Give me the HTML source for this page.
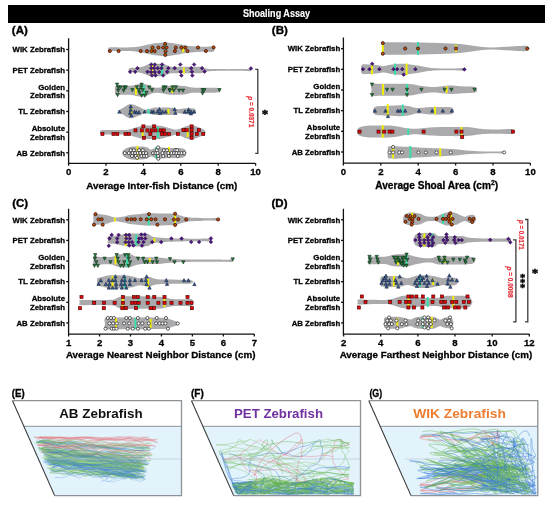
<!DOCTYPE html>
<html><head><meta charset="utf-8"><title>Shoaling Assay</title>
<style>html,body{margin:0;padding:0;background:#fff;width:550px;height:505px;overflow:hidden} svg{display:block}</style>
</head><body>
<svg width="550" height="505" viewBox="0 0 550 505">
<rect x="0" y="0" width="550" height="505" fill="#fff"/>
<rect x="8" y="5" width="537" height="18" fill="#000"/>
<text x="276.5" y="17.3" font-size="10.7" font-weight="bold" fill="#fff" stroke="#fff" stroke-width="0.15" text-anchor="middle" textLength="67.2" lengthAdjust="spacingAndGlyphs" font-family="'Liberation Sans', Arial, sans-serif" >Shoaling Assay</text>
<path d="M108.30,49.30 C108.47,49.00 107.35,47.80 109.30,47.50 C111.25,47.20 116.05,47.53 120.00,47.50 C123.95,47.47 129.55,47.50 133.00,47.30 C136.45,47.10 138.37,46.72 140.70,46.30 C143.03,45.88 145.12,45.22 147.00,44.80 C148.88,44.38 150.17,44.10 152.00,43.80 C153.83,43.50 155.83,43.23 158.00,43.00 C160.17,42.77 162.67,42.40 165.00,42.40 C167.33,42.40 169.83,42.72 172.00,43.00 C174.17,43.28 175.83,43.72 178.00,44.10 C180.17,44.48 183.00,44.97 185.00,45.30 C187.00,45.63 187.83,45.87 190.00,46.10 C192.17,46.33 195.33,46.58 198.00,46.70 C200.67,46.82 203.50,46.78 206.00,46.80 C208.50,46.82 211.53,46.38 213.00,46.80 C214.47,47.22 214.50,48.88 214.80,49.30 L214.80,49.30 C214.50,49.72 214.47,51.38 213.00,51.80 C211.53,52.22 208.50,51.78 206.00,51.80 C203.50,51.82 200.67,51.78 198.00,51.90 C195.33,52.02 192.17,52.27 190.00,52.50 C187.83,52.73 187.00,52.97 185.00,53.30 C183.00,53.63 180.17,54.12 178.00,54.50 C175.83,54.88 174.17,55.32 172.00,55.60 C169.83,55.88 167.33,56.20 165.00,56.20 C162.67,56.20 160.17,55.83 158.00,55.60 C155.83,55.37 153.83,55.10 152.00,54.80 C150.17,54.50 148.88,54.22 147.00,53.80 C145.12,53.38 143.03,52.72 140.70,52.30 C138.37,51.88 136.45,51.50 133.00,51.30 C129.55,51.10 123.95,51.13 120.00,51.10 C116.05,51.07 111.25,51.40 109.30,51.10 C107.35,50.80 108.47,49.60 108.30,49.30 Z" fill="#aaaaad"/>
<line x1="152" y1="46" x2="152" y2="53" stroke="#f4f000" stroke-width="1.9"/>
<line x1="183.3" y1="47.5" x2="183.3" y2="52.5" stroke="#f4f000" stroke-width="1.9"/>
<line x1="165.5" y1="43" x2="165.5" y2="56" stroke="#35e0a8" stroke-width="1.9"/>
<circle cx="109.8" cy="51.1" r="1.55" fill="#c44a0c" stroke="#2c0e00" stroke-width="0.75"/>
<circle cx="118.6" cy="51.1" r="1.55" fill="#c44a0c" stroke="#2c0e00" stroke-width="0.75"/>
<circle cx="140.7" cy="51.1" r="1.55" fill="#c44a0c" stroke="#2c0e00" stroke-width="0.75"/>
<circle cx="147" cy="51.1" r="1.55" fill="#c44a0c" stroke="#2c0e00" stroke-width="0.75"/>
<circle cx="151.5" cy="51.1" r="1.55" fill="#c44a0c" stroke="#2c0e00" stroke-width="0.75"/>
<circle cx="154.7" cy="51.1" r="1.55" fill="#c44a0c" stroke="#2c0e00" stroke-width="0.75"/>
<circle cx="152.5" cy="47.6" r="1.55" fill="#c44a0c" stroke="#2c0e00" stroke-width="0.75"/>
<circle cx="158.5" cy="47.6" r="1.55" fill="#c44a0c" stroke="#2c0e00" stroke-width="0.75"/>
<circle cx="163.2" cy="47.6" r="1.55" fill="#c44a0c" stroke="#2c0e00" stroke-width="0.75"/>
<circle cx="166.5" cy="47.6" r="1.55" fill="#c44a0c" stroke="#2c0e00" stroke-width="0.75"/>
<circle cx="165.1" cy="43.8" r="1.55" fill="#c44a0c" stroke="#2c0e00" stroke-width="0.75"/>
<circle cx="165.6" cy="51.3" r="1.55" fill="#c44a0c" stroke="#2c0e00" stroke-width="0.75"/>
<circle cx="165.3" cy="54.9" r="1.55" fill="#c44a0c" stroke="#2c0e00" stroke-width="0.75"/>
<circle cx="174.9" cy="51.1" r="1.55" fill="#c44a0c" stroke="#2c0e00" stroke-width="0.75"/>
<circle cx="175.8" cy="47.6" r="1.55" fill="#c44a0c" stroke="#2c0e00" stroke-width="0.75"/>
<circle cx="181.5" cy="47.6" r="1.55" fill="#c44a0c" stroke="#2c0e00" stroke-width="0.75"/>
<circle cx="185.3" cy="47.6" r="1.55" fill="#c44a0c" stroke="#2c0e00" stroke-width="0.75"/>
<circle cx="187.5" cy="51.1" r="1.55" fill="#c44a0c" stroke="#2c0e00" stroke-width="0.75"/>
<circle cx="198" cy="47.5" r="1.55" fill="#c44a0c" stroke="#2c0e00" stroke-width="0.75"/>
<circle cx="205.9" cy="51" r="1.55" fill="#c44a0c" stroke="#2c0e00" stroke-width="0.75"/>
<circle cx="213.6" cy="47.4" r="1.55" fill="#c44a0c" stroke="#2c0e00" stroke-width="0.75"/>
<path d="M128.50,70.00 C128.75,69.67 128.58,68.37 130.00,68.00 C131.42,67.63 134.83,68.05 137.00,67.80 C139.17,67.55 141.17,67.05 143.00,66.50 C144.83,65.95 146.50,64.95 148.00,64.50 C149.50,64.05 150.00,63.92 152.00,63.80 C154.00,63.68 157.83,63.68 160.00,63.80 C162.17,63.92 163.33,64.05 165.00,64.50 C166.67,64.95 168.33,66.12 170.00,66.50 C171.67,66.88 172.50,66.75 175.00,66.80 C177.50,66.85 181.67,66.80 185.00,66.80 C188.33,66.80 192.17,66.77 195.00,66.80 C197.83,66.83 200.17,66.72 202.00,67.00 C203.83,67.28 203.83,68.15 206.00,68.50 C208.17,68.85 208.50,69.00 215.00,69.10 C221.50,69.20 239.17,69.15 245.00,69.10 C250.83,69.05 248.92,68.65 250.00,68.80 C251.08,68.95 251.25,69.80 251.50,70.00 L251.50,70.00 C251.25,70.20 251.08,71.05 250.00,71.20 C248.92,71.35 250.83,70.95 245.00,70.90 C239.17,70.85 221.50,70.80 215.00,70.90 C208.50,71.00 208.17,71.15 206.00,71.50 C203.83,71.85 203.83,72.72 202.00,73.00 C200.17,73.28 197.83,73.17 195.00,73.20 C192.17,73.23 188.33,73.20 185.00,73.20 C181.67,73.20 177.50,73.15 175.00,73.20 C172.50,73.25 171.67,73.12 170.00,73.50 C168.33,73.88 166.67,75.05 165.00,75.50 C163.33,75.95 162.17,76.08 160.00,76.20 C157.83,76.32 154.00,76.32 152.00,76.20 C150.00,76.08 149.50,75.95 148.00,75.50 C146.50,75.05 144.83,74.05 143.00,73.50 C141.17,72.95 139.17,72.45 137.00,72.20 C134.83,71.95 131.42,72.37 130.00,72.00 C128.58,71.63 128.75,70.33 128.50,70.00 Z" fill="#aaaaad"/>
<line x1="151.9" y1="64" x2="151.9" y2="76" stroke="#f4f000" stroke-width="1.9"/>
<line x1="183.9" y1="67.5" x2="183.9" y2="73.5" stroke="#f4f000" stroke-width="1.9"/>
<line x1="162.1" y1="64" x2="162.1" y2="76" stroke="#35e0a8" stroke-width="1.9"/>
<path d="M130.1,69.95L131.95,71.8L130.1,73.64999999999999L128.25,71.8Z" fill="#4e1480" stroke="#22063c" stroke-width="0.5"/>
<path d="M135.2,69.95L137.04999999999998,71.8L135.2,73.64999999999999L133.35,71.8Z" fill="#4e1480" stroke="#22063c" stroke-width="0.5"/>
<path d="M137.4,66.35000000000001L139.25,68.2L137.4,70.05L135.55,68.2Z" fill="#4e1480" stroke="#22063c" stroke-width="0.5"/>
<path d="M147.5,69.95L149.35,71.8L147.5,73.64999999999999L145.65,71.8Z" fill="#4e1480" stroke="#22063c" stroke-width="0.5"/>
<path d="M151.2,62.65L153.04999999999998,64.5L151.2,66.35L149.35,64.5Z" fill="#4e1480" stroke="#22063c" stroke-width="0.5"/>
<path d="M154.8,62.65L156.65,64.5L154.8,66.35L152.95000000000002,64.5Z" fill="#4e1480" stroke="#22063c" stroke-width="0.5"/>
<path d="M151.2,66.35000000000001L153.04999999999998,68.2L151.2,70.05L149.35,68.2Z" fill="#4e1480" stroke="#22063c" stroke-width="0.5"/>
<path d="M154.1,66.35000000000001L155.95,68.2L154.1,70.05L152.25,68.2Z" fill="#4e1480" stroke="#22063c" stroke-width="0.5"/>
<path d="M151.2,70.25L153.04999999999998,72.1L151.2,73.94999999999999L149.35,72.1Z" fill="#4e1480" stroke="#22063c" stroke-width="0.5"/>
<path d="M154.8,70.25L156.65,72.1L154.8,73.94999999999999L152.95000000000002,72.1Z" fill="#4e1480" stroke="#22063c" stroke-width="0.5"/>
<path d="M151.9,73.65L153.75,75.5L151.9,77.35L150.05,75.5Z" fill="#4e1480" stroke="#22063c" stroke-width="0.5"/>
<path d="M155.5,73.65L157.35,75.5L155.5,77.35L153.65,75.5Z" fill="#4e1480" stroke="#22063c" stroke-width="0.5"/>
<path d="M157.7,66.35000000000001L159.54999999999998,68.2L157.7,70.05L155.85,68.2Z" fill="#4e1480" stroke="#22063c" stroke-width="0.5"/>
<path d="M159.2,70.25L161.04999999999998,72.1L159.2,73.94999999999999L157.35,72.1Z" fill="#4e1480" stroke="#22063c" stroke-width="0.5"/>
<path d="M162.1,62.65L163.95,64.5L162.1,66.35L160.25,64.5Z" fill="#4e1480" stroke="#22063c" stroke-width="0.5"/>
<path d="M161.4,66.35000000000001L163.25,68.2L161.4,70.05L159.55,68.2Z" fill="#4e1480" stroke="#22063c" stroke-width="0.5"/>
<path d="M163.1,73.65L164.95,75.5L163.1,77.35L161.25,75.5Z" fill="#4e1480" stroke="#22063c" stroke-width="0.5"/>
<path d="M167.2,69.95L169.04999999999998,71.8L167.2,73.64999999999999L165.35,71.8Z" fill="#4e1480" stroke="#22063c" stroke-width="0.5"/>
<path d="M168.3,66.35000000000001L170.15,68.2L168.3,70.05L166.45000000000002,68.2Z" fill="#4e1480" stroke="#22063c" stroke-width="0.5"/>
<path d="M174.7,66.35000000000001L176.54999999999998,68.2L174.7,70.05L172.85,68.2Z" fill="#4e1480" stroke="#22063c" stroke-width="0.5"/>
<path d="M180.3,62.65L182.15,64.5L180.3,66.35L178.45000000000002,64.5Z" fill="#4e1480" stroke="#22063c" stroke-width="0.5"/>
<path d="M180.6,69.95L182.45,71.8L180.6,73.64999999999999L178.75,71.8Z" fill="#4e1480" stroke="#22063c" stroke-width="0.5"/>
<path d="M181.4,73.65L183.25,75.5L181.4,77.35L179.55,75.5Z" fill="#4e1480" stroke="#22063c" stroke-width="0.5"/>
<path d="M191.2,66.35000000000001L193.04999999999998,68.2L191.2,70.05L189.35,68.2Z" fill="#4e1480" stroke="#22063c" stroke-width="0.5"/>
<path d="M191.9,69.95L193.75,71.8L191.9,73.64999999999999L190.05,71.8Z" fill="#4e1480" stroke="#22063c" stroke-width="0.5"/>
<path d="M194.1,62.65L195.95,64.5L194.1,66.35L192.25,64.5Z" fill="#4e1480" stroke="#22063c" stroke-width="0.5"/>
<path d="M192.3,73.65L194.15,75.5L192.3,77.35L190.45000000000002,75.5Z" fill="#4e1480" stroke="#22063c" stroke-width="0.5"/>
<path d="M202.1,66.35000000000001L203.95,68.2L202.1,70.05L200.25,68.2Z" fill="#4e1480" stroke="#22063c" stroke-width="0.5"/>
<path d="M204.6,69.75L206.45,71.6L204.6,73.44999999999999L202.75,71.6Z" fill="#4e1480" stroke="#22063c" stroke-width="0.5"/>
<path d="M250.9,66.55000000000001L252.75,68.4L250.9,70.25L249.05,68.4Z" fill="#4e1480" stroke="#22063c" stroke-width="0.5"/>
<path d="M115.00,90.20 C115.17,89.50 114.33,86.75 116.00,86.00 C117.67,85.25 122.33,85.78 125.00,85.70 C127.67,85.62 129.83,85.75 132.00,85.50 C134.17,85.25 136.33,84.50 138.00,84.20 C139.67,83.90 140.50,83.62 142.00,83.70 C143.50,83.78 145.33,84.15 147.00,84.70 C148.67,85.25 150.33,86.50 152.00,87.00 C153.67,87.50 155.17,87.72 157.00,87.70 C158.83,87.68 160.83,87.23 163.00,86.90 C165.17,86.57 167.17,85.90 170.00,85.70 C172.83,85.50 177.33,85.62 180.00,85.70 C182.67,85.78 184.00,85.88 186.00,86.20 C188.00,86.52 189.67,87.35 192.00,87.60 C194.33,87.85 195.67,87.65 200.00,87.70 C204.33,87.75 214.58,87.48 218.00,87.90 C221.42,88.32 220.08,89.82 220.50,90.20 L220.50,90.20 C220.08,90.58 221.42,92.08 218.00,92.50 C214.58,92.92 204.33,92.65 200.00,92.70 C195.67,92.75 194.33,92.55 192.00,92.80 C189.67,93.05 188.00,93.88 186.00,94.20 C184.00,94.52 182.67,94.62 180.00,94.70 C177.33,94.78 172.83,94.90 170.00,94.70 C167.17,94.50 165.17,93.83 163.00,93.50 C160.83,93.17 158.83,92.72 157.00,92.70 C155.17,92.68 153.67,92.90 152.00,93.40 C150.33,93.90 148.67,95.15 147.00,95.70 C145.33,96.25 143.50,96.62 142.00,96.70 C140.50,96.78 139.67,96.50 138.00,96.20 C136.33,95.90 134.17,95.15 132.00,94.90 C129.83,94.65 127.67,94.78 125.00,94.70 C122.33,94.62 117.67,95.15 116.00,94.40 C114.33,93.65 115.17,90.90 115.00,90.20 Z" fill="#aaaaad"/>
<line x1="136" y1="86" x2="136" y2="95" stroke="#f4f000" stroke-width="1.9"/>
<line x1="172.5" y1="87" x2="172.5" y2="93" stroke="#f4f000" stroke-width="1.9"/>
<line x1="144" y1="85" x2="144" y2="95" stroke="#35e0a8" stroke-width="1.9"/>
<path d="M115.39999999999999,83.055L118.8,83.055L117.1,86.285Z" fill="#237a38" stroke="#062010" stroke-width="0.5"/>
<path d="M116.5,85.855L119.9,85.855L118.2,89.085Z" fill="#237a38" stroke="#062010" stroke-width="0.5"/>
<path d="M118.7,85.855L122.10000000000001,85.855L120.4,89.085Z" fill="#237a38" stroke="#062010" stroke-width="0.5"/>
<path d="M116.5,89.055L119.9,89.055L118.2,92.285Z" fill="#237a38" stroke="#062010" stroke-width="0.5"/>
<path d="M122.5,85.855L125.9,85.855L124.2,89.085Z" fill="#237a38" stroke="#062010" stroke-width="0.5"/>
<path d="M124.1,85.855L127.5,85.855L125.8,89.085Z" fill="#237a38" stroke="#062010" stroke-width="0.5"/>
<path d="M121.89999999999999,89.055L125.3,89.055L123.6,92.285Z" fill="#237a38" stroke="#062010" stroke-width="0.5"/>
<path d="M115.89999999999999,93.45500000000001L119.3,93.45500000000001L117.6,96.685Z" fill="#237a38" stroke="#062010" stroke-width="0.5"/>
<path d="M130.70000000000002,88.555L134.1,88.555L132.4,91.785Z" fill="#237a38" stroke="#062010" stroke-width="0.5"/>
<path d="M135.0,85.855L138.39999999999998,85.855L136.7,89.085Z" fill="#237a38" stroke="#062010" stroke-width="0.5"/>
<path d="M137.20000000000002,88.555L140.6,88.555L138.9,91.785Z" fill="#237a38" stroke="#062010" stroke-width="0.5"/>
<path d="M139.9,83.055L143.29999999999998,83.055L141.6,86.285Z" fill="#237a38" stroke="#062010" stroke-width="0.5"/>
<path d="M139.4,85.855L142.79999999999998,85.855L141.1,89.085Z" fill="#237a38" stroke="#062010" stroke-width="0.5"/>
<path d="M141.0,88.555L144.39999999999998,88.555L142.7,91.785Z" fill="#237a38" stroke="#062010" stroke-width="0.5"/>
<path d="M137.8,91.25500000000001L141.2,91.25500000000001L139.5,94.485Z" fill="#237a38" stroke="#062010" stroke-width="0.5"/>
<path d="M139.9,94.055L143.29999999999998,94.055L141.6,97.285Z" fill="#237a38" stroke="#062010" stroke-width="0.5"/>
<path d="M143.20000000000002,94.055L146.6,94.055L144.9,97.285Z" fill="#237a38" stroke="#062010" stroke-width="0.5"/>
<path d="M144.8,91.25500000000001L148.2,91.25500000000001L146.5,94.485Z" fill="#237a38" stroke="#062010" stroke-width="0.5"/>
<path d="M147.60000000000002,85.855L151.0,85.855L149.3,89.085Z" fill="#237a38" stroke="#062010" stroke-width="0.5"/>
<path d="M150.3,88.555L153.7,88.555L152,91.785Z" fill="#237a38" stroke="#062010" stroke-width="0.5"/>
<path d="M161.8,85.855L165.2,85.855L163.5,89.085Z" fill="#237a38" stroke="#062010" stroke-width="0.5"/>
<path d="M163.9,85.855L167.29999999999998,85.855L165.6,89.085Z" fill="#237a38" stroke="#062010" stroke-width="0.5"/>
<path d="M161.8,89.055L165.2,89.055L163.5,92.285Z" fill="#237a38" stroke="#062010" stroke-width="0.5"/>
<path d="M167.8,88.555L171.2,88.555L169.5,91.785Z" fill="#237a38" stroke="#062010" stroke-width="0.5"/>
<path d="M168.20000000000002,89.055L171.6,89.055L169.9,92.285Z" fill="#237a38" stroke="#062010" stroke-width="0.5"/>
<path d="M170.9,85.855L174.29999999999998,85.855L172.6,89.085Z" fill="#237a38" stroke="#062010" stroke-width="0.5"/>
<path d="M174.20000000000002,85.855L177.6,85.855L175.9,89.085Z" fill="#237a38" stroke="#062010" stroke-width="0.5"/>
<path d="M172.0,89.055L175.39999999999998,89.055L173.7,92.285Z" fill="#237a38" stroke="#062010" stroke-width="0.5"/>
<path d="M177.5,89.055L180.89999999999998,89.055L179.2,92.285Z" fill="#237a38" stroke="#062010" stroke-width="0.5"/>
<path d="M181.3,89.055L184.7,89.055L183,92.285Z" fill="#237a38" stroke="#062010" stroke-width="0.5"/>
<path d="M200.9,88.555L204.29999999999998,88.555L202.6,91.785Z" fill="#237a38" stroke="#062010" stroke-width="0.5"/>
<path d="M200.9,91.855L204.29999999999998,91.855L202.6,95.085Z" fill="#237a38" stroke="#062010" stroke-width="0.5"/>
<path d="M202.60000000000002,88.555L206.0,88.555L204.3,91.785Z" fill="#237a38" stroke="#062010" stroke-width="0.5"/>
<path d="M217.8,88.555L221.2,88.555L219.5,91.785Z" fill="#237a38" stroke="#062010" stroke-width="0.5"/>
<path d="M118.00,111.30 C118.25,111.05 118.50,110.47 119.50,109.80 C120.50,109.13 122.58,108.13 124.00,107.30 C125.42,106.47 126.83,105.30 128.00,104.80 C129.17,104.30 129.83,104.22 131.00,104.30 C132.17,104.38 133.50,104.80 135.00,105.30 C136.50,105.80 138.33,106.57 140.00,107.30 C141.67,108.03 143.33,109.45 145.00,109.70 C146.67,109.95 148.33,109.17 150.00,108.80 C151.67,108.43 152.50,107.72 155.00,107.50 C157.50,107.28 162.17,107.45 165.00,107.50 C167.83,107.55 169.83,107.50 172.00,107.80 C174.17,108.10 176.33,109.13 178.00,109.30 C179.67,109.47 180.67,108.97 182.00,108.80 C183.33,108.63 184.00,108.35 186.00,108.30 C188.00,108.25 192.33,108.00 194.00,108.50 C195.67,109.00 195.67,110.83 196.00,111.30 L196.00,111.30 C195.67,111.77 195.67,113.60 194.00,114.10 C192.33,114.60 188.00,114.35 186.00,114.30 C184.00,114.25 183.33,113.97 182.00,113.80 C180.67,113.63 179.67,113.13 178.00,113.30 C176.33,113.47 174.17,114.50 172.00,114.80 C169.83,115.10 167.83,115.05 165.00,115.10 C162.17,115.15 157.50,115.32 155.00,115.10 C152.50,114.88 151.67,114.17 150.00,113.80 C148.33,113.43 146.67,112.65 145.00,112.90 C143.33,113.15 141.67,114.57 140.00,115.30 C138.33,116.03 136.50,116.80 135.00,117.30 C133.50,117.80 132.17,118.22 131.00,118.30 C129.83,118.38 129.17,118.30 128.00,117.80 C126.83,117.30 125.42,116.13 124.00,115.30 C122.58,114.47 120.50,113.47 119.50,112.80 C118.50,112.13 118.25,111.55 118.00,111.30 Z" fill="#aaaaad"/>
<line x1="131.1" y1="108" x2="131.1" y2="115" stroke="#f4f000" stroke-width="1.9"/>
<line x1="168.3" y1="109" x2="168.3" y2="114" stroke="#f4f000" stroke-width="1.9"/>
<line x1="148.5" y1="109" x2="148.5" y2="114" stroke="#35e0a8" stroke-width="1.9"/>
<path d="M117.7,113.24499999999999L121.10000000000001,113.24499999999999L119.4,110.015Z" fill="#36598f" stroke="#0a1a36" stroke-width="0.5"/>
<path d="M129.0,108.04499999999999L132.39999999999998,108.04499999999999L130.7,104.815Z" fill="#36598f" stroke="#0a1a36" stroke-width="0.5"/>
<path d="M129.0,111.24499999999999L132.39999999999998,111.24499999999999L130.7,108.015Z" fill="#36598f" stroke="#0a1a36" stroke-width="0.5"/>
<path d="M128.4,114.445L131.79999999999998,114.445L130.1,111.215Z" fill="#36598f" stroke="#0a1a36" stroke-width="0.5"/>
<path d="M129.70000000000002,116.945L133.1,116.945L131.4,113.715Z" fill="#36598f" stroke="#0a1a36" stroke-width="0.5"/>
<path d="M132.8,113.145L136.2,113.145L134.5,109.915Z" fill="#36598f" stroke="#0a1a36" stroke-width="0.5"/>
<path d="M134.8,113.845L138.2,113.845L136.5,110.61500000000001Z" fill="#36598f" stroke="#0a1a36" stroke-width="0.5"/>
<path d="M137.3,113.845L140.7,113.845L139,110.61500000000001Z" fill="#36598f" stroke="#0a1a36" stroke-width="0.5"/>
<path d="M143.0,113.145L146.39999999999998,113.145L144.7,109.915Z" fill="#36598f" stroke="#0a1a36" stroke-width="0.5"/>
<path d="M150.0,113.145L153.39999999999998,113.145L151.7,109.915Z" fill="#36598f" stroke="#0a1a36" stroke-width="0.5"/>
<path d="M151.9,113.145L155.29999999999998,113.145L153.6,109.915Z" fill="#36598f" stroke="#0a1a36" stroke-width="0.5"/>
<path d="M155.8,113.145L159.2,113.145L157.5,109.915Z" fill="#36598f" stroke="#0a1a36" stroke-width="0.5"/>
<path d="M157.70000000000002,110.645L161.1,110.645L159.4,107.415Z" fill="#36598f" stroke="#0a1a36" stroke-width="0.5"/>
<path d="M158.3,114.445L161.7,114.445L160,111.215Z" fill="#36598f" stroke="#0a1a36" stroke-width="0.5"/>
<path d="M160.8,113.145L164.2,113.145L162.5,109.915Z" fill="#36598f" stroke="#0a1a36" stroke-width="0.5"/>
<path d="M164.0,113.145L167.39999999999998,113.145L165.7,109.915Z" fill="#36598f" stroke="#0a1a36" stroke-width="0.5"/>
<path d="M172.9,110.645L176.29999999999998,110.645L174.6,107.415Z" fill="#36598f" stroke="#0a1a36" stroke-width="0.5"/>
<path d="M173.60000000000002,114.445L177.0,114.445L175.3,111.215Z" fill="#36598f" stroke="#0a1a36" stroke-width="0.5"/>
<path d="M183.10000000000002,113.145L186.5,113.145L184.8,109.915Z" fill="#36598f" stroke="#0a1a36" stroke-width="0.5"/>
<path d="M186.9,110.945L190.29999999999998,110.945L188.6,107.715Z" fill="#36598f" stroke="#0a1a36" stroke-width="0.5"/>
<path d="M186.5,113.145L189.89999999999998,113.145L188.2,109.915Z" fill="#36598f" stroke="#0a1a36" stroke-width="0.5"/>
<path d="M189.20000000000002,114.945L192.6,114.945L190.9,111.715Z" fill="#36598f" stroke="#0a1a36" stroke-width="0.5"/>
<path d="M192.4,113.145L195.79999999999998,113.145L194.1,109.915Z" fill="#36598f" stroke="#0a1a36" stroke-width="0.5"/>
<path d="M189.5,113.145L192.89999999999998,113.145L191.2,109.915Z" fill="#36598f" stroke="#0a1a36" stroke-width="0.5"/>
<path d="M100.50,132.30 C100.67,131.97 99.08,130.67 101.50,130.30 C103.92,129.93 110.58,130.20 115.00,130.10 C119.42,130.00 124.67,130.08 128.00,129.70 C131.33,129.32 132.67,128.45 135.00,127.80 C137.33,127.15 139.50,126.18 142.00,125.80 C144.50,125.42 147.33,125.55 150.00,125.50 C152.67,125.45 155.83,125.37 158.00,125.50 C160.17,125.63 161.33,125.92 163.00,126.30 C164.67,126.68 166.00,127.23 168.00,127.80 C170.00,128.37 173.00,129.53 175.00,129.70 C177.00,129.87 178.17,129.37 180.00,128.80 C181.83,128.23 184.17,126.88 186.00,126.30 C187.83,125.72 189.33,125.30 191.00,125.30 C192.67,125.30 194.33,125.80 196.00,126.30 C197.67,126.80 199.67,127.72 201.00,128.30 C202.33,128.88 203.25,129.13 204.00,129.80 C204.75,130.47 205.25,131.88 205.50,132.30 L205.50,132.30 C205.25,132.72 204.75,134.13 204.00,134.80 C203.25,135.47 202.33,135.72 201.00,136.30 C199.67,136.88 197.67,137.80 196.00,138.30 C194.33,138.80 192.67,139.30 191.00,139.30 C189.33,139.30 187.83,138.88 186.00,138.30 C184.17,137.72 181.83,136.37 180.00,135.80 C178.17,135.23 177.00,134.73 175.00,134.90 C173.00,135.07 170.00,136.23 168.00,136.80 C166.00,137.37 164.67,137.92 163.00,138.30 C161.33,138.68 160.17,138.97 158.00,139.10 C155.83,139.23 152.67,139.15 150.00,139.10 C147.33,139.05 144.50,139.18 142.00,138.80 C139.50,138.42 137.33,137.45 135.00,136.80 C132.67,136.15 131.33,135.28 128.00,134.90 C124.67,134.52 119.42,134.60 115.00,134.50 C110.58,134.40 103.92,134.67 101.50,134.30 C99.08,133.93 100.67,132.63 100.50,132.30 Z" fill="#aaaaad"/>
<line x1="142.7" y1="129" x2="142.7" y2="137" stroke="#f4f000" stroke-width="1.9"/>
<line x1="187.7" y1="128" x2="187.7" y2="137" stroke="#f4f000" stroke-width="1.9"/>
<line x1="158" y1="127" x2="158" y2="138" stroke="#35e0a8" stroke-width="1.9"/>
<rect x="100.85" y="132.45" width="3.1" height="3.1" fill="#e00808" stroke="#4a0000" stroke-width="0.6"/>
<rect x="111.95" y="132.45" width="3.1" height="3.1" fill="#e00808" stroke="#4a0000" stroke-width="0.6"/>
<rect x="115.75" y="132.45" width="3.1" height="3.1" fill="#e00808" stroke="#4a0000" stroke-width="0.6"/>
<rect x="123.95" y="132.45" width="3.1" height="3.1" fill="#e00808" stroke="#4a0000" stroke-width="0.6"/>
<rect x="127.55" y="132.45" width="3.1" height="3.1" fill="#e00808" stroke="#4a0000" stroke-width="0.6"/>
<rect x="133.95" y="128.85" width="3.1" height="3.1" fill="#e00808" stroke="#4a0000" stroke-width="0.6"/>
<rect x="141.85" y="124.85" width="3.1" height="3.1" fill="#e00808" stroke="#4a0000" stroke-width="0.6"/>
<rect x="140.25" y="128.85" width="3.1" height="3.1" fill="#e00808" stroke="#4a0000" stroke-width="0.6"/>
<rect x="145.85" y="128.85" width="3.1" height="3.1" fill="#e00808" stroke="#4a0000" stroke-width="0.6"/>
<rect x="142.45" y="136.25" width="3.1" height="3.1" fill="#e00808" stroke="#4a0000" stroke-width="0.6"/>
<rect x="148.85" y="132.45" width="3.1" height="3.1" fill="#e00808" stroke="#4a0000" stroke-width="0.6"/>
<rect x="150.05" y="128.85" width="3.1" height="3.1" fill="#e00808" stroke="#4a0000" stroke-width="0.6"/>
<rect x="152.65" y="124.85" width="3.1" height="3.1" fill="#e00808" stroke="#4a0000" stroke-width="0.6"/>
<rect x="153.95" y="128.85" width="3.1" height="3.1" fill="#e00808" stroke="#4a0000" stroke-width="0.6"/>
<rect x="152.65" y="136.25" width="3.1" height="3.1" fill="#e00808" stroke="#4a0000" stroke-width="0.6"/>
<rect x="158.95" y="128.85" width="3.1" height="3.1" fill="#e00808" stroke="#4a0000" stroke-width="0.6"/>
<rect x="162.15" y="128.85" width="3.1" height="3.1" fill="#e00808" stroke="#4a0000" stroke-width="0.6"/>
<rect x="160.25" y="132.45" width="3.1" height="3.1" fill="#e00808" stroke="#4a0000" stroke-width="0.6"/>
<rect x="163.55" y="132.45" width="3.1" height="3.1" fill="#e00808" stroke="#4a0000" stroke-width="0.6"/>
<rect x="167.35" y="132.45" width="3.1" height="3.1" fill="#e00808" stroke="#4a0000" stroke-width="0.6"/>
<rect x="176.25" y="132.45" width="3.1" height="3.1" fill="#e00808" stroke="#4a0000" stroke-width="0.6"/>
<rect x="181.95" y="128.65" width="3.1" height="3.1" fill="#e00808" stroke="#4a0000" stroke-width="0.6"/>
<rect x="185.15" y="128.65" width="3.1" height="3.1" fill="#e00808" stroke="#4a0000" stroke-width="0.6"/>
<rect x="190.05" y="124.85" width="3.1" height="3.1" fill="#e00808" stroke="#4a0000" stroke-width="0.6"/>
<rect x="190.05" y="128.65" width="3.1" height="3.1" fill="#e00808" stroke="#4a0000" stroke-width="0.6"/>
<rect x="190.05" y="132.45" width="3.1" height="3.1" fill="#e00808" stroke="#4a0000" stroke-width="0.6"/>
<rect x="190.05" y="136.25" width="3.1" height="3.1" fill="#e00808" stroke="#4a0000" stroke-width="0.6"/>
<rect x="195.35" y="132.45" width="3.1" height="3.1" fill="#e00808" stroke="#4a0000" stroke-width="0.6"/>
<rect x="197.25" y="128.65" width="3.1" height="3.1" fill="#e00808" stroke="#4a0000" stroke-width="0.6"/>
<rect x="201.75" y="132.45" width="3.1" height="3.1" fill="#e00808" stroke="#4a0000" stroke-width="0.6"/>
<path d="M122.30,153.10 C122.50,152.57 122.22,150.93 123.50,149.90 C124.78,148.87 127.58,147.45 130.00,146.90 C132.42,146.35 135.33,146.57 138.00,146.60 C140.67,146.63 143.92,146.60 146.00,147.10 C148.08,147.60 149.17,149.35 150.50,149.60 C151.83,149.85 152.75,149.18 154.00,148.60 C155.25,148.02 156.67,146.27 158.00,146.10 C159.33,145.93 160.00,147.27 162.00,147.60 C164.00,147.93 167.00,148.02 170.00,148.10 C173.00,148.18 177.50,147.85 180.00,148.10 C182.50,148.35 183.92,148.77 185.00,149.60 C186.08,150.43 186.25,152.52 186.50,153.10 L186.50,153.10 C186.25,153.68 186.08,155.77 185.00,156.60 C183.92,157.43 182.50,157.85 180.00,158.10 C177.50,158.35 173.00,158.02 170.00,158.10 C167.00,158.18 164.00,158.27 162.00,158.60 C160.00,158.93 159.33,160.27 158.00,160.10 C156.67,159.93 155.25,158.18 154.00,157.60 C152.75,157.02 151.83,156.35 150.50,156.60 C149.17,156.85 148.08,158.60 146.00,159.10 C143.92,159.60 140.67,159.57 138.00,159.60 C135.33,159.63 132.42,159.85 130.00,159.30 C127.58,158.75 124.78,157.33 123.50,156.30 C122.22,155.27 122.50,153.63 122.30,153.10 Z" fill="#aaaaad"/>
<line x1="137.5" y1="146" x2="137.5" y2="160" stroke="#f4f000" stroke-width="1.9"/>
<line x1="168.9" y1="147" x2="168.9" y2="157" stroke="#f4f000" stroke-width="1.9"/>
<line x1="156.2" y1="147" x2="156.2" y2="158" stroke="#35e0a8" stroke-width="1.9"/>
<circle cx="124.8" cy="153.1" r="1.55" fill="#ffffff" stroke="#1e1e1e" stroke-width="0.7"/>
<circle cx="128.8" cy="153.1" r="1.55" fill="#ffffff" stroke="#1e1e1e" stroke-width="0.7"/>
<circle cx="130.7" cy="150.2" r="1.55" fill="#ffffff" stroke="#1e1e1e" stroke-width="0.7"/>
<circle cx="132.6" cy="153.1" r="1.55" fill="#ffffff" stroke="#1e1e1e" stroke-width="0.7"/>
<circle cx="133.9" cy="150.2" r="1.55" fill="#ffffff" stroke="#1e1e1e" stroke-width="0.7"/>
<circle cx="132" cy="156" r="1.55" fill="#ffffff" stroke="#1e1e1e" stroke-width="0.7"/>
<circle cx="135.2" cy="153.1" r="1.55" fill="#ffffff" stroke="#1e1e1e" stroke-width="0.7"/>
<circle cx="135.8" cy="156" r="1.55" fill="#ffffff" stroke="#1e1e1e" stroke-width="0.7"/>
<circle cx="137.7" cy="153.1" r="1.55" fill="#ffffff" stroke="#1e1e1e" stroke-width="0.7"/>
<circle cx="139" cy="150.2" r="1.55" fill="#ffffff" stroke="#1e1e1e" stroke-width="0.7"/>
<circle cx="140.3" cy="153.1" r="1.55" fill="#ffffff" stroke="#1e1e1e" stroke-width="0.7"/>
<circle cx="141.5" cy="156" r="1.55" fill="#ffffff" stroke="#1e1e1e" stroke-width="0.7"/>
<circle cx="142.8" cy="150.2" r="1.55" fill="#ffffff" stroke="#1e1e1e" stroke-width="0.7"/>
<circle cx="143.5" cy="153.1" r="1.55" fill="#ffffff" stroke="#1e1e1e" stroke-width="0.7"/>
<circle cx="144.1" cy="156" r="1.55" fill="#ffffff" stroke="#1e1e1e" stroke-width="0.7"/>
<circle cx="146" cy="153.1" r="1.55" fill="#ffffff" stroke="#1e1e1e" stroke-width="0.7"/>
<circle cx="146.6" cy="156" r="1.55" fill="#ffffff" stroke="#1e1e1e" stroke-width="0.7"/>
<circle cx="137.1" cy="157.8" r="1.55" fill="#ffffff" stroke="#1e1e1e" stroke-width="0.7"/>
<circle cx="153" cy="153.1" r="1.55" fill="#ffffff" stroke="#1e1e1e" stroke-width="0.7"/>
<circle cx="155.5" cy="153.1" r="1.55" fill="#ffffff" stroke="#1e1e1e" stroke-width="0.7"/>
<circle cx="156.8" cy="150.2" r="1.55" fill="#ffffff" stroke="#1e1e1e" stroke-width="0.7"/>
<circle cx="158.1" cy="147.4" r="1.55" fill="#ffffff" stroke="#1e1e1e" stroke-width="0.7"/>
<circle cx="157.5" cy="153.1" r="1.55" fill="#ffffff" stroke="#1e1e1e" stroke-width="0.7"/>
<circle cx="158.1" cy="156" r="1.55" fill="#ffffff" stroke="#1e1e1e" stroke-width="0.7"/>
<circle cx="158.3" cy="158.8" r="1.55" fill="#ffffff" stroke="#1e1e1e" stroke-width="0.7"/>
<circle cx="162.5" cy="153.1" r="1.55" fill="#ffffff" stroke="#1e1e1e" stroke-width="0.7"/>
<circle cx="163.8" cy="150.2" r="1.55" fill="#ffffff" stroke="#1e1e1e" stroke-width="0.7"/>
<circle cx="163.2" cy="156" r="1.55" fill="#ffffff" stroke="#1e1e1e" stroke-width="0.7"/>
<circle cx="167" cy="150.2" r="1.55" fill="#ffffff" stroke="#1e1e1e" stroke-width="0.7"/>
<circle cx="168.3" cy="153.1" r="1.55" fill="#ffffff" stroke="#1e1e1e" stroke-width="0.7"/>
<circle cx="168.9" cy="156" r="1.55" fill="#ffffff" stroke="#1e1e1e" stroke-width="0.7"/>
<circle cx="171.5" cy="153.1" r="1.55" fill="#ffffff" stroke="#1e1e1e" stroke-width="0.7"/>
<circle cx="174" cy="153.1" r="1.55" fill="#ffffff" stroke="#1e1e1e" stroke-width="0.7"/>
<circle cx="175.3" cy="150.2" r="1.55" fill="#ffffff" stroke="#1e1e1e" stroke-width="0.7"/>
<circle cx="176.5" cy="153.1" r="1.55" fill="#ffffff" stroke="#1e1e1e" stroke-width="0.7"/>
<circle cx="177.2" cy="150.2" r="1.55" fill="#ffffff" stroke="#1e1e1e" stroke-width="0.7"/>
<circle cx="177.8" cy="156" r="1.55" fill="#ffffff" stroke="#1e1e1e" stroke-width="0.7"/>
<circle cx="179.1" cy="153.1" r="1.55" fill="#ffffff" stroke="#1e1e1e" stroke-width="0.7"/>
<circle cx="181.6" cy="153.1" r="1.55" fill="#ffffff" stroke="#1e1e1e" stroke-width="0.7"/>
<circle cx="184.2" cy="153.1" r="1.55" fill="#ffffff" stroke="#1e1e1e" stroke-width="0.7"/>
<g stroke="#111" stroke-width="1.3" fill="none">
<path d="M68.6,38.2 L68.6,163.3 L255.6,163.3"/>
<line x1="66.19999999999999" y1="49.5" x2="68.6" y2="49.5"/>
<line x1="66.19999999999999" y1="70.16" x2="68.6" y2="70.16"/>
<line x1="66.19999999999999" y1="90.82" x2="68.6" y2="90.82"/>
<line x1="66.19999999999999" y1="111.48" x2="68.6" y2="111.48"/>
<line x1="66.19999999999999" y1="132.14" x2="68.6" y2="132.14"/>
<line x1="66.19999999999999" y1="152.8" x2="68.6" y2="152.8"/>
<line x1="68.6" y1="163.3" x2="68.6" y2="165.70000000000002"/>
<line x1="106.0" y1="163.3" x2="106.0" y2="165.70000000000002"/>
<line x1="143.39999999999998" y1="163.3" x2="143.39999999999998" y2="165.70000000000002"/>
<line x1="180.79999999999998" y1="163.3" x2="180.79999999999998" y2="165.70000000000002"/>
<line x1="218.2" y1="163.3" x2="218.2" y2="165.70000000000002"/>
<line x1="255.6" y1="163.3" x2="255.6" y2="165.70000000000002"/>
</g>
<text x="65" y="52.2" font-size="7.8" font-weight="bold" fill="#000" stroke="#000" stroke-width="0.28" text-anchor="end" font-family="'Liberation Sans', Arial, sans-serif" >WIK Zebrafish</text>
<text x="65" y="72.86" font-size="7.8" font-weight="bold" fill="#000" stroke="#000" stroke-width="0.28" text-anchor="end" font-family="'Liberation Sans', Arial, sans-serif" >PET Zebrafish</text>
<text x="65" y="89.52" font-size="7.8" font-weight="bold" fill="#000" stroke="#000" stroke-width="0.28" text-anchor="end" font-family="'Liberation Sans', Arial, sans-serif" >Golden</text>
<text x="65" y="98.32" font-size="7.8" font-weight="bold" fill="#000" stroke="#000" stroke-width="0.28" text-anchor="end" font-family="'Liberation Sans', Arial, sans-serif" >Zebrafish</text>
<text x="65" y="114.18" font-size="7.8" font-weight="bold" fill="#000" stroke="#000" stroke-width="0.28" text-anchor="end" font-family="'Liberation Sans', Arial, sans-serif" >TL Zebrafish</text>
<text x="65" y="130.83999999999997" font-size="7.8" font-weight="bold" fill="#000" stroke="#000" stroke-width="0.28" text-anchor="end" font-family="'Liberation Sans', Arial, sans-serif" >Absolute</text>
<text x="65" y="139.64" font-size="7.8" font-weight="bold" fill="#000" stroke="#000" stroke-width="0.28" text-anchor="end" font-family="'Liberation Sans', Arial, sans-serif" >Zebrafish</text>
<text x="65" y="155.5" font-size="7.8" font-weight="bold" fill="#000" stroke="#000" stroke-width="0.28" text-anchor="end" font-family="'Liberation Sans', Arial, sans-serif" >AB Zebrafish</text>
<text x="68.6" y="175.20000000000002" font-size="9.6" font-weight="bold" fill="#000" stroke="#000" stroke-width="0.28" text-anchor="middle" font-family="'Liberation Sans', Arial, sans-serif" >0</text>
<text x="106.0" y="175.20000000000002" font-size="9.6" font-weight="bold" fill="#000" stroke="#000" stroke-width="0.28" text-anchor="middle" font-family="'Liberation Sans', Arial, sans-serif" >2</text>
<text x="143.39999999999998" y="175.20000000000002" font-size="9.6" font-weight="bold" fill="#000" stroke="#000" stroke-width="0.28" text-anchor="middle" font-family="'Liberation Sans', Arial, sans-serif" >4</text>
<text x="180.79999999999998" y="175.20000000000002" font-size="9.6" font-weight="bold" fill="#000" stroke="#000" stroke-width="0.28" text-anchor="middle" font-family="'Liberation Sans', Arial, sans-serif" >6</text>
<text x="218.2" y="175.20000000000002" font-size="9.6" font-weight="bold" fill="#000" stroke="#000" stroke-width="0.28" text-anchor="middle" font-family="'Liberation Sans', Arial, sans-serif" >8</text>
<text x="255.6" y="175.20000000000002" font-size="9.6" font-weight="bold" fill="#000" stroke="#000" stroke-width="0.28" text-anchor="middle" font-family="'Liberation Sans', Arial, sans-serif" >10</text>
<text x="161.8" y="189.2" font-size="9.8" font-weight="bold" fill="#000" stroke="#000" stroke-width="0.3" text-anchor="middle" textLength="151" lengthAdjust="spacingAndGlyphs" font-family="'Liberation Sans', Arial, sans-serif">Average Inter-fish Distance (cm)</text>
<text x="11.8" y="33.9" font-size="11.5" font-weight="bold" fill="#000" stroke="#000" stroke-width="0.35" text-anchor="start" font-family="'Liberation Sans', Arial, sans-serif" >(A)</text>
<path d="M382.00,48.50 C382.03,47.58 381.70,44.05 382.20,43.00 C382.70,41.95 382.03,42.32 385.00,42.20 C387.97,42.08 394.17,42.25 400.00,42.30 C405.83,42.35 413.33,42.38 420.00,42.50 C426.67,42.62 433.33,42.75 440.00,43.00 C446.67,43.25 454.17,43.50 460.00,44.00 C465.83,44.50 470.00,45.42 475.00,46.00 C480.00,46.58 485.00,47.38 490.00,47.50 C495.00,47.62 500.00,46.95 505.00,46.70 C510.00,46.45 516.33,46.12 520.00,46.00 C523.67,45.88 525.42,45.58 527.00,46.00 C528.58,46.42 529.08,48.08 529.50,48.50 L529.50,48.50 C529.08,48.92 528.58,50.58 527.00,51.00 C525.42,51.42 523.67,51.12 520.00,51.00 C516.33,50.88 510.00,50.55 505.00,50.30 C500.00,50.05 495.00,49.38 490.00,49.50 C485.00,49.62 480.00,50.42 475.00,51.00 C470.00,51.58 465.83,52.50 460.00,53.00 C454.17,53.50 446.67,53.75 440.00,54.00 C433.33,54.25 426.67,54.38 420.00,54.50 C413.33,54.62 405.83,54.65 400.00,54.70 C394.17,54.75 387.97,54.92 385.00,54.80 C382.03,54.68 382.70,55.05 382.20,54.00 C381.70,52.95 382.03,49.42 382.00,48.50 Z" fill="#aaaaad"/>
<line x1="382.8" y1="43" x2="382.8" y2="54" stroke="#f4f000" stroke-width="1.9"/>
<line x1="456" y1="45" x2="456" y2="52" stroke="#f4f000" stroke-width="1.9"/>
<line x1="418" y1="42" x2="418" y2="55" stroke="#35e0a8" stroke-width="1.9"/>
<circle cx="382.8" cy="43.1" r="1.55" fill="#c44a0c" stroke="#2c0e00" stroke-width="0.75"/>
<circle cx="382.8" cy="53.7" r="1.55" fill="#c44a0c" stroke="#2c0e00" stroke-width="0.75"/>
<circle cx="405.2" cy="48.5" r="1.55" fill="#c44a0c" stroke="#2c0e00" stroke-width="0.75"/>
<circle cx="418" cy="48.5" r="1.55" fill="#c44a0c" stroke="#2c0e00" stroke-width="0.75"/>
<circle cx="445.5" cy="48.5" r="1.55" fill="#c44a0c" stroke="#2c0e00" stroke-width="0.75"/>
<circle cx="456" cy="48.5" r="1.55" fill="#c44a0c" stroke="#2c0e00" stroke-width="0.75"/>
<circle cx="527.3" cy="48.5" r="1.55" fill="#c44a0c" stroke="#2c0e00" stroke-width="0.75"/>
<path d="M361.00,69.30 C361.17,68.55 360.83,65.60 362.00,64.80 C363.17,64.00 365.67,64.47 368.00,64.50 C370.33,64.53 373.33,64.75 376.00,65.00 C378.67,65.25 381.67,66.03 384.00,66.00 C386.33,65.97 387.67,65.17 390.00,64.80 C392.33,64.43 395.50,63.97 398.00,63.80 C400.50,63.63 402.67,63.63 405.00,63.80 C407.33,63.97 409.50,64.43 412.00,64.80 C414.50,65.17 417.33,65.55 420.00,66.00 C422.67,66.45 425.50,67.13 428.00,67.50 C430.50,67.87 431.33,68.05 435.00,68.20 C438.67,68.35 445.83,68.40 450.00,68.40 C454.17,68.40 457.67,68.27 460.00,68.20 C462.33,68.13 463.17,67.82 464.00,68.00 C464.83,68.18 464.83,69.08 465.00,69.30 L465.00,69.30 C464.83,69.52 464.83,70.42 464.00,70.60 C463.17,70.78 462.33,70.47 460.00,70.40 C457.67,70.33 454.17,70.20 450.00,70.20 C445.83,70.20 438.67,70.25 435.00,70.40 C431.33,70.55 430.50,70.73 428.00,71.10 C425.50,71.47 422.67,72.15 420.00,72.60 C417.33,73.05 414.50,73.43 412.00,73.80 C409.50,74.17 407.33,74.63 405.00,74.80 C402.67,74.97 400.50,74.97 398.00,74.80 C395.50,74.63 392.33,74.17 390.00,73.80 C387.67,73.43 386.33,72.63 384.00,72.60 C381.67,72.57 378.67,73.35 376.00,73.60 C373.33,73.85 370.33,74.07 368.00,74.10 C365.67,74.13 363.17,74.60 362.00,73.80 C360.83,73.00 361.17,70.05 361.00,69.30 Z" fill="#aaaaad"/>
<line x1="372" y1="63.5" x2="372" y2="74.5" stroke="#f4f000" stroke-width="1.9"/>
<line x1="406.6" y1="63.5" x2="406.6" y2="75" stroke="#f4f000" stroke-width="1.9"/>
<line x1="395" y1="63.5" x2="395" y2="75" stroke="#35e0a8" stroke-width="1.9"/>
<path d="M363,67.35000000000001L364.85,69.2L363,71.05L361.15,69.2Z" fill="#4e1480" stroke="#22063c" stroke-width="0.5"/>
<path d="M369.5,67.35000000000001L371.35,69.2L369.5,71.05L367.65,69.2Z" fill="#4e1480" stroke="#22063c" stroke-width="0.5"/>
<path d="M372.2,61.949999999999996L374.05,63.8L372.2,65.64999999999999L370.34999999999997,63.8Z" fill="#4e1480" stroke="#22063c" stroke-width="0.5"/>
<path d="M379.4,67.35000000000001L381.25,69.2L379.4,71.05L377.54999999999995,69.2Z" fill="#4e1480" stroke="#22063c" stroke-width="0.5"/>
<path d="M393.5,67.35000000000001L395.35,69.2L393.5,71.05L391.65,69.2Z" fill="#4e1480" stroke="#22063c" stroke-width="0.5"/>
<path d="M397.2,67.35000000000001L399.05,69.2L397.2,71.05L395.34999999999997,69.2Z" fill="#4e1480" stroke="#22063c" stroke-width="0.5"/>
<path d="M402.3,67.35000000000001L404.15000000000003,69.2L402.3,71.05L400.45,69.2Z" fill="#4e1480" stroke="#22063c" stroke-width="0.5"/>
<path d="M403.7,72.85000000000001L405.55,74.7L403.7,76.55L401.84999999999997,74.7Z" fill="#4e1480" stroke="#22063c" stroke-width="0.5"/>
<path d="M415.4,67.35000000000001L417.25,69.2L415.4,71.05L413.54999999999995,69.2Z" fill="#4e1480" stroke="#22063c" stroke-width="0.5"/>
<path d="M464.4,67.55000000000001L466.25,69.4L464.4,71.25L462.54999999999995,69.4Z" fill="#4e1480" stroke="#22063c" stroke-width="0.5"/>
<path d="M371.50,89.80 C371.55,88.83 370.38,85.00 371.80,84.00 C373.22,83.00 375.30,83.83 380.00,83.80 C384.70,83.77 395.00,83.77 400.00,83.80 C405.00,83.83 406.67,83.67 410.00,84.00 C413.33,84.33 417.00,85.33 420.00,85.80 C423.00,86.27 425.50,86.58 428.00,86.80 C430.50,87.02 432.67,87.18 435.00,87.10 C437.33,87.02 439.50,86.55 442.00,86.30 C444.50,86.05 447.00,85.62 450.00,85.60 C453.00,85.58 456.67,86.05 460.00,86.20 C463.33,86.35 467.33,86.32 470.00,86.50 C472.67,86.68 474.83,86.75 476.00,87.30 C477.17,87.85 476.83,89.38 477.00,89.80 L477.00,89.80 C476.83,90.22 477.17,91.75 476.00,92.30 C474.83,92.85 472.67,92.92 470.00,93.10 C467.33,93.28 463.33,93.25 460.00,93.40 C456.67,93.55 453.00,94.02 450.00,94.00 C447.00,93.98 444.50,93.55 442.00,93.30 C439.50,93.05 437.33,92.58 435.00,92.50 C432.67,92.42 430.50,92.58 428.00,92.80 C425.50,93.02 423.00,93.33 420.00,93.80 C417.00,94.27 413.33,95.27 410.00,95.60 C406.67,95.93 405.00,95.77 400.00,95.80 C395.00,95.83 384.70,95.83 380.00,95.80 C375.30,95.77 373.22,96.60 371.80,95.60 C370.38,94.60 371.55,90.77 371.50,89.80 Z" fill="#aaaaad"/>
<line x1="383" y1="84" x2="383" y2="95" stroke="#f4f000" stroke-width="1.9"/>
<line x1="446.6" y1="86" x2="446.6" y2="93" stroke="#f4f000" stroke-width="1.9"/>
<line x1="407" y1="84" x2="407" y2="95" stroke="#35e0a8" stroke-width="1.9"/>
<path d="M370.3,82.95500000000001L373.7,82.95500000000001L372,86.185Z" fill="#237a38" stroke="#062010" stroke-width="0.5"/>
<path d="M370.3,93.555L373.7,93.555L372,96.785Z" fill="#237a38" stroke="#062010" stroke-width="0.5"/>
<path d="M385.3,88.155L388.7,88.155L387,91.38499999999999Z" fill="#237a38" stroke="#062010" stroke-width="0.5"/>
<path d="M390.90000000000003,88.155L394.3,88.155L392.6,91.38499999999999Z" fill="#237a38" stroke="#062010" stroke-width="0.5"/>
<path d="M405.3,88.155L408.7,88.155L407,91.38499999999999Z" fill="#237a38" stroke="#062010" stroke-width="0.5"/>
<path d="M405.3,93.555L408.7,93.555L407,96.785Z" fill="#237a38" stroke="#062010" stroke-width="0.5"/>
<path d="M419.7,88.155L423.09999999999997,88.155L421.4,91.38499999999999Z" fill="#237a38" stroke="#062010" stroke-width="0.5"/>
<path d="M442.90000000000003,88.155L446.3,88.155L444.6,91.38499999999999Z" fill="#237a38" stroke="#062010" stroke-width="0.5"/>
<path d="M449.7,88.155L453.09999999999997,88.155L451.4,91.38499999999999Z" fill="#237a38" stroke="#062010" stroke-width="0.5"/>
<path d="M472.8,88.155L476.2,88.155L474.5,91.38499999999999Z" fill="#237a38" stroke="#062010" stroke-width="0.5"/>
<path d="M373.00,110.80 C373.17,110.30 373.17,108.55 374.00,107.80 C374.83,107.05 375.33,106.63 378.00,106.30 C380.67,105.97 386.33,105.97 390.00,105.80 C393.67,105.63 397.00,105.27 400.00,105.30 C403.00,105.33 405.67,105.62 408.00,106.00 C410.33,106.38 412.33,107.27 414.00,107.60 C415.67,107.93 416.17,108.02 418.00,108.00 C419.83,107.98 422.67,107.67 425.00,107.50 C427.33,107.33 428.67,107.08 432.00,107.00 C435.33,106.92 441.67,106.90 445.00,107.00 C448.33,107.10 450.50,106.97 452.00,107.60 C453.50,108.23 453.67,110.27 454.00,110.80 L454.00,110.80 C453.67,111.33 453.50,113.37 452.00,114.00 C450.50,114.63 448.33,114.50 445.00,114.60 C441.67,114.70 435.33,114.68 432.00,114.60 C428.67,114.52 427.33,114.27 425.00,114.10 C422.67,113.93 419.83,113.62 418.00,113.60 C416.17,113.58 415.67,113.67 414.00,114.00 C412.33,114.33 410.33,115.22 408.00,115.60 C405.67,115.98 403.00,116.27 400.00,116.30 C397.00,116.33 393.67,115.97 390.00,115.80 C386.33,115.63 380.67,115.63 378.00,115.30 C375.33,114.97 374.83,114.55 374.00,113.80 C373.17,113.05 373.17,111.30 373.00,110.80 Z" fill="#aaaaad"/>
<line x1="387.7" y1="104" x2="387.7" y2="116" stroke="#f4f000" stroke-width="1.9"/>
<line x1="435.1" y1="106.5" x2="435.1" y2="114.5" stroke="#f4f000" stroke-width="1.9"/>
<line x1="402.7" y1="104.5" x2="402.7" y2="116" stroke="#35e0a8" stroke-width="1.9"/>
<path d="M373.2,112.24499999999999L376.59999999999997,112.24499999999999L374.9,109.015Z" fill="#36598f" stroke="#0a1a36" stroke-width="0.5"/>
<path d="M383.8,112.24499999999999L387.2,112.24499999999999L385.5,109.015Z" fill="#36598f" stroke="#0a1a36" stroke-width="0.5"/>
<path d="M386.3,117.645L389.7,117.645L388,114.415Z" fill="#36598f" stroke="#0a1a36" stroke-width="0.5"/>
<path d="M396.1,112.24499999999999L399.5,112.24499999999999L397.8,109.015Z" fill="#36598f" stroke="#0a1a36" stroke-width="0.5"/>
<path d="M398.6,112.24499999999999L402.0,112.24499999999999L400.3,109.015Z" fill="#36598f" stroke="#0a1a36" stroke-width="0.5"/>
<path d="M403.5,112.24499999999999L406.9,112.24499999999999L405.2,109.015Z" fill="#36598f" stroke="#0a1a36" stroke-width="0.5"/>
<path d="M417.40000000000003,112.24499999999999L420.8,112.24499999999999L419.1,109.015Z" fill="#36598f" stroke="#0a1a36" stroke-width="0.5"/>
<path d="M430.5,112.24499999999999L433.9,112.24499999999999L432.2,109.015Z" fill="#36598f" stroke="#0a1a36" stroke-width="0.5"/>
<path d="M441.1,112.24499999999999L444.5,112.24499999999999L442.8,109.015Z" fill="#36598f" stroke="#0a1a36" stroke-width="0.5"/>
<path d="M450.1,112.24499999999999L453.5,112.24499999999999L451.8,109.015Z" fill="#36598f" stroke="#0a1a36" stroke-width="0.5"/>
<path d="M357.00,131.60 C357.25,131.02 357.17,129.02 358.50,128.10 C359.83,127.18 362.25,126.52 365.00,126.10 C367.75,125.68 370.83,125.68 375.00,125.60 C379.17,125.52 386.17,125.43 390.00,125.60 C393.83,125.77 395.50,126.18 398.00,126.60 C400.50,127.02 402.67,127.73 405.00,128.10 C407.33,128.47 409.50,128.72 412.00,128.80 C414.50,128.88 417.00,128.80 420.00,128.60 C423.00,128.40 425.83,127.85 430.00,127.60 C434.17,127.35 439.17,127.18 445.00,127.10 C450.83,127.02 460.50,127.02 465.00,127.10 C469.50,127.18 469.83,127.35 472.00,127.60 C474.17,127.85 475.83,128.33 478.00,128.60 C480.17,128.87 481.33,129.07 485.00,129.20 C488.67,129.33 495.50,129.40 500.00,129.40 C504.50,129.40 509.58,128.83 512.00,129.20 C514.42,129.57 514.08,131.20 514.50,131.60 L514.50,131.60 C514.08,132.00 514.42,133.63 512.00,134.00 C509.58,134.37 504.50,133.80 500.00,133.80 C495.50,133.80 488.67,133.87 485.00,134.00 C481.33,134.13 480.17,134.33 478.00,134.60 C475.83,134.87 474.17,135.35 472.00,135.60 C469.83,135.85 469.50,136.02 465.00,136.10 C460.50,136.18 450.83,136.18 445.00,136.10 C439.17,136.02 434.17,135.85 430.00,135.60 C425.83,135.35 423.00,134.80 420.00,134.60 C417.00,134.40 414.50,134.32 412.00,134.40 C409.50,134.48 407.33,134.73 405.00,135.10 C402.67,135.47 400.50,136.18 398.00,136.60 C395.50,137.02 393.83,137.43 390.00,137.60 C386.17,137.77 379.17,137.68 375.00,137.60 C370.83,137.52 367.75,137.52 365.00,137.10 C362.25,136.68 359.83,136.02 358.50,135.10 C357.17,134.18 357.25,132.18 357.00,131.60 Z" fill="#aaaaad"/>
<line x1="382.7" y1="125" x2="382.7" y2="138" stroke="#f4f000" stroke-width="1.9"/>
<line x1="461.5" y1="127" x2="461.5" y2="137" stroke="#f4f000" stroke-width="1.9"/>
<line x1="408.2" y1="128.5" x2="408.2" y2="135" stroke="#35e0a8" stroke-width="1.9"/>
<rect x="357.95" y="130.05" width="3.1" height="3.1" fill="#e00808" stroke="#4a0000" stroke-width="0.6"/>
<rect x="376.95" y="130.05" width="3.1" height="3.1" fill="#e00808" stroke="#4a0000" stroke-width="0.6"/>
<rect x="382.65" y="130.05" width="3.1" height="3.1" fill="#e00808" stroke="#4a0000" stroke-width="0.6"/>
<rect x="387.95" y="130.05" width="3.1" height="3.1" fill="#e00808" stroke="#4a0000" stroke-width="0.6"/>
<rect x="390.85" y="130.05" width="3.1" height="3.1" fill="#e00808" stroke="#4a0000" stroke-width="0.6"/>
<rect x="422.05" y="130.05" width="3.1" height="3.1" fill="#e00808" stroke="#4a0000" stroke-width="0.6"/>
<rect x="454.85" y="130.05" width="3.1" height="3.1" fill="#e00808" stroke="#4a0000" stroke-width="0.6"/>
<rect x="459.95" y="130.05" width="3.1" height="3.1" fill="#e00808" stroke="#4a0000" stroke-width="0.6"/>
<rect x="460.65" y="135.55" width="3.1" height="3.1" fill="#e00808" stroke="#4a0000" stroke-width="0.6"/>
<rect x="511.55" y="130.05" width="3.1" height="3.1" fill="#e00808" stroke="#4a0000" stroke-width="0.6"/>
<path d="M387.80,152.40 C387.83,151.48 387.30,147.93 388.00,146.90 C388.70,145.87 390.00,146.28 392.00,146.20 C394.00,146.12 396.17,146.23 400.00,146.40 C403.83,146.57 410.00,146.92 415.00,147.20 C420.00,147.48 425.00,147.85 430.00,148.10 C435.00,148.35 440.83,148.52 445.00,148.70 C449.17,148.88 450.83,148.87 455.00,149.20 C459.17,149.53 465.00,150.33 470.00,150.70 C475.00,151.07 480.00,151.28 485.00,151.40 C490.00,151.52 496.83,151.45 500.00,151.40 C503.17,151.35 503.08,150.93 504.00,151.10 C504.92,151.27 505.25,152.18 505.50,152.40 L505.50,152.40 C505.25,152.62 504.92,153.53 504.00,153.70 C503.08,153.87 503.17,153.45 500.00,153.40 C496.83,153.35 490.00,153.28 485.00,153.40 C480.00,153.52 475.00,153.73 470.00,154.10 C465.00,154.47 459.17,155.27 455.00,155.60 C450.83,155.93 449.17,155.92 445.00,156.10 C440.83,156.28 435.00,156.45 430.00,156.70 C425.00,156.95 420.00,157.32 415.00,157.60 C410.00,157.88 403.83,158.23 400.00,158.40 C396.17,158.57 394.00,158.68 392.00,158.60 C390.00,158.52 388.70,158.93 388.00,157.90 C387.30,156.87 387.83,153.32 387.80,152.40 Z" fill="#aaaaad"/>
<line x1="393.1" y1="146" x2="393.1" y2="158.5" stroke="#f4f000" stroke-width="1.9"/>
<line x1="440.2" y1="148" x2="440.2" y2="156.5" stroke="#f4f000" stroke-width="1.9"/>
<line x1="410.3" y1="146" x2="410.3" y2="158.5" stroke="#35e0a8" stroke-width="1.9"/>
<circle cx="389.5" cy="152.4" r="1.55" fill="#ffffff" stroke="#1e1e1e" stroke-width="0.7"/>
<circle cx="393.1" cy="152.4" r="1.55" fill="#ffffff" stroke="#1e1e1e" stroke-width="0.7"/>
<circle cx="393.1" cy="147" r="1.55" fill="#ffffff" stroke="#1e1e1e" stroke-width="0.7"/>
<circle cx="399.3" cy="152.4" r="1.55" fill="#ffffff" stroke="#1e1e1e" stroke-width="0.7"/>
<circle cx="402.1" cy="152.4" r="1.55" fill="#ffffff" stroke="#1e1e1e" stroke-width="0.7"/>
<circle cx="418.5" cy="152.4" r="1.55" fill="#ffffff" stroke="#1e1e1e" stroke-width="0.7"/>
<circle cx="425.8" cy="152.4" r="1.55" fill="#ffffff" stroke="#1e1e1e" stroke-width="0.7"/>
<circle cx="436.5" cy="152.4" r="1.55" fill="#ffffff" stroke="#1e1e1e" stroke-width="0.7"/>
<circle cx="450.7" cy="152.4" r="1.55" fill="#ffffff" stroke="#1e1e1e" stroke-width="0.7"/>
<circle cx="504.2" cy="152.4" r="1.55" fill="#ffffff" stroke="#1e1e1e" stroke-width="0.7"/>
<g stroke="#111" stroke-width="1.3" fill="none">
<path d="M343.4,37.6 L343.4,163.1 L530.4,163.1"/>
<line x1="341.0" y1="48.7" x2="343.4" y2="48.7"/>
<line x1="341.0" y1="69.36" x2="343.4" y2="69.36"/>
<line x1="341.0" y1="90.02" x2="343.4" y2="90.02"/>
<line x1="341.0" y1="110.68" x2="343.4" y2="110.68"/>
<line x1="341.0" y1="131.33999999999997" x2="343.4" y2="131.33999999999997"/>
<line x1="341.0" y1="152.0" x2="343.4" y2="152.0"/>
<line x1="343.4" y1="163.1" x2="343.4" y2="165.5"/>
<line x1="380.79999999999995" y1="163.1" x2="380.79999999999995" y2="165.5"/>
<line x1="418.2" y1="163.1" x2="418.2" y2="165.5"/>
<line x1="455.59999999999997" y1="163.1" x2="455.59999999999997" y2="165.5"/>
<line x1="493.0" y1="163.1" x2="493.0" y2="165.5"/>
<line x1="530.4" y1="163.1" x2="530.4" y2="165.5"/>
</g>
<text x="340.2" y="51.400000000000006" font-size="7.8" font-weight="bold" fill="#000" stroke="#000" stroke-width="0.28" text-anchor="end" font-family="'Liberation Sans', Arial, sans-serif" >WIK Zebrafish</text>
<text x="340.2" y="72.06" font-size="7.8" font-weight="bold" fill="#000" stroke="#000" stroke-width="0.28" text-anchor="end" font-family="'Liberation Sans', Arial, sans-serif" >PET Zebrafish</text>
<text x="340.2" y="88.72" font-size="7.8" font-weight="bold" fill="#000" stroke="#000" stroke-width="0.28" text-anchor="end" font-family="'Liberation Sans', Arial, sans-serif" >Golden</text>
<text x="340.2" y="97.52" font-size="7.8" font-weight="bold" fill="#000" stroke="#000" stroke-width="0.28" text-anchor="end" font-family="'Liberation Sans', Arial, sans-serif" >Zebrafish</text>
<text x="340.2" y="113.38000000000001" font-size="7.8" font-weight="bold" fill="#000" stroke="#000" stroke-width="0.28" text-anchor="end" font-family="'Liberation Sans', Arial, sans-serif" >TL Zebrafish</text>
<text x="340.2" y="130.03999999999996" font-size="7.8" font-weight="bold" fill="#000" stroke="#000" stroke-width="0.28" text-anchor="end" font-family="'Liberation Sans', Arial, sans-serif" >Absolute</text>
<text x="340.2" y="138.83999999999997" font-size="7.8" font-weight="bold" fill="#000" stroke="#000" stroke-width="0.28" text-anchor="end" font-family="'Liberation Sans', Arial, sans-serif" >Zebrafish</text>
<text x="340.2" y="154.7" font-size="7.8" font-weight="bold" fill="#000" stroke="#000" stroke-width="0.28" text-anchor="end" font-family="'Liberation Sans', Arial, sans-serif" >AB Zebrafish</text>
<text x="343.4" y="175.0" font-size="9.6" font-weight="bold" fill="#000" stroke="#000" stroke-width="0.28" text-anchor="middle" font-family="'Liberation Sans', Arial, sans-serif" >0</text>
<text x="380.79999999999995" y="175.0" font-size="9.6" font-weight="bold" fill="#000" stroke="#000" stroke-width="0.28" text-anchor="middle" font-family="'Liberation Sans', Arial, sans-serif" >2</text>
<text x="418.2" y="175.0" font-size="9.6" font-weight="bold" fill="#000" stroke="#000" stroke-width="0.28" text-anchor="middle" font-family="'Liberation Sans', Arial, sans-serif" >4</text>
<text x="455.59999999999997" y="175.0" font-size="9.6" font-weight="bold" fill="#000" stroke="#000" stroke-width="0.28" text-anchor="middle" font-family="'Liberation Sans', Arial, sans-serif" >6</text>
<text x="493.0" y="175.0" font-size="9.6" font-weight="bold" fill="#000" stroke="#000" stroke-width="0.28" text-anchor="middle" font-family="'Liberation Sans', Arial, sans-serif" >8</text>
<text x="530.4" y="175.0" font-size="9.6" font-weight="bold" fill="#000" stroke="#000" stroke-width="0.28" text-anchor="middle" font-family="'Liberation Sans', Arial, sans-serif" >10</text>
<text x="436.7" y="189.2" font-size="10.15" font-weight="bold" fill="#000" stroke="#000" stroke-width="0.3" text-anchor="middle" font-family="'Liberation Sans', Arial, sans-serif">Average Shoal Area (cm<tspan font-size="6.8" dy="-4.3">2</tspan><tspan dy="4.3">)</tspan></text>
<text x="271.8" y="33.9" font-size="11.5" font-weight="bold" fill="#000" stroke="#000" stroke-width="0.35" text-anchor="start" font-family="'Liberation Sans', Arial, sans-serif" >(B)</text>
<path d="M93.50,219.40 C93.53,218.57 92.62,215.27 93.70,214.40 C94.78,213.53 97.62,214.03 100.00,214.20 C102.38,214.37 105.67,214.90 108.00,215.40 C110.33,215.90 112.33,216.87 114.00,217.20 C115.67,217.53 116.33,217.53 118.00,217.40 C119.67,217.27 122.00,216.82 124.00,216.40 C126.00,215.98 127.33,215.32 130.00,214.90 C132.67,214.48 137.00,214.18 140.00,213.90 C143.00,213.62 144.67,213.28 148.00,213.20 C151.33,213.12 156.33,213.33 160.00,213.40 C163.67,213.47 167.33,213.52 170.00,213.60 C172.67,213.68 174.00,213.52 176.00,213.90 C178.00,214.28 179.67,215.30 182.00,215.90 C184.33,216.50 187.00,217.17 190.00,217.50 C193.00,217.83 196.67,217.78 200.00,217.90 C203.33,218.02 207.00,218.15 210.00,218.20 C213.00,218.25 216.42,218.00 218.00,218.20 C219.58,218.40 219.25,219.20 219.50,219.40 L219.50,219.40 C219.25,219.60 219.58,220.40 218.00,220.60 C216.42,220.80 213.00,220.55 210.00,220.60 C207.00,220.65 203.33,220.78 200.00,220.90 C196.67,221.02 193.00,220.97 190.00,221.30 C187.00,221.63 184.33,222.30 182.00,222.90 C179.67,223.50 178.00,224.52 176.00,224.90 C174.00,225.28 172.67,225.12 170.00,225.20 C167.33,225.28 163.67,225.33 160.00,225.40 C156.33,225.47 151.33,225.68 148.00,225.60 C144.67,225.52 143.00,225.18 140.00,224.90 C137.00,224.62 132.67,224.32 130.00,223.90 C127.33,223.48 126.00,222.82 124.00,222.40 C122.00,221.98 119.67,221.53 118.00,221.40 C116.33,221.27 115.67,221.27 114.00,221.60 C112.33,221.93 110.33,222.90 108.00,223.40 C105.67,223.90 102.38,224.43 100.00,224.60 C97.62,224.77 94.78,225.27 93.70,224.40 C92.62,223.53 93.53,220.23 93.50,219.40 Z" fill="#aaaaad"/>
<line x1="114.8" y1="217.5" x2="114.8" y2="221.5" stroke="#f4f000" stroke-width="1.9"/>
<line x1="175" y1="213.5" x2="175" y2="225.2" stroke="#f4f000" stroke-width="1.9"/>
<line x1="148.7" y1="213.5" x2="148.7" y2="225.5" stroke="#35e0a8" stroke-width="1.9"/>
<circle cx="95.5" cy="214.1" r="1.55" fill="#c44a0c" stroke="#2c0e00" stroke-width="0.75"/>
<circle cx="98.4" cy="219.3" r="1.55" fill="#c44a0c" stroke="#2c0e00" stroke-width="0.75"/>
<circle cx="101.7" cy="219.3" r="1.55" fill="#c44a0c" stroke="#2c0e00" stroke-width="0.75"/>
<circle cx="94" cy="224.7" r="1.55" fill="#c44a0c" stroke="#2c0e00" stroke-width="0.75"/>
<circle cx="102.7" cy="224.7" r="1.55" fill="#c44a0c" stroke="#2c0e00" stroke-width="0.75"/>
<circle cx="127.2" cy="219.3" r="1.55" fill="#c44a0c" stroke="#2c0e00" stroke-width="0.75"/>
<circle cx="131.3" cy="219.3" r="1.55" fill="#c44a0c" stroke="#2c0e00" stroke-width="0.75"/>
<circle cx="134.9" cy="219.3" r="1.55" fill="#c44a0c" stroke="#2c0e00" stroke-width="0.75"/>
<circle cx="140.7" cy="219.3" r="1.55" fill="#c44a0c" stroke="#2c0e00" stroke-width="0.75"/>
<circle cx="146.8" cy="219.3" r="1.55" fill="#c44a0c" stroke="#2c0e00" stroke-width="0.75"/>
<circle cx="149" cy="214.1" r="1.55" fill="#c44a0c" stroke="#2c0e00" stroke-width="0.75"/>
<circle cx="151.2" cy="219.3" r="1.55" fill="#c44a0c" stroke="#2c0e00" stroke-width="0.75"/>
<circle cx="155.5" cy="219.3" r="1.55" fill="#c44a0c" stroke="#2c0e00" stroke-width="0.75"/>
<circle cx="157.4" cy="224.7" r="1.55" fill="#c44a0c" stroke="#2c0e00" stroke-width="0.75"/>
<circle cx="165" cy="219.3" r="1.55" fill="#c44a0c" stroke="#2c0e00" stroke-width="0.75"/>
<circle cx="173.9" cy="219.5" r="1.55" fill="#c44a0c" stroke="#2c0e00" stroke-width="0.75"/>
<circle cx="175.1" cy="213.7" r="1.55" fill="#c44a0c" stroke="#2c0e00" stroke-width="0.75"/>
<circle cx="175.1" cy="224.9" r="1.55" fill="#c44a0c" stroke="#2c0e00" stroke-width="0.75"/>
<circle cx="178" cy="219.5" r="1.55" fill="#c44a0c" stroke="#2c0e00" stroke-width="0.75"/>
<circle cx="186.2" cy="219.5" r="1.55" fill="#c44a0c" stroke="#2c0e00" stroke-width="0.75"/>
<circle cx="218.1" cy="219.5" r="1.55" fill="#c44a0c" stroke="#2c0e00" stroke-width="0.75"/>
<path d="M108.00,240.00 C108.03,239.42 107.03,237.17 108.20,236.50 C109.37,235.83 112.70,236.33 115.00,236.00 C117.30,235.67 119.83,234.92 122.00,234.50 C124.17,234.08 125.00,233.67 128.00,233.50 C131.00,233.33 136.67,233.42 140.00,233.50 C143.33,233.58 146.00,233.50 148.00,234.00 C150.00,234.50 150.67,235.97 152.00,236.50 C153.33,237.03 153.83,236.95 156.00,237.20 C158.17,237.45 161.00,237.78 165.00,238.00 C169.00,238.22 174.17,238.38 180.00,238.50 C185.83,238.62 195.00,238.67 200.00,238.70 C205.00,238.73 208.08,238.48 210.00,238.70 C211.92,238.92 211.25,239.78 211.50,240.00 L211.50,240.00 C211.25,240.22 211.92,241.08 210.00,241.30 C208.08,241.52 205.00,241.27 200.00,241.30 C195.00,241.33 185.83,241.38 180.00,241.50 C174.17,241.62 169.00,241.78 165.00,242.00 C161.00,242.22 158.17,242.55 156.00,242.80 C153.83,243.05 153.33,242.97 152.00,243.50 C150.67,244.03 150.00,245.50 148.00,246.00 C146.00,246.50 143.33,246.42 140.00,246.50 C136.67,246.58 131.00,246.67 128.00,246.50 C125.00,246.33 124.17,245.92 122.00,245.50 C119.83,245.08 117.30,244.33 115.00,244.00 C112.70,243.67 109.37,244.17 108.20,243.50 C107.03,242.83 108.03,240.58 108.00,240.00 Z" fill="#aaaaad"/>
<line x1="125.7" y1="234" x2="125.7" y2="246" stroke="#f4f000" stroke-width="1.9"/>
<line x1="154.4" y1="238" x2="154.4" y2="242" stroke="#f4f000" stroke-width="1.9"/>
<line x1="136.2" y1="234.5" x2="136.2" y2="245.5" stroke="#35e0a8" stroke-width="1.9"/>
<path d="M111.7,233.05L113.55,234.9L111.7,236.75L109.85000000000001,234.9Z" fill="#4e1480" stroke="#22063c" stroke-width="0.5"/>
<path d="M109.5,236.65L111.35,238.5L109.5,240.35L107.65,238.5Z" fill="#4e1480" stroke="#22063c" stroke-width="0.5"/>
<path d="M108.8,243.95000000000002L110.64999999999999,245.8L108.8,247.65L106.95,245.8Z" fill="#4e1480" stroke="#22063c" stroke-width="0.5"/>
<path d="M118.6,233.05L120.44999999999999,234.9L118.6,236.75L116.75,234.9Z" fill="#4e1480" stroke="#22063c" stroke-width="0.5"/>
<path d="M117.2,236.65L119.05,238.5L117.2,240.35L115.35000000000001,238.5Z" fill="#4e1480" stroke="#22063c" stroke-width="0.5"/>
<path d="M117.2,240.35L119.05,242.2L117.2,244.04999999999998L115.35000000000001,242.2Z" fill="#4e1480" stroke="#22063c" stroke-width="0.5"/>
<path d="M125.9,233.05L127.75,234.9L125.9,236.75L124.05000000000001,234.9Z" fill="#4e1480" stroke="#22063c" stroke-width="0.5"/>
<path d="M129.2,233.05L131.04999999999998,234.9L129.2,236.75L127.35,234.9Z" fill="#4e1480" stroke="#22063c" stroke-width="0.5"/>
<path d="M126.3,236.65L128.15,238.5L126.3,240.35L124.45,238.5Z" fill="#4e1480" stroke="#22063c" stroke-width="0.5"/>
<path d="M129.9,236.65L131.75,238.5L129.9,240.35L128.05,238.5Z" fill="#4e1480" stroke="#22063c" stroke-width="0.5"/>
<path d="M125.5,240.35L127.35,242.2L125.5,244.04999999999998L123.65,242.2Z" fill="#4e1480" stroke="#22063c" stroke-width="0.5"/>
<path d="M128.8,240.35L130.65,242.2L128.8,244.04999999999998L126.95000000000002,242.2Z" fill="#4e1480" stroke="#22063c" stroke-width="0.5"/>
<path d="M132.1,240.35L133.95,242.2L132.1,244.04999999999998L130.25,242.2Z" fill="#4e1480" stroke="#22063c" stroke-width="0.5"/>
<path d="M129.2,243.65L131.04999999999998,245.5L129.2,247.35L127.35,245.5Z" fill="#4e1480" stroke="#22063c" stroke-width="0.5"/>
<path d="M133.5,243.65L135.35,245.5L133.5,247.35L131.65,245.5Z" fill="#4e1480" stroke="#22063c" stroke-width="0.5"/>
<path d="M139.1,236.65L140.95,238.5L139.1,240.35L137.25,238.5Z" fill="#4e1480" stroke="#22063c" stroke-width="0.5"/>
<path d="M138.4,240.25L140.25,242.1L138.4,243.95L136.55,242.1Z" fill="#4e1480" stroke="#22063c" stroke-width="0.5"/>
<path d="M141.3,232.65L143.15,234.5L141.3,236.35L139.45000000000002,234.5Z" fill="#4e1480" stroke="#22063c" stroke-width="0.5"/>
<path d="M144.9,232.65L146.75,234.5L144.9,236.35L143.05,234.5Z" fill="#4e1480" stroke="#22063c" stroke-width="0.5"/>
<path d="M141.7,236.65L143.54999999999998,238.5L141.7,240.35L139.85,238.5Z" fill="#4e1480" stroke="#22063c" stroke-width="0.5"/>
<path d="M145.3,236.65L147.15,238.5L145.3,240.35L143.45000000000002,238.5Z" fill="#4e1480" stroke="#22063c" stroke-width="0.5"/>
<path d="M143.5,240.25L145.35,242.1L143.5,243.95L141.65,242.1Z" fill="#4e1480" stroke="#22063c" stroke-width="0.5"/>
<path d="M142,243.85L143.85,245.7L142,247.54999999999998L140.15,245.7Z" fill="#4e1480" stroke="#22063c" stroke-width="0.5"/>
<path d="M152.2,240.25L154.04999999999998,242.1L152.2,243.95L150.35,242.1Z" fill="#4e1480" stroke="#22063c" stroke-width="0.5"/>
<path d="M161.2,240.25L163.04999999999998,242.1L161.2,243.95L159.35,242.1Z" fill="#4e1480" stroke="#22063c" stroke-width="0.5"/>
<path d="M171.4,236.65L173.25,238.5L171.4,240.35L169.55,238.5Z" fill="#4e1480" stroke="#22063c" stroke-width="0.5"/>
<path d="M181.6,236.65L183.45,238.5L181.6,240.35L179.75,238.5Z" fill="#4e1480" stroke="#22063c" stroke-width="0.5"/>
<path d="M191.2,240.15L193.04999999999998,242L191.2,243.85L189.35,242Z" fill="#4e1480" stroke="#22063c" stroke-width="0.5"/>
<path d="M199.1,240.15L200.95,242L199.1,243.85L197.25,242Z" fill="#4e1480" stroke="#22063c" stroke-width="0.5"/>
<path d="M210.9,236.55L212.75,238.4L210.9,240.25L209.05,238.4Z" fill="#4e1480" stroke="#22063c" stroke-width="0.5"/>
<path d="M210.9,240.15L212.75,242L210.9,243.85L209.05,242Z" fill="#4e1480" stroke="#22063c" stroke-width="0.5"/>
<path d="M93.50,260.70 C93.53,259.95 92.62,256.83 93.70,256.20 C94.78,255.57 97.28,256.75 100.00,256.90 C102.72,257.05 107.50,257.30 110.00,257.10 C112.50,256.90 113.33,256.18 115.00,255.70 C116.67,255.22 117.50,254.45 120.00,254.20 C122.50,253.95 127.50,253.87 130.00,254.20 C132.50,254.53 133.33,255.70 135.00,256.20 C136.67,256.70 137.50,257.02 140.00,257.20 C142.50,257.38 147.00,257.27 150.00,257.30 C153.00,257.33 155.50,257.25 158.00,257.40 C160.50,257.55 162.17,257.95 165.00,258.20 C167.83,258.45 171.67,258.70 175.00,258.90 C178.33,259.10 180.83,259.28 185.00,259.40 C189.17,259.52 193.33,259.55 200.00,259.60 C206.67,259.65 219.67,259.72 225.00,259.70 C230.33,259.68 230.58,259.33 232.00,259.50 C233.42,259.67 233.25,260.50 233.50,260.70 L233.50,260.70 C233.25,260.90 233.42,261.73 232.00,261.90 C230.58,262.07 230.33,261.72 225.00,261.70 C219.67,261.68 206.67,261.75 200.00,261.80 C193.33,261.85 189.17,261.88 185.00,262.00 C180.83,262.12 178.33,262.30 175.00,262.50 C171.67,262.70 167.83,262.95 165.00,263.20 C162.17,263.45 160.50,263.85 158.00,264.00 C155.50,264.15 153.00,264.07 150.00,264.10 C147.00,264.13 142.50,264.02 140.00,264.20 C137.50,264.38 136.67,264.70 135.00,265.20 C133.33,265.70 132.50,266.87 130.00,267.20 C127.50,267.53 122.50,267.45 120.00,267.20 C117.50,266.95 116.67,266.18 115.00,265.70 C113.33,265.22 112.50,264.50 110.00,264.30 C107.50,264.10 102.72,264.35 100.00,264.50 C97.28,264.65 94.78,265.83 93.70,265.20 C92.62,264.57 93.53,261.45 93.50,260.70 Z" fill="#aaaaad"/>
<line x1="115.5" y1="256.5" x2="115.5" y2="264.5" stroke="#f4f000" stroke-width="1.9"/>
<line x1="149.7" y1="258" x2="149.7" y2="262" stroke="#f4f000" stroke-width="1.9"/>
<line x1="127.2" y1="254" x2="127.2" y2="267" stroke="#35e0a8" stroke-width="1.9"/>
<path d="M93.5,253.555L96.9,253.555L95.2,256.785Z" fill="#237a38" stroke="#062010" stroke-width="0.5"/>
<path d="M93.2,257.055L96.60000000000001,257.055L94.9,260.285Z" fill="#237a38" stroke="#062010" stroke-width="0.5"/>
<path d="M94.6,260.65500000000003L98.0,260.65500000000003L96.3,263.88500000000005Z" fill="#237a38" stroke="#062010" stroke-width="0.5"/>
<path d="M92.8,264.255L96.2,264.255L94.5,267.485Z" fill="#237a38" stroke="#062010" stroke-width="0.5"/>
<path d="M96.1,264.255L99.5,264.255L97.8,267.485Z" fill="#237a38" stroke="#062010" stroke-width="0.5"/>
<path d="M102.89999999999999,257.055L106.3,257.055L104.6,260.285Z" fill="#237a38" stroke="#062010" stroke-width="0.5"/>
<path d="M108.8,260.65500000000003L112.2,260.65500000000003L110.5,263.88500000000005Z" fill="#237a38" stroke="#062010" stroke-width="0.5"/>
<path d="M115.0,253.555L118.4,253.555L116.7,256.785Z" fill="#237a38" stroke="#062010" stroke-width="0.5"/>
<path d="M116.0,257.055L119.4,257.055L117.7,260.285Z" fill="#237a38" stroke="#062010" stroke-width="0.5"/>
<path d="M116.8,260.65500000000003L120.2,260.65500000000003L118.5,263.88500000000005Z" fill="#237a38" stroke="#062010" stroke-width="0.5"/>
<path d="M118.89999999999999,264.255L122.3,264.255L120.6,267.485Z" fill="#237a38" stroke="#062010" stroke-width="0.5"/>
<path d="M121.8,264.255L125.2,264.255L123.5,267.485Z" fill="#237a38" stroke="#062010" stroke-width="0.5"/>
<path d="M123.3,253.555L126.7,253.555L125,256.785Z" fill="#237a38" stroke="#062010" stroke-width="0.5"/>
<path d="M126.60000000000001,253.555L130.0,253.555L128.3,256.785Z" fill="#237a38" stroke="#062010" stroke-width="0.5"/>
<path d="M122.6,260.65500000000003L126.0,260.65500000000003L124.3,263.88500000000005Z" fill="#237a38" stroke="#062010" stroke-width="0.5"/>
<path d="M126.89999999999999,257.055L130.29999999999998,257.055L128.6,260.285Z" fill="#237a38" stroke="#062010" stroke-width="0.5"/>
<path d="M128.4,260.65500000000003L131.79999999999998,260.65500000000003L130.1,263.88500000000005Z" fill="#237a38" stroke="#062010" stroke-width="0.5"/>
<path d="M126.89999999999999,264.255L130.29999999999998,264.255L128.6,267.485Z" fill="#237a38" stroke="#062010" stroke-width="0.5"/>
<path d="M136.4,257.055L139.79999999999998,257.055L138.1,260.285Z" fill="#237a38" stroke="#062010" stroke-width="0.5"/>
<path d="M141.5,257.055L144.89999999999998,257.055L143.2,260.285Z" fill="#237a38" stroke="#062010" stroke-width="0.5"/>
<path d="M142.9,260.65500000000003L146.29999999999998,260.65500000000003L144.6,263.88500000000005Z" fill="#237a38" stroke="#062010" stroke-width="0.5"/>
<path d="M145.8,260.65500000000003L149.2,260.65500000000003L147.5,263.88500000000005Z" fill="#237a38" stroke="#062010" stroke-width="0.5"/>
<path d="M150.9,260.65500000000003L154.29999999999998,260.65500000000003L152.6,263.88500000000005Z" fill="#237a38" stroke="#062010" stroke-width="0.5"/>
<path d="M154.60000000000002,257.055L158.0,257.055L156.3,260.285Z" fill="#237a38" stroke="#062010" stroke-width="0.5"/>
<path d="M155.3,260.65500000000003L158.7,260.65500000000003L157,263.88500000000005Z" fill="#237a38" stroke="#062010" stroke-width="0.5"/>
<path d="M168.3,257.455L171.7,257.455L170,260.685Z" fill="#237a38" stroke="#062010" stroke-width="0.5"/>
<path d="M172.8,260.755L176.2,260.755L174.5,263.985Z" fill="#237a38" stroke="#062010" stroke-width="0.5"/>
<path d="M181.60000000000002,260.755L185.0,260.755L183.3,263.985Z" fill="#237a38" stroke="#062010" stroke-width="0.5"/>
<path d="M231.0,257.855L234.39999999999998,257.855L232.7,261.08500000000004Z" fill="#237a38" stroke="#062010" stroke-width="0.5"/>
<path d="M97.00,281.80 C97.08,281.22 96.50,279.13 97.50,278.30 C98.50,277.47 100.92,277.30 103.00,276.80 C105.08,276.30 106.33,275.55 110.00,275.30 C113.67,275.05 121.33,275.13 125.00,275.30 C128.67,275.47 129.73,275.82 132.00,276.30 C134.27,276.78 136.77,277.95 138.60,278.20 C140.43,278.45 141.30,278.03 143.00,277.80 C144.70,277.57 147.13,276.72 148.80,276.80 C150.47,276.88 151.55,277.88 153.00,278.30 C154.45,278.72 155.50,279.08 157.50,279.30 C159.50,279.52 161.25,279.52 165.00,279.60 C168.75,279.68 175.83,279.77 180.00,279.80 C184.17,279.83 187.75,279.47 190.00,279.80 C192.25,280.13 192.92,281.47 193.50,281.80 L193.50,281.80 C192.92,282.13 192.25,283.47 190.00,283.80 C187.75,284.13 184.17,283.77 180.00,283.80 C175.83,283.83 168.75,283.92 165.00,284.00 C161.25,284.08 159.50,284.08 157.50,284.30 C155.50,284.52 154.45,284.88 153.00,285.30 C151.55,285.72 150.47,286.72 148.80,286.80 C147.13,286.88 144.70,286.03 143.00,285.80 C141.30,285.57 140.43,285.15 138.60,285.40 C136.77,285.65 134.27,286.82 132.00,287.30 C129.73,287.78 128.67,288.13 125.00,288.30 C121.33,288.47 113.67,288.55 110.00,288.30 C106.33,288.05 105.08,287.30 103.00,286.80 C100.92,286.30 98.50,286.13 97.50,285.30 C96.50,284.47 97.08,282.38 97.00,281.80 Z" fill="#aaaaad"/>
<line x1="112.5" y1="276" x2="112.5" y2="288" stroke="#f4f000" stroke-width="1.9"/>
<line x1="148.1" y1="279" x2="148.1" y2="287" stroke="#f4f000" stroke-width="1.9"/>
<line x1="124.8" y1="276" x2="124.8" y2="288" stroke="#35e0a8" stroke-width="1.9"/>
<path d="M99.1,281.945L102.5,281.945L100.8,278.715Z" fill="#36598f" stroke="#0a1a36" stroke-width="0.5"/>
<path d="M96.89999999999999,285.545L100.3,285.545L98.6,282.315Z" fill="#36598f" stroke="#0a1a36" stroke-width="0.5"/>
<path d="M104.2,285.545L107.60000000000001,285.545L105.9,282.315Z" fill="#36598f" stroke="#0a1a36" stroke-width="0.5"/>
<path d="M107.1,281.645L110.5,281.645L108.8,278.41499999999996Z" fill="#36598f" stroke="#0a1a36" stroke-width="0.5"/>
<path d="M107.8,285.545L111.2,285.545L109.5,282.315Z" fill="#36598f" stroke="#0a1a36" stroke-width="0.5"/>
<path d="M107.1,289.145L110.5,289.145L108.8,285.91499999999996Z" fill="#36598f" stroke="#0a1a36" stroke-width="0.5"/>
<path d="M110.8,281.645L114.2,281.645L112.5,278.41499999999996Z" fill="#36598f" stroke="#0a1a36" stroke-width="0.5"/>
<path d="M113.7,277.945L117.10000000000001,277.945L115.4,274.715Z" fill="#36598f" stroke="#0a1a36" stroke-width="0.5"/>
<path d="M113.7,281.645L117.10000000000001,281.645L115.4,278.41499999999996Z" fill="#36598f" stroke="#0a1a36" stroke-width="0.5"/>
<path d="M114.39999999999999,285.545L117.8,285.545L116.1,282.315Z" fill="#36598f" stroke="#0a1a36" stroke-width="0.5"/>
<path d="M110.8,289.145L114.2,289.145L112.5,285.91499999999996Z" fill="#36598f" stroke="#0a1a36" stroke-width="0.5"/>
<path d="M114.39999999999999,289.145L117.8,289.145L116.1,285.91499999999996Z" fill="#36598f" stroke="#0a1a36" stroke-width="0.5"/>
<path d="M120.2,281.645L123.60000000000001,281.645L121.9,278.41499999999996Z" fill="#36598f" stroke="#0a1a36" stroke-width="0.5"/>
<path d="M119.5,285.545L122.9,285.545L121.2,282.315Z" fill="#36598f" stroke="#0a1a36" stroke-width="0.5"/>
<path d="M122.39999999999999,277.945L125.8,277.945L124.1,274.715Z" fill="#36598f" stroke="#0a1a36" stroke-width="0.5"/>
<path d="M123.1,281.645L126.5,281.645L124.8,278.41499999999996Z" fill="#36598f" stroke="#0a1a36" stroke-width="0.5"/>
<path d="M123.1,285.545L126.5,285.545L124.8,282.315Z" fill="#36598f" stroke="#0a1a36" stroke-width="0.5"/>
<path d="M120.2,289.145L123.60000000000001,289.145L121.9,285.91499999999996Z" fill="#36598f" stroke="#0a1a36" stroke-width="0.5"/>
<path d="M124.6,289.145L128.0,289.145L126.3,285.91499999999996Z" fill="#36598f" stroke="#0a1a36" stroke-width="0.5"/>
<path d="M128.20000000000002,281.645L131.6,281.645L129.9,278.41499999999996Z" fill="#36598f" stroke="#0a1a36" stroke-width="0.5"/>
<path d="M128.20000000000002,285.545L131.6,285.545L129.9,282.315Z" fill="#36598f" stroke="#0a1a36" stroke-width="0.5"/>
<path d="M133.3,281.645L136.7,281.645L135,278.41499999999996Z" fill="#36598f" stroke="#0a1a36" stroke-width="0.5"/>
<path d="M139.8,281.645L143.2,281.645L141.5,278.41499999999996Z" fill="#36598f" stroke="#0a1a36" stroke-width="0.5"/>
<path d="M144.9,277.945L148.29999999999998,277.945L146.6,274.715Z" fill="#36598f" stroke="#0a1a36" stroke-width="0.5"/>
<path d="M144.20000000000002,281.645L147.6,281.645L145.9,278.41499999999996Z" fill="#36598f" stroke="#0a1a36" stroke-width="0.5"/>
<path d="M144.9,285.545L148.29999999999998,285.545L146.6,282.315Z" fill="#36598f" stroke="#0a1a36" stroke-width="0.5"/>
<path d="M147.8,289.145L151.2,289.145L149.5,285.91499999999996Z" fill="#36598f" stroke="#0a1a36" stroke-width="0.5"/>
<path d="M164.60000000000002,281.645L168.0,281.645L166.3,278.41499999999996Z" fill="#36598f" stroke="#0a1a36" stroke-width="0.5"/>
<path d="M165.3,285.545L168.7,285.545L167,282.315Z" fill="#36598f" stroke="#0a1a36" stroke-width="0.5"/>
<path d="M182.3,281.84499999999997L185.7,281.84499999999997L184,278.61499999999995Z" fill="#36598f" stroke="#0a1a36" stroke-width="0.5"/>
<path d="M186.70000000000002,281.84499999999997L190.1,281.84499999999997L188.4,278.61499999999995Z" fill="#36598f" stroke="#0a1a36" stroke-width="0.5"/>
<path d="M192.70000000000002,285.645L196.1,285.645L194.4,282.41499999999996Z" fill="#36598f" stroke="#0a1a36" stroke-width="0.5"/>
<path d="M80.00,302.60 C80.03,302.20 77.70,300.62 80.20,300.20 C82.70,299.78 90.37,300.13 95.00,300.10 C99.63,300.07 104.83,300.08 108.00,300.00 C111.17,299.92 112.33,300.00 114.00,299.60 C115.67,299.20 116.67,298.13 118.00,297.60 C119.33,297.07 119.17,296.62 122.00,296.40 C124.83,296.18 130.67,296.30 135.00,296.30 C139.33,296.30 143.83,296.33 148.00,296.40 C152.17,296.47 157.00,296.47 160.00,296.70 C163.00,296.93 164.00,297.42 166.00,297.80 C168.00,298.18 169.83,298.75 172.00,299.00 C174.17,299.25 176.67,299.27 179.00,299.30 C181.33,299.33 183.83,299.22 186.00,299.20 C188.17,299.18 190.75,298.63 192.00,299.20 C193.25,299.77 193.25,302.03 193.50,302.60 L193.50,302.60 C193.25,303.17 193.25,305.43 192.00,306.00 C190.75,306.57 188.17,306.02 186.00,306.00 C183.83,305.98 181.33,305.87 179.00,305.90 C176.67,305.93 174.17,305.95 172.00,306.20 C169.83,306.45 168.00,307.02 166.00,307.40 C164.00,307.78 163.00,308.27 160.00,308.50 C157.00,308.73 152.17,308.73 148.00,308.80 C143.83,308.87 139.33,308.90 135.00,308.90 C130.67,308.90 124.83,309.02 122.00,308.80 C119.17,308.58 119.33,308.13 118.00,307.60 C116.67,307.07 115.67,306.00 114.00,305.60 C112.33,305.20 111.17,305.28 108.00,305.20 C104.83,305.12 99.63,305.13 95.00,305.10 C90.37,305.07 82.70,305.42 80.20,305.00 C77.70,304.58 80.03,303.00 80.00,302.60 Z" fill="#aaaaad"/>
<line x1="122.7" y1="298" x2="122.7" y2="308" stroke="#f4f000" stroke-width="1.9"/>
<line x1="164.5" y1="298" x2="164.5" y2="307" stroke="#f4f000" stroke-width="1.9"/>
<line x1="138.6" y1="298" x2="138.6" y2="308" stroke="#35e0a8" stroke-width="1.9"/>
<rect x="79.95" y="295.45" width="3.1" height="3.1" fill="#e00808" stroke="#4a0000" stroke-width="0.6"/>
<rect x="78.55" y="306.65" width="3.1" height="3.1" fill="#e00808" stroke="#4a0000" stroke-width="0.6"/>
<rect x="92.65" y="301.25" width="3.1" height="3.1" fill="#e00808" stroke="#4a0000" stroke-width="0.6"/>
<rect x="102.55" y="301.25" width="3.1" height="3.1" fill="#e00808" stroke="#4a0000" stroke-width="0.6"/>
<rect x="102.25" y="306.65" width="3.1" height="3.1" fill="#e00808" stroke="#4a0000" stroke-width="0.6"/>
<rect x="113.05" y="301.25" width="3.1" height="3.1" fill="#e00808" stroke="#4a0000" stroke-width="0.6"/>
<rect x="121.45" y="295.45" width="3.1" height="3.1" fill="#e00808" stroke="#4a0000" stroke-width="0.6"/>
<rect x="121.45" y="301.25" width="3.1" height="3.1" fill="#e00808" stroke="#4a0000" stroke-width="0.6"/>
<rect x="120.75" y="306.65" width="3.1" height="3.1" fill="#e00808" stroke="#4a0000" stroke-width="0.6"/>
<rect x="124.35" y="306.65" width="3.1" height="3.1" fill="#e00808" stroke="#4a0000" stroke-width="0.6"/>
<rect x="130.45" y="301.25" width="3.1" height="3.1" fill="#e00808" stroke="#4a0000" stroke-width="0.6"/>
<rect x="132.35" y="295.45" width="3.1" height="3.1" fill="#e00808" stroke="#4a0000" stroke-width="0.6"/>
<rect x="136.25" y="295.45" width="3.1" height="3.1" fill="#e00808" stroke="#4a0000" stroke-width="0.6"/>
<rect x="133.85" y="301.25" width="3.1" height="3.1" fill="#e00808" stroke="#4a0000" stroke-width="0.6"/>
<rect x="137.05" y="301.25" width="3.1" height="3.1" fill="#e00808" stroke="#4a0000" stroke-width="0.6"/>
<rect x="134.55" y="306.65" width="3.1" height="3.1" fill="#e00808" stroke="#4a0000" stroke-width="0.6"/>
<rect x="146.15" y="295.45" width="3.1" height="3.1" fill="#e00808" stroke="#4a0000" stroke-width="0.6"/>
<rect x="146.15" y="301.25" width="3.1" height="3.1" fill="#e00808" stroke="#4a0000" stroke-width="0.6"/>
<rect x="149.05" y="306.65" width="3.1" height="3.1" fill="#e00808" stroke="#4a0000" stroke-width="0.6"/>
<rect x="152.75" y="295.45" width="3.1" height="3.1" fill="#e00808" stroke="#4a0000" stroke-width="0.6"/>
<rect x="152.35" y="306.65" width="3.1" height="3.1" fill="#e00808" stroke="#4a0000" stroke-width="0.6"/>
<rect x="156.85" y="301.25" width="3.1" height="3.1" fill="#e00808" stroke="#4a0000" stroke-width="0.6"/>
<rect x="162.95" y="295.45" width="3.1" height="3.1" fill="#e00808" stroke="#4a0000" stroke-width="0.6"/>
<rect x="162.95" y="301.25" width="3.1" height="3.1" fill="#e00808" stroke="#4a0000" stroke-width="0.6"/>
<rect x="169.95" y="301.25" width="3.1" height="3.1" fill="#e00808" stroke="#4a0000" stroke-width="0.6"/>
<rect x="178.95" y="301.25" width="3.1" height="3.1" fill="#e00808" stroke="#4a0000" stroke-width="0.6"/>
<rect x="185.95" y="295.45" width="3.1" height="3.1" fill="#e00808" stroke="#4a0000" stroke-width="0.6"/>
<rect x="185.95" y="301.25" width="3.1" height="3.1" fill="#e00808" stroke="#4a0000" stroke-width="0.6"/>
<rect x="189.95" y="301.25" width="3.1" height="3.1" fill="#e00808" stroke="#4a0000" stroke-width="0.6"/>
<rect x="190.35" y="306.65" width="3.1" height="3.1" fill="#e00808" stroke="#4a0000" stroke-width="0.6"/>
<path d="M105.00,323.40 C105.03,322.48 103.53,318.87 105.20,317.90 C106.87,316.93 109.20,317.65 115.00,317.60 C120.80,317.55 132.50,317.57 140.00,317.60 C147.50,317.63 155.50,317.67 160.00,317.80 C164.50,317.93 165.00,318.05 167.00,318.40 C169.00,318.75 170.17,319.32 172.00,319.90 C173.83,320.48 176.75,321.32 178.00,321.90 C179.25,322.48 179.25,323.15 179.50,323.40 L179.50,323.40 C179.25,323.65 179.25,324.32 178.00,324.90 C176.75,325.48 173.83,326.32 172.00,326.90 C170.17,327.48 169.00,328.05 167.00,328.40 C165.00,328.75 164.50,328.87 160.00,329.00 C155.50,329.13 147.50,329.17 140.00,329.20 C132.50,329.23 120.80,329.25 115.00,329.20 C109.20,329.15 106.87,329.87 105.20,328.90 C103.53,327.93 105.03,324.32 105.00,323.40 Z" fill="#aaaaad"/>
<line x1="116.1" y1="318" x2="116.1" y2="329" stroke="#f4f000" stroke-width="1.9"/>
<line x1="150.6" y1="319" x2="150.6" y2="328" stroke="#f4f000" stroke-width="1.9"/>
<line x1="135.4" y1="318" x2="135.4" y2="329" stroke="#35e0a8" stroke-width="1.9"/>
<circle cx="107.8" cy="318" r="1.55" fill="#ffffff" stroke="#1e1e1e" stroke-width="0.7"/>
<circle cx="111" cy="318" r="1.55" fill="#ffffff" stroke="#1e1e1e" stroke-width="0.7"/>
<circle cx="113.9" cy="318" r="1.55" fill="#ffffff" stroke="#1e1e1e" stroke-width="0.7"/>
<circle cx="126.3" cy="318" r="1.55" fill="#ffffff" stroke="#1e1e1e" stroke-width="0.7"/>
<circle cx="129.9" cy="318" r="1.55" fill="#ffffff" stroke="#1e1e1e" stroke-width="0.7"/>
<circle cx="137.9" cy="318" r="1.55" fill="#ffffff" stroke="#1e1e1e" stroke-width="0.7"/>
<circle cx="147.4" cy="318" r="1.55" fill="#ffffff" stroke="#1e1e1e" stroke-width="0.7"/>
<circle cx="156.8" cy="318" r="1.55" fill="#ffffff" stroke="#1e1e1e" stroke-width="0.7"/>
<circle cx="166" cy="318" r="1.55" fill="#ffffff" stroke="#1e1e1e" stroke-width="0.7"/>
<circle cx="109.5" cy="323.4" r="1.55" fill="#ffffff" stroke="#1e1e1e" stroke-width="0.7"/>
<circle cx="113.2" cy="323.4" r="1.55" fill="#ffffff" stroke="#1e1e1e" stroke-width="0.7"/>
<circle cx="116.8" cy="323.4" r="1.55" fill="#ffffff" stroke="#1e1e1e" stroke-width="0.7"/>
<circle cx="124.1" cy="323.4" r="1.55" fill="#ffffff" stroke="#1e1e1e" stroke-width="0.7"/>
<circle cx="129.2" cy="323.4" r="1.55" fill="#ffffff" stroke="#1e1e1e" stroke-width="0.7"/>
<circle cx="138.6" cy="323.4" r="1.55" fill="#ffffff" stroke="#1e1e1e" stroke-width="0.7"/>
<circle cx="142.3" cy="323.4" r="1.55" fill="#ffffff" stroke="#1e1e1e" stroke-width="0.7"/>
<circle cx="148.8" cy="323.4" r="1.55" fill="#ffffff" stroke="#1e1e1e" stroke-width="0.7"/>
<circle cx="156.1" cy="323.4" r="1.55" fill="#ffffff" stroke="#1e1e1e" stroke-width="0.7"/>
<circle cx="159.7" cy="323.4" r="1.55" fill="#ffffff" stroke="#1e1e1e" stroke-width="0.7"/>
<circle cx="162.6" cy="323.4" r="1.55" fill="#ffffff" stroke="#1e1e1e" stroke-width="0.7"/>
<circle cx="165.5" cy="323.4" r="1.55" fill="#ffffff" stroke="#1e1e1e" stroke-width="0.7"/>
<circle cx="177.7" cy="323.5" r="1.55" fill="#ffffff" stroke="#1e1e1e" stroke-width="0.7"/>
<circle cx="105.5" cy="328.7" r="1.55" fill="#ffffff" stroke="#1e1e1e" stroke-width="0.7"/>
<circle cx="111.7" cy="328.7" r="1.55" fill="#ffffff" stroke="#1e1e1e" stroke-width="0.7"/>
<circle cx="113.9" cy="328.7" r="1.55" fill="#ffffff" stroke="#1e1e1e" stroke-width="0.7"/>
<circle cx="116.5" cy="328.7" r="1.55" fill="#ffffff" stroke="#1e1e1e" stroke-width="0.7"/>
<circle cx="127.7" cy="328.7" r="1.55" fill="#ffffff" stroke="#1e1e1e" stroke-width="0.7"/>
<circle cx="132.8" cy="328.7" r="1.55" fill="#ffffff" stroke="#1e1e1e" stroke-width="0.7"/>
<circle cx="137.9" cy="328.7" r="1.55" fill="#ffffff" stroke="#1e1e1e" stroke-width="0.7"/>
<circle cx="145.2" cy="328.7" r="1.55" fill="#ffffff" stroke="#1e1e1e" stroke-width="0.7"/>
<circle cx="148.8" cy="328.7" r="1.55" fill="#ffffff" stroke="#1e1e1e" stroke-width="0.7"/>
<circle cx="167.9" cy="328.7" r="1.55" fill="#ffffff" stroke="#1e1e1e" stroke-width="0.7"/>
<g stroke="#111" stroke-width="1.3" fill="none">
<path d="M68.6,208.8 L68.6,334.1 L254.4,334.1"/>
<line x1="66.19999999999999" y1="219.8" x2="68.6" y2="219.8"/>
<line x1="66.19999999999999" y1="240.42000000000002" x2="68.6" y2="240.42000000000002"/>
<line x1="66.19999999999999" y1="261.04" x2="68.6" y2="261.04"/>
<line x1="66.19999999999999" y1="281.66" x2="68.6" y2="281.66"/>
<line x1="66.19999999999999" y1="302.28000000000003" x2="68.6" y2="302.28000000000003"/>
<line x1="66.19999999999999" y1="322.90000000000003" x2="68.6" y2="322.90000000000003"/>
<line x1="68.6" y1="334.1" x2="68.6" y2="336.5"/>
<line x1="99.55" y1="334.1" x2="99.55" y2="336.5"/>
<line x1="130.5" y1="334.1" x2="130.5" y2="336.5"/>
<line x1="161.45" y1="334.1" x2="161.45" y2="336.5"/>
<line x1="192.39999999999998" y1="334.1" x2="192.39999999999998" y2="336.5"/>
<line x1="223.35" y1="334.1" x2="223.35" y2="336.5"/>
<line x1="254.29999999999998" y1="334.1" x2="254.29999999999998" y2="336.5"/>
</g>
<text x="65" y="222.5" font-size="7.8" font-weight="bold" fill="#000" stroke="#000" stroke-width="0.28" text-anchor="end" font-family="'Liberation Sans', Arial, sans-serif" >WIK Zebrafish</text>
<text x="65" y="243.12" font-size="7.8" font-weight="bold" fill="#000" stroke="#000" stroke-width="0.28" text-anchor="end" font-family="'Liberation Sans', Arial, sans-serif" >PET Zebrafish</text>
<text x="65" y="259.74" font-size="7.8" font-weight="bold" fill="#000" stroke="#000" stroke-width="0.28" text-anchor="end" font-family="'Liberation Sans', Arial, sans-serif" >Golden</text>
<text x="65" y="268.54" font-size="7.8" font-weight="bold" fill="#000" stroke="#000" stroke-width="0.28" text-anchor="end" font-family="'Liberation Sans', Arial, sans-serif" >Zebrafish</text>
<text x="65" y="284.36" font-size="7.8" font-weight="bold" fill="#000" stroke="#000" stroke-width="0.28" text-anchor="end" font-family="'Liberation Sans', Arial, sans-serif" >TL Zebrafish</text>
<text x="65" y="300.98" font-size="7.8" font-weight="bold" fill="#000" stroke="#000" stroke-width="0.28" text-anchor="end" font-family="'Liberation Sans', Arial, sans-serif" >Absolute</text>
<text x="65" y="309.78000000000003" font-size="7.8" font-weight="bold" fill="#000" stroke="#000" stroke-width="0.28" text-anchor="end" font-family="'Liberation Sans', Arial, sans-serif" >Zebrafish</text>
<text x="65" y="325.6" font-size="7.8" font-weight="bold" fill="#000" stroke="#000" stroke-width="0.28" text-anchor="end" font-family="'Liberation Sans', Arial, sans-serif" >AB Zebrafish</text>
<text x="68.6" y="346.0" font-size="9.6" font-weight="bold" fill="#000" stroke="#000" stroke-width="0.28" text-anchor="middle" font-family="'Liberation Sans', Arial, sans-serif" >1</text>
<text x="99.55" y="346.0" font-size="9.6" font-weight="bold" fill="#000" stroke="#000" stroke-width="0.28" text-anchor="middle" font-family="'Liberation Sans', Arial, sans-serif" >2</text>
<text x="130.5" y="346.0" font-size="9.6" font-weight="bold" fill="#000" stroke="#000" stroke-width="0.28" text-anchor="middle" font-family="'Liberation Sans', Arial, sans-serif" >3</text>
<text x="161.45" y="346.0" font-size="9.6" font-weight="bold" fill="#000" stroke="#000" stroke-width="0.28" text-anchor="middle" font-family="'Liberation Sans', Arial, sans-serif" >4</text>
<text x="192.39999999999998" y="346.0" font-size="9.6" font-weight="bold" fill="#000" stroke="#000" stroke-width="0.28" text-anchor="middle" font-family="'Liberation Sans', Arial, sans-serif" >5</text>
<text x="223.35" y="346.0" font-size="9.6" font-weight="bold" fill="#000" stroke="#000" stroke-width="0.28" text-anchor="middle" font-family="'Liberation Sans', Arial, sans-serif" >6</text>
<text x="254.29999999999998" y="346.0" font-size="9.6" font-weight="bold" fill="#000" stroke="#000" stroke-width="0.28" text-anchor="middle" font-family="'Liberation Sans', Arial, sans-serif" >7</text>
<text x="160.7" y="358.3" font-size="9.8" font-weight="bold" fill="#000" stroke="#000" stroke-width="0.3" text-anchor="middle" textLength="189.6" lengthAdjust="spacingAndGlyphs" font-family="'Liberation Sans', Arial, sans-serif">Average Nearest Neighbor Distance (cm)</text>
<text x="12.2" y="206.8" font-size="11.5" font-weight="bold" fill="#000" stroke="#000" stroke-width="0.35" text-anchor="start" font-family="'Liberation Sans', Arial, sans-serif" >(C)</text>
<path d="M403.00,218.90 C403.17,218.32 403.17,216.40 404.00,215.40 C404.83,214.40 406.17,213.35 408.00,212.90 C409.83,212.45 412.83,212.53 415.00,212.70 C417.17,212.87 419.33,213.37 421.00,213.90 C422.67,214.43 423.50,215.43 425.00,215.90 C426.50,216.37 428.17,216.58 430.00,216.70 C431.83,216.82 434.17,216.98 436.00,216.60 C437.83,216.22 439.17,215.10 441.00,214.40 C442.83,213.70 444.67,212.68 447.00,212.40 C449.33,212.12 452.83,212.28 455.00,212.70 C457.17,213.12 458.37,214.23 460.00,214.90 C461.63,215.57 463.47,216.62 464.80,216.70 C466.13,216.78 466.80,215.73 468.00,215.40 C469.20,215.07 470.83,214.62 472.00,214.70 C473.17,214.78 474.33,215.20 475.00,215.90 C475.67,216.60 475.83,218.40 476.00,218.90 L476.00,218.90 C475.83,219.40 475.67,221.20 475.00,221.90 C474.33,222.60 473.17,223.02 472.00,223.10 C470.83,223.18 469.20,222.73 468.00,222.40 C466.80,222.07 466.13,221.02 464.80,221.10 C463.47,221.18 461.63,222.23 460.00,222.90 C458.37,223.57 457.17,224.68 455.00,225.10 C452.83,225.52 449.33,225.68 447.00,225.40 C444.67,225.12 442.83,224.10 441.00,223.40 C439.17,222.70 437.83,221.58 436.00,221.20 C434.17,220.82 431.83,220.98 430.00,221.10 C428.17,221.22 426.50,221.43 425.00,221.90 C423.50,222.37 422.67,223.37 421.00,223.90 C419.33,224.43 417.17,224.93 415.00,225.10 C412.83,225.27 409.83,225.35 408.00,224.90 C406.17,224.45 404.83,223.40 404.00,222.40 C403.17,221.40 403.17,219.48 403.00,218.90 Z" fill="#aaaaad"/>
<line x1="412" y1="212.5" x2="412" y2="223.5" stroke="#f4f000" stroke-width="1.9"/>
<line x1="451" y1="213" x2="451" y2="225" stroke="#f4f000" stroke-width="1.9"/>
<line x1="443" y1="214" x2="443" y2="224" stroke="#35e0a8" stroke-width="1.9"/>
<circle cx="406.6" cy="216" r="1.55" fill="#c44a0c" stroke="#2c0e00" stroke-width="0.75"/>
<circle cx="410.3" cy="216" r="1.55" fill="#c44a0c" stroke="#2c0e00" stroke-width="0.75"/>
<circle cx="414.6" cy="216" r="1.55" fill="#c44a0c" stroke="#2c0e00" stroke-width="0.75"/>
<circle cx="409.5" cy="218.9" r="1.55" fill="#c44a0c" stroke="#2c0e00" stroke-width="0.75"/>
<circle cx="412.5" cy="218.9" r="1.55" fill="#c44a0c" stroke="#2c0e00" stroke-width="0.75"/>
<circle cx="405.5" cy="221.8" r="1.55" fill="#c44a0c" stroke="#2c0e00" stroke-width="0.75"/>
<circle cx="412.2" cy="221.8" r="1.55" fill="#c44a0c" stroke="#2c0e00" stroke-width="0.75"/>
<circle cx="411.7" cy="224.6" r="1.55" fill="#c44a0c" stroke="#2c0e00" stroke-width="0.75"/>
<circle cx="418.6" cy="218.9" r="1.55" fill="#c44a0c" stroke="#2c0e00" stroke-width="0.75"/>
<circle cx="436.5" cy="218.9" r="1.55" fill="#c44a0c" stroke="#2c0e00" stroke-width="0.75"/>
<circle cx="443" cy="218.9" r="1.55" fill="#c44a0c" stroke="#2c0e00" stroke-width="0.75"/>
<circle cx="445.9" cy="218.9" r="1.55" fill="#c44a0c" stroke="#2c0e00" stroke-width="0.75"/>
<circle cx="448.8" cy="216" r="1.55" fill="#c44a0c" stroke="#2c0e00" stroke-width="0.75"/>
<circle cx="450.3" cy="213.2" r="1.55" fill="#c44a0c" stroke="#2c0e00" stroke-width="0.75"/>
<circle cx="448.8" cy="218.9" r="1.55" fill="#c44a0c" stroke="#2c0e00" stroke-width="0.75"/>
<circle cx="452.5" cy="218.9" r="1.55" fill="#c44a0c" stroke="#2c0e00" stroke-width="0.75"/>
<circle cx="449.5" cy="221.8" r="1.55" fill="#c44a0c" stroke="#2c0e00" stroke-width="0.75"/>
<circle cx="451.7" cy="224.6" r="1.55" fill="#c44a0c" stroke="#2c0e00" stroke-width="0.75"/>
<circle cx="469.7" cy="218.9" r="1.55" fill="#c44a0c" stroke="#2c0e00" stroke-width="0.75"/>
<circle cx="473.5" cy="218.9" r="1.55" fill="#c44a0c" stroke="#2c0e00" stroke-width="0.75"/>
<circle cx="472.2" cy="222" r="1.55" fill="#c44a0c" stroke="#2c0e00" stroke-width="0.75"/>
<path d="M413.50,240.10 C413.67,239.43 413.75,237.18 414.50,236.10 C415.25,235.02 415.75,234.10 418.00,233.60 C420.25,233.10 425.17,233.10 428.00,233.10 C430.83,233.10 433.33,233.13 435.00,233.60 C436.67,234.07 435.50,235.50 438.00,235.90 C440.50,236.30 446.00,235.97 450.00,236.00 C454.00,236.03 459.00,235.83 462.00,236.10 C465.00,236.37 465.67,237.23 468.00,237.60 C470.33,237.97 472.33,238.15 476.00,238.30 C479.67,238.45 485.17,238.47 490.00,238.50 C494.83,238.53 501.67,238.53 505.00,238.50 C508.33,238.47 508.92,238.03 510.00,238.30 C511.08,238.57 511.25,239.80 511.50,240.10 L511.50,240.10 C511.25,240.40 511.08,241.63 510.00,241.90 C508.92,242.17 508.33,241.73 505.00,241.70 C501.67,241.67 494.83,241.67 490.00,241.70 C485.17,241.73 479.67,241.75 476.00,241.90 C472.33,242.05 470.33,242.23 468.00,242.60 C465.67,242.97 465.00,243.83 462.00,244.10 C459.00,244.37 454.00,244.17 450.00,244.20 C446.00,244.23 440.50,243.90 438.00,244.30 C435.50,244.70 436.67,246.13 435.00,246.60 C433.33,247.07 430.83,247.10 428.00,247.10 C425.17,247.10 420.25,247.10 418.00,246.60 C415.75,246.10 415.25,245.18 414.50,244.10 C413.75,243.02 413.67,240.77 413.50,240.10 Z" fill="#aaaaad"/>
<line x1="424.3" y1="233.5" x2="424.3" y2="246.5" stroke="#f4f000" stroke-width="1.9"/>
<line x1="432.2" y1="233.5" x2="432.2" y2="246.5" stroke="#35e0a8" stroke-width="1.9"/>
<path d="M419.2,232.55L421.05,234.4L419.2,236.25L417.34999999999997,234.4Z" fill="#4e1480" stroke="#22063c" stroke-width="0.5"/>
<path d="M430,232.55L431.85,234.4L430,236.25L428.15,234.4Z" fill="#4e1480" stroke="#22063c" stroke-width="0.5"/>
<path d="M419.2,235.35L421.05,237.2L419.2,239.04999999999998L417.34999999999997,237.2Z" fill="#4e1480" stroke="#22063c" stroke-width="0.5"/>
<path d="M427.5,235.35L429.35,237.2L427.5,239.04999999999998L425.65,237.2Z" fill="#4e1480" stroke="#22063c" stroke-width="0.5"/>
<path d="M433.2,235.35L435.05,237.2L433.2,239.04999999999998L431.34999999999997,237.2Z" fill="#4e1480" stroke="#22063c" stroke-width="0.5"/>
<path d="M415.4,238.25L417.25,240.1L415.4,241.95L413.54999999999995,240.1Z" fill="#4e1480" stroke="#22063c" stroke-width="0.5"/>
<path d="M419.8,238.25L421.65000000000003,240.1L419.8,241.95L417.95,240.1Z" fill="#4e1480" stroke="#22063c" stroke-width="0.5"/>
<path d="M424.3,238.25L426.15000000000003,240.1L424.3,241.95L422.45,240.1Z" fill="#4e1480" stroke="#22063c" stroke-width="0.5"/>
<path d="M428.1,238.25L429.95000000000005,240.1L428.1,241.95L426.25,240.1Z" fill="#4e1480" stroke="#22063c" stroke-width="0.5"/>
<path d="M431.9,238.25L433.75,240.1L431.9,241.95L430.04999999999995,240.1Z" fill="#4e1480" stroke="#22063c" stroke-width="0.5"/>
<path d="M419.8,241.15L421.65000000000003,243L419.8,244.85L417.95,243Z" fill="#4e1480" stroke="#22063c" stroke-width="0.5"/>
<path d="M424.3,241.15L426.15000000000003,243L424.3,244.85L422.45,243Z" fill="#4e1480" stroke="#22063c" stroke-width="0.5"/>
<path d="M428.7,241.15L430.55,243L428.7,244.85L426.84999999999997,243Z" fill="#4e1480" stroke="#22063c" stroke-width="0.5"/>
<path d="M433.2,241.15L435.05,243L433.2,244.85L431.34999999999997,243Z" fill="#4e1480" stroke="#22063c" stroke-width="0.5"/>
<path d="M420.5,243.75L422.35,245.6L420.5,247.45L418.65,245.6Z" fill="#4e1480" stroke="#22063c" stroke-width="0.5"/>
<path d="M428.7,243.75L430.55,245.6L428.7,247.45L426.84999999999997,245.6Z" fill="#4e1480" stroke="#22063c" stroke-width="0.5"/>
<path d="M431.9,243.75L433.75,245.6L431.9,247.45L430.04999999999995,245.6Z" fill="#4e1480" stroke="#22063c" stroke-width="0.5"/>
<path d="M446.5,232.55L448.35,234.4L446.5,236.25L444.65,234.4Z" fill="#4e1480" stroke="#22063c" stroke-width="0.5"/>
<path d="M446.5,235.35L448.35,237.2L446.5,239.04999999999998L444.65,237.2Z" fill="#4e1480" stroke="#22063c" stroke-width="0.5"/>
<path d="M443.4,238.25L445.25,240.1L443.4,241.95L441.54999999999995,240.1Z" fill="#4e1480" stroke="#22063c" stroke-width="0.5"/>
<path d="M447.2,238.25L449.05,240.1L447.2,241.95L445.34999999999997,240.1Z" fill="#4e1480" stroke="#22063c" stroke-width="0.5"/>
<path d="M445.3,241.15L447.15000000000003,243L445.3,244.85L443.45,243Z" fill="#4e1480" stroke="#22063c" stroke-width="0.5"/>
<path d="M454.8,235.35L456.65000000000003,237.2L454.8,239.04999999999998L452.95,237.2Z" fill="#4e1480" stroke="#22063c" stroke-width="0.5"/>
<path d="M454.2,238.25L456.05,240.1L454.2,241.95L452.34999999999997,240.1Z" fill="#4e1480" stroke="#22063c" stroke-width="0.5"/>
<path d="M455.5,241.15L457.35,243L455.5,244.85L453.65,243Z" fill="#4e1480" stroke="#22063c" stroke-width="0.5"/>
<path d="M458.6,238.25L460.45000000000005,240.1L458.6,241.95L456.75,240.1Z" fill="#4e1480" stroke="#22063c" stroke-width="0.5"/>
<path d="M461.8,238.25L463.65000000000003,240.1L461.8,241.95L459.95,240.1Z" fill="#4e1480" stroke="#22063c" stroke-width="0.5"/>
<path d="M490.2,237.95000000000002L492.05,239.8L490.2,241.65L488.34999999999997,239.8Z" fill="#4e1480" stroke="#22063c" stroke-width="0.5"/>
<path d="M508.4,237.05L510.25,238.9L508.4,240.75L506.54999999999995,238.9Z" fill="#4e1480" stroke="#22063c" stroke-width="0.5"/>
<path d="M510.3,240.45000000000002L512.15,242.3L510.3,244.15L508.45,242.3Z" fill="#4e1480" stroke="#22063c" stroke-width="0.5"/>
<path d="M368.30,260.40 C368.37,259.80 366.75,257.40 368.70,256.80 C370.65,256.20 377.12,256.83 380.00,256.80 C382.88,256.77 384.00,256.92 386.00,256.60 C388.00,256.28 389.67,255.30 392.00,254.90 C394.33,254.50 397.33,254.28 400.00,254.20 C402.67,254.12 405.83,254.12 408.00,254.40 C410.17,254.68 411.00,255.40 413.00,255.90 C415.00,256.40 417.83,257.02 420.00,257.40 C422.17,257.78 424.00,258.08 426.00,258.20 C428.00,258.32 430.00,258.40 432.00,258.10 C434.00,257.80 435.00,256.68 438.00,256.40 C441.00,256.12 445.50,256.40 450.00,256.40 C454.50,256.40 461.17,256.27 465.00,256.40 C468.83,256.53 471.25,256.53 473.00,257.20 C474.75,257.87 475.08,259.87 475.50,260.40 L475.50,260.40 C475.08,260.93 474.75,262.93 473.00,263.60 C471.25,264.27 468.83,264.27 465.00,264.40 C461.17,264.53 454.50,264.40 450.00,264.40 C445.50,264.40 441.00,264.68 438.00,264.40 C435.00,264.12 434.00,263.00 432.00,262.70 C430.00,262.40 428.00,262.48 426.00,262.60 C424.00,262.72 422.17,263.02 420.00,263.40 C417.83,263.78 415.00,264.40 413.00,264.90 C411.00,265.40 410.17,266.12 408.00,266.40 C405.83,266.68 402.67,266.68 400.00,266.60 C397.33,266.52 394.33,266.30 392.00,265.90 C389.67,265.50 388.00,264.52 386.00,264.20 C384.00,263.88 382.88,264.03 380.00,264.00 C377.12,263.97 370.65,264.60 368.70,264.00 C366.75,263.40 368.37,261.00 368.30,260.40 Z" fill="#aaaaad"/>
<line x1="397.8" y1="256" x2="397.8" y2="265" stroke="#f4f000" stroke-width="1.9"/>
<line x1="444.5" y1="258" x2="444.5" y2="263" stroke="#f4f000" stroke-width="1.9"/>
<line x1="406.5" y1="255" x2="406.5" y2="266" stroke="#35e0a8" stroke-width="1.9"/>
<path d="M367.8,255.255L371.2,255.255L369.5,258.485Z" fill="#237a38" stroke="#062010" stroke-width="0.5"/>
<path d="M368.5,258.15500000000003L371.9,258.15500000000003L370.2,261.38500000000005Z" fill="#237a38" stroke="#062010" stroke-width="0.5"/>
<path d="M367.8,261.055L371.2,261.055L369.5,264.285Z" fill="#237a38" stroke="#062010" stroke-width="0.5"/>
<path d="M375.0,255.255L378.4,255.255L376.7,258.485Z" fill="#237a38" stroke="#062010" stroke-width="0.5"/>
<path d="M375.8,258.15500000000003L379.2,258.15500000000003L377.5,261.38500000000005Z" fill="#237a38" stroke="#062010" stroke-width="0.5"/>
<path d="M376.5,261.055L379.9,261.055L378.2,264.285Z" fill="#237a38" stroke="#062010" stroke-width="0.5"/>
<path d="M393.90000000000003,258.15500000000003L397.3,258.15500000000003L395.6,261.38500000000005Z" fill="#237a38" stroke="#062010" stroke-width="0.5"/>
<path d="M396.1,256.055L399.5,256.055L397.8,259.285Z" fill="#237a38" stroke="#062010" stroke-width="0.5"/>
<path d="M397.6,259.65500000000003L401.0,259.65500000000003L399.3,262.88500000000005Z" fill="#237a38" stroke="#062010" stroke-width="0.5"/>
<path d="M399.0,261.055L402.4,261.055L400.7,264.285Z" fill="#237a38" stroke="#062010" stroke-width="0.5"/>
<path d="M400.5,256.055L403.9,256.055L402.2,259.285Z" fill="#237a38" stroke="#062010" stroke-width="0.5"/>
<path d="M401.2,258.15500000000003L404.59999999999997,258.15500000000003L402.9,261.38500000000005Z" fill="#237a38" stroke="#062010" stroke-width="0.5"/>
<path d="M401.90000000000003,261.055L405.3,261.055L403.6,264.285Z" fill="#237a38" stroke="#062010" stroke-width="0.5"/>
<path d="M403.40000000000003,256.055L406.8,256.055L405.1,259.285Z" fill="#237a38" stroke="#062010" stroke-width="0.5"/>
<path d="M404.8,253.055L408.2,253.055L406.5,256.285Z" fill="#237a38" stroke="#062010" stroke-width="0.5"/>
<path d="M405.6,258.15500000000003L409.0,258.15500000000003L407.3,261.38500000000005Z" fill="#237a38" stroke="#062010" stroke-width="0.5"/>
<path d="M401.90000000000003,264.055L405.3,264.055L403.6,267.285Z" fill="#237a38" stroke="#062010" stroke-width="0.5"/>
<path d="M404.8,264.055L408.2,264.055L406.5,267.285Z" fill="#237a38" stroke="#062010" stroke-width="0.5"/>
<path d="M399.8,262.555L403.2,262.555L401.5,265.785Z" fill="#237a38" stroke="#062010" stroke-width="0.5"/>
<path d="M396.8,258.15500000000003L400.2,258.15500000000003L398.5,261.38500000000005Z" fill="#237a38" stroke="#062010" stroke-width="0.5"/>
<path d="M392.3,256.055L395.7,256.055L394,259.285Z" fill="#237a38" stroke="#062010" stroke-width="0.5"/>
<path d="M394.3,261.055L397.7,261.055L396,264.285Z" fill="#237a38" stroke="#062010" stroke-width="0.5"/>
<path d="M437.0,256.055L440.4,256.055L438.7,259.285Z" fill="#237a38" stroke="#062010" stroke-width="0.5"/>
<path d="M437.8,258.955L441.2,258.955L439.5,262.185Z" fill="#237a38" stroke="#062010" stroke-width="0.5"/>
<path d="M440.7,261.055L444.09999999999997,261.055L442.4,264.285Z" fill="#237a38" stroke="#062010" stroke-width="0.5"/>
<path d="M442.8,256.055L446.2,256.055L444.5,259.285Z" fill="#237a38" stroke="#062010" stroke-width="0.5"/>
<path d="M442.8,258.955L446.2,258.955L444.5,262.185Z" fill="#237a38" stroke="#062010" stroke-width="0.5"/>
<path d="M445.8,261.055L449.2,261.055L447.5,264.285Z" fill="#237a38" stroke="#062010" stroke-width="0.5"/>
<path d="M451.6,258.15500000000003L455.0,258.15500000000003L453.3,261.38500000000005Z" fill="#237a38" stroke="#062010" stroke-width="0.5"/>
<path d="M458.1,258.15500000000003L461.5,258.15500000000003L459.8,261.38500000000005Z" fill="#237a38" stroke="#062010" stroke-width="0.5"/>
<path d="M463.2,258.955L466.59999999999997,258.955L464.9,262.185Z" fill="#237a38" stroke="#062010" stroke-width="0.5"/>
<path d="M465.40000000000003,256.055L468.8,256.055L467.1,259.285Z" fill="#237a38" stroke="#062010" stroke-width="0.5"/>
<path d="M463.90000000000003,261.055L467.3,261.055L465.6,264.285Z" fill="#237a38" stroke="#062010" stroke-width="0.5"/>
<path d="M471.90000000000003,258.15500000000003L475.3,258.15500000000003L473.6,261.38500000000005Z" fill="#237a38" stroke="#062010" stroke-width="0.5"/>
<path d="M380.50,281.60 C380.55,280.85 379.88,278.02 380.80,277.10 C381.72,276.18 383.63,276.27 386.00,276.10 C388.37,275.93 392.50,276.02 395.00,276.10 C397.50,276.18 399.00,276.23 401.00,276.60 C403.00,276.97 405.17,278.22 407.00,278.30 C408.83,278.38 410.17,277.58 412.00,277.10 C413.83,276.62 415.00,275.68 418.00,275.40 C421.00,275.12 427.00,275.20 430.00,275.40 C433.00,275.60 433.77,276.12 436.00,276.60 C438.23,277.08 441.40,278.22 443.40,278.30 C445.40,278.38 446.40,277.22 448.00,277.10 C449.60,276.98 451.50,277.27 453.00,277.60 C454.50,277.93 456.08,278.43 457.00,279.10 C457.92,279.77 458.25,281.18 458.50,281.60 L458.50,281.60 C458.25,282.02 457.92,283.43 457.00,284.10 C456.08,284.77 454.50,285.27 453.00,285.60 C451.50,285.93 449.60,286.22 448.00,286.10 C446.40,285.98 445.40,284.82 443.40,284.90 C441.40,284.98 438.23,286.12 436.00,286.60 C433.77,287.08 433.00,287.60 430.00,287.80 C427.00,288.00 421.00,288.08 418.00,287.80 C415.00,287.52 413.83,286.58 412.00,286.10 C410.17,285.62 408.83,284.82 407.00,284.90 C405.17,284.98 403.00,286.23 401.00,286.60 C399.00,286.97 397.50,287.02 395.00,287.10 C392.50,287.18 388.37,287.27 386.00,287.10 C383.63,286.93 381.72,287.02 380.80,286.10 C379.88,285.18 380.55,282.35 380.50,281.60 Z" fill="#aaaaad"/>
<line x1="393.9" y1="276" x2="393.9" y2="286.5" stroke="#f4f000" stroke-width="1.9"/>
<line x1="433.2" y1="279" x2="433.2" y2="285" stroke="#f4f000" stroke-width="1.9"/>
<line x1="420.1" y1="276" x2="420.1" y2="287" stroke="#35e0a8" stroke-width="1.9"/>
<path d="M379.8,284.445L383.2,284.445L381.5,281.215Z" fill="#36598f" stroke="#0a1a36" stroke-width="0.5"/>
<path d="M381.3,281.645L384.7,281.645L383,278.41499999999996Z" fill="#36598f" stroke="#0a1a36" stroke-width="0.5"/>
<path d="M382.8,279.445L386.2,279.445L384.5,276.215Z" fill="#36598f" stroke="#0a1a36" stroke-width="0.5"/>
<path d="M384.2,277.245L387.59999999999997,277.245L385.9,274.015Z" fill="#36598f" stroke="#0a1a36" stroke-width="0.5"/>
<path d="M384.90000000000003,281.645L388.3,281.645L386.6,278.41499999999996Z" fill="#36598f" stroke="#0a1a36" stroke-width="0.5"/>
<path d="M384.2,285.245L387.59999999999997,285.245L385.9,282.015Z" fill="#36598f" stroke="#0a1a36" stroke-width="0.5"/>
<path d="M384.90000000000003,288.145L388.3,288.145L386.6,284.91499999999996Z" fill="#36598f" stroke="#0a1a36" stroke-width="0.5"/>
<path d="M387.8,281.645L391.2,281.645L389.5,278.41499999999996Z" fill="#36598f" stroke="#0a1a36" stroke-width="0.5"/>
<path d="M387.8,285.245L391.2,285.245L389.5,282.015Z" fill="#36598f" stroke="#0a1a36" stroke-width="0.5"/>
<path d="M393.7,281.645L397.09999999999997,281.645L395.4,278.41499999999996Z" fill="#36598f" stroke="#0a1a36" stroke-width="0.5"/>
<path d="M394.8,284.445L398.2,284.445L396.5,281.215Z" fill="#36598f" stroke="#0a1a36" stroke-width="0.5"/>
<path d="M396.6,288.145L400.0,288.145L398.3,284.91499999999996Z" fill="#36598f" stroke="#0a1a36" stroke-width="0.5"/>
<path d="M398.0,277.945L401.4,277.945L399.7,274.715Z" fill="#36598f" stroke="#0a1a36" stroke-width="0.5"/>
<path d="M399.5,284.445L402.9,284.445L401.2,281.215Z" fill="#36598f" stroke="#0a1a36" stroke-width="0.5"/>
<path d="M413.3,284.445L416.7,284.445L415,281.215Z" fill="#36598f" stroke="#0a1a36" stroke-width="0.5"/>
<path d="M414.8,281.645L418.2,281.645L416.5,278.41499999999996Z" fill="#36598f" stroke="#0a1a36" stroke-width="0.5"/>
<path d="M416.90000000000003,279.445L420.3,279.445L418.6,276.215Z" fill="#36598f" stroke="#0a1a36" stroke-width="0.5"/>
<path d="M418.40000000000003,277.245L421.8,277.245L420.1,274.015Z" fill="#36598f" stroke="#0a1a36" stroke-width="0.5"/>
<path d="M417.7,284.445L421.09999999999997,284.445L419.4,281.215Z" fill="#36598f" stroke="#0a1a36" stroke-width="0.5"/>
<path d="M419.8,281.645L423.2,281.645L421.5,278.41499999999996Z" fill="#36598f" stroke="#0a1a36" stroke-width="0.5"/>
<path d="M421.3,279.445L424.7,279.445L423,276.215Z" fill="#36598f" stroke="#0a1a36" stroke-width="0.5"/>
<path d="M422.8,284.445L426.2,284.445L424.5,281.215Z" fill="#36598f" stroke="#0a1a36" stroke-width="0.5"/>
<path d="M424.90000000000003,277.245L428.3,277.245L426.6,274.015Z" fill="#36598f" stroke="#0a1a36" stroke-width="0.5"/>
<path d="M425.7,281.645L429.09999999999997,281.645L427.4,278.41499999999996Z" fill="#36598f" stroke="#0a1a36" stroke-width="0.5"/>
<path d="M427.1,284.445L430.5,284.445L428.8,281.215Z" fill="#36598f" stroke="#0a1a36" stroke-width="0.5"/>
<path d="M430.8,281.645L434.2,281.645L432.5,278.41499999999996Z" fill="#36598f" stroke="#0a1a36" stroke-width="0.5"/>
<path d="M435.8,285.245L439.2,285.245L437.5,282.015Z" fill="#36598f" stroke="#0a1a36" stroke-width="0.5"/>
<path d="M415.3,287.445L418.7,287.445L417,284.215Z" fill="#36598f" stroke="#0a1a36" stroke-width="0.5"/>
<path d="M425.3,287.445L428.7,287.445L427,284.215Z" fill="#36598f" stroke="#0a1a36" stroke-width="0.5"/>
<path d="M447.6,276.945L451.0,276.945L449.3,273.715Z" fill="#36598f" stroke="#0a1a36" stroke-width="0.5"/>
<path d="M446.5,281.245L449.9,281.245L448.2,278.015Z" fill="#36598f" stroke="#0a1a36" stroke-width="0.5"/>
<path d="M450.3,281.245L453.7,281.245L452,278.015Z" fill="#36598f" stroke="#0a1a36" stroke-width="0.5"/>
<path d="M455.2,281.84499999999997L458.59999999999997,281.84499999999997L456.9,278.61499999999995Z" fill="#36598f" stroke="#0a1a36" stroke-width="0.5"/>
<path d="M445.90000000000003,285.045L449.3,285.045L447.6,281.815Z" fill="#36598f" stroke="#0a1a36" stroke-width="0.5"/>
<path d="M448.7,288.34499999999997L452.09999999999997,288.34499999999997L450.4,285.11499999999995Z" fill="#36598f" stroke="#0a1a36" stroke-width="0.5"/>
<path d="M358.00,302.00 C358.03,301.58 356.20,299.87 358.20,299.50 C360.20,299.13 365.53,299.73 370.00,299.80 C374.47,299.87 381.33,300.03 385.00,299.90 C388.67,299.77 389.50,299.57 392.00,299.00 C394.50,298.43 397.67,297.08 400.00,296.50 C402.33,295.92 404.00,295.63 406.00,295.50 C408.00,295.37 409.67,295.37 412.00,295.70 C414.33,296.03 417.33,297.12 420.00,297.50 C422.67,297.88 425.00,297.95 428.00,298.00 C431.00,298.05 435.17,298.13 438.00,297.80 C440.83,297.47 442.17,296.33 445.00,296.00 C447.83,295.67 451.67,295.80 455.00,295.80 C458.33,295.80 462.50,295.72 465.00,296.00 C467.50,296.28 468.75,296.50 470.00,297.50 C471.25,298.50 472.08,301.25 472.50,302.00 L472.50,302.00 C472.08,302.75 471.25,305.50 470.00,306.50 C468.75,307.50 467.50,307.72 465.00,308.00 C462.50,308.28 458.33,308.20 455.00,308.20 C451.67,308.20 447.83,308.33 445.00,308.00 C442.17,307.67 440.83,306.53 438.00,306.20 C435.17,305.87 431.00,305.95 428.00,306.00 C425.00,306.05 422.67,306.12 420.00,306.50 C417.33,306.88 414.33,307.97 412.00,308.30 C409.67,308.63 408.00,308.63 406.00,308.50 C404.00,308.37 402.33,308.08 400.00,307.50 C397.67,306.92 394.50,305.57 392.00,305.00 C389.50,304.43 388.67,304.23 385.00,304.10 C381.33,303.97 374.47,304.13 370.00,304.20 C365.53,304.27 360.20,304.87 358.20,304.50 C356.20,304.13 358.03,302.42 358.00,302.00 Z" fill="#aaaaad"/>
<line x1="408.4" y1="296" x2="408.4" y2="307.5" stroke="#f4f000" stroke-width="1.9"/>
<line x1="453.3" y1="296" x2="453.3" y2="308" stroke="#f4f000" stroke-width="1.9"/>
<line x1="427.7" y1="297" x2="427.7" y2="307" stroke="#35e0a8" stroke-width="1.9"/>
<rect x="360.25" y="294.95" width="3.1" height="3.1" fill="#e00808" stroke="#4a0000" stroke-width="0.6"/>
<rect x="363.95" y="300.35" width="3.1" height="3.1" fill="#e00808" stroke="#4a0000" stroke-width="0.6"/>
<rect x="357.35" y="305.95" width="3.1" height="3.1" fill="#e00808" stroke="#4a0000" stroke-width="0.6"/>
<rect x="388.65" y="300.35" width="3.1" height="3.1" fill="#e00808" stroke="#4a0000" stroke-width="0.6"/>
<rect x="398.05" y="300.35" width="3.1" height="3.1" fill="#e00808" stroke="#4a0000" stroke-width="0.6"/>
<rect x="404.65" y="300.35" width="3.1" height="3.1" fill="#e00808" stroke="#4a0000" stroke-width="0.6"/>
<rect x="408.05" y="300.35" width="3.1" height="3.1" fill="#e00808" stroke="#4a0000" stroke-width="0.6"/>
<rect x="406.85" y="294.95" width="3.1" height="3.1" fill="#e00808" stroke="#4a0000" stroke-width="0.6"/>
<rect x="410.45" y="294.95" width="3.1" height="3.1" fill="#e00808" stroke="#4a0000" stroke-width="0.6"/>
<rect x="414.85" y="294.95" width="3.1" height="3.1" fill="#e00808" stroke="#4a0000" stroke-width="0.6"/>
<rect x="406.85" y="305.95" width="3.1" height="3.1" fill="#e00808" stroke="#4a0000" stroke-width="0.6"/>
<rect x="412.45" y="305.95" width="3.1" height="3.1" fill="#e00808" stroke="#4a0000" stroke-width="0.6"/>
<rect x="421.25" y="294.95" width="3.1" height="3.1" fill="#e00808" stroke="#4a0000" stroke-width="0.6"/>
<rect x="431.75" y="294.95" width="3.1" height="3.1" fill="#e00808" stroke="#4a0000" stroke-width="0.6"/>
<rect x="440.45" y="294.95" width="3.1" height="3.1" fill="#e00808" stroke="#4a0000" stroke-width="0.6"/>
<rect x="465.95" y="294.95" width="3.1" height="3.1" fill="#e00808" stroke="#4a0000" stroke-width="0.6"/>
<rect x="421.25" y="300.35" width="3.1" height="3.1" fill="#e00808" stroke="#4a0000" stroke-width="0.6"/>
<rect x="430.95" y="300.35" width="3.1" height="3.1" fill="#e00808" stroke="#4a0000" stroke-width="0.6"/>
<rect x="439.75" y="300.35" width="3.1" height="3.1" fill="#e00808" stroke="#4a0000" stroke-width="0.6"/>
<rect x="443.35" y="300.35" width="3.1" height="3.1" fill="#e00808" stroke="#4a0000" stroke-width="0.6"/>
<rect x="450.65" y="300.35" width="3.1" height="3.1" fill="#e00808" stroke="#4a0000" stroke-width="0.6"/>
<rect x="454.75" y="300.35" width="3.1" height="3.1" fill="#e00808" stroke="#4a0000" stroke-width="0.6"/>
<rect x="462.25" y="300.35" width="3.1" height="3.1" fill="#e00808" stroke="#4a0000" stroke-width="0.6"/>
<rect x="467.35" y="300.35" width="3.1" height="3.1" fill="#e00808" stroke="#4a0000" stroke-width="0.6"/>
<rect x="420.85" y="305.95" width="3.1" height="3.1" fill="#e00808" stroke="#4a0000" stroke-width="0.6"/>
<rect x="442.65" y="305.95" width="3.1" height="3.1" fill="#e00808" stroke="#4a0000" stroke-width="0.6"/>
<rect x="446.55" y="305.95" width="3.1" height="3.1" fill="#e00808" stroke="#4a0000" stroke-width="0.6"/>
<rect x="453.55" y="305.95" width="3.1" height="3.1" fill="#e00808" stroke="#4a0000" stroke-width="0.6"/>
<rect x="457.15" y="305.95" width="3.1" height="3.1" fill="#e00808" stroke="#4a0000" stroke-width="0.6"/>
<rect x="463.75" y="305.95" width="3.1" height="3.1" fill="#e00808" stroke="#4a0000" stroke-width="0.6"/>
<path d="M384.00,322.80 C384.08,321.97 383.50,318.78 384.50,317.80 C385.50,316.82 387.42,317.03 390.00,316.90 C392.58,316.77 397.50,316.77 400.00,317.00 C402.50,317.23 403.17,317.90 405.00,318.30 C406.83,318.70 409.17,319.57 411.00,319.40 C412.83,319.23 413.67,317.78 416.00,317.30 C418.33,316.82 422.17,316.58 425.00,316.50 C427.83,316.42 431.00,316.50 433.00,316.80 C435.00,317.10 435.83,317.83 437.00,318.30 C438.17,318.77 438.83,319.65 440.00,319.60 C441.17,319.55 442.50,318.38 444.00,318.00 C445.50,317.62 447.67,317.25 449.00,317.30 C450.33,317.35 451.25,317.38 452.00,318.30 C452.75,319.22 453.25,322.05 453.50,322.80 L453.50,322.80 C453.25,323.55 452.75,326.38 452.00,327.30 C451.25,328.22 450.33,328.25 449.00,328.30 C447.67,328.35 445.50,327.98 444.00,327.60 C442.50,327.22 441.17,326.05 440.00,326.00 C438.83,325.95 438.17,326.83 437.00,327.30 C435.83,327.77 435.00,328.50 433.00,328.80 C431.00,329.10 427.83,329.18 425.00,329.10 C422.17,329.02 418.33,328.78 416.00,328.30 C413.67,327.82 412.83,326.37 411.00,326.20 C409.17,326.03 406.83,326.90 405.00,327.30 C403.17,327.70 402.50,328.37 400.00,328.60 C397.50,328.83 392.58,328.83 390.00,328.70 C387.42,328.57 385.50,328.78 384.50,327.80 C383.50,326.82 384.08,323.63 384.00,322.80 Z" fill="#aaaaad"/>
<line x1="397.3" y1="318" x2="397.3" y2="325.5" stroke="#f4f000" stroke-width="1.9"/>
<line x1="431.8" y1="317" x2="431.8" y2="328" stroke="#f4f000" stroke-width="1.9"/>
<line x1="422.7" y1="317" x2="422.7" y2="328" stroke="#35e0a8" stroke-width="1.9"/>
<circle cx="389.1" cy="317.4" r="1.55" fill="#ffffff" stroke="#1e1e1e" stroke-width="0.7"/>
<circle cx="387.3" cy="320.5" r="1.55" fill="#ffffff" stroke="#1e1e1e" stroke-width="0.7"/>
<circle cx="390.9" cy="320.5" r="1.55" fill="#ffffff" stroke="#1e1e1e" stroke-width="0.7"/>
<circle cx="385.5" cy="324.1" r="1.55" fill="#ffffff" stroke="#1e1e1e" stroke-width="0.7"/>
<circle cx="389.1" cy="324.1" r="1.55" fill="#ffffff" stroke="#1e1e1e" stroke-width="0.7"/>
<circle cx="391.8" cy="324.1" r="1.55" fill="#ffffff" stroke="#1e1e1e" stroke-width="0.7"/>
<circle cx="388.2" cy="328.3" r="1.55" fill="#ffffff" stroke="#1e1e1e" stroke-width="0.7"/>
<circle cx="396.4" cy="320.5" r="1.55" fill="#ffffff" stroke="#1e1e1e" stroke-width="0.7"/>
<circle cx="397.3" cy="328.3" r="1.55" fill="#ffffff" stroke="#1e1e1e" stroke-width="0.7"/>
<circle cx="401.8" cy="324.1" r="1.55" fill="#ffffff" stroke="#1e1e1e" stroke-width="0.7"/>
<circle cx="405.5" cy="320.5" r="1.55" fill="#ffffff" stroke="#1e1e1e" stroke-width="0.7"/>
<circle cx="406.4" cy="324.1" r="1.55" fill="#ffffff" stroke="#1e1e1e" stroke-width="0.7"/>
<circle cx="418.2" cy="320.5" r="1.55" fill="#ffffff" stroke="#1e1e1e" stroke-width="0.7"/>
<circle cx="417.3" cy="324.1" r="1.55" fill="#ffffff" stroke="#1e1e1e" stroke-width="0.7"/>
<circle cx="422.7" cy="320.5" r="1.55" fill="#ffffff" stroke="#1e1e1e" stroke-width="0.7"/>
<circle cx="424.5" cy="317.4" r="1.55" fill="#ffffff" stroke="#1e1e1e" stroke-width="0.7"/>
<circle cx="428.2" cy="317.4" r="1.55" fill="#ffffff" stroke="#1e1e1e" stroke-width="0.7"/>
<circle cx="427.3" cy="320.5" r="1.55" fill="#ffffff" stroke="#1e1e1e" stroke-width="0.7"/>
<circle cx="430" cy="320.5" r="1.55" fill="#ffffff" stroke="#1e1e1e" stroke-width="0.7"/>
<circle cx="422.7" cy="324.1" r="1.55" fill="#ffffff" stroke="#1e1e1e" stroke-width="0.7"/>
<circle cx="427.3" cy="324.1" r="1.55" fill="#ffffff" stroke="#1e1e1e" stroke-width="0.7"/>
<circle cx="430.9" cy="324.1" r="1.55" fill="#ffffff" stroke="#1e1e1e" stroke-width="0.7"/>
<circle cx="428.2" cy="328.3" r="1.55" fill="#ffffff" stroke="#1e1e1e" stroke-width="0.7"/>
<circle cx="434.5" cy="320.5" r="1.55" fill="#ffffff" stroke="#1e1e1e" stroke-width="0.7"/>
<circle cx="424.5" cy="327.5" r="1.55" fill="#ffffff" stroke="#1e1e1e" stroke-width="0.7"/>
<circle cx="450" cy="317.4" r="1.55" fill="#ffffff" stroke="#1e1e1e" stroke-width="0.7"/>
<circle cx="445.5" cy="320.5" r="1.55" fill="#ffffff" stroke="#1e1e1e" stroke-width="0.7"/>
<circle cx="449.1" cy="320.5" r="1.55" fill="#ffffff" stroke="#1e1e1e" stroke-width="0.7"/>
<circle cx="447.3" cy="324.1" r="1.55" fill="#ffffff" stroke="#1e1e1e" stroke-width="0.7"/>
<circle cx="450.9" cy="324.1" r="1.55" fill="#ffffff" stroke="#1e1e1e" stroke-width="0.7"/>
<circle cx="451.8" cy="328.3" r="1.55" fill="#ffffff" stroke="#1e1e1e" stroke-width="0.7"/>
<g stroke="#111" stroke-width="1.3" fill="none">
<path d="M343.4,208.8 L343.4,334.1 L529.5,334.1"/>
<line x1="341.0" y1="219.8" x2="343.4" y2="219.8"/>
<line x1="341.0" y1="240.42000000000002" x2="343.4" y2="240.42000000000002"/>
<line x1="341.0" y1="261.04" x2="343.4" y2="261.04"/>
<line x1="341.0" y1="281.66" x2="343.4" y2="281.66"/>
<line x1="341.0" y1="302.28000000000003" x2="343.4" y2="302.28000000000003"/>
<line x1="341.0" y1="322.90000000000003" x2="343.4" y2="322.90000000000003"/>
<line x1="343.6" y1="334.1" x2="343.6" y2="336.5"/>
<line x1="380.74" y1="334.1" x2="380.74" y2="336.5"/>
<line x1="417.88" y1="334.1" x2="417.88" y2="336.5"/>
<line x1="455.02000000000004" y1="334.1" x2="455.02000000000004" y2="336.5"/>
<line x1="492.16" y1="334.1" x2="492.16" y2="336.5"/>
<line x1="529.3" y1="334.1" x2="529.3" y2="336.5"/>
</g>
<text x="340.2" y="222.5" font-size="7.8" font-weight="bold" fill="#000" stroke="#000" stroke-width="0.28" text-anchor="end" font-family="'Liberation Sans', Arial, sans-serif" >WIK Zebrafish</text>
<text x="340.2" y="243.12" font-size="7.8" font-weight="bold" fill="#000" stroke="#000" stroke-width="0.28" text-anchor="end" font-family="'Liberation Sans', Arial, sans-serif" >PET Zebrafish</text>
<text x="340.2" y="259.74" font-size="7.8" font-weight="bold" fill="#000" stroke="#000" stroke-width="0.28" text-anchor="end" font-family="'Liberation Sans', Arial, sans-serif" >Golden</text>
<text x="340.2" y="268.54" font-size="7.8" font-weight="bold" fill="#000" stroke="#000" stroke-width="0.28" text-anchor="end" font-family="'Liberation Sans', Arial, sans-serif" >Zebrafish</text>
<text x="340.2" y="284.36" font-size="7.8" font-weight="bold" fill="#000" stroke="#000" stroke-width="0.28" text-anchor="end" font-family="'Liberation Sans', Arial, sans-serif" >TL Zebrafish</text>
<text x="340.2" y="300.98" font-size="7.8" font-weight="bold" fill="#000" stroke="#000" stroke-width="0.28" text-anchor="end" font-family="'Liberation Sans', Arial, sans-serif" >Absolute</text>
<text x="340.2" y="309.78000000000003" font-size="7.8" font-weight="bold" fill="#000" stroke="#000" stroke-width="0.28" text-anchor="end" font-family="'Liberation Sans', Arial, sans-serif" >Zebrafish</text>
<text x="340.2" y="325.6" font-size="7.8" font-weight="bold" fill="#000" stroke="#000" stroke-width="0.28" text-anchor="end" font-family="'Liberation Sans', Arial, sans-serif" >AB Zebrafish</text>
<text x="343.6" y="346.0" font-size="9.6" font-weight="bold" fill="#000" stroke="#000" stroke-width="0.28" text-anchor="middle" font-family="'Liberation Sans', Arial, sans-serif" >2</text>
<text x="380.74" y="346.0" font-size="9.6" font-weight="bold" fill="#000" stroke="#000" stroke-width="0.28" text-anchor="middle" font-family="'Liberation Sans', Arial, sans-serif" >4</text>
<text x="417.88" y="346.0" font-size="9.6" font-weight="bold" fill="#000" stroke="#000" stroke-width="0.28" text-anchor="middle" font-family="'Liberation Sans', Arial, sans-serif" >6</text>
<text x="455.02000000000004" y="346.0" font-size="9.6" font-weight="bold" fill="#000" stroke="#000" stroke-width="0.28" text-anchor="middle" font-family="'Liberation Sans', Arial, sans-serif" >8</text>
<text x="492.16" y="346.0" font-size="9.6" font-weight="bold" fill="#000" stroke="#000" stroke-width="0.28" text-anchor="middle" font-family="'Liberation Sans', Arial, sans-serif" >10</text>
<text x="529.3" y="346.0" font-size="9.6" font-weight="bold" fill="#000" stroke="#000" stroke-width="0.28" text-anchor="middle" font-family="'Liberation Sans', Arial, sans-serif" >12</text>
<text x="436" y="358.3" font-size="9.8" font-weight="bold" fill="#000" stroke="#000" stroke-width="0.3" text-anchor="middle" textLength="192.7" lengthAdjust="spacingAndGlyphs" font-family="'Liberation Sans', Arial, sans-serif">Average Farthest Neighbor Distance (cm)</text>
<text x="271.5" y="206.8" font-size="11.5" font-weight="bold" fill="#000" stroke="#000" stroke-width="0.35" text-anchor="start" font-family="'Liberation Sans', Arial, sans-serif" >(D)</text>
<g stroke="#3a3a3a" stroke-width="1.3" fill="none">
<path d="M255.2,69.3 H257.8 V153.3 H255.2"/>
<path d="M525.0,219.5 H527.8 V321.9 H525.0"/>
<path d="M513.0,239.8 H515.9 V321.9 H513.0"/>
</g>
<text transform="translate(251.2,111.8) rotate(90)" x="0" y="0" font-size="7.3" font-weight="bold" fill="#e8343c" stroke="#e8343c" stroke-width="0.25" text-anchor="middle" dominant-baseline="central" textLength="30.9" lengthAdjust="spacingAndGlyphs" font-family="'Liberation Sans', Arial, sans-serif"><tspan font-style="italic">p</tspan> = 0.0371</text>
<text transform="translate(521.9,234.9) rotate(90)" x="0" y="0" font-size="7.3" font-weight="bold" fill="#e8343c" stroke="#e8343c" stroke-width="0.25" text-anchor="middle" dominant-baseline="central" textLength="29.7" lengthAdjust="spacingAndGlyphs" font-family="'Liberation Sans', Arial, sans-serif"><tspan font-style="italic">p</tspan> = 0.0171</text>
<text transform="translate(510.0,282.0) rotate(90)" x="0" y="0" font-size="7.3" font-weight="bold" fill="#e8343c" stroke="#e8343c" stroke-width="0.25" text-anchor="middle" dominant-baseline="central" textLength="31" lengthAdjust="spacingAndGlyphs" font-family="'Liberation Sans', Arial, sans-serif"><tspan font-style="italic">p</tspan> = 0.0008</text>
<text x="265.1" y="117.8" font-size="13" font-weight="bold" fill="#000" stroke="#000" stroke-width="0.4" text-anchor="middle" font-family="'Liberation Serif', serif">*</text>
<text x="535" y="276.7" font-size="13" font-weight="bold" fill="#000" stroke="#000" stroke-width="0.4" text-anchor="middle" font-family="'Liberation Serif', serif">*</text>
<text x="522.6" y="280.7" font-size="10.5" font-weight="bold" fill="#000" stroke="#000" stroke-width="0.4" text-anchor="middle" font-family="'Liberation Serif', serif">*</text>
<text x="522.6" y="285.7" font-size="10.5" font-weight="bold" fill="#000" stroke="#000" stroke-width="0.4" text-anchor="middle" font-family="'Liberation Serif', serif">*</text>
<text x="522.6" y="290.7" font-size="10.5" font-weight="bold" fill="#000" stroke="#000" stroke-width="0.4" text-anchor="middle" font-family="'Liberation Serif', serif">*</text>
<polygon points="23.9,426.3 181.5,426.3 181.5,495.6 54.7,495.6" fill="#e2f3fb"/>
<path d="M146.0 458.2 141.0 457.5 134.5 458.1 128.6 457.2 122.2 455.6 114.5 454.1 107.0 454.1 102.5 455.9 94.8 452.8 87.9 453.0 81.8 454.2 76.1 450.8 69.2 450.6 63.9 448.7 57.0 448.4 49.3 446.7 41.9 447.8 50.2 448.0 56.5 447.1 60.9 449.0 68.3 451.7 74.8 450.7 80.3 449.9 87.0 450.9 92.3 450.8 98.6 449.6 107.5 451.6 112.0 451.8 119.1 451.3 124.3 454.4 132.1 452.4 139.1 452.6 144.9 453.7 151.7 455.3 141.1 456.0 131.9 452.3 124.4 453.7 117.5 452.6 109.0 450.0 99.8 448.1 90.8 448.2 80.4 448.8 73.4 444.7 65.2 442.7 55.3 444.1 46.8 443.8 38.0 442.4 46.4 443.8 56.2 444.9 64.2 443.9 73.1 446.8 79.6 447.6 87.4 446.3 96.8 448.0 104.2 446.8 112.8 449.5 121.0 450.3 130.3 450.7 139.7 450.9 147.1 453.3" fill="none" stroke="#5aae45" stroke-width="0.45" stroke-opacity="0.62" stroke-linejoin="round"/>
<path d="M42.0 448.0 48.9 445.9 57.6 447.2 66.6 446.4 73.9 447.1 81.9 448.7 91.6 451.4 99.6 452.4 108.5 453.4 116.5 451.2 124.4 453.9 134.2 455.2 142.4 455.0 150.7 452.7 141.6 452.8 134.9 455.1 125.5 453.4 117.1 452.6 109.0 452.7 98.6 452.7 90.0 452.3 82.5 450.9 75.0 450.3 65.9 453.2 56.4 451.2 46.6 448.9 38.9 450.5 46.6 449.6 51.1 452.4 57.9 453.4 65.1 451.2 70.9 455.6 78.7 455.1 85.6 457.4 91.3 457.6 96.8 458.4 102.5 459.4 111.0 459.6 117.3 459.7 122.8 457.9 129.3 458.5 136.2 462.4 141.3 463.2 135.8 462.8 128.0 459.9 123.7 458.9 114.6 459.0 110.9 456.8 102.5 455.7 95.8 457.0 91.7 455.3 84.4 452.3 78.6 452.1 71.0 451.2 66.2 453.1 60.4 450.9 51.9 447.8 46.2 449.7 40.6 448.6 46.8 449.7 52.1 449.6 60.0 450.4 64.5 449.6 71.2 450.4 78.6 451.4 83.5 454.6 91.0 455.1 96.8 452.3 102.1 456.5 108.3 453.5 116.3 455.7 120.9 456.1 128.9 456.0 134.6 457.0 142.2 456.7 134.3 459.7 129.8 457.4 125.2 456.2 118.3 458.1 113.2 454.4 106.1 457.3 101.4 454.8 96.5 454.8 90.8 453.2 84.2 453.2 76.6 453.9 72.4 451.9 66.1 451.8 61.3 453.7 55.8 453.1 48.8 448.5 43.7 450.1" fill="none" stroke="#5aae45" stroke-width="0.45" stroke-opacity="0.62" stroke-linejoin="round"/>
<path d="M130.0 478.9 132.5 479.9 135.5 480.0 138.0 481.1 140.4 481.9 142.7 480.7 145.3 479.8 145.3 478.2 143.1 477.0 140.2 476.4 137.8 475.3 135.5 474.2 132.6 473.8 130.5 472.4 129.0 473.1 127.0 474.4 126.6 476.2 125.5 477.9 123.1 479.0 120.4 479.8 117.7 480.5 115.3 481.6 112.4 482.0 109.5 481.5 106.5 481.4 103.9 480.5 102.1 479.0 100.1 477.7 102.3 476.7 104.9 475.8 107.9 475.7" fill="none" stroke="#6aa0e0" stroke-width="0.45" stroke-opacity="0.62" stroke-linejoin="round"/>
<path d="M148.6 442.4 142.4 446.3 136.9 444.2 127.0 443.8 121.1 444.4 113.9 443.1 108.2 444.6 99.4 443.2 91.7 442.8 84.5 443.2 78.6 444.3 71.9 440.7 65.6 441.4 57.9 442.7 50.4 441.6 42.3 440.4 36.0 442.5 44.1 443.4 54.3 442.6 64.4 442.2 72.3 442.5 79.4 441.6 88.8 441.6 96.7 446.2 106.0 446.4 116.1 446.4 123.5 445.8 134.4 447.9 142.6 447.9 150.5 446.0 141.9 446.0 130.7 443.9 120.8 445.2 113.3 445.5 104.4 446.4 94.7 444.4 84.0 444.7 74.8 442.0 64.9 442.8 55.2 442.5 45.7 442.6 35.4 443.1 43.7 441.3 49.0 441.2 54.9 441.8 64.3 445.4 70.3 445.8 75.3 444.4 84.8 443.6 88.7 446.9 97.2 447.3 102.4 447.3 110.6 447.9 116.6 444.6 124.3 446.4 129.6 446.0 136.1 448.4 144.1 448.3" fill="none" stroke="#5aae45" stroke-width="0.45" stroke-opacity="0.62" stroke-linejoin="round"/>
<path d="M48.2 460.2 56.1 463.4 61.6 462.3 66.9 463.2 75.2 464.8 81.8 464.8 86.4 465.7 92.4 463.1 100.2 465.6 106.9 465.5 113.6 464.9 118.0 464.8 126.0 467.1 131.9 466.7 137.9 466.4 131.7 467.4 127.0 463.8 118.7 463.2 112.1 464.6 105.6 463.2 102.0 461.1 94.2 461.9 87.8 458.7 80.4 456.3 74.7 457.8 67.9 454.6 62.9 454.3 55.9 453.7 49.3 455.1 44.2 453.0 52.2 452.9 57.9 451.8 67.1 454.5 73.3 455.3 83.7 455.3 91.3 455.3 98.6 453.7 105.7 457.4 114.2 458.7 120.8 455.3 129.5 459.9 137.8 459.9 145.2 456.6 136.5 458.7 131.7 459.0 124.9 458.4 115.4 457.9 110.7 457.2 103.9 455.7 95.4 454.6 89.9 456.6 81.5 456.0 75.5 457.0 70.1 454.9 62.8 455.1 56.2 454.2 48.3 454.6" fill="none" stroke="#5aae45" stroke-width="0.45" stroke-opacity="0.62" stroke-linejoin="round"/>
<path d="M154.9 446.4 147.3 444.1 139.6 444.2 134.8 444.2 125.9 442.6 119.3 444.7 114.5 444.3 106.3 442.1 101.3 440.6 93.2 439.9 86.6 442.1 80.0 440.1 73.3 442.5 67.3 439.8 59.1 440.4 53.3 438.2 44.9 437.4 39.5 437.0 44.9 438.7 54.1 438.2 60.2 437.4 68.4 438.2 74.6 437.1 81.8 437.9 88.7 438.2 98.2 439.6 105.8 439.9 111.9 440.1 119.8 438.7 125.9 440.7 134.4 440.2 141.1 441.8 147.5 438.7 157.0 442.5 146.5 439.9 139.4 441.1 130.6 440.3 122.1 438.1 114.6 440.4 105.7 439.9 94.9 439.4 87.2 437.7 79.3 437.5 69.0 438.3 60.7 438.3 53.4 437.0 45.8 437.0 37.1 439.3 44.8 437.7 50.8 439.7 60.5 440.1 67.1 440.1 73.2 440.1 81.4 437.1 89.9 439.2 97.1 437.3 106.5 439.1 113.0 440.0 121.3 440.8 128.2 437.5 135.0 439.8 143.4 437.2 151.6 439.3" fill="none" stroke="#e2707a" stroke-width="0.45" stroke-opacity="0.62" stroke-linejoin="round"/>
<path d="M148.8 447.7 142.2 448.6 134.5 446.2 127.9 446.7 120.9 448.8 113.4 448.6 105.8 448.7 99.6 446.2 92.0 444.1 85.1 447.1 79.8 444.0 70.5 442.9 63.2 443.9 58.0 442.5 51.0 443.7 42.6 441.6 37.4 441.9 42.9 443.1 50.7 445.0 57.0 444.5 63.1 446.2 68.6 446.5 76.8 445.8 84.7 446.2 88.9 449.3 95.8 448.3 103.9 447.8 110.3 449.1 116.5 448.4 124.1 449.5 132.1 452.9 136.3 450.3 144.4 450.8 134.5 450.3 125.8 449.0 117.5 449.9 109.3 448.4 100.5 445.8 91.5 447.5 81.5 446.6 75.5 447.0 66.8 443.1 56.1 441.1 46.6 442.7 39.5 440.6 47.6 439.7 56.4 444.5 67.2 441.6 76.2 441.6 83.2 443.8 92.1 446.4 103.0 446.9 111.4 447.0 121.4 448.4 129.6 449.9 136.6 448.1 148.2 447.9 138.3 447.6 133.4 445.9 124.5 446.1 118.9 447.8 109.8 447.8 102.0 444.9 94.9 447.4 88.5 444.8 80.9 442.5 73.7 443.5 64.2 444.3 57.9 444.5 51.1 443.7 42.3 441.5 36.0 441.0" fill="none" stroke="#3b7bd8" stroke-width="0.45" stroke-opacity="0.62" stroke-linejoin="round"/>
<path d="M46.8 466.7 54.6 468.9 60.9 471.3 64.5 469.5 71.2 469.8 76.5 470.3 83.4 471.7 90.0 474.5 94.7 471.3 103.1 472.5 108.0 473.1 115.0 476.3 120.0 473.2 125.4 476.4 132.0 475.0 137.5 474.6 144.4 479.1 136.2 478.1 132.5 474.1 124.6 476.9 117.5 476.5 112.3 473.7 107.3 474.0 99.0 472.0 93.6 471.6 86.6 472.6 82.9 470.3 76.2 473.2 67.8 470.1 61.8 468.1 56.3 471.7 49.7 467.8 54.8 469.5 62.8 468.3 67.6 469.1 74.3 473.0 80.2 471.9 83.8 473.2 89.3 474.0 95.7 475.0 101.4 474.9 107.7 473.2 113.4 474.6 118.1 475.6 125.0 476.8 130.1 477.0 135.4 476.1 130.0 475.7 126.3 475.0 119.9 477.5 115.4 474.0 110.5 476.4 106.5 476.2 100.8 473.3 95.5 471.6 91.0 474.7 86.6 474.2 80.7 473.6 74.5 472.2 69.0 473.4 65.0 469.6 61.3 471.1 53.9 471.7 50.2 471.9 55.8 469.9 61.0 469.6 67.4 472.8 74.8 470.8 78.6 470.2 86.6 472.3 92.1 471.8 97.3 474.8 103.8 472.9 111.1 474.0 117.6 476.8 121.3 474.5 130.1 475.6 134.9 478.4 128.3 475.1 124.3 477.7 117.2 475.7 112.4 474.2 107.9 473.6 102.2 473.6 94.7 475.5 89.1 471.3 83.2 471.9 77.7 470.5 74.9 470.4 68.6 469.8 61.0 468.4 55.7 472.0 50.8 470.1 57.9 471.9 62.8 468.6 67.8 469.4 73.8 473.2 79.2 472.6 83.3 471.3 90.0 474.2 95.4 474.3 100.4 472.8 107.2 474.1 110.9 474.2 118.0 474.7 121.2 475.7 128.4 473.7 134.2 476.5 140.3 477.8 144.6 477.0" fill="none" stroke="#86c46e" stroke-width="0.45" stroke-opacity="0.62" stroke-linejoin="round"/>
<path d="M145.2 456.0 140.8 458.7 133.4 457.7 128.1 457.8 120.3 456.8 116.3 456.6 108.9 454.3 104.1 456.5 97.4 453.8 91.5 455.0 84.2 451.2 78.4 450.7 71.4 452.1 65.7 452.0 60.5 452.8 52.8 452.3 46.7 449.2 42.0 448.5 49.2 452.6 55.3 450.3 65.7 453.5 72.2 455.8 80.1 454.3 87.7 458.3 96.5 458.4 102.4 461.9 110.5 460.1 120.5 464.3 128.0 463.1 136.1 465.7 144.3 467.2 137.2 467.1 132.2 464.8 124.6 465.4 117.4 462.3 113.1 461.3 105.3 460.3 101.3 460.7 95.0 461.9 89.5 460.4 81.9 461.0 75.1 461.4 71.6 459.2 63.1 459.8 58.1 459.3 51.9 457.5 46.3 457.1 50.3 457.6 58.9 456.8 63.4 457.1 70.0 457.2 73.4 459.0 80.2 459.9 85.2 462.1 91.9 460.3 98.2 459.3 104.5 463.4 108.2 462.3 113.3 464.4 121.8 464.1 127.5 464.2 132.9 466.4 138.8 465.3 143.2 466.1" fill="none" stroke="#86c46e" stroke-width="0.45" stroke-opacity="0.62" stroke-linejoin="round"/>
<path d="M158.3 442.7 150.7 439.0 140.8 441.5 130.3 438.4 122.5 439.6 113.4 438.1 105.3 439.4 95.6 440.7 85.6 440.4 76.0 437.0 67.4 438.7 58.4 437.0 49.9 438.6 39.5 437.0 46.5 437.5 54.5 437.5 61.4 437.0 67.6 439.7 75.7 439.2 80.5 440.0 89.3 437.0 93.4 437.2 102.6 438.3 108.5 437.5 114.0 439.3 122.9 439.7 129.4 437.0 134.9 441.2 143.4 439.5 148.9 441.0 156.0 439.7 148.6 440.0 142.4 438.6 136.1 440.6 129.7 441.8 120.5 439.4 114.6 438.9 108.3 439.8 101.1 439.8 95.9 441.7 86.7 442.4 82.5 439.3 74.5 438.4 66.5 442.4 62.4 440.0 53.3 441.6 48.0 441.0 40.9 440.8" fill="none" stroke="#e2707a" stroke-width="0.45" stroke-opacity="0.62" stroke-linejoin="round"/>
<path d="M44.3 454.2 49.2 455.5 56.3 452.7 62.2 456.5 68.8 456.7 76.9 456.9 83.4 455.1 90.3 454.2 97.7 454.8 104.1 453.9 111.7 453.7 118.3 454.8 123.1 456.1 132.4 456.1 136.7 455.9 145.5 458.8 150.5 458.2 145.5 455.5 136.0 454.9 130.2 456.5 121.2 454.2 114.4 457.1 107.3 455.1 98.6 453.9 93.8 454.1 84.6 455.9 76.5 453.1 70.7 451.8 63.4 453.2 55.6 453.5 47.0 452.5 40.3 452.3 48.9 452.0 55.8 452.5 62.0 454.7 70.9 455.8 77.1 459.9 84.0 459.3 92.4 458.2 98.7 460.9 107.9 461.6 115.2 462.3 122.3 465.5 129.8 467.6 135.9 466.3 144.2 468.5" fill="none" stroke="#e2707a" stroke-width="0.45" stroke-opacity="0.62" stroke-linejoin="round"/>
<path d="M44.3 458.8 52.8 460.3 62.4 459.9 69.6 461.6 78.1 460.9 85.1 464.7 93.0 464.4 101.5 464.4 110.3 464.1 117.6 468.0 125.4 465.2 135.7 467.0 144.2 470.4 136.6 470.0 129.6 468.7 120.8 467.6 114.5 468.1 109.5 467.1 101.1 465.0 93.3 465.5 88.2 463.6 81.4 466.3 72.4 464.8 65.9 463.4 59.6 464.1 51.2 463.5 59.4 463.0 66.0 464.8 74.9 465.1 81.0 464.5 88.2 464.9 95.2 465.4 104.3 467.3 109.0 467.2 118.3 466.3 125.7 469.3 130.5 468.4 139.4 470.1 132.5 469.1 127.2 465.7 122.7 466.9 115.2 467.6 110.3 466.1 106.0 463.9 98.9 464.3 92.4 463.6 88.7 463.7 80.9 463.1 76.2 461.1 70.6 460.5 65.2 459.9 59.6 458.9 51.9 458.4 47.9 457.9 52.8 458.1 59.3 461.7 66.5 460.5 71.5 461.7 78.0 462.4 83.1 461.8 89.5 460.6 93.8 464.7 101.2 462.3 107.9 463.1 114.0 462.9 118.9 467.6 126.0 466.3 130.6 468.4 138.0 465.9 128.6 464.9 122.2 467.6 115.5 466.9 108.6 465.3 101.1 463.5 95.7 466.2 86.0 463.5 81.0 464.5 73.8 465.2 64.9 465.1 57.9 461.7 53.1 464.9 56.4 465.5 62.8 463.9 68.6 467.5 75.2 467.0 82.4 468.5 86.9 469.2 93.9 469.9 100.5 470.5 106.2 470.2 112.9 474.3 118.5 471.7 124.3 475.7 130.5 474.3 135.6 477.8 141.5 477.0" fill="none" stroke="#5aae45" stroke-width="0.45" stroke-opacity="0.62" stroke-linejoin="round"/>
<path d="M47.1 454.5 56.1 457.4 64.1 456.7 71.7 457.6 79.1 456.8 89.4 457.1 97.6 460.0 106.7 458.1 114.8 461.3 122.8 461.5 131.4 463.0 139.6 464.1 148.4 464.9 139.3 463.2 131.6 462.1 121.9 459.3 112.7 459.8 105.6 460.8 97.4 458.0 89.5 457.1 80.2 455.4 71.8 457.3 63.8 457.5 54.4 456.5 44.0 452.5 51.1 456.4 57.6 458.1 64.6 456.4 71.1 458.0 75.8 459.5 82.4 458.9 90.3 462.3 96.1 463.6 101.1 460.6 107.5 464.6 115.3 462.3 122.0 463.2 126.7 464.6 133.7 467.2 139.9 468.4 145.9 470.5 138.4 467.0 132.5 469.2 124.5 464.2 117.4 465.8 112.1 463.3 104.0 464.3 98.6 463.9 92.0 460.3 84.5 462.9 79.1 459.9 72.0 460.5 65.4 457.8 57.9 459.7 50.4 455.7 43.3 457.8 52.1 456.8 59.5 458.6 67.2 459.6 76.5 458.6 85.6 460.3 92.3 460.4 99.9 458.7 108.0 461.6 118.6 461.4 124.6 462.6 133.4 458.9 143.1 463.5 151.1 460.0 143.0 462.2 133.9 458.8 126.9 459.2 120.0 461.0 111.3 457.5 104.0 458.6 97.3 457.4 88.2 455.7 82.2 455.8 72.2 454.7 65.1 455.1 57.0 452.7 49.4 452.9 41.8 451.7 51.6 451.4 59.2 454.3 64.7 455.1 73.8 457.0 81.7 456.9 88.5 462.3 96.9 461.4 103.6 461.8 113.9 464.9 120.3 463.5 127.7 468.0 135.5 468.5 143.4 469.4" fill="none" stroke="#86c46e" stroke-width="0.45" stroke-opacity="0.62" stroke-linejoin="round"/>
<path d="M41.2 450.2 48.5 449.2 55.7 449.6 64.0 450.2 69.4 452.7 75.7 452.7 83.0 453.2 90.6 457.7 97.7 455.8 104.3 456.7 110.2 458.3 117.7 462.1 124.0 461.3 130.7 463.1 136.3 463.7 143.7 466.6 135.8 465.4 126.8 463.0 121.1 462.5 110.2 458.6 103.6 458.5 94.5 457.7 86.9 458.6 77.7 455.5 69.5 454.1 62.6 451.1 53.6 452.3 46.1 449.0 51.3 451.9 57.5 451.8 65.8 452.6 71.2 451.5 76.3 450.6 85.1 452.9 89.6 453.4 96.9 453.0 102.7 455.4 109.7 455.1 116.3 452.8 121.4 455.7 127.4 455.6 136.0 455.4 141.1 456.2 147.7 454.9 140.0 455.6 133.6 457.8 127.4 454.2 122.4 455.7 114.2 455.6 108.7 453.1 102.2 451.9 94.5 454.1 88.4 453.7 81.1 449.8 74.1 451.9 69.1 448.1 60.9 451.2 55.7 450.8 47.8 449.0 42.6 448.1" fill="none" stroke="#86c46e" stroke-width="0.45" stroke-opacity="0.62" stroke-linejoin="round"/>
<path d="M143.2 469.7 133.8 469.4 127.2 468.5 120.5 466.9 113.6 466.9 107.9 467.2 101.5 463.8 96.5 466.0 89.1 462.1 81.6 462.1 75.0 459.3 68.4 461.6 62.5 461.0 55.8 459.6 49.7 459.3 42.2 458.0 48.4 458.4 52.6 458.6 59.9 460.6 63.6 461.3 72.1 459.2 76.9 462.4 82.0 463.7 88.4 461.7 93.9 464.9 100.8 465.9 105.8 465.5 112.0 468.2 117.4 469.0 122.4 467.5 129.7 469.9 133.6 471.4 140.0 470.7 132.4 469.7 127.0 470.9 120.0 468.0 115.5 466.5 108.4 466.6 102.5 467.7 94.5 467.7 89.1 465.3 84.2 466.8 76.3 465.8 69.4 464.6 63.0 464.5 59.2 464.0 51.1 462.5 58.1 463.5 65.3 463.6 71.1 465.4 76.3 462.4 81.7 464.3 87.1 465.6 94.0 467.6 101.4 465.1 105.2 465.4 113.4 466.5 117.1 468.9 125.2 469.2 131.0 469.4 136.2 467.8 143.9 468.7 134.5 467.8 126.7 465.4 118.0 462.9 109.8 464.9 101.2 461.3 93.9 461.0 84.4 459.1 77.8 456.0 67.8 457.9 61.9 453.5 51.2 454.7 43.7 453.7 51.4 455.7 58.6 453.6 65.4 454.6 71.2 454.8 81.1 457.5 85.5 456.3 93.1 459.1 100.4 458.4 106.8 458.0 114.9 458.1 121.0 461.0 129.3 459.7 135.3 463.1 141.8 462.4 150.4 460.5 143.2 460.2 135.8 460.5 130.4 461.9 123.5 457.5 115.0 459.1 108.1 457.5 102.0 459.1 94.2 455.6 87.4 456.1 81.1 457.4 76.6 454.2 67.7 453.7 60.0 454.5 55.3 451.2 48.3 450.6 40.9 451.6" fill="none" stroke="#86c46e" stroke-width="0.45" stroke-opacity="0.62" stroke-linejoin="round"/>
<path d="M49.1 462.4 53.7 461.1 63.0 461.8 67.9 462.4 74.7 463.1 82.5 465.6 88.8 464.6 95.0 466.0 101.6 463.0 107.6 464.5 115.5 467.3 121.2 467.9 126.2 466.3 133.5 468.0 141.2 466.7 133.3 465.1 125.8 466.1 119.2 464.6 112.9 463.8 105.7 463.9 101.2 464.1 93.2 464.2 87.4 465.0 80.4 464.7 73.0 464.2 64.9 462.6 58.1 463.5 51.0 463.3 44.1 462.8 50.4 461.7 56.4 463.3 63.3 460.2 68.4 463.9 76.0 464.9 81.5 463.4 86.6 463.7 92.6 464.3 97.5 465.0 104.4 466.0 109.2 465.1 116.7 464.1 123.3 467.1 126.5 468.5 133.5 465.5 140.2 467.9 132.4 466.9 126.2 466.9 122.3 464.0 114.9 462.1 109.8 462.8 103.8 460.4 97.5 460.0 89.7 461.0 83.2 458.3 78.6 458.6 72.2 459.4 67.0 459.4 61.0 458.7 52.1 456.8 46.2 454.5 54.7 456.6 60.7 454.4 68.1 457.0 74.5 459.1 81.0 457.6 86.8 456.4 94.0 457.2 100.8 457.3 109.8 459.9 115.3 460.3 121.5 462.1 129.7 460.7 134.3 459.3 141.1 463.0 149.2 463.6 141.7 461.0 135.3 460.2 128.3 459.9 120.0 459.6 111.4 462.2 105.6 460.1 97.8 460.7 89.2 458.7 83.0 456.9 74.4 456.5 67.6 460.1 61.8 457.5 52.2 459.3 46.1 456.9" fill="none" stroke="#3b7bd8" stroke-width="0.45" stroke-opacity="0.62" stroke-linejoin="round"/>
<path d="M51.3 462.4 56.1 465.4 61.4 463.5 67.4 463.4 72.0 464.3 78.3 467.8 85.7 466.4 90.8 468.7 97.1 466.5 101.8 469.9 107.5 466.5 113.4 470.2 118.2 467.4 122.3 467.7 129.3 470.7 133.5 472.2 140.0 469.5 145.7 471.7 136.7 471.6 130.0 469.7 122.0 470.4 113.5 468.4 106.4 466.9 98.8 463.9 90.6 462.8 81.9 463.4 75.2 460.6 67.9 460.0 61.1 460.8 50.6 460.4 45.7 460.0 48.8 461.3 55.0 461.3 60.9 461.0 66.4 460.1 72.3 462.1 79.1 464.7 82.8 466.6 89.3 466.7 95.3 468.2 99.4 469.8 106.6 470.3 112.2 469.0 118.5 472.2 123.9 471.2 127.7 474.8 135.3 475.0 138.3 473.9 131.3 473.9 123.5 474.1 117.4 473.5 109.5 474.0 102.3 471.4 95.4 473.1 87.4 471.3 80.2 470.5 73.1 468.9 64.7 467.7 58.7 466.2 50.9 467.1" fill="none" stroke="#86c46e" stroke-width="0.45" stroke-opacity="0.62" stroke-linejoin="round"/>
<path d="M145.6 460.8 136.8 463.3 128.7 462.4 121.4 459.7 114.6 456.8 106.8 457.4 96.3 455.8 90.3 455.2 82.5 456.5 74.4 454.5 66.0 454.3 58.4 454.1 47.8 453.3 42.0 448.6 50.6 450.4 58.7 451.7 67.5 452.7 73.7 454.5 83.0 454.3 93.3 459.0 100.8 459.5 109.1 458.7 117.1 459.0 124.2 462.9 134.3 462.9 142.6 463.7" fill="none" stroke="#e2707a" stroke-width="0.45" stroke-opacity="0.62" stroke-linejoin="round"/>
<path d="M52.1 471.2 57.0 471.3 63.6 471.5 69.2 472.5 74.2 475.4 81.4 472.8 87.8 473.9 93.0 474.3 99.7 474.5 107.1 473.7 111.3 477.3 119.0 475.4 125.3 478.2 131.6 474.6 136.5 478.9 132.5 474.7 124.6 477.2 120.3 475.0 113.4 478.0 109.4 475.0 102.9 477.4 97.0 474.6 92.1 475.1 85.5 476.2 77.8 472.4 72.1 472.9 69.0 474.5 61.4 473.7 55.8 473.0 49.4 472.9 57.0 471.7 63.6 474.9 71.4 472.9 79.9 472.8 84.6 476.4 94.3 473.4 99.9 476.3 107.0 474.6 113.9 474.1 121.7 475.8 130.1 477.2 137.2 474.9 127.9 476.1 122.8 473.3 114.1 474.6 105.4 472.1 100.2 473.8 90.9 468.6 84.2 469.5 76.4 470.7 69.6 468.8 62.8 466.3 54.9 467.8 49.1 463.8 52.6 467.6 59.5 464.2 65.0 466.2 72.8 469.8 77.1 466.9 82.6 471.4 89.6 468.4 95.1 470.9 102.0 471.8 108.4 472.1 114.6 474.0 119.8 472.1 124.9 473.7 132.6 477.1 138.0 477.0 143.4 477.0" fill="none" stroke="#5aae45" stroke-width="0.45" stroke-opacity="0.62" stroke-linejoin="round"/>
<path d="M52.6 473.6 58.1 473.1 67.0 473.4 74.1 476.7 81.6 473.8 88.1 473.9 93.1 477.4 100.2 477.1 109.8 476.1 115.2 478.1 122.9 478.6 130.1 476.4 135.2 478.6 143.9 477.0 137.7 476.9 129.7 472.9 124.2 472.5 117.3 471.2 108.7 471.5 104.3 469.3 95.2 469.2 90.7 467.8 81.7 466.5 75.1 465.9 68.3 462.9 62.6 463.3 57.2 462.4 50.3 460.0 55.7 462.0 63.4 463.6 70.2 464.4 77.1 461.0 84.8 464.7 90.6 465.1 98.3 464.4 104.4 464.5 113.3 468.3 118.2 465.4 126.2 469.6 133.3 469.4 139.8 470.7 147.2 469.9 140.2 469.4 132.8 469.1 124.3 469.3 118.2 467.1 111.0 465.9 102.6 467.9 95.4 464.9 89.3 465.0 80.6 463.5 75.4 462.4 67.4 461.7 59.0 465.0 52.8 462.3 45.5 461.9 51.9 463.6 58.7 461.6 65.8 463.8 74.8 462.7 80.1 465.1 86.4 464.7 94.0 465.6 100.8 465.7 109.5 463.5 114.5 465.2 121.1 465.2 128.8 465.9 135.1 466.3 144.5 464.9 134.9 463.2 128.7 463.1 122.4 463.6 115.0 465.2 106.5 460.9 100.3 460.2 93.1 459.4 83.6 459.5 78.9 459.3 71.5 461.5 63.9 458.0 56.6 459.6 47.4 460.2 53.8 459.4 60.0 460.9 64.8 462.2 73.5 462.7 77.8 463.7 83.4 465.0 91.1 465.2 97.0 466.6 103.0 468.5 109.0 469.5 114.9 466.8 119.3 471.4 125.0 472.2 132.9 470.0 139.4 473.5 144.2 473.5" fill="none" stroke="#6aa0e0" stroke-width="0.45" stroke-opacity="0.62" stroke-linejoin="round"/>
<path d="M150.3 456.3 142.7 455.2 134.4 456.0 127.0 452.7 118.9 453.3 113.5 452.0 104.4 450.9 97.2 452.4 90.2 451.6 81.7 450.9 75.3 449.7 66.9 448.9 61.6 451.1 52.9 449.2 47.2 449.8 38.4 448.1 45.0 452.1 52.4 452.8 61.1 451.9 66.2 454.3 74.0 452.6 80.5 455.9 88.1 453.5 95.1 453.5 102.6 455.7 108.7 457.9 117.4 455.3 123.6 457.2 131.9 460.2 136.9 458.7 146.2 460.5 139.5 461.8 133.3 457.8 124.7 458.7 120.2 459.9 114.0 457.1 106.5 459.7 101.7 457.1 92.9 458.7 88.7 456.5 82.4 456.6 75.4 459.1 69.6 458.3 64.4 457.9 57.8 458.5 50.4 457.5 43.6 454.3 53.1 458.2 60.8 459.0 67.9 459.0 77.1 463.5 86.0 463.3 92.5 464.7 99.5 466.9 108.2 465.4 115.7 470.5 124.6 469.5 131.9 470.8 141.7 474.5 135.9 470.1 128.5 472.7 122.0 470.6 116.7 467.8 111.3 466.4 103.7 467.1 97.5 464.8 92.9 467.0 87.8 463.5 80.3 463.5 74.8 463.5 69.7 462.1 61.0 462.7 55.2 461.6 50.2 462.0 43.3 460.9 49.7 462.3 57.5 462.6 62.7 461.3 68.0 460.4 74.8 463.6 80.2 465.7 87.8 464.6 93.7 465.5 101.7 464.7 106.6 467.3 112.4 469.5 120.3 468.4 126.1 470.6 130.3 472.1 137.7 469.8 144.0 471.8" fill="none" stroke="#3b7bd8" stroke-width="0.45" stroke-opacity="0.62" stroke-linejoin="round"/>
<path d="M148.9 451.5 144.9 450.9 137.4 450.3 131.4 451.4 123.2 451.3 116.0 449.7 111.7 447.2 104.4 447.7 96.3 449.6 90.9 448.6 82.5 449.2 77.4 446.4 71.9 446.6 65.2 447.5 56.9 448.0 52.3 445.0 43.1 446.1 52.6 444.5 60.3 446.3 68.5 447.4 74.3 446.0 83.2 447.7 90.0 446.9 98.0 447.9 104.0 447.9 112.1 451.5 119.9 449.2 129.3 452.4 136.3 453.1 143.0 452.7" fill="none" stroke="#e2707a" stroke-width="0.45" stroke-opacity="0.62" stroke-linejoin="round"/>
<path d="M147.1 464.9 140.1 464.0 133.6 463.7 128.3 462.8 121.3 464.0 114.6 462.3 110.4 461.2 102.3 462.1 96.1 462.1 90.9 459.2 83.3 459.8 76.7 460.0 69.5 458.0 63.3 458.2 57.0 457.1 52.5 458.0 43.5 455.9 50.6 455.7 55.8 456.5 63.6 457.1 68.6 456.7 76.0 460.5 81.5 460.1 88.0 459.8 95.2 461.3 98.4 462.4 107.4 459.1 113.5 463.5 117.1 461.8 124.4 463.4 129.6 462.1 137.4 464.8 143.0 465.0 136.1 462.8 127.8 459.9 119.7 460.2 112.3 459.6 104.7 458.1 97.1 457.2 91.7 456.9 82.8 455.9 74.5 452.4 67.5 451.2 59.4 449.9 53.5 450.4 45.6 450.0 38.1 447.2 44.8 449.2 53.1 450.0 59.3 448.8 69.1 451.7 74.6 452.6 80.9 455.1 90.9 455.9 95.6 453.9 105.7 457.0 113.1 457.5 118.4 457.5 125.6 457.4 134.9 462.6 140.7 460.4 135.2 462.3 129.0 458.3 123.4 460.8 116.1 456.9 108.2 455.7 103.7 456.7 97.9 454.2 89.7 453.9 84.8 455.2 78.1 453.2 70.3 451.9 63.5 452.5 58.6 450.9 53.0 448.2 46.0 447.3 39.2 448.2" fill="none" stroke="#5aae45" stroke-width="0.45" stroke-opacity="0.62" stroke-linejoin="round"/>
<path d="M137.4 475.1 140.4 474.9 143.4 474.6 145.9 475.4 143.4 476.4 140.4 476.5 137.5 476.1 134.5 475.8 131.6 476.2 128.6 476.2 125.8 475.5 123.0 474.8 120.0 474.8 117.1 475.0 114.1 474.9 111.5 473.9 109.1 472.8 106.9 472.4 104.4 473.4 101.6 473.9 101.3 474.5 104.2 474.2 106.4 473.0 108.1 472.6 109.0 474.3 109.6 476.0 108.7 477.7 106.4 478.9 104.6 480.3 102.0 481.3 100.8 481.8" fill="none" stroke="#3b7bd8" stroke-width="0.45" stroke-opacity="0.62" stroke-linejoin="round"/>
<path d="M143.5 468.1 134.9 467.4 127.5 469.2 118.0 466.3 110.8 466.3 103.3 466.8 94.8 463.5 86.1 466.4 78.5 466.1 71.3 461.9 63.8 460.7 54.9 462.2 49.1 460.6 53.4 460.8 60.2 460.7 68.2 463.5 75.0 461.8 79.8 463.3 87.7 466.1 95.5 466.6 101.8 465.0 108.9 466.0 113.9 464.4 120.0 468.1 127.8 466.0 133.8 469.3 139.3 468.4 134.7 468.5 128.5 464.0 121.8 463.7 117.1 463.7 110.2 463.6 106.3 460.0 97.8 459.2 93.9 459.0 86.2 456.7 81.4 456.7 76.4 457.1 69.4 454.2 62.1 453.7 58.4 454.6 52.7 451.9 47.1 451.6 38.6 448.5 48.4 452.4 54.0 450.4 61.9 450.7 69.4 451.8 77.6 451.3 85.6 453.4 91.9 453.6 100.9 451.8 106.6 455.9 115.3 452.8 121.6 452.8 131.0 455.7 138.2 454.4 145.9 455.0 152.7 456.1" fill="none" stroke="#86c46e" stroke-width="0.45" stroke-opacity="0.62" stroke-linejoin="round"/>
<path d="M152.1 443.4 146.9 443.3 137.5 441.7 131.9 442.4 124.7 443.4 115.0 442.7 107.3 442.9 101.9 441.0 94.7 442.6 87.5 441.8 80.2 439.8 72.6 440.1 63.5 439.2 55.3 440.9 50.6 439.4 41.7 441.5 49.1 440.3 53.9 443.8 60.1 441.3 68.1 445.7 72.5 442.2 80.0 445.2 86.8 446.1 92.7 444.5 98.6 446.8 106.9 447.5 112.2 448.9 118.5 449.6 123.3 448.3 130.0 449.8 136.6 452.5 142.4 449.5 150.0 450.3 142.7 449.4 132.1 450.3 125.0 451.4 116.7 449.5 107.6 447.2 101.0 445.6 93.1 445.5 84.1 445.4 75.3 446.9 68.9 444.6 60.9 442.7 52.8 442.8 43.0 439.9 36.8 442.5 43.3 439.6 51.4 440.2 59.7 444.3 67.2 441.0 74.1 443.8 82.3 445.2 88.1 442.8 95.4 446.7 104.5 445.4 113.4 444.0 119.4 446.5 127.2 447.3 135.1 447.1 143.2 446.6 150.5 448.9 142.7 447.5 137.5 448.3 130.4 445.9 121.9 445.4 114.4 445.9 107.6 446.7 101.1 444.8 92.8 446.0 85.5 445.3 79.7 445.2 74.0 443.6 66.1 440.5 59.3 443.3 50.1 440.6 43.5 441.1 37.5 442.3 45.7 443.1 53.7 445.6 63.7 445.7 71.1 448.6 78.0 447.7 87.1 450.2 96.8 451.7 104.5 454.0 112.3 455.0 121.9 455.6 130.3 455.1 138.3 459.7 146.3 460.2" fill="none" stroke="#5aae45" stroke-width="0.45" stroke-opacity="0.62" stroke-linejoin="round"/>
<path d="M49.0 464.0 57.4 463.5 65.6 465.1 74.4 464.8 79.9 463.9 87.5 464.4 95.0 466.6 102.6 465.9 110.7 465.0 118.7 467.8 125.2 466.6 133.2 464.9 141.3 465.3 133.6 465.7 129.2 464.5 122.7 465.5 115.3 461.7 110.2 461.9 105.3 461.0 98.4 459.4 92.6 460.2 85.0 456.0 78.8 456.1 74.6 454.7 67.6 455.3 62.5 452.0 55.8 452.0 47.7 452.3 42.4 451.3 50.0 450.6 55.7 451.9 61.4 451.7 69.8 454.2 76.9 453.6 81.8 455.1 90.4 458.8 96.9 458.5 101.1 459.1 108.1 458.3 115.7 460.5 121.0 462.4 130.1 465.3 135.3 462.6 142.8 463.6 148.3 464.6 141.8 465.2 137.0 462.5 130.9 465.8 122.4 463.5 116.2 460.6 112.0 462.0 103.3 459.3 99.3 459.9 91.4 458.7 86.5 458.2 78.6 455.2 73.4 455.6 66.5 455.9 59.2 454.5 54.0 455.2 46.9 450.5 55.3 453.9 64.1 453.0 71.2 453.8 78.4 455.5 85.3 455.7 94.0 457.1 101.7 459.1 108.8 461.5 116.1 463.6 125.0 462.1 130.8 465.8 137.8 464.8 145.5 468.2 139.0 465.8 133.4 467.4 128.1 464.0 123.3 465.0 116.2 466.0 110.4 463.0 104.8 464.6 96.8 463.2 92.7 462.6 86.1 461.9 79.8 460.4 72.6 463.3 68.8 459.3 61.1 460.4 56.5 459.5 48.8 459.2 44.5 459.5 51.7 460.4 57.8 460.8 65.6 462.3 72.2 465.3 78.7 466.2 84.6 465.6 93.9 466.3 98.5 467.0 107.6 468.6 113.7 471.3 121.7 472.8 127.8 472.0 134.8 475.4" fill="none" stroke="#5aae45" stroke-width="0.45" stroke-opacity="0.62" stroke-linejoin="round"/>
<path d="M45.8 464.4 50.7 465.9 55.7 464.7 62.5 467.0 67.0 468.7 71.3 468.0 79.3 470.4 82.8 470.9 89.4 472.3 94.3 471.9 100.7 474.2 105.3 472.4 110.2 474.5 115.5 476.0 121.2 474.0 129.2 476.2 132.4 479.2 125.8 476.6 122.3 474.0 113.3 473.4 109.3 472.2 103.3 470.9 94.9 471.0 88.3 469.2 82.6 469.9 77.8 468.6 71.1 466.3 64.7 463.4 59.8 462.7 53.3 461.1 47.2 460.2 52.1 464.6 61.4 461.7 68.7 465.3 75.7 466.6 81.4 465.0 89.6 468.5 95.8 467.5 102.6 471.4 110.0 469.1 118.7 473.4 123.4 470.9 132.2 472.7 138.5 474.9 144.2 476.1 139.5 472.9 130.3 475.5 122.2 473.4 116.3 471.6 107.3 472.7 100.8 472.2 92.8 472.0 86.4 470.2 79.1 467.7 72.1 471.0 63.4 470.7 56.6 470.0 47.5 468.5 54.9 469.6 64.3 470.7 69.5 471.4 77.5 472.0 84.9 471.2 91.6 472.9 99.3 474.2 107.6 473.0 112.9 473.0 121.4 474.2 129.3 473.3 136.3 478.0 142.6 476.3 138.7 477.0 131.6 476.3 124.8 475.1 121.2 473.5 115.3 471.0 108.2 470.2 103.5 472.1 96.2 469.0 90.4 470.6 84.0 469.5 79.8 465.4 74.5 463.7 66.0 464.0 60.1 465.5 55.7 463.1 49.4 461.2 54.5 464.0 59.8 464.0 65.6 461.4 69.5 464.1 76.4 463.0 80.0 464.2 85.8 464.9 92.4 466.2 95.6 465.6 101.5 465.3 106.3 465.3 112.3 469.4 118.2 468.7 121.9 469.0 127.6 467.9 132.7 469.8 137.8 470.3" fill="none" stroke="#5aae45" stroke-width="0.45" stroke-opacity="0.62" stroke-linejoin="round"/>
<path d="M47.3 464.0 52.9 464.2 60.5 465.3 66.5 466.6 70.5 464.1 78.3 467.3 83.6 467.9 90.4 467.1 97.9 468.3 104.5 470.5 110.9 468.0 116.2 469.8 123.6 470.2 127.7 470.7 135.6 472.2 126.7 471.2 120.4 468.6 114.3 469.8 104.7 468.1 98.6 468.3 92.4 466.9 82.3 463.7 75.2 463.9 67.7 463.1 61.9 461.1 55.5 460.9 48.2 460.0 51.5 457.1 57.5 459.7 63.6 458.7 71.1 462.6 76.5 464.5 81.9 464.8 86.3 464.4 93.3 463.4 100.8 464.4 105.5 466.1 109.7 469.7 117.8 469.8 123.1 471.0 127.9 472.5 134.6 471.5 139.2 474.2 133.7 470.1 127.9 471.4 123.6 471.0 118.2 468.6 110.5 469.6 105.3 469.5 99.2 466.2 94.1 468.6 86.1 468.0 80.0 466.8 76.0 464.4 68.5 463.6 64.3 464.1 59.0 461.9 52.1 462.7" fill="none" stroke="#3b7bd8" stroke-width="0.45" stroke-opacity="0.62" stroke-linejoin="round"/>
<path d="M142.5 471.4 133.3 468.0 126.1 466.9 119.4 463.1 110.7 462.8 105.2 463.5 95.3 462.2 87.6 460.0 80.0 455.8 74.6 455.3 65.0 457.2 59.3 452.7 52.0 452.4 42.1 452.8 48.3 449.3 54.1 454.0 59.3 452.0 66.6 453.8 71.7 455.0 75.8 454.1 82.2 456.3 87.5 456.0 93.1 455.7 101.1 459.4 105.0 457.7 111.3 458.4 116.5 460.9 122.4 461.0 128.6 462.8 132.7 460.3 138.8 461.9 133.7 462.4 126.9 459.3 121.0 461.4 114.2 458.4 108.6 455.8 102.2 457.3 95.5 456.3 90.0 455.9 84.9 454.6 77.8 452.6 72.9 449.9 66.5 452.7 58.6 450.9 53.5 447.8 48.3 446.4 42.7 445.4 49.4 450.3 56.2 450.8 61.6 450.5 68.8 453.6 76.3 453.1 85.4 456.1 92.4 455.6 98.0 458.1 105.0 457.4 111.8 458.0 118.8 463.0 127.6 462.7 133.2 462.6 139.9 465.9 135.3 465.0 129.3 464.8 122.6 464.1 116.6 462.7 112.4 463.1 105.2 463.8 100.5 461.7 92.8 461.1 87.8 461.2 82.7 461.4 77.5 460.8 70.9 459.7 66.3 460.0 59.4 459.6 55.2 458.5 49.8 455.9 53.6 460.0 59.1 457.8 65.9 460.5 71.4 464.0 76.8 465.2 81.8 464.7 89.2 464.7 95.2 465.6 99.7 468.7 104.1 470.5 109.8 471.5 117.9 473.9 121.1 474.7 126.6 476.3 133.4 475.6 139.1 476.6" fill="none" stroke="#3b7bd8" stroke-width="0.45" stroke-opacity="0.62" stroke-linejoin="round"/>
<path d="M133.2 477.3 135.9 478.2 138.9 478.2 141.9 478.2 144.7 478.7 144.6 479.6 141.7 479.9 138.7 480.1 136.0 479.3 133.5 478.3 130.7 477.7 128.2 476.6 125.3 476.4 122.3 476.2 119.4 476.8 117.6 478.2 115.3 479.4 112.5 480.0 109.9 480.9 108.2 481.6 107.0 479.9 106.3 478.2 105.9 476.4 105.9 474.6 104.4 473.1 102.8 472.4 100.0 473.2 102.4 474.3 103.7 475.9 105.7 477.2 108.5 477.9" fill="none" stroke="#6aa0e0" stroke-width="0.45" stroke-opacity="0.62" stroke-linejoin="round"/>
<path d="M55.0 477.4 58.4 477.5 63.1 477.6 69.9 475.2 72.9 474.8 79.6 478.3 83.4 475.4 87.2 474.7 93.9 476.6 99.3 476.9 103.4 476.2 106.5 475.4 112.1 478.4 118.0 476.2 122.4 477.3 124.9 479.1 130.2 477.2 135.1 477.7 131.0 478.4 125.7 475.6 120.1 475.5 114.3 474.1 109.7 474.7 106.5 477.1 100.2 473.8 95.0 475.1 90.6 472.6 85.7 472.9 79.5 474.9 74.4 473.1 71.3 473.2 66.6 471.9 61.8 470.4 56.7 471.8 50.1 470.0 54.1 471.2 60.4 470.6 65.8 473.0 69.7 474.7 76.1 471.9 79.7 475.1 83.3 473.2 90.4 475.6 93.4 473.8 98.3 476.1 103.3 474.5 109.8 474.4 114.0 473.2 119.7 474.6 124.2 473.7 129.6 473.1 133.4 474.2 127.9 474.5 122.2 475.2 117.5 470.9 110.9 473.7 106.9 470.2 101.8 468.2 96.9 471.3 90.8 466.5 84.6 469.1 79.7 465.5 73.1 464.0 68.6 463.6 62.9 465.9 58.8 463.3 52.1 464.2 57.4 465.4 63.4 466.1 70.8 467.0 76.4 464.1 81.0 467.5 88.7 468.5 92.0 467.9 98.8 468.0 104.4 470.4 110.7 470.2 116.7 474.0 123.2 474.0 130.1 471.7 134.7 474.7" fill="none" stroke="#3b7bd8" stroke-width="0.45" stroke-opacity="0.62" stroke-linejoin="round"/>
<path d="M155.4 447.5 148.6 450.6 142.1 450.7 134.9 450.0 128.6 448.3 122.8 448.9 115.0 448.0 108.6 447.4 102.0 447.9 95.6 445.8 88.0 445.0 82.7 446.4 74.5 444.1 69.7 443.6 63.3 446.8 57.2 445.9 50.0 443.0 43.0 441.8 49.6 443.5 54.9 447.5 61.1 446.0 68.3 449.1 72.6 448.4 80.6 447.2 85.0 448.9 91.9 451.4 99.9 452.0 104.4 454.3 112.1 452.7 116.8 453.8 121.8 455.2 129.8 455.3 135.5 458.0 142.2 457.3 136.1 457.1 128.7 457.6 122.8 457.1 118.3 452.9 114.0 454.4 107.5 451.6 100.1 453.5 94.8 449.8 89.5 450.7 84.5 450.3 78.5 448.4 71.9 450.9 67.6 449.5 62.2 446.7 54.5 444.9 49.0 444.6 45.0 445.5 48.7 447.6 54.7 448.1 61.2 448.5 67.8 450.8 74.5 450.4 79.3 453.3 84.8 453.6 92.8 454.8 96.7 453.5 104.5 457.7 110.5 459.6 116.7 458.2 123.5 458.5 126.9 460.2 132.7 462.1 140.2 461.5 147.0 464.7 138.2 463.4 133.2 460.9 125.5 461.5 118.5 458.8 111.8 459.4 106.5 461.1 100.0 459.8 93.7 457.3 85.9 454.4 79.5 457.1 71.6 455.3 64.1 455.9 58.4 452.9 51.0 453.9 46.4 451.3 52.3 451.8 58.9 452.1 65.8 453.4 73.9 457.3 79.1 458.1 87.8 456.3 94.3 457.8 102.0 458.8 107.2 461.6 114.5 461.5 121.7 462.4 128.8 462.9 136.8 465.9 142.6 467.3" fill="none" stroke="#3b7bd8" stroke-width="0.45" stroke-opacity="0.62" stroke-linejoin="round"/>
<path d="M49.9 468.6 59.3 465.7 66.6 468.1 71.5 469.7 80.4 468.8 87.4 471.7 93.4 470.5 100.7 472.5 109.0 470.7 114.5 474.1 121.1 476.4 127.6 477.0 134.7 474.1 143.5 477.8 138.5 476.6 130.2 477.5 125.9 474.1 120.7 475.6 113.4 472.8 106.8 474.4 102.6 472.4 95.3 472.0 91.6 471.9 84.3 467.7 79.0 466.8 72.5 467.7 68.2 468.5 59.9 466.9 55.6 464.8 47.9 464.1 55.8 464.9 59.6 466.4 65.5 468.5 71.3 467.9 77.8 468.9 83.6 470.4 87.3 469.2 94.5 469.2 99.4 468.6 103.3 468.9 110.8 471.2 114.0 472.0 120.6 474.1 126.5 471.8 132.4 474.8 135.9 475.5 131.8 474.6 125.3 473.2 120.2 472.6 116.1 471.6 109.1 469.9 103.1 470.3 97.7 469.4 91.8 469.6 86.6 469.7 81.6 469.9 75.4 468.4 69.9 468.9 63.8 469.9 59.6 468.7 52.9 468.0 58.8 464.8 65.3 469.1 68.9 469.0 73.8 468.6 80.6 467.8 86.6 466.9 90.0 469.2 97.1 467.1 102.4 468.3 107.3 469.8 113.4 469.7 118.9 469.6 124.9 470.1 127.9 470.3 135.7 472.2 140.4 472.1 133.5 470.0 128.9 469.1 125.1 468.4 117.4 467.8 114.2 467.9 106.4 468.6 102.8 466.7 98.2 465.6 91.2 464.6 87.5 465.6 81.3 466.2 75.1 461.7 70.5 461.3 64.7 464.2 61.0 460.9 55.5 461.3 48.8 461.9 56.9 459.8 63.3 460.5 68.9 463.9 74.6 465.6 81.9 465.8 89.7 465.2 97.5 465.2 104.3 467.7 109.6 467.3 117.3 466.2 122.3 468.2 130.5 471.5 137.1 468.9 143.3 471.2" fill="none" stroke="#3b7bd8" stroke-width="0.45" stroke-opacity="0.62" stroke-linejoin="round"/>
<path d="M43.3 453.1 49.9 455.2 59.7 454.9 64.8 458.6 73.2 455.9 80.7 456.1 88.9 457.7 97.7 461.8 106.1 460.1 113.3 460.8 122.7 464.4 128.7 463.3 136.2 465.0 144.0 464.1 138.1 463.5 131.9 463.6 126.2 462.4 121.2 463.7 115.0 464.8 107.9 463.6 102.5 461.8 95.4 462.4 89.1 464.0 81.3 461.5 74.7 461.4 68.5 461.9 65.0 461.5 56.7 461.7 51.8 460.1 56.9 460.3 64.8 464.1 70.6 463.7 77.9 465.4 83.7 463.3 92.5 467.6 98.4 468.8 105.6 466.4 112.6 466.6 118.4 469.9 125.6 469.8 132.8 468.6 140.1 470.0 131.6 470.7 122.4 467.6 117.0 468.8 106.8 468.4 99.4 463.1 93.4 464.3 84.9 461.8 77.2 462.3 69.8 458.3 60.6 459.7 55.0 459.0 45.5 457.2 54.2 456.4 58.7 456.5 65.6 457.7 72.7 461.0 78.7 459.9 86.6 461.0 91.6 463.2 98.7 463.5 105.4 465.6 112.9 467.8 119.9 469.4 126.0 470.2 131.6 472.4 138.8 474.2 145.1 472.6 137.7 470.9 131.7 470.9 123.7 471.0 119.2 467.9 110.8 471.3 106.3 468.1 98.0 469.5 90.6 466.8 84.4 464.5 78.5 463.5 72.6 462.7 67.1 462.3 59.4 463.1 51.4 462.8 47.1 460.7 52.2 461.2 59.7 464.1 65.5 464.9 72.2 461.7 79.4 463.7 83.6 466.9 90.1 465.7 97.9 467.7 104.2 465.5 110.4 466.0 117.7 467.4 124.8 467.5 130.1 468.2 138.5 471.5 143.6 470.6" fill="none" stroke="#86c46e" stroke-width="0.45" stroke-opacity="0.62" stroke-linejoin="round"/>
<path d="M144.6 467.6 136.0 466.5 127.4 469.5 122.1 466.1 112.5 465.0 105.6 465.2 95.8 466.2 90.0 461.7 80.6 461.8 73.2 461.6 64.1 460.6 57.1 460.8 48.5 461.3 56.2 461.3 61.4 462.9 67.9 461.0 73.2 461.7 78.2 464.8 85.3 463.7 90.6 463.5 98.7 465.7 104.2 467.9 111.8 468.8 115.9 470.9 121.9 469.9 129.5 469.4 136.4 471.6 142.9 471.5 134.6 471.8 127.6 467.6 120.8 468.1 115.2 468.7 107.4 467.6 102.4 463.4 93.7 463.7 88.7 461.2 81.2 460.2 76.1 458.7 68.6 458.8 62.1 457.4 56.0 459.5 49.0 456.2 55.6 455.3 59.8 458.7 66.7 457.9 71.1 458.3 78.4 459.1 85.8 461.7 89.3 464.0 95.4 463.9 101.8 465.3 109.2 466.1 115.9 466.7 120.8 465.9 125.7 468.6 132.5 470.2 139.9 468.4 144.9 471.5" fill="none" stroke="#86c46e" stroke-width="0.45" stroke-opacity="0.62" stroke-linejoin="round"/>
<path d="M153.6 445.7 143.3 445.7 134.2 445.0 124.5 444.0 114.1 445.9 106.4 442.6 94.7 442.8 86.8 443.7 74.6 444.8 64.8 445.4 55.6 445.6 47.3 443.3 36.9 445.0 45.7 444.9 53.5 442.4 62.2 442.3 68.8 446.2 78.2 443.4 86.9 445.3 92.4 445.0 101.3 446.8 108.7 445.3 117.2 445.9 125.2 444.1 135.3 446.0 142.3 443.8 149.8 447.7 142.6 443.8 132.0 445.7 123.2 447.8 112.1 447.4 104.0 445.1 95.5 444.8 84.4 443.5 75.0 447.7 66.0 446.4 57.6 447.2 47.6 443.8 39.4 445.8 46.7 443.4 55.7 446.9 61.7 446.1 69.9 446.5 78.2 445.0 86.4 447.4 95.0 445.5 100.4 445.4 111.0 443.8 117.6 443.9 126.7 446.2 133.2 445.2 140.4 446.4 147.4 445.2 156.7 446.0" fill="none" stroke="#e2707a" stroke-width="0.45" stroke-opacity="0.62" stroke-linejoin="round"/>
<path d="M142.6 467.8 135.6 466.2 130.8 466.5 121.9 464.5 117.7 465.8 110.6 464.2 104.4 462.3 96.0 461.2 89.0 457.7 82.2 458.4 75.0 455.7 68.7 455.8 64.0 455.2 56.9 455.2 49.5 452.2 41.8 450.3 47.3 452.8 54.3 450.7 60.9 452.3 66.9 454.7 74.4 453.6 81.2 453.8 88.1 453.9 93.4 457.1 100.2 456.6 106.9 457.8 112.7 455.9 117.6 458.2 125.0 457.1 131.9 458.7 137.4 460.0 142.8 461.7 137.1 460.9 132.0 458.9 124.0 456.1 118.2 457.0 112.4 455.9 106.2 456.2 97.8 453.6 91.4 453.3 85.2 452.8 78.8 450.9 72.5 447.6 65.8 448.7 61.5 448.6 53.3 447.6 46.0 444.8 42.1 442.3 48.9 444.8 54.4 445.0 61.6 446.4 67.5 447.1 73.9 451.0 81.3 449.2 87.1 453.2 95.2 454.7 101.0 455.2 107.9 454.0 115.6 455.7 120.7 458.7 126.5 459.6 134.1 459.3 140.8 460.4" fill="none" stroke="#86c46e" stroke-width="0.45" stroke-opacity="0.62" stroke-linejoin="round"/>
<path d="M38.2 445.0 46.1 447.1 53.6 448.1 59.7 446.8 65.7 447.0 73.0 449.5 78.9 448.0 86.0 451.1 90.8 450.5 98.1 452.0 105.4 449.4 111.9 452.1 118.2 452.0 124.3 450.6 132.8 454.1 139.9 452.5 145.0 454.8 152.3 454.4 145.5 451.4 138.4 451.1 133.1 451.1 123.7 451.2 119.7 450.4 112.9 450.8 105.2 448.5 99.4 451.8 90.5 447.4 85.7 450.8 79.7 448.6 71.3 449.4 63.9 445.8 58.3 448.1 51.0 446.2 44.5 445.1 37.2 445.1 44.4 445.8 52.5 449.3 56.9 447.1 63.6 448.2 69.7 448.4 78.6 450.7 84.3 453.7 91.8 454.0 96.9 453.7 102.5 453.9 111.4 453.5 117.9 455.1 123.8 456.6 130.8 457.6 136.2 457.5 142.5 459.8" fill="none" stroke="#e2707a" stroke-width="0.45" stroke-opacity="0.62" stroke-linejoin="round"/>
<path d="M158.3 438.9 150.7 440.2 144.4 439.0 134.7 439.0 127.5 438.9 119.7 437.0 113.9 439.1 105.9 438.9 95.8 440.4 88.6 437.0 81.0 437.0 73.6 438.6 66.1 437.5 59.8 437.3 51.9 438.1 42.5 438.7 33.8 437.0 44.0 437.0 50.6 437.0 59.9 437.0 67.7 437.1 76.4 438.7 83.2 437.0 91.3 437.8 100.9 438.9 108.2 439.1 116.7 437.1 125.5 437.0 133.8 437.0 140.6 438.5 148.4 437.0 139.4 437.3 131.3 437.0 124.1 437.0 114.4 437.0 105.9 438.1 95.9 437.8 88.9 437.0 78.2 437.0 71.4 438.3 62.2 438.0 51.8 437.0 45.0 437.0 35.3 437.7 43.9 437.1 51.5 438.9 60.3 438.3 65.8 437.8 76.4 439.1 82.3 439.6 92.1 437.0 98.3 439.2 106.6 437.0 116.6 441.3 125.0 438.5 133.0 438.0 140.5 439.4 147.8 440.3" fill="none" stroke="#e2707a" stroke-width="0.45" stroke-opacity="0.62" stroke-linejoin="round"/>
<path d="M45.9 458.9 52.6 460.2 59.9 460.2 64.1 461.6 70.9 463.1 79.1 467.2 83.0 467.9 89.3 467.2 95.4 468.9 102.0 468.5 107.6 471.9 115.3 472.0 120.6 472.5 127.4 476.5 133.2 477.9 138.2 477.4 132.5 474.7 125.8 473.4 118.6 472.7 109.7 474.2 102.5 470.6 95.1 471.5 86.5 469.0 81.2 468.1 73.1 466.2 66.0 468.2 58.7 465.3 52.7 466.8 57.1 463.4 63.8 465.9 72.6 467.5 76.8 465.0 85.5 466.7 90.9 466.9 96.9 468.8 104.7 469.2 112.3 467.1 118.2 471.1 126.0 471.9 131.6 471.0 138.4 471.2 146.8 472.0 137.9 470.6 131.5 469.7 125.6 471.1 119.1 468.2 112.7 467.3 104.1 467.2 97.5 464.4 91.1 464.7 83.3 463.4 79.3 463.2 70.8 462.1 65.0 461.5 57.4 461.0 50.2 460.6 45.2 459.9 50.5 459.0 54.5 459.3 62.1 463.1 67.2 459.8 73.6 461.5 78.1 464.2 84.9 464.2 90.4 465.3 96.7 464.5 103.2 465.0 108.9 467.7 114.5 464.9 120.7 467.8 126.6 469.2 131.5 468.6 138.8 469.9 144.3 471.7 136.2 469.6 127.0 468.3 119.9 464.5 112.6 464.1 103.6 461.4 96.5 461.1 88.2 461.3 79.5 458.6 71.3 455.6 64.3 457.1 54.0 451.7 47.6 453.0 53.5 451.7 60.6 452.2 70.1 454.2 77.0 456.6 82.6 456.3 88.9 457.7 97.5 454.4 104.4 457.7 111.3 455.5 117.6 456.2 125.1 459.1 131.9 459.3 138.6 460.8 146.2 460.3" fill="none" stroke="#3b7bd8" stroke-width="0.45" stroke-opacity="0.62" stroke-linejoin="round"/>
<line x1="48.4" y1="459" x2="181.5" y2="459" stroke="#b4c4d0" stroke-width="0.6"/>
<path d="M12.5,400.7 H181.5 V495.6 H54.7" fill="none" stroke="#8c9296" stroke-width="1.3"/>
<line x1="23.9" y1="426.3" x2="181.5" y2="426.3" stroke="#8c9296" stroke-width="1"/>
<line x1="12.5" y1="400.7" x2="54.7" y2="495.6" stroke="#3a3a3a" stroke-width="1.1"/>
<polygon points="202.9,426.3 360.5,426.3 360.5,495.6 233.7,495.6" fill="#e2f3fb"/>
<path d="M249.4 470.8 253.4 470.5 257.3 470.8 261.2 470.2 265.2 470.3 269.0 469.6 273.0 469.6 277.0 469.7 280.9 470.0 284.9 470.3 288.6 471.1 291.4 472.7 294.0 474.4 295.5 476.4 296.4 478.6 297.5 480.7 297.4 482.9 296.3 485.0 295.8 484.8 296.0 482.6 296.9 480.5 297.1 478.3 296.6 476.1 297.2 473.9 297.9 471.8 297.3 469.6 297.0 467.4 298.1 465.3 298.4 463.1 298.9 460.9 300.4 458.8 301.8 456.8 301.8 454.6 301.1 452.4 301.3 450.2 302.4 448.1 303.1 445.9 302.1 443.8 302.6 441.6 302.2 439.4 300.7 440.6 298.9 442.6 295.9 444.0 294.2 446.0 292.0 447.8 290.4 449.9 288.6 451.8 286.5 453.7 283.4 455.1" fill="none" stroke="#e2707a" stroke-width="0.55" stroke-opacity="0.72" stroke-linejoin="round"/>
<path d="M297.3 482.0 301.3 481.6 305.1 480.9 309.1 480.8 313.1 480.9 317.1 480.8 321.0 481.0 324.9 481.7 328.9 481.8 332.7 481.2 336.7 481.4 340.6 480.8 344.1 479.7 347.9 479.1 348.6 478.0 345.5 476.6 343.5 474.7 341.6 472.8 339.6 470.9 336.9 469.3 335.4 467.2 334.8 465.1 333.6 463.0 332.6 460.8 332.9 458.6 332.9 456.4 332.4 454.2 331.9 452.1 332.5 449.9 333.9 447.8 334.2 445.6 334.4 443.4 335.8 441.4 337.7 439.4 340.8 439.9 343.5 441.6 346.2 443.2 349.7 444.3 346.8 445.3 343.0 446.0 339.3 446.9 335.7 447.8 333.1 449.5 329.7 450.7 327.3 452.4 324.9 454.2 323.2 456.2 321.1 458.1 320.3 460.2" fill="none" stroke="#e2707a" stroke-width="0.55" stroke-opacity="0.72" stroke-linejoin="round"/>
<path d="M323.4 485.4 326.4 485.8 329.3 485.9 332.3 486.2 335.3 486.2 338.1 485.6 341.0 485.8 343.8 486.4 346.3 487.2 348.0 488.5 349.9 489.6 352.3 490.5 353.8 491.8 352.4 493.0 351.5 494.2 351.3 492.7 352.2 491.2 352.6 489.8 353.8 488.4 352.3 487.2 351.8 485.7 350.4 484.4 349.5 483.0 349.7 483.1 349.4 484.6 350.2 486.0 352.4 487.1 353.2 488.5 353.0 489.7 352.3 491.2 350.4 492.4 349.0 493.7 347.4 493.7 344.8 492.9 342.0 492.3 339.5 491.5 337.6 490.4 336.2 489.1 335.3 487.6 333.3 486.5 332.0 485.1 331.4 483.7 332.0 482.2 333.7 481.0 336.3 480.2 338.3 480.4 340.7 481.2 343.7 481.5 346.5 481.9 349.5 483.0 352.3 483.4 353.3 484.3 351.0 485.3 348.9 486.3 346.1 486.9 343.6 487.7 340.7 488.2 337.7 488.2 334.8 488.3 331.8 488.0 329.0 488.5 326.1 488.8 323.1 488.5 320.2 488.6 317.4 488.1 315.3 487.0 313.0 486.0 311.5 484.7 311.7 483.2 311.0 481.8 310.3 480.3 309.0 482.2 307.9 483.6 307.9 485.1 308.5 486.5 307.3 487.9 305.0 488.9 303.8 490.2 302.0 491.5 300.3 492.7 298.5 493.9 295.9 493.9 293.1 493.5 290.9 492.4 287.9 492.2 284.9 492.4 282.4 493.2 280.7 494.2 280.4 492.7 281.6 491.3 281.2 489.8 279.8 488.5 279.9 487.0 279.5 485.5 277.9 484.3 277.9 482.8 279.3 481.4 281.6 480.5 283.5 481.1 286.1 481.9 289.1 481.8 291.7 482.5 294.1 483.4 297.0 483.6 300.0 483.7 302.9 483.2 305.6 482.5 308.5 482.1 310.6 481.0 313.0 480.1 314.1 479.6 314.8 481.0 316.7 482.2 318.7 483.3 320.4 484.5 323.2 485.1 326.1 485.5 329.0 485.1 331.8 484.6 334.6 484.1 336.5 482.9 337.8 481.6 337.5 480.1 337.5 480.5 336.4 481.9 335.6 483.3 333.9 484.5 331.9 485.7 331.3 487.1 330.5 488.6 329.1 489.9 326.7 490.8 325.8 492.3 325.1 493.7 323.0 493.8 320.5 493.0 317.5 493.0 315.0 492.1 312.8 491.1 311.1 489.8 310.1 488.4 309.4 487.0 307.4 485.9 305.2 484.9 304.3 483.4 305.1 482.0 305.0 482.6 305.9 484.0 306.6 485.5 306.4 487.0 304.8 488.3" fill="none" stroke="#86c46e" stroke-width="0.55" stroke-opacity="0.72" stroke-linejoin="round"/>
<path d="M312.1 482.3 315.1 482.1 318.0 481.8 320.9 482.2 322.9 483.3 323.7 484.8 325.4 486.0 327.6 487.0 330.4 487.7 333.3 487.7 336.3 487.4 339.3 487.4 341.9 488.2 344.5 488.9 346.7 489.9 348.1 491.2 350.3 492.2 353.3 492.5 351.8 492.2 348.8 492.0 345.8 492.1 342.9 492.4 340.0 492.8 337.0 492.9 334.4 493.7 333.0 493.6 333.3 492.1 332.1 490.8 331.1 489.3 331.3 487.8 332.9 486.6 333.0 485.1 331.4 483.8 329.6 482.6 328.6 481.2 327.1 479.9 326.4 478.4 324.7 477.8 322.1 478.5 320.4 479.8 319.8 481.3 320.8 482.7 322.9 483.7 325.4 484.5 327.0 485.8 327.1 487.3 326.8 488.8 326.1 490.3 325.2 491.7 323.1 492.8 320.5 493.6 317.5 493.5 314.6 493.4 311.7 492.9 309.2 492.1 306.5 491.5 304.7 490.3 302.2 489.5 299.9 488.5 297.8 487.4 295.1 486.8 293.2 485.6 290.7 484.8 288.2 484.0 285.7 483.1 283.4 482.1 281.6 480.9 279.1 480.1 276.6 479.3 274.9 478.1 273.4 479.4 271.0 480.3 268.0 480.5 265.1 480.1 262.2 480.3 259.6 481.1 257.0 481.9 254.7 482.8 252.0 483.4 249.0 483.6 246.0 483.6 243.3 484.2 240.3 484.2 237.7 485.0 234.7 485.2 232.6 485.5 235.4 484.9 237.6 484.0 240.6 483.7 243.4 484.2 245.2 485.4 247.8 486.2 250.2 487.0 253.0 487.6 255.4 488.5 258.1 489.2 260.0 490.3 261.8 491.5 263.0 492.9 263.6 494.2 264.7 492.8 265.5 491.4 265.4 489.9 265.8 488.4 266.0 486.9 266.7 485.4 266.9 483.9 265.8 482.5 265.5 481.1 265.4 479.6 263.7 478.3 261.5 479.2 259.5 480.3 258.4 481.7 256.2 482.7 255.1 484.1 253.8 485.5 254.1 487.0 255.7 488.2 256.1 489.7 256.7 491.2 257.4 492.6 257.3 494.1 258.1 493.0 257.6 491.5 258.1 490.1 257.9 488.6 257.7 487.1 258.9 485.7 261.0 484.6 262.6 483.4 263.6 481.9 262.9 480.5 261.0 479.3 258.3 479.3 255.6 479.9 253.6 481.0 252.0 482.3 250.5 483.6 249.7 485.0 249.1 486.5 249.7 488.0 249.7 489.5 250.4 491.0 251.8 492.3 253.1 493.6 253.3 493.5 252.4 492.0 251.0 490.7 250.8 489.2 249.2 487.9" fill="none" stroke="#86c46e" stroke-width="0.55" stroke-opacity="0.72" stroke-linejoin="round"/>
<path d="M301.4 491.9 298.5 491.5 296.4 490.5 294.7 489.2 293.0 488.0 290.7 487.0 289.2 485.7 286.6 485.0 283.6 484.9 280.8 485.4 277.8 485.4 274.9 485.6 272.4 486.5 269.7 487.2 267.0 487.8 264.0 487.5 261.2 488.1 258.2 488.1 255.4 487.6 252.6 487.1 250.2 486.2 247.2 486.1 244.3 486.6 241.3 486.7 238.4 487.1 236.5 488.2 234.1 489.2 236.1 490.5 237.9 491.7 240.3 492.6 241.4 494.0 240.9 493.1 240.3 491.6 241.2 490.2 240.5 488.8 240.4 487.3 239.5 485.8 239.1 484.3 238.7 482.8 239.9 483.5 241.2 484.9 241.6 486.4 241.0 487.8 239.7 489.2 238.3 490.5 235.7 491.3 237.1 492.1 239.3 493.1 241.1 494.3 243.3 493.3 245.7 492.4 248.1 491.5 249.1 490.1 251.3 489.1 252.1 487.6 251.4 486.2 250.1 484.8 247.9 483.8 245.6 482.8 243.1 482.8 240.9 483.8 238.4 484.6 236.2 485.7 234.1 486.7 233.6 488.1 235.8 489.2 238.2 490.1 240.7 490.8 243.5 491.4 245.9 492.3 248.0 493.4 250.6 494.1 253.5 494.1 256.4 494.0 259.2 493.5 261.9 492.8 264.5 492.0 267.5 492.0 270.4 491.6 272.9 490.8 275.7 490.3 277.7 489.2 279.5 488.0 282.3 487.4 285.2 487.0 288.1 486.7 290.5 485.8 293.3 485.4 295.9 484.6 298.8 484.2 301.8 484.4 304.7 484.8 307.7 484.6 310.4 485.3 313.0 486.0 316.0 486.2 319.0 486.0 321.4 485.1 322.8 483.8 324.3 482.5 325.0 481.0 327.2 480.0 328.3 478.6 329.8 478.4 332.5 479.1 335.4 479.2 338.4 480.1 340.9 481.6 343.9 481.7 346.9 481.9 349.5 483.4 352.4 483.7 352.6 483.8 349.9 484.5 346.9 484.3 344.0 484.6 341.2 485.0 338.5 485.8 335.6 486.0 332.6 486.3 329.7 486.6 326.7 486.4 323.9 486.9 320.9 486.9 317.9 486.9 315.1 486.3 313.3 485.2 310.5 484.5 308.2 483.6 306.9 482.3 306.1 481.8 305.6 483.3 306.6 484.7 308.5 485.8 310.4 487.0 311.6 488.4 313.8 489.4 315.9 490.5 317.6 491.7 319.5 492.9 322.3 493.5 324.3 494.0 325.9 492.8 327.5 491.5 327.6 490.0 327.2 488.5 325.9 487.2 323.4 486.3 321.1 485.4 318.9 484.4 316.2 483.7" fill="none" stroke="#5aae45" stroke-width="0.55" stroke-opacity="0.72" stroke-linejoin="round"/>
<path d="M278.1 475.8 281.8 476.7 285.4 477.6 288.4 479.0 290.9 480.8 293.3 482.5 294.7 484.6 294.9 485.2 294.5 483.0 295.7 480.9 296.8 478.8 298.5 476.8 300.0 474.8 302.8 473.2 304.5 471.2 307.1 469.5 308.7 467.5 311.6 466.0 315.1 465.0 317.5 463.2 319.4 461.3 319.7 459.1 320.6 456.9 322.1 454.9 322.2 452.7 322.4 450.5 322.5 448.3 321.6 446.1 320.3 444.1 320.7 441.9 320.2 439.7 318.3 440.3 316.1 442.1 314.3 444.0 312.2 445.9 311.7 448.1 310.4 450.2 308.6 452.2 306.7 454.1 303.7 455.6 300.0 456.4 296.0 456.5 292.3 455.7 289.3 454.2 285.5 453.5 282.1 452.3 279.7 450.5 278.8 448.4 277.1 446.4" fill="none" stroke="#3b7bd8" stroke-width="0.55" stroke-opacity="0.72" stroke-linejoin="round"/>
<path d="M290.9 491.6 293.8 491.8 296.8 491.6 299.6 492.0 302.2 492.7 304.4 493.4 306.4 494.3 308.7 493.9 311.6 493.6 314.6 493.8 317.6 493.8 320.6 493.8 323.4 493.4 326.4 493.3 329.4 493.2 332.3 493.5 334.6 494.2 336.0 493.7 337.9 492.8 340.4 492.1 342.3 491.2 343.8 490.2 345.0 489.1 347.1 488.2 348.8 487.2 349.6 486.1 349.2 487.1 349.9 488.3 351.7 489.3 352.7 490.4 353.3 491.6 352.6 492.7 351.6 493.9 349.7 494.2 347.6 493.4 345.3 492.6 343.0 491.8 341.0 490.9 339.2 489.9 337.4 489.0 335.1 488.2 332.3 487.8 329.6 487.2 326.7 486.9 323.9 486.6 321.0 486.3 318.4 486.4 316.4 487.2 313.9 487.9 311.5 488.6 310.1 489.7 308.7 490.8 307.3 491.8 304.9 492.6 302.7 493.4 301.5 494.5 300.9 493.4 299.1 492.4 298.3 491.2 297.5 490.1 297.9 488.9 298.7 487.7 298.2 486.6 298.5 486.6 298.1 487.8 298.2 489.0 298.3 490.2 298.4 491.4 298.5 492.6 298.7 493.8 297.8 494.0" fill="none" stroke="#6aa0e0" stroke-width="0.55" stroke-opacity="0.72" stroke-linejoin="round"/>
<path d="M252.0 491.4 255.0 491.3 257.9 490.9 260.8 490.5 263.7 490.1 265.9 489.1 268.8 488.7 271.5 488.0 273.0 486.8 275.1 485.7 277.0 484.5 278.0 483.1 279.7 481.9 280.1 480.4 278.9 479.0 278.5 480.2 279.4 481.6 280.8 482.9 281.3 484.4 280.5 485.8 278.6 487.0 277.1 488.3 274.6 489.1 272.0 489.9 269.2 490.4 267.5 491.7 265.9 492.9 263.8 494.0 263.2 493.1 261.2 492.0 259.3 490.8 257.7 489.6 255.9 488.4 253.8 487.3 253.3 485.8 251.8 484.5 251.4 483.0 249.4 481.9 247.6 482.8 246.4 484.1 246.8 485.6 247.1 487.1 247.3 488.6 247.7 490.1 247.5 491.6 246.1 492.9 245.2 494.3 244.8 492.8 243.6 491.4 242.9 489.9 243.7 488.5 245.1 487.2 247.2 486.1 247.9 484.6 247.8 483.1 248.9 481.7 250.0 482.0 252.3 483.0 254.6 484.0 255.5 485.4 255.6 486.9 257.2 488.2 257.4 489.7 255.8 491.0 255.3 492.5 254.7 493.9 252.8 493.5 251.3 492.2 251.0 490.7 251.8 489.3 252.3 487.8 251.8 486.3 250.3 485.0 248.4 483.8 246.5 482.7 244.7 482.9 242.6 484.0 240.2 484.9 238.1 486.0 236.7 487.3 234.5 488.4 234.9 489.7 237.0 490.8 237.7 492.2 236.9 493.7 237.3 493.6 239.3 492.5 241.2 491.3 243.2 490.2 245.7 489.4 247.6 488.2 250.2 487.5 252.3 486.4 255.1 485.9 256.9 484.7 259.2 483.7 261.7 482.9 264.7 482.9 267.6 482.5 270.0 481.6 272.3 480.6 273.1 479.2 273.2 478.0 274.7 479.3 276.0 480.6 276.5 482.1 277.8 483.5 278.5 484.9 280.4 486.1 282.9 486.9 285.2 487.9 288.1 488.2 290.6 489.0 292.4 490.2 293.1 491.7 293.7 493.2 293.2 494.0 292.3 492.5 291.6 491.1 289.8 489.9 287.5 488.9 284.7 488.3 282.8 487.2 280.4 486.3 278.6 485.1 276.2 484.2 275.1 482.8 272.9 481.8 271.5 480.4 269.9 479.2 267.9 478.1 265.9 478.3 264.4 479.6 262.9 480.9 262.4 482.4 261.4 483.8 260.9 485.3 261.9 486.7 262.2 488.2 261.9 489.7 261.0 491.1 260.4 492.6 260.8 494.0 261.8 493.1 262.2 491.7 262.5 490.2 264.2 488.9 265.9 487.7 268.2 486.7 270.8 485.9 272.1 484.6" fill="none" stroke="#5aae45" stroke-width="0.55" stroke-opacity="0.72" stroke-linejoin="round"/>
<path d="M277.4 459.4 281.4 459.2 285.4 459.1 289.3 458.7 293.3 458.7 297.0 457.9 299.9 456.4 302.3 454.6 303.2 452.5 304.3 450.4 306.8 448.6 309.8 447.2 311.8 445.3 313.8 443.4 316.6 441.9 320.1 440.7 323.9 440.1 327.4 439.0 331.0 439.9 334.6 440.9 338.5 441.2 342.2 442.1 346.2 442.3 349.9 442.5 345.9 442.9 342.1 443.6 339.0 444.9 335.9 446.3 333.9 448.2 330.8 449.6 328.4 451.4 327.0 453.4 325.5 455.5 323.9 457.5 321.2 459.1 319.3 461.1 316.3 462.5 312.9 463.6 309.8 465.1 306.4 466.2 302.4 466.5 298.5 466.0 295.0 465.0 291.4 464.1 287.4 464.0 283.4 464.2 279.6 464.9 275.6 465.1 271.8 465.6" fill="none" stroke="#86c46e" stroke-width="0.55" stroke-opacity="0.72" stroke-linejoin="round"/>
<path d="M270.9 470.6 267.6 469.3 264.5 468.0 260.6 467.4 257.4 466.1 253.7 465.2 249.8 464.9 245.8 464.6 241.8 464.8 238.0 464.2 234.6 463.0 230.8 462.2 226.9 462.0 223.3 461.0 224.3 460.2 227.2 458.7 230.6 457.5 233.4 455.9 237.0 455.1 240.9 454.5 244.9 454.2 248.8 454.0 252.8 454.2 256.7 453.7 260.2 452.6 262.9 451.0 265.7 449.4 268.7 448.0 270.8 446.1 272.2 444.0 272.1 441.8 271.5 439.7 272.4 440.5 272.6 442.7 274.3 444.7 277.0 446.3 278.4 448.4 280.4 450.3 281.6 452.4 281.2 454.6 279.6 456.6 278.3 458.7 278.4 460.9 278.6 463.0 279.7 465.2 280.6 467.3 281.6 469.4 282.3 471.6 282.7 473.8" fill="none" stroke="#5aae45" stroke-width="0.55" stroke-opacity="0.72" stroke-linejoin="round"/>
<path d="M267.0 484.6 269.9 484.1 272.5 483.3 275.5 483.4 278.5 483.5 281.3 484.0 284.3 483.9 287.2 483.6 290.1 484.1 292.8 484.7 295.5 485.4 298.4 485.3 301.4 485.6 304.2 486.2 307.2 486.2 309.6 485.3 312.5 484.9 315.5 485.2 318.5 485.2 321.0 484.5 323.2 483.4 325.1 482.3 327.7 481.5 330.6 481.3 333.5 480.9 335.9 480.0 338.4 480.4 341.2 480.9 343.9 481.5 346.4 482.3 349.4 482.4 352.3 482.9 353.0 483.6 350.5 484.4 347.6 484.8 344.8 484.3 341.8 484.3 338.8 484.4 335.8 484.7 333.3 485.5 330.8 486.3 327.9 486.7 325.0 486.3 323.1 485.1 321.7 483.8 321.2 482.3 321.8 480.9 321.8 479.4 321.9 477.9 321.0 479.1 319.7 480.4 317.9 481.6 315.4 482.5 312.5 482.9 309.5 482.8 306.6 482.5 303.6 482.7 300.7 482.9 297.7 482.7 294.7 482.9 291.9 483.3 289.0 483.7 286.0 483.7 283.1 483.3 280.2 483.6 277.2 483.3 274.9 482.3 272.3 481.6 270.7 480.4 268.4 479.4 265.7 478.7 263.7 478.1 262.4 479.4 262.6 480.9 262.4 482.4 261.6 483.9 262.3 485.3 261.6 486.8 260.9 488.3 262.0 489.7 264.2 490.7 265.0 492.1 264.9 493.6 265.0 493.5 263.9 492.1 262.2 490.9 262.0 489.4 261.3 487.9 259.2 486.8 256.5 486.2 253.5 486.2 250.6 485.9 247.8 486.5 245.4 487.4 242.5 487.8 240.0 488.6 238.1 489.8 235.9 490.8 236.3 491.8 237.6 493.2 239.2 494.1 240.9 492.9 243.5 492.2 245.0 490.9 245.4 489.4 247.0 488.1 249.5 487.3 250.9 486.0 250.6 484.5 249.7 483.0 248.8 481.6 248.3 483.0 249.5 484.4 251.9 485.3 253.5 486.6 256.1 487.3 257.5 488.6 258.6 490.0 259.7 491.4 261.2 492.7 261.2 494.2 261.8 492.9 261.6 491.4 262.1 489.9 263.6 488.6 265.9 487.6 268.2 486.7 270.5 485.8 273.0 484.9 274.6 483.6 276.3 482.4 277.1 481.0 278.4 479.6 278.3 479.5 279.7 480.9 280.2 482.3 280.2 483.8 278.7 485.1 277.8 486.6 278.6 488.0 279.3 489.5 280.9 490.7 283.6 491.4 285.8 492.4 288.2 493.3 289.9 494.1 292.4 493.2 294.8 492.4 296.2 491.0 298.7 490.2 301.7 490.1" fill="none" stroke="#5aae45" stroke-width="0.55" stroke-opacity="0.72" stroke-linejoin="round"/>
<path d="M247.5 479.6 251.4 479.5 255.4 479.3 259.2 478.6 263.1 478.0 266.9 477.3 270.7 476.7 274.7 476.6 278.7 476.8 282.6 476.4 286.6 476.6 290.5 476.1 294.5 475.9 298.1 475.0 301.7 474.1 305.7 474.0 309.7 473.9 313.7 473.6 317.7 473.3 321.5 472.7 325.5 472.6 329.5 472.7 333.2 473.6 337.1 473.9 341.0 474.5 345.0 474.5 349.0 474.3 347.0 474.2 343.1 474.7 339.4 475.5 335.6 476.2 332.1 477.3 328.2 477.8 324.6 478.7 320.7 479.2 316.8 479.7 312.8 479.9 308.9 480.5 305.3 481.4 302.5 483.0 299.0 484.1 295.0 484.4 291.1 484.9 287.7 486.0 284.3 484.8 280.8 483.8 277.0 483.0 273.3 482.2 269.5 481.6" fill="none" stroke="#5aae45" stroke-width="0.55" stroke-opacity="0.72" stroke-linejoin="round"/>
<path d="M334.0 492.5 336.9 492.2 339.8 491.9 342.8 491.7 345.8 491.7 348.8 491.5 351.6 491.1 353.6 490.7 350.6 490.5 347.7 490.4 344.8 490.6 341.8 490.8 338.9 491.1 336.1 491.6 333.1 491.6 330.4 492.1 327.4 492.0 324.4 492.0 321.5 491.6 318.6 491.5 315.7 491.2 312.7 491.0 309.9 490.6 307.6 489.8 305.2 489.1 303.1 488.3 300.4 487.7 298.1 486.9 295.9 486.1 294.6 487.0 294.2 488.2 292.6 489.2 290.7 490.1 288.2 490.8 285.7 491.4 283.8 492.4 281.3 493.0 279.3 493.9 277.1 494.3 274.6 493.6 272.0 493.0 269.3 492.5 266.4 492.1 264.0 491.4 262.4 490.4 261.7 489.2 259.7 488.4 257.2 487.7 254.2 487.5 251.7 486.9 248.8 486.6 245.9 486.8 243.0 486.5 240.0 486.5 237.0 486.4 234.5 486.3 233.8 486.7 236.6 487.0 239.5 487.3 241.9 488.0 244.6 488.6 247.5 488.8 250.1 489.4 252.3 490.2 253.8 491.3 254.0 492.5 254.1 493.7 253.5 494.2 252.1 493.1 250.7 492.0 249.6 490.9" fill="none" stroke="#3b7bd8" stroke-width="0.55" stroke-opacity="0.72" stroke-linejoin="round"/>
<path d="M337.4 490.8 340.3 491.2 343.0 491.9 345.8 492.4 348.2 493.3 349.1 493.9 348.7 492.4 346.9 491.2 344.5 490.4 342.1 489.4 339.6 488.6 337.6 487.5 336.5 486.1 334.1 485.2 332.2 484.1 330.7 482.8 328.5 481.8 326.9 480.5 324.2 479.8 321.4 479.3 318.6 478.8 315.6 478.9 312.6 480.3 309.7 480.7 306.7 481.6 304.0 482.2 301.1 482.6 298.9 483.6 296.9 484.8 295.9 486.2 295.2 487.6 293.5 488.9 292.9 490.4 292.9 491.9 292.2 493.3 292.2 493.8 291.4 492.3 290.9 490.9 289.4 489.6 286.7 488.9 284.6 487.8 282.1 487.0 279.2 486.6 276.9 485.6 275.9 484.2 274.4 482.9 272.9 481.6 271.7 480.2 271.6 478.7 270.4 477.8 270.2 479.3 268.8 480.6 267.0 481.8 264.7 482.7 262.8 483.9 262.0 485.3 260.1 486.5 257.6 487.3 254.7 487.6 252.3 488.6 249.4 488.9 246.6 489.4 243.6 489.6 240.6 489.4 237.9 488.8 235.1 488.2 234.6 488.1 237.5 488.5 240.4 488.1 243.4 488.2 246.4 487.9 249.3 487.6 252.2 487.2 255.2 487.3 258.1 487.7 261.1 487.6 263.8 488.2 266.0 489.2 268.6 489.9 270.1 491.2 272.7 492.0 275.2 492.9 276.6 494.2 278.9 493.5 281.8 493.0 284.7 493.4 287.6 493.8 290.0 493.9 292.6 493.2 295.6 493.1 298.6 493.1 301.6 492.9 304.4 493.4 307.4 493.2 310.2 493.7 312.2 493.7 314.0 492.5 315.1 491.1 315.8 489.7 315.5 488.2 314.4 486.8 313.2 485.4 312.4 484.0 312.5 482.5 312.9 481.0 313.4 479.5 314.4 480.0 315.7 481.4 315.8 482.9 314.2 484.2 312.2 485.3 311.2 486.7 310.3 488.1 309.8 489.6 307.8 490.7 306.4 492.0 305.4 493.5 305.4 493.6 305.9 492.2 307.7 491.0 309.8 489.9 311.1 488.5 313.0 487.4 315.8 487.0 318.8 487.3 321.6 487.8 324.6 488.0 327.5 487.7 330.5 487.6 333.5 487.5 336.5 487.6 339.2 488.2 342.2 488.1 345.2 487.9 348.2 487.9 350.7 488.8 351.9 490.1 352.8 491.6 353.5 493.0 354.0 494.1 352.7 492.8 351.7 491.3 351.9 489.8 351.8 488.3 351.9 486.8 352.6 485.4 353.5 483.9 353.8 482.5 353.8 484.0 352.2 485.3 349.8 486.2" fill="none" stroke="#86c46e" stroke-width="0.55" stroke-opacity="0.72" stroke-linejoin="round"/>
<path d="M299.8 490.3 302.5 491.0 305.4 491.1 308.4 490.8 310.9 490.0 313.9 489.7 316.7 490.3 319.1 491.2 321.3 492.2 322.4 493.6 324.8 494.1 326.1 492.8 328.4 491.8 330.0 490.5 332.3 489.6 335.3 489.3 338.1 489.8 340.9 490.4 343.8 490.1 345.9 489.0 346.8 487.6 348.4 486.3 351.0 485.6 353.3 484.6 353.1 483.3 351.2 482.7 348.4 483.3 346.6 484.5 345.8 485.9 344.1 487.1 343.4 488.6 341.4 489.7 338.5 490.1 336.4 491.2 335.7 492.6 336.1 494.1 337.5 493.2 340.1 492.4 342.4 491.5 345.3 491.1 347.9 490.4 350.5 489.6 353.5 489.5 351.7 490.0 348.8 489.6 345.9 489.2 343.1 488.7 340.1 488.8 337.3 488.2 334.4 488.5 331.4 488.7 328.4 488.5 325.5 488.8 323.0 489.6 320.0 489.9 317.3 490.5 314.6 491.1 312.8 492.3 312.2 493.8 312.6 493.3 311.4 492.0 311.1 490.5 310.5 489.0 310.2 487.5 310.9 486.0 312.2 484.7 314.4 483.7 317.3 483.3 320.3 483.5 323.2 483.1 326.1 483.4 329.0 483.9 331.7 484.5 334.7 484.5 337.5 485.0 339.5 486.2 340.6 487.5 340.6 489.0 340.3 490.5 341.4 491.9 342.5 493.3 342.1 493.8 341.5 492.3 342.2 490.9 342.5 489.4 341.5 487.9 340.3 486.6 338.5 485.4 337.5 484.0 336.1 482.6 335.6 481.2 336.7 479.8 338.2 480.9 340.2 482.1 342.2 483.2 343.6 484.5 344.7 485.9 346.3 487.2 349.0 487.8 351.8 488.3 353.4 488.9 350.5 489.1 347.7 489.8 345.0 490.4 342.2 490.9 339.8 491.8 336.9 492.1 334.0 492.4 331.3 493.1 329.0 494.1 326.3 493.9 324.2 492.8 321.4 492.3 319.2 491.3 318.0 489.9 315.8 488.9 313.0 488.4 311.0 487.3 308.7 486.3 306.6 485.3 303.7 484.8 300.8 484.5 298.5 483.5 297.6 482.9 295.7 484.1 294.6 485.4 293.0 486.7 292.0 488.1 290.4 489.4 288.4 490.5 286.5 491.7 284.4 492.7 282.6 493.9 280.4 493.6 279.7 492.2 278.1 490.9 275.4 490.2 272.5 490.4 270.1 491.3 268.1 492.4 266.1 493.6 263.5 494.3 262.1 493.0 259.4 492.3 256.5 492.0 253.5 491.8 250.7 491.2 247.8 490.9 244.9 490.5 241.9 490.7 238.9 490.8" fill="none" stroke="#86c46e" stroke-width="0.55" stroke-opacity="0.72" stroke-linejoin="round"/>
<path d="M221.2 453.2C222.2 455.3 226.0 462.0 227.4 466.0C228.8 470.0 228.5 473.5 229.7 477.0C231.0 480.5 233.7 484.3 234.8 487.0C235.8 489.7 235.8 492.0 236.0 493.0" fill="none" stroke="#3b7bd8" stroke-width="0.6" stroke-opacity="0.8"/>
<path d="M349.6 489.5 352.6 489.6 352.5 489.8 349.6 489.3 346.9 488.7 344.7 487.7 343.5 486.3 343.7 484.8 344.2 483.3 343.1 481.9 341.5 480.6 340.6 481.5 340.3 483.0 340.2 484.5 339.8 486.0 338.9 487.4 339.0 488.9 339.6 490.4 339.9 491.9 341.4 493.2 343.5 494.3 346.3 493.9 349.3 493.6 352.2 493.4 353.1 492.7 350.2 492.3 347.2 492.1 344.3 491.7 341.4 491.3 338.4 491.3 335.4 491.1 332.5 491.0 329.7 491.6 326.7 491.8 323.8 492.2 321.2 492.9 318.4 493.5 315.4 493.4 312.6 494.0 310.4 493.6 308.5 492.4 305.7 491.9 302.7 491.7 299.8 491.6 297.1 490.9 294.1 491.1 291.3 491.5 288.3 491.5 285.8 490.7 284.5 489.3 282.3 488.3 280.6 487.1 280.2 485.6 278.5 484.3 276.2 483.4 274.3 482.2 271.5 481.6 268.7 481.1 266.1 480.4 263.2 479.9 260.5 479.3 257.5 479.3 254.5 480.5 251.6 481.5 249.6 482.6 247.5 483.7 244.6 484.1 241.7 484.3 239.1 485.1 236.1 485.2 233.2 484.8 233.0 484.4 235.7 483.7 238.4 483.1 241.4 483.2 244.3 482.8 247.3 482.6 250.3 482.6 252.8 483.3 254.6 484.5 254.9 486.0 254.8 487.5 255.3 489.0 254.2 490.4 253.4 491.8 252.4 493.2 250.7 494.1 250.4 492.6 251.2 491.2 251.2 489.7 252.7 488.4 255.2 487.6 257.6 486.7 260.6 486.5 263.5 486.9 266.3 487.3 269.3 487.1 272.3 487.1 275.1 486.6 278.1 486.6 280.9 485.9 283.3 485.1 285.8 484.2 287.0 482.8 287.1 481.3 288.5 483.0 290.1 484.2 292.5 485.1 293.7 486.5 294.5 488.0 293.5 489.4 291.2 490.3 288.3 490.7 285.3 490.7 282.3 490.6 279.5 491.1 276.8 491.8 274.4 492.7 271.9 493.5 270.2 493.9 270.1 492.4 269.1 490.9 268.7 489.4 267.3 488.1 267.3 486.6 267.9 485.2 268.1 483.7 269.6 482.4 271.6 481.3 273.0 479.9 275.2 478.9 276.8 479.3 279.2 480.2 281.9 480.9 284.2 481.9 286.7 482.7 289.7 482.7 292.6 482.5 295.6 482.5 298.3 483.3 301.2 483.1 304.2 483.0 306.7 482.2 308.7 481.0 309.9 481.0 312.1 482.0 314.8 482.6 316.7 483.8 319.1 484.7 321.8 485.4 324.4 486.1" fill="none" stroke="#86c46e" stroke-width="0.55" stroke-opacity="0.72" stroke-linejoin="round"/>
<path d="M317.7 487.2 314.7 487.3 311.7 487.5 309.1 488.2 306.1 488.4 303.2 488.1 300.9 487.1 299.4 485.8 297.3 484.8 294.6 484.1 291.8 483.5 289.6 482.5 287.2 481.6 285.3 481.0 284.4 482.4 283.6 483.8 283.4 485.3 282.2 486.7 281.6 488.2 279.8 489.4 279.0 490.8 278.2 492.3 275.9 493.2 274.5 494.0 272.7 492.8 270.6 491.7 268.4 490.7 267.2 489.4 266.4 487.9 266.1 486.4 265.3 485.0 263.4 483.8 261.3 482.7 260.0 481.4 258.8 480.0 258.0 479.5 258.6 481.0 258.1 482.5 256.3 483.7 255.1 485.1 255.6 486.5 257.4 487.8 260.0 488.5 263.0 488.6 265.6 489.3 267.0 490.6 268.9 491.8 269.4 493.3 268.9 493.8 267.9 492.4 266.7 491.0 264.3 490.1 262.5 488.9 260.1 488.0 257.6 487.2 254.6 487.0 252.0 486.3 249.2 485.7 246.9 484.8 244.0 484.3 241.4 483.6 238.4 483.4 235.4 483.4 232.5 483.8 232.8 483.3 235.5 482.6 238.0 482.9 240.9 483.4 243.2 484.3 246.1 484.7 248.3 485.7 249.1 487.2 250.8 488.4 252.1 489.8 254.5 490.7 256.6 491.8 259.3 492.4 261.1 493.6 263.8 494.3 266.3 493.5 268.3 492.4 268.8 490.9 267.6 489.5 267.5 488.0 268.4 486.6 267.9 485.1 267.2 483.7 265.2 482.5 262.5 481.9 260.8 480.7 260.7 479.2 260.5 479.2 261.1 480.7 262.6 482.0 263.2 483.4 263.8 484.9 265.3 486.2 266.7 487.5 268.2 488.8 268.8 490.3 268.4 491.8 266.6 493.0 264.5 494.0 261.5 494.3 258.6 494.1 255.6 494.1 252.6 494.2 249.6 494.2 246.7 494.1 243.7 494.1 240.7 494.3 238.1 493.5 236.0 492.5 236.4 491.6 237.6 490.3 237.6 488.8 237.8 487.3 239.5 486.0 239.8 484.5 239.4 483.1 239.5 483.4 240.7 484.8 240.5 486.3 239.3 487.7 238.8 489.2 238.7 490.7 240.1 492.0 242.4 492.9 244.2 494.2 246.4 493.4 248.0 492.2 250.0 491.0 251.2 489.7 250.8 488.2 251.3 486.7 250.1 485.3 248.7 484.0 246.9 482.8 244.3 482.5 242.7 483.7 242.5 485.2 242.6 486.7 243.3 488.2 242.7 489.7 241.9 491.1 241.7 492.6 242.1 494.1 243.3 493.1 244.2 491.7 246.3 490.6 249.1 490.1" fill="none" stroke="#86c46e" stroke-width="0.55" stroke-opacity="0.72" stroke-linejoin="round"/>
<path d="M247.9 455.0 251.6 454.1 255.3 453.2 258.4 451.9 260.3 449.9 262.5 448.1 264.9 446.3 266.9 444.4 267.8 442.3 267.2 440.1 266.0 440.0 263.6 441.8 262.4 443.9 262.5 446.1 264.0 448.1 266.8 449.7 269.4 451.3 272.0 453.1 273.6 455.1 274.1 457.3 275.4 459.3 276.8 461.4 277.4 463.6 278.1 465.7 278.6 467.9 280.6 469.8 283.8 471.1 287.2 472.3 291.1 472.8 295.0 473.3 299.0 473.3 303.0 473.4 306.9 473.0 310.5 472.0 314.4 471.6 318.4 472.0 322.3 472.3 326.3 472.5 330.3 472.6 334.1 473.3 337.9 473.9 341.9 474.2 345.3 475.4 349.0 476.2 347.0 476.3 343.4 477.3 339.9 478.3 336.1 478.9 332.5 480.0" fill="none" stroke="#5aae45" stroke-width="0.55" stroke-opacity="0.72" stroke-linejoin="round"/>
<path d="M249.1 488.7 246.3 489.1 243.7 489.9 241.0 490.5 238.0 490.9 235.2 491.4 237.0 491.0 239.8 490.5 242.2 489.6 245.2 489.4 247.8 488.6 250.1 487.6 252.4 486.7 255.3 486.2 257.4 485.2 259.0 483.9 260.5 482.6 261.4 481.1 262.3 479.7 264.6 478.7 265.7 477.9 267.0 479.3 267.8 480.7 268.6 482.2 270.5 483.3 273.4 483.8 276.4 483.5 278.8 482.6 281.7 482.4 284.3 481.6 287.1 481.3 290.0 482.0 293.0 482.5 295.6 483.3 297.1 484.6 299.2 485.7 300.8 486.9 302.4 488.2 302.5 489.7 301.5 491.1 299.2 492.1 297.4 493.3 296.8 493.9 297.3 492.4 299.5 491.3 301.2 490.1 303.5 489.2 304.6 487.8 304.8 486.3 306.5 485.0 308.6 483.9 311.5 483.6 313.9 482.7 315.5 481.4 316.3 480.0 315.9 478.9 317.2 480.3 316.9 481.8 318.1 483.2 317.5 484.6 316.5 486.1 314.3 487.0 312.2 488.1 309.7 488.9 307.0 489.6 304.0 489.8 301.0 489.8 298.1 490.0 295.4 490.7 293.3 491.8 292.4 493.2 292.3 493.9 293.2 492.4 293.0 490.9 291.7 489.6 290.5 488.2 288.5 487.1 285.6 486.7 283.0 486.0 280.1 485.5 277.2 485.1 274.3 485.3 271.3 485.1 268.6 484.4 265.7 484.2 262.7 483.9 259.8 484.2 256.8 484.2 253.8 484.1 250.8 483.9 247.8 484.1 244.9 484.4 242.0 484.8 239.7 485.8 237.3 486.7 234.6 487.4 234.7 487.8 236.7 488.9 239.4 489.5 241.2 490.7 243.2 491.9 243.9 493.3 246.0 494.2 248.4 493.3 250.3 492.2 251.6 490.8 253.5 489.7 255.3 488.5 256.9 487.2 257.4 485.7 257.8 484.2 256.9 482.8 257.3 481.3 256.7 479.8 256.1 480.7 254.4 482.0 252.2 483.0 249.6 483.7 247.7 484.8 244.9 485.4 242.1 485.9 240.3 487.1 237.5 487.7 234.8 488.3 235.4 488.8 238.3 489.1 240.6 490.0 242.3 491.3 242.7 492.8 242.9 494.3 243.1 492.8 244.4 491.5 244.3 490.0 245.0 488.5 246.8 487.3 249.3 486.5 251.5 485.5 252.7 484.1 255.0 483.1 257.5 482.3 260.4 482.0 263.4 481.6 266.3 482.0 269.1 481.5 272.0 481.1 275.0 481.2 277.8 480.6 280.7 480.3 282.9 480.8 284.4 482.2 285.3 483.6" fill="none" stroke="#86c46e" stroke-width="0.55" stroke-opacity="0.72" stroke-linejoin="round"/>
<path d="M326.2 468.1 330.2 467.8 334.2 467.6 338.1 468.1 342.0 468.2 346.0 468.2 350.0 467.9 346.3 467.1 342.3 466.7 338.4 466.5 334.5 467.1 330.5 467.1 326.7 467.7 322.7 467.5 318.8 468.0 315.7 469.4 312.9 471.0 310.5 472.7 307.1 473.9 303.2 474.4 299.7 475.4 296.3 476.6 293.5 478.1 290.4 479.5 288.0 481.3 286.3 483.3 284.7 485.3 282.1 485.0 280.9 482.9 280.0 480.8 279.9 478.6 279.0 476.4 277.7 474.4 276.5 472.3 274.4 470.4 271.4 468.9 267.6 468.2 263.9 467.3 260.4 466.4 256.7 465.5 253.2 464.4 250.2 462.9 246.8 461.8 243.6 460.5 241.2 458.7 238.0 457.4 235.7 455.6 232.5 454.3 228.9 453.3" fill="none" stroke="#3b7bd8" stroke-width="0.55" stroke-opacity="0.72" stroke-linejoin="round"/>
<path d="M254.0 476.0C254.7 474.3 256.0 469.5 258.0 466.0C260.0 462.5 262.7 458.7 266.0 455.0C269.3 451.3 274.0 447.2 278.0 444.0C282.0 440.8 286.8 437.8 290.0 436.0C293.2 434.2 295.2 433.0 297.0 433.0C298.8 433.0 300.5 434.3 301.0 436.0C301.5 437.7 301.3 440.7 300.0 443.0C298.7 445.3 296.0 447.8 293.0 450.0C290.0 452.2 285.8 454.0 282.0 456.0C278.2 458.0 273.7 459.8 270.0 462.0C266.3 464.2 262.7 466.7 260.0 469.0C257.3 471.3 255.0 474.8 254.0 476.0" fill="none" stroke="#e2707a" stroke-width="0.6" stroke-opacity="0.8"/>
<path d="M312.5 444.5 315.9 445.7 319.9 446.0 323.8 445.6 327.3 444.5 330.7 443.3 333.2 441.6 336.2 440.2 339.0 439.4 341.2 441.2 342.8 443.2 344.9 445.1 345.8 447.2 346.9 449.4 349.4 451.1 347.9 452.7 346.3 454.7 345.5 456.9 343.9 458.9 344.0 461.1 342.7 463.2 340.2 464.9 337.8 466.7 335.0 468.2 331.7 469.5 328.5 470.8 326.1 472.6 322.8 473.8 319.2 474.7 315.8 475.9 311.8 476.3 307.8 476.2 304.1 476.9 300.8 478.1 297.0 478.8 293.0 479.0 289.1 479.6 285.5 480.6 282.1 481.7 279.0 483.1 275.9 484.5 273.6 485.7 270.4 484.4 266.6 483.8 263.0 482.9 259.4 481.9 255.4 481.6 251.4 481.5 247.5 481.9" fill="none" stroke="#86c46e" stroke-width="0.55" stroke-opacity="0.72" stroke-linejoin="round"/>
<path d="M296.6 485.1 299.1 485.9 300.3 487.3 301.2 488.7 300.6 490.2 300.5 491.7 301.0 493.2 302.1 494.0 304.4 493.1 307.3 492.8 310.3 492.7 312.8 491.9 314.8 490.8 316.7 489.6 319.0 488.7 322.0 488.5 324.9 488.9 327.8 489.4 330.6 489.9 332.9 490.9 335.8 491.2 338.8 491.1 341.6 490.6 344.5 490.3 347.5 490.0 350.4 489.6 353.3 489.9 352.4 490.9 349.5 491.2 346.6 491.6 344.1 492.4 342.1 493.6 339.9 494.0 337.7 493.0 335.6 491.9 333.5 490.8 331.4 489.8 328.6 489.3 325.7 488.8 323.1 488.1 321.4 486.9 319.1 485.9 317.2 484.8 315.5 483.5 313.7 482.3 312.5 480.9 312.7 479.7 314.1 481.0 315.0 482.4 317.1 483.5 320.0 483.8 322.5 484.7 325.5 484.7 328.3 484.2 331.3 483.9 334.3 483.8 337.2 484.2 340.0 484.7 343.0 484.8 345.7 484.2 347.6 483.0 349.0 482.7 351.0 483.8 351.6 485.3 352.4 486.7 352.3 488.2 350.6 489.4 348.1 490.3 345.3 490.9 342.6 491.5 340.2 492.4 337.6 493.1 336.1 494.2 334.9 492.8 333.5 491.5 331.3 490.5 328.9 489.5 327.1 488.3 326.3 486.9 327.1 485.4 327.6 483.9 327.1 482.5 327.5 481.0 329.3 479.8 331.9 479.0 334.4 479.2 337.3 479.5 339.5 480.6 342.3 481.1 345.2 482.2 347.9 482.9 350.9 482.9 353.7 483.4 352.0 484.3 350.0 485.4 347.3 486.1 344.4 486.5 341.6 487.1 340.0 488.4 338.3 489.6 336.6 490.8 333.9 491.5 331.5 492.4 329.5 493.5 327.2 494.1 324.5 493.4 322.2 492.5 319.2 492.2 316.6 491.5 314.5 490.5 311.6 490.0 308.6 490.1 305.7 490.3 302.7 490.1 299.8 490.4 297.0 490.9 294.0 491.0 291.0 490.9 288.1 490.4 285.1 490.6 282.5 489.9 279.5 489.9 276.5 490.2 274.2 491.1 271.2 491.4 268.3 491.7 265.9 492.6 264.7 494.0 263.3 493.3 263.0 491.8 262.4 490.3 263.2 488.9 264.2 487.5 265.0 486.0 267.3 485.1 269.9 484.3 272.3 483.4 275.3 483.3 278.3 483.4 281.3 483.3 283.9 482.6 285.5 481.3 285.6 481.7 284.4 483.1 281.8 483.9 279.1 484.6 276.2 484.8 273.2 484.8 270.3 485.2 267.6 485.8 264.6 485.7" fill="none" stroke="#5aae45" stroke-width="0.55" stroke-opacity="0.72" stroke-linejoin="round"/>
<path d="M300.4 479.2 304.4 479.0 308.2 478.3 311.7 477.2 314.6 475.7 317.7 474.3 321.0 473.1 324.5 472.1 327.6 470.6 331.1 469.5 334.9 469.0 338.9 468.8 342.7 469.5 346.5 470.2 349.5 470.1 345.7 469.5 341.7 469.8 337.7 469.5 333.8 468.9 330.3 467.9 326.9 466.8 323.2 465.9 319.5 465.1 315.9 464.1 312.1 463.4 308.6 462.4 304.6 462.2 300.8 462.8 296.8 463.0 292.8 463.0 288.8 463.3 284.9 463.6 281.0 464.2 277.5 465.2 274.1 466.5 270.3 467.1 266.4 467.7 262.5 467.4 258.6 466.8 254.7 466.5 250.8 466.0 247.1 465.2 243.1 464.9 239.2 464.6 235.6 463.7 231.6 463.4 227.6 463.2 223.9 462.5 224.9 461.6" fill="none" stroke="#86c46e" stroke-width="0.55" stroke-opacity="0.72" stroke-linejoin="round"/>
<path d="M299.2 494.0 296.2 493.8 293.3 493.6 290.3 493.6 287.3 493.8 284.5 493.4 282.2 492.6 279.9 491.8 278.5 490.7 276.3 489.9 274.6 488.9 273.2 487.9 271.5 486.9 269.9 486.1 268.0 487.1 266.1 488.0 263.7 488.7 260.8 489.0 258.1 489.5 255.2 489.8 252.5 490.3 249.5 490.5 247.0 491.1 244.0 491.4 241.6 492.1 238.6 492.3 235.6 492.3 237.9 492.4 240.7 492.8 243.7 492.6 246.4 492.1 248.3 491.2 249.1 490.0 249.6 488.9 249.8 487.7 251.1 486.6 251.3 486.6 252.3 487.7 254.4 488.6 256.2 489.6 258.2 490.4 260.7 491.1 262.5 492.1 263.8 493.2 265.9 494.0 268.7 494.5 271.6 494.3 274.5 494.4 277.5 494.5 280.4 494.3 283.4 494.2 286.0 493.5 288.4 492.9 290.3 491.9 291.9 490.9 293.7 489.9 295.2 488.9 297.7 488.2 300.6 487.9 302.9 487.1 305.5 486.5 307.2 486.5 309.0 487.4 309.6 488.6 309.5 489.8 309.7 491.0 310.6 492.1 311.6 493.3 313.1 494.3 313.3 493.5 314.7 492.4" fill="none" stroke="#6aa0e0" stroke-width="0.55" stroke-opacity="0.72" stroke-linejoin="round"/>
<path d="M250.1 460.5 254.1 460.6 257.9 461.1 261.3 462.3 264.3 463.8 266.4 465.7 268.1 467.6 269.1 469.8 270.8 471.8 271.3 473.9 272.4 476.1 272.4 478.3 271.9 480.4 270.4 482.5 267.7 484.1 265.0 485.7 262.9 484.4 260.0 482.9 257.5 481.2 255.9 479.2 253.5 477.4 250.8 475.8 248.5 474.0 246.3 472.2 243.1 470.9 240.1 469.4 236.4 468.6 232.9 467.5 228.9 467.2 225.1 467.1 229.1 467.0 232.9 466.4 236.6 465.6 239.8 464.2 243.5 463.5 247.5 463.6 251.1 464.6 254.1 466.0 256.8 467.7 258.4 469.7 258.3 471.9 259.1 474.0 261.3 475.9 263.0 477.9 265.0 479.8 266.7 481.8 268.8 483.7 271.0 485.5 273.2 484.7" fill="none" stroke="#86c46e" stroke-width="0.55" stroke-opacity="0.72" stroke-linejoin="round"/>
<path d="M332.9 456.9 329.3 455.8 325.5 455.3 321.5 455.5 317.6 456.1 313.7 456.4 309.7 456.6 305.8 456.2 301.8 456.5 297.8 456.1 293.8 456.1 289.8 456.2 286.1 455.4 282.9 454.0 279.1 453.4 275.9 452.1 273.0 450.6 271.4 448.6 270.0 446.5 268.4 444.5 265.6 442.9 262.4 441.6 259.8 439.9 258.5 440.1 256.5 442.0 253.6 443.5 251.6 445.4 249.3 447.3 246.7 448.9 244.5 450.8 242.0 452.5 240.7 454.6 240.1 456.7 240.0 458.9 241.4 461.0 242.9 463.0 243.6 465.2 245.0 467.3 246.4 469.3 249.0 471.0 252.2 472.3 254.8 474.0 256.3 476.0 256.5 478.2 256.6 480.4 256.4 482.6 255.0 484.7 254.3 485.2 255.0 483.0" fill="none" stroke="#e2707a" stroke-width="0.55" stroke-opacity="0.72" stroke-linejoin="round"/>
<path d="M219.5 452.3C220.6 454.6 224.4 461.9 226.3 466.0C228.3 470.1 230.0 473.5 231.1 477.0C232.3 480.5 232.2 484.3 233.4 487.0C234.6 489.7 237.4 492.0 238.3 493.0" fill="none" stroke="#3b7bd8" stroke-width="0.6" stroke-opacity="0.8"/>
<path d="M255.9 470.2 259.3 471.4 261.6 473.2 263.6 475.1 264.4 477.2 263.6 479.4 263.5 481.6 262.9 483.8 260.7 485.6 257.9 484.8 254.5 483.6 251.1 482.5 247.3 481.8 243.3 481.5 239.4 481.0 235.5 480.7 231.8 479.8 232.2 478.8 236.1 478.4 240.1 478.0 243.7 477.1 246.9 475.7 248.9 473.9 249.6 471.7 249.9 469.5 249.0 467.4 248.7 465.2 249.5 463.0 250.0 460.8 251.2 458.7 253.7 457.0 257.2 455.9 260.9 455.1 264.3 453.9 268.2 453.4 272.2 453.2 276.1 453.6 280.1 453.5 283.9 452.9 287.5 451.9 290.5 450.4 294.2 449.6 297.4 448.3 300.6 446.9 304.3 446.1 308.0 445.4 311.1 443.9 314.2 442.5 316.1 440.6" fill="none" stroke="#3b7bd8" stroke-width="0.55" stroke-opacity="0.72" stroke-linejoin="round"/>
<path d="M293.1 470.1 297.1 469.9 301.1 470.2 305.0 470.7 308.9 470.4 312.9 470.7 316.3 471.9 319.7 473.0 323.2 474.1 326.6 475.3 329.4 476.9 333.0 477.7 336.2 479.1 338.6 480.8 340.3 482.8 341.2 485.0 342.4 484.9 341.9 482.7 340.0 480.8 339.5 478.6 340.5 476.5 342.6 474.6 344.6 472.7 345.4 470.6 347.3 468.7 348.9 466.6 349.0 464.7 348.0 462.6 347.3 460.5 345.6 458.5 344.9 456.3 344.3 454.1 342.7 452.1 341.8 450.0 342.0 447.8 341.0 445.6 341.1 443.4 340.1 441.3 340.6 439.1 342.4 440.8 342.7 443.0 342.3 445.2 340.8 447.2 338.0 448.8 335.4 450.5 332.2 451.8 328.4 452.6 324.8 453.4 321.0 454.2" fill="none" stroke="#5aae45" stroke-width="0.55" stroke-opacity="0.72" stroke-linejoin="round"/>
<path d="M272.1 460.4 275.6 461.4 278.6 462.9 282.3 463.8 286.1 464.5 289.5 465.6 292.0 467.3 294.8 468.9 297.0 470.7 299.9 472.2 301.6 474.2 303.7 476.1 304.5 478.2 305.1 480.4 304.4 482.6 304.8 484.8 303.6 485.1 302.2 483.1 299.7 481.4 296.9 479.8 293.9 478.3 291.9 476.4 290.9 474.3 289.3 472.3 288.1 470.2 285.6 468.5 282.6 467.0 280.1 465.3 277.3 463.7 274.3 462.3 270.5 461.6 266.5 461.2 262.9 460.4 259.3 459.3 255.4 458.9 251.5 458.5 247.5 458.5 243.7 457.9 239.7 458.0 235.8 458.6 232.3 459.6 228.3 459.8 224.3 459.7 222.3 459.0 226.3 459.0 230.2 458.4 233.9 457.6 237.0 456.2 240.6 455.2" fill="none" stroke="#e2707a" stroke-width="0.55" stroke-opacity="0.72" stroke-linejoin="round"/>
<path d="M284.5 492.1 287.4 492.4 290.3 492.1 292.7 491.2 295.4 490.6 297.7 489.6 300.3 488.9 303.3 488.6 306.2 489.0 309.1 488.7 312.0 488.3 314.7 487.7 316.5 486.5 316.8 485.0 317.3 483.5 316.7 482.0 316.7 480.5 316.4 479.0 316.1 479.8 314.4 481.0 313.9 482.5 314.8 483.9 315.9 485.3 315.2 486.8 313.3 488.0 311.0 488.9 308.4 489.6 306.2 490.6 304.6 491.9 302.0 492.7 300.3 493.9 297.7 494.0 294.7 494.0 291.7 494.0 289.0 493.3 287.0 492.2 286.1 490.8 284.6 489.5 282.2 488.6 280.1 487.6 278.5 486.3 277.2 484.9 276.3 483.5 276.1 482.0 275.1 480.6 275.4 479.1 274.3 478.2 272.0 479.2 269.9 480.3 267.8 481.4 264.9 481.7 262.8 482.7 261.7 484.1 260.5 485.5 261.1 487.0 260.4 488.5 260.3 490.0 259.7 491.4 259.5 492.9 258.2 494.3 256.2 493.2 255.3 491.8 254.1 490.4 253.3 489.0 253.6 487.5 255.1 486.2 255.6 484.7 255.2 483.2 253.3 482.0 250.8 481.3 247.9 482.5 244.9 482.6 242.0 482.5 239.2 483.0 236.2 482.7 233.2 483.0 232.0 484.0 234.4 484.9 237.2 485.4 240.2 485.6 242.6 486.5 244.1 487.8 245.1 489.2 246.7 490.5 249.0 491.5 251.2 492.5 253.5 493.4 255.0 493.9 256.9 492.7 259.7 492.2 262.7 491.9 264.9 490.9 266.9 489.8 268.2 488.5 270.7 487.6 273.3 486.9 276.2 486.4 278.6 485.5 280.7 484.4 283.0 483.5 285.9 483.3 288.9 483.5 291.8 483.8 294.8 483.5 297.2 482.6 299.9 482.8 302.9 482.7 305.6 482.1 308.2 481.3 311.1 481.0 314.0 481.4 316.9 481.8 319.9 481.8 322.4 482.6 324.8 483.5 327.8 483.7 330.1 484.6 332.0 485.8 333.6 487.1 335.6 488.2 337.7 489.3 339.8 490.3 342.4 491.1 344.2 492.3 344.5 493.8 344.9 493.3 344.2 491.9 345.0 490.4 345.1 488.9 345.0 487.4 343.9 486.0 344.0 484.5 344.9 483.1 344.2 481.6 344.5 482.6 345.8 484.0 348.2 484.9 351.0 485.4 353.9 485.7 351.2 486.2 349.2 487.3 347.8 488.6 347.7 490.1 348.5 491.6 348.1 493.0 347.5 494.1 347.7 492.6 347.6 491.1 348.3 489.6 350.2 488.5 351.8 487.2" fill="none" stroke="#3b7bd8" stroke-width="0.55" stroke-opacity="0.72" stroke-linejoin="round"/>
<path d="M312.9 489.0 310.3 488.2 307.3 488.1 304.4 488.3 301.4 488.4 298.5 488.7 295.8 489.4 293.0 489.9 290.6 490.9 287.8 491.4 285.0 491.9 282.2 492.4 279.7 493.2 276.8 493.6 273.8 493.9 271.5 493.7 268.8 493.0 265.8 493.1 262.9 492.8 260.2 492.1 258.1 491.1 255.2 490.6 253.3 489.5 251.8 488.1 251.1 486.7 250.5 485.2 250.7 483.7 251.1 482.2 250.0 481.6 247.7 482.5 245.7 483.7 244.3 485.0 242.3 486.1 240.6 487.3 239.0 488.6 237.8 490.0 236.5 491.4 236.3 492.2 239.3 492.3 242.0 491.7 244.2 490.6 246.9 490.0 249.4 489.1 252.4 489.0 255.4 488.8 258.2 489.3 261.2 489.7 263.2 490.8 264.8 492.0 264.9 493.5 264.4 493.6 265.3 492.2 267.3 491.1 269.7 490.1 272.5 489.6 275.5 489.4 278.3 490.0 281.2 490.2 283.7 491.0 285.4 492.3 285.8 493.8 285.1 493.4 285.6 491.9 286.7 490.5 287.4 489.0 288.5 487.6 289.1 486.2 288.1 484.7 287.4 483.3 285.5 482.1 283.2 481.2 282.0 479.8 280.8 481.2 279.9 482.6 278.2 483.8 276.2 484.9 274.2 486.0 271.7 486.9 268.8 487.2 265.9 486.7 263.1 486.2 260.2 486.6 257.2 486.8 254.4 487.3 251.4 487.1 248.5 487.4 245.5 487.1 242.6 487.2 239.9 487.9 238.1 489.1 235.6 489.9 236.0 490.5 238.3 491.5 241.3 491.7 244.3 491.8 247.0 492.4 249.9 492.9 251.8 494.1 252.4 493.1 254.0 491.8 254.8 490.4 255.7 488.9 255.2 487.5 255.0 486.0 254.1 484.5 252.6 483.2 250.2 482.4 247.4 481.8 244.4 482.8 241.5 483.2 239.2 484.2 237.2 485.3 234.4 485.8 233.5 486.3 236.4 486.7 238.7 487.7 240.2 489.0 241.3 490.4 243.1 491.6 243.4 493.1 242.0 494.2 241.8 492.7 241.6 491.2 242.8 489.8 243.4 488.3 244.6 487.0 246.2 485.7 247.7 484.4 250.0 483.5 252.6 482.7 255.3 482.1 258.3 482.1 261.3 481.8 263.8 481.0 266.4 480.3 269.4 480.3 272.4 480.2 275.4 480.4 277.7 481.4 278.8 482.8 278.8 484.3 278.0 485.7 278.3 487.2 277.0 488.6 275.2 489.8 273.6 491.0 272.7 492.5 271.3 493.8 269.2 493.7 267.1 492.7 265.1 491.5" fill="none" stroke="#5aae45" stroke-width="0.55" stroke-opacity="0.72" stroke-linejoin="round"/>
<path d="M281.2 491.3 283.8 492.1 286.3 492.9 289.1 493.4 291.1 494.1 292.5 492.8 293.1 491.3 294.3 489.9 294.4 488.4 295.7 487.1 296.6 485.7 298.3 484.4 300.4 483.3 302.1 482.1 304.6 482.0 307.6 482.2 310.6 482.0 312.9 481.1 315.5 480.3 318.4 480.0 321.4 480.1 324.3 480.4 327.3 480.4 330.0 479.7 332.6 478.9 335.6 479.1 338.2 479.8 341.0 480.7 344.0 482.1 346.6 482.8 348.8 483.8 350.2 485.2 352.6 486.0 352.4 486.2 349.7 485.5 346.8 485.2 344.1 484.5 341.1 484.5 338.4 485.1 335.4 484.9 332.7 484.2 331.0 483.0 328.4 482.2 325.5 482.1 322.7 482.6 320.1 483.4 318.6 484.7 316.8 485.9 314.0 486.4 311.0 486.1 308.2 485.6 305.7 484.8 302.8 484.5 299.8 484.6 296.8 484.6 293.8 484.3 291.3 483.5 288.5 483.0 286.7 481.8 284.3 480.9 283.0 480.6 280.8 481.6 278.6 482.6 275.9 483.4 273.8 484.4 270.9 484.8 268.6 485.8 266.6 486.9 264.2 487.8 261.4 488.3 258.4 488.5 255.5 488.2 253.1 487.3 250.2 487.0 247.3 487.3 244.3 487.5 241.3 487.6 238.6 487.0 235.7 486.5 232.7 486.7 235.6 486.6 238.3 487.3 241.1 487.8 244.1 487.7 246.9 488.3 249.9 488.5 252.5 487.8 254.9 486.8 256.2 485.5 256.8 484.0 258.4 482.8 259.5 481.4 258.9 479.9 257.9 479.7 257.3 481.1 258.2 482.6 260.4 483.6 263.2 484.1 265.9 484.8 268.7 485.3 271.4 485.9 273.8 486.9 275.1 488.2 277.2 489.3 279.0 490.5 281.5 491.3 282.6 492.7 284.6 493.8 285.6 493.4 287.5 492.2 288.5 490.8 289.6 489.4 289.6 487.9 288.1 486.6 288.2 485.1 288.4 483.6 288.7 482.1 288.1 482.2 286.8 483.5 284.3 484.4 282.5 485.6 281.5 487.0 279.6 488.2 278.7 489.6 276.4 490.6 275.6 492.0 274.6 493.5 274.3 493.6 275.5 492.3 278.0 491.4 280.7 490.8 283.7 491.1 286.7 491.2 289.3 491.9 292.2 492.4 294.8 493.1 296.8 494.2 297.8 493.0 299.3 491.7 301.5 490.7 302.5 489.2 305.0 488.4 307.5 487.6 310.4 487.1 313.2 486.5 316.1 486.7 319.0 487.1 321.6 487.9 324.5 488.3 327.5 488.2 330.4 488.5" fill="none" stroke="#86c46e" stroke-width="0.55" stroke-opacity="0.72" stroke-linejoin="round"/>
<path d="M261.2 455.3 264.7 456.4 268.6 456.8 272.4 457.6 276.1 458.4 279.3 459.8 281.6 461.5 283.9 463.4 285.9 465.2 287.6 467.2 289.3 469.2 291.9 470.9 295.4 471.9 298.2 473.5 299.9 475.5 302.8 477.0 305.5 478.6 307.8 480.4 309.5 482.4 310.3 484.6 311.0 485.3 311.1 483.1 311.4 480.9 313.1 478.9 313.8 476.7 313.8 474.5 312.4 472.5 310.4 470.6 309.7 468.4 307.7 466.5 304.9 464.9 301.7 463.6 298.9 462.0 295.5 460.8 292.5 459.4 288.9 458.4 285.0 458.0 281.4 457.0 278.6 455.4 277.1 453.4 274.5 451.7 271.5 450.2 267.8 449.3 263.9 448.9 260.3 448.0 256.6 447.2 252.6 446.8 249.2 445.7 245.5 444.7" fill="none" stroke="#86c46e" stroke-width="0.55" stroke-opacity="0.72" stroke-linejoin="round"/>
<path d="M260.7 492.6 263.7 492.2 265.9 491.2 267.8 490.1 269.2 488.7 271.7 487.9 274.0 486.9 276.1 485.9 278.0 484.7 280.6 484.0 283.0 483.1 286.0 483.0 288.9 483.5 291.9 483.3 294.3 482.4 296.3 483.7 299.0 484.4 300.9 485.5 303.5 486.3 305.5 487.4 306.2 488.8 307.1 490.3 308.4 491.6 309.5 493.0 308.8 494.1 307.5 492.8 306.0 491.5 305.1 490.0 305.5 488.6 307.0 487.2 307.4 485.8 306.6 484.3 307.1 482.8 306.3 481.4 306.2 482.7 307.1 484.1 306.6 485.6 307.3 487.0 306.4 488.5 305.6 489.9 305.5 491.4 307.0 492.7 309.0 493.8 310.6 493.5 310.9 492.0 309.8 490.6 309.5 489.2 308.2 487.8 307.3 486.4 305.0 485.4 302.5 484.5 299.7 484.1 297.1 483.3 294.1 483.3 291.2 483.6 288.2 483.3 285.3 483.0 282.3 482.9 279.4 483.3 276.4 483.6 274.0 484.4 272.0 485.6 271.5 487.0 270.2 488.4 268.3 489.6 268.2 491.1 269.0 492.5 269.0 494.0 269.6 493.1 269.8 491.6 270.9 490.2 270.8 488.7 271.1 487.2 269.8 485.9 267.3 485.1 264.4 484.7 262.3 483.6 261.8 482.1 261.7 480.6 263.2 479.3 265.0 478.1 265.2 478.8 266.8 480.0 269.1 481.0 271.6 481.8 274.4 482.4 277.3 482.2 280.3 482.4 282.9 483.2 285.5 483.9 287.9 484.9 290.8 485.1 293.8 485.3 296.5 486.0 299.3 486.5 302.3 486.5 305.2 486.9 307.6 487.8 310.2 488.5 312.8 489.3 315.8 489.4 318.6 490.0 321.6 490.2 324.5 489.8 327.0 489.0 329.3 488.0 332.1 487.6 334.8 486.9 336.8 485.8 338.6 484.6 339.4 483.1 340.4 481.7 342.7 481.1 345.6 481.6 348.5 482.4 351.5 482.7 353.7 482.8 351.7 484.0 349.5 485.0 347.3 486.0 345.7 487.2 345.3 488.7 344.7 490.2 342.7 491.3 340.5 492.3 338.7 493.5 337.3 493.7 335.0 492.8 332.1 492.4 329.1 492.1 326.5 491.4 323.5 491.5 320.7 491.0 317.7 490.9 314.8 491.2 311.9 490.9 308.9 490.8 305.9 490.9 303.4 491.7 301.4 492.8 299.8 494.1 299.4 493.0 300.6 491.6 302.8 490.6 304.4 489.3 304.3 487.8 302.6 486.6 302.3 485.1 301.1 483.7 298.7 482.8 296.3 483.1" fill="none" stroke="#5aae45" stroke-width="0.55" stroke-opacity="0.72" stroke-linejoin="round"/>
<path d="M321.6 493.0 318.6 492.9 315.7 492.6 313.4 491.6 312.4 490.2 312.1 488.7 310.4 487.5 310.1 486.0 311.3 484.6 311.0 483.1 311.5 481.7 311.6 480.2 312.8 480.3 312.6 481.7 312.6 483.2 313.0 484.7 313.1 486.2 314.5 487.5 314.5 489.0 312.9 490.3 311.1 491.5 309.8 492.9 309.6 494.2 310.2 492.8 311.2 491.3 311.5 489.9 313.5 488.7 315.0 487.4 315.1 485.9 316.5 484.6 317.9 483.3 320.5 482.5 323.1 481.8 324.7 480.5 324.9 479.0 324.3 477.5 322.8 478.9 320.5 479.9 317.7 480.4 315.6 481.5 314.0 482.8 311.9 483.8 309.1 484.3 306.1 484.1 303.3 484.6 301.4 485.8 298.6 486.3 296.1 487.2 293.2 487.6 290.4 488.1 288.6 489.3 287.6 490.7 286.8 492.2 286.1 493.6 285.0 493.6 284.7 492.1 285.5 490.6 286.3 489.2 287.6 487.8 288.0 486.3 288.9 484.9 289.3 483.4 291.1 482.2 293.2 483.4 296.0 483.9 298.7 484.6 301.7 484.5 304.3 485.3 306.9 486.1 309.2 487.0 311.9 487.7 314.8 488.1 317.8 487.9 320.5 488.5 323.5 488.3 326.2 488.9 328.4 489.9 331.1 490.6 334.0 490.8 337.0 490.7 340.0 490.4 342.9 490.8 345.6 491.5 348.4 492.0 351.2 492.6 353.3 493.6 353.0 493.8 351.5 492.4 350.4 491.1 348.4 490.0 347.4 488.5 348.1 487.1 348.0 485.6 347.3 484.1 346.1 482.7 346.5 482.3 346.9 483.8 348.3 485.2 349.4 486.5 351.3 487.7 353.7 488.6 352.9 489.9 352.7 491.4 353.2 492.9 353.8 494.3 352.2 493.0 350.7 491.7 350.1 490.2 349.1 488.8 349.3 487.3 350.9 486.0 351.8 484.6 351.5 483.1 350.5 483.1 349.2 484.4 349.5 485.9 350.7 487.3 352.7 488.4 353.7 489.6 353.0 491.1 352.5 492.6 351.4 494.0 352.0 493.2 352.7 491.7 353.9 490.4 352.4 489.1 350.6 487.9 349.0 486.6 346.5 485.8 343.6 485.5 341.1 484.6 338.9 483.6 336.8 482.5 334.0 482.0 331.1 482.4 328.1 482.3 325.1 482.5 322.4 483.1 320.4 484.2 317.8 485.0 315.4 485.9 314.1 487.2 314.1 488.7 312.7 490.0 311.8 491.5 309.6 492.5 307.8 493.7 305.1 494.2 302.1 494.2 299.2 494.1 296.3 494.0" fill="none" stroke="#86c46e" stroke-width="0.55" stroke-opacity="0.72" stroke-linejoin="round"/>
<path d="M248.8 440.9 244.8 441.2 240.8 441.3 237.1 442.1 233.5 443.1 229.7 443.7 226.2 444.8 222.2 445.0 218.2 445.2 216.0 444.8 220.0 444.7 224.0 444.7 227.8 445.4 231.0 446.7 234.8 447.4 238.6 448.1 242.4 448.7 245.6 450.0 247.9 451.8 249.9 453.7 250.9 455.8 251.1 458.0 250.6 460.2 250.5 462.4 250.1 464.6 251.0 466.7 251.8 468.9 254.2 470.7 257.6 471.8 260.9 473.1 264.4 474.1 268.0 475.0 271.9 475.6 275.5 476.6 278.5 478.1 282.2 478.8 285.4 480.1 289.3 480.6 293.3 480.9 297.3 481.0 301.2 481.5 305.2 481.5 309.1 482.0 313.0 481.6 316.9 481.0 320.3 479.8 323.8 478.8 327.7 478.3 331.2 477.3" fill="none" stroke="#86c46e" stroke-width="0.55" stroke-opacity="0.72" stroke-linejoin="round"/>
<path d="M335.5 489.9 332.6 490.3 330.3 491.3 327.3 491.5 324.3 491.6 321.4 491.3 318.4 491.4 315.6 490.9 313.2 490.0 310.3 489.6 307.6 488.9 304.6 489.0 301.6 488.7 298.6 488.9 295.6 488.9 293.1 489.7 290.1 489.8 287.2 490.2 284.4 490.7 281.5 490.7 278.9 489.9 276.5 489.0 274.0 488.1 271.1 488.0 268.5 488.8 265.7 489.3 262.9 489.9 260.2 490.5 258.4 491.7 256.6 492.9 254.8 494.1 254.0 493.1 252.9 491.6 251.0 490.5 250.5 489.0 250.8 487.5 252.7 486.4 254.0 485.0 253.5 483.5 252.7 482.1 250.7 481.1 248.8 482.2 246.7 483.3 243.9 483.8 240.9 483.5 238.3 482.8 236.1 482.7 235.2 484.1 233.0 485.1 234.0 486.3 234.7 487.7 236.7 488.8 237.6 490.3 239.6 491.4 241.0 492.7 243.5 493.6 245.9 494.2 248.7 493.6 250.5 492.4 251.7 491.0 252.0 489.5 251.5 488.1 249.5 486.9 248.9 485.5 248.9 484.0 247.2 482.7 245.2 482.7 243.0 483.7 241.4 485.0 240.6 486.4 238.4 487.4 236.0 488.3 234.0 488.5 237.0 488.2 239.8 488.7 242.8 488.9 245.6 488.4 247.5 487.2 248.9 485.9 249.8 484.4 251.9 483.4 254.8 483.0 257.6 482.5 259.8 481.5 261.9 480.4 264.0 479.3 266.6 478.6 268.1 477.7 270.3 478.7 271.3 480.1 272.9 481.4 273.4 482.9 275.3 484.0 276.3 485.4 276.2 486.9 276.0 488.4 276.6 489.9 277.6 491.3 278.9 492.7 279.2 494.2 279.1 493.0 277.6 491.7 277.1 490.2 277.1 488.7 276.4 487.2 275.3 485.8 273.7 484.5 273.2 483.1 272.3 481.6 272.3 480.1 272.9 478.7 273.9 478.6 274.2 480.1 275.1 481.5 275.9 482.9 277.0 484.3 277.8 485.8 277.7 487.3 278.3 488.8 279.6 490.1 281.7 491.2 283.9 492.2 286.6 492.9 289.6 492.7 292.2 493.4 295.2 493.6 298.2 493.9 301.1 493.4 304.0 493.1 306.8 492.6 309.7 492.3 312.6 492.6 315.6 492.9 318.2 493.6 321.2 493.9 324.1 494.2 327.1 494.3 330.0 493.9 332.4 493.0 333.6 491.7 335.9 490.7 337.4 489.4 337.3 487.9 335.7 486.6 334.5 485.3 334.1 483.8 335.3 482.4 337.2 481.2 339.9 480.6 342.8 481.6 345.1 482.6" fill="none" stroke="#5aae45" stroke-width="0.55" stroke-opacity="0.72" stroke-linejoin="round"/>
<path d="M313.6 484.4 311.0 483.6 308.0 483.6 305.3 482.9 302.3 482.7 299.3 482.8 296.9 483.6 293.9 483.8 291.0 484.2 289.0 485.3 286.3 486.0 283.8 486.8 282.2 488.0 281.6 489.5 279.8 490.7 277.1 491.3 274.2 491.8 271.2 491.7 268.8 490.8 265.8 490.6 262.8 490.8 259.9 491.2 256.9 491.2 254.0 491.5 251.4 492.2 248.4 492.2 245.5 491.7 243.4 490.6 242.0 489.3 240.0 488.2 237.1 487.8 234.1 487.5 234.8 487.3 237.5 486.7 240.5 486.8 243.1 487.5 244.5 488.9 246.8 489.8 249.7 490.3 252.6 490.7 254.7 491.7 255.4 493.2 255.6 493.9 255.1 492.5 254.5 491.0 254.9 489.5 256.3 488.2 256.3 486.7 255.9 485.2 255.8 483.7 255.3 482.2 255.3 480.7 255.6 480.2 255.1 481.6 253.5 482.9 251.6 484.1 249.2 485.0 246.2 485.0 243.6 484.3 240.7 483.8 237.7 483.8 234.7 483.7 231.9 484.2 234.4 485.3 236.9 486.1 239.7 486.5 242.7 486.6 245.7 486.8 248.4 486.1 250.7 485.1 253.3 484.4 255.9 483.6 258.8 483.3 261.7 483.6 264.6 484.1 266.6 485.2 268.4 486.4 270.1 487.7 272.0 488.8 274.7 489.5 276.4 490.7 278.1 492.0 280.4 492.9 283.1 493.6 285.9 494.1 288.9 494.2 291.4 493.5 293.5 492.5 295.9 491.6 298.0 490.5 300.8 490.0 303.8 489.9 306.7 489.5 309.7 489.4 312.1 488.5 315.1 488.2 318.1 488.0 320.9 488.5 323.4 489.4 326.3 489.6 329.3 489.8 332.2 490.2 335.0 490.7 336.9 491.8 337.8 493.3 338.5 493.9 337.8 492.4 337.3 490.9 336.4 489.5 334.5 488.4 333.5 486.9 331.7 485.8 330.1 484.5 329.1 483.1 328.4 481.6 327.7 480.2 328.0 478.7 326.7 477.8 325.0 479.0 324.1 480.4 323.8 481.9 322.0 483.1 320.1 484.3 317.3 484.8 314.3 484.6 311.7 483.9 309.0 483.2 307.0 482.1 304.3 481.9 301.3 482.6 298.3 482.8 295.5 483.4 292.6 483.1 289.6 483.3 286.6 483.4 284.1 484.2 281.5 484.9 279.2 485.9 276.5 486.5 273.5 486.4 270.7 486.9 268.7 488.0 266.3 488.9 265.0 490.3 263.5 491.6 262.3 492.9 261.1 494.3 259.7 493.0 257.9 491.8 256.2 490.5 253.5 489.9" fill="none" stroke="#5aae45" stroke-width="0.55" stroke-opacity="0.72" stroke-linejoin="round"/>
<path d="M343.4 492.9 346.3 493.1 349.1 493.5 351.8 494.0 353.3 494.4 350.3 494.5 347.3 494.5 344.5 494.1 341.9 493.5 339.1 493.0 336.4 492.6 334.0 491.8 331.8 491.0 330.0 490.1 328.6 489.0 326.2 488.3 323.3 487.9 321.3 487.1 318.8 486.4 316.6 486.5 313.8 486.9 311.1 487.4 308.9 488.2 307.6 489.3 307.4 490.5 308.2 491.7 309.5 492.7 310.8 493.8 311.5 494.0 312.2 492.8 312.7 491.6 312.6 490.4 312.9 489.3 311.9 488.1 311.9 486.9 313.2 486.1 314.2 487.3 315.9 488.3 318.2 489.0 319.5 490.1 321.8 490.9 324.2 491.6 326.4 492.4 329.1 493.0 331.8 493.5 334.8 493.5 337.8 493.6 340.7 493.3 343.3 492.7 345.3 491.8 346.9 490.8 348.6 489.8 349.0 488.6 348.2 487.5 346.1 486.6 343.4 486.1 340.5 486.3 338.4 487.1 337.4 488.2 335.4 489.1 333.0 489.8 331.4 490.8 330.0 491.9 330.1 493.1 329.1 494.3 327.3 493.8 324.6 493.3 322.2 492.6 319.4 492.1 317.2 491.3 315.2 490.4" fill="none" stroke="#3b7bd8" stroke-width="0.55" stroke-opacity="0.72" stroke-linejoin="round"/>
<path d="M321.2 481.0 317.9 482.3 315.8 484.2 312.7 485.6 309.5 485.1 306.4 483.7 302.8 482.8 299.9 481.3 298.0 479.3 296.9 477.2 296.4 475.0 296.0 472.8 294.3 470.8 291.5 469.3 288.2 468.0 284.9 466.8 281.4 465.7 277.8 464.8 274.6 463.5 270.7 462.9 267.2 461.8 264.2 460.4 261.1 459.0 257.8 457.8 253.9 457.3 250.4 456.2 246.5 455.8 242.7 455.1 238.7 455.3 234.8 454.7 230.8 454.8 227.0 454.1 223.0 454.2 219.6 454.2 223.4 453.5 226.4 452.1 229.2 450.5 230.8 448.5 233.8 447.0 235.9 445.2 237.3 443.1 237.9 440.9 239.9 439.0 241.3 441.0 242.9 443.0 245.6 444.7 249.0 445.8 253.0 446.0 256.9 446.6" fill="none" stroke="#86c46e" stroke-width="0.55" stroke-opacity="0.72" stroke-linejoin="round"/>
<path d="M270.7 448.9 267.2 447.9 264.7 446.2 261.4 444.9 258.6 443.3 256.3 441.5 252.9 440.4 250.0 439.1 247.3 440.8 244.5 442.3 241.3 443.7 237.7 444.6 234.9 446.1 232.1 447.7 228.5 448.7 224.8 449.5 221.1 450.3 218.5 451.4 222.2 452.1 226.2 452.1 229.9 451.3 233.9 451.4 237.8 450.9 241.8 450.9 245.7 450.3 249.6 449.9 253.4 449.2 257.3 448.8 261.2 449.4 264.7 450.5 267.6 452.0 270.5 453.5 273.1 455.2 275.4 457.0 278.2 458.6 280.0 460.5 282.7 462.2 285.4 463.8 288.9 464.9 292.0 466.3 295.8 466.9 299.3 468.0 302.8 469.1 305.8 470.5 308.2 472.3 309.3 474.4 310.1 476.6 312.3 478.4 313.7 480.5" fill="none" stroke="#86c46e" stroke-width="0.55" stroke-opacity="0.72" stroke-linejoin="round"/>
<path d="M312.6 447.0 316.4 446.4 320.4 446.4 324.4 446.2 328.3 445.6 332.3 445.5 336.3 445.4 340.2 445.9 344.2 446.0 348.0 445.3 348.6 444.2 345.2 443.0 342.1 441.6 339.8 439.8 336.8 439.7 333.0 440.4 329.3 441.1 325.7 442.1 321.7 442.1 317.9 441.4 313.9 441.5 310.2 442.4 306.3 442.9 302.4 443.3 298.5 442.8 294.6 442.3 290.7 441.8 286.7 441.6 282.7 441.7 279.2 442.7 275.4 443.4 271.5 443.9 268.0 445.0 265.2 446.5 263.0 448.4 261.8 450.5 259.9 452.4 257.2 454.0 254.7 455.8 251.4 456.9 248.9 458.7 245.7 460.0 243.3 461.7 240.8 463.5 237.7 464.9 234.6 466.3 231.9 467.9 228.8 469.2 227.6 470.3" fill="none" stroke="#5aae45" stroke-width="0.55" stroke-opacity="0.72" stroke-linejoin="round"/>
<path d="M326.6 482.4 323.6 482.5 321.0 481.9 318.2 481.3 316.3 480.1 313.6 479.5 310.6 480.9 307.7 481.2 305.2 482.0 303.2 483.1 302.2 484.5 302.8 486.0 304.5 487.2 305.0 488.7 304.8 490.2 303.1 491.5 302.5 492.9 302.6 494.2 301.4 492.8 298.9 492.0 295.9 491.8 293.1 492.3 290.7 493.3 289.2 494.1 286.9 493.1 285.3 491.8 285.2 490.3 286.3 488.9 286.3 487.4 287.8 486.2 290.2 485.2 292.5 484.3 295.3 483.8 297.8 482.9 300.7 482.6 303.7 482.5 306.6 482.2 309.5 482.6 312.0 483.5 313.6 484.8 313.9 486.3 314.6 487.7 314.1 489.2 315.3 490.6 317.1 491.8 318.9 493.0 320.6 494.2 322.0 493.1 324.4 492.2 326.5 491.1 328.4 489.9 329.5 488.5 331.3 487.3 332.3 485.9 333.3 484.5 335.3 483.4 336.2 482.0 335.7 480.5 335.2 479.0 333.1 478.9 331.4 480.1 330.6 481.6 329.3 482.9 327.7 484.2 325.3 485.1 323.2 486.1 322.1 487.5 321.5 489.0 319.6 490.2 317.2 491.1 315.0 492.1 312.5 492.9 310.8 494.1 310.3 493.0 310.7 491.5 311.7 490.1 311.2 488.6 310.3 487.2 311.2 485.7 312.9 484.5 315.5 483.8 318.1 483.0 321.0 482.7 323.3 481.7 324.6 480.3 326.1 479.0 328.0 477.9 330.8 478.7 333.4 479.4 336.4 479.4 339.0 480.2 341.9 480.9 344.3 482.7 346.3 483.8 348.5 484.8 350.8 485.8 352.5 487.0 352.6 488.5 353.8 489.9 352.5 491.1 352.0 492.6 352.3 494.1 351.0 493.1 350.4 491.7 348.4 490.6 345.6 490.1 342.8 489.5 340.2 488.8 337.2 488.5 334.3 488.9 331.3 488.9 328.4 488.6 325.5 488.3 322.7 487.7 320.4 486.7 317.5 486.4 315.1 485.5 312.8 484.5 310.1 483.9 307.6 483.1 304.6 483.0 301.6 483.2 298.7 482.8 295.8 483.0 292.8 483.1 289.8 483.3 287.5 484.3 286.4 485.7 286.4 487.2 284.8 488.4 284.0 489.9 283.8 491.4 284.6 492.8 286.8 493.9 289.5 494.1 291.9 493.2 294.7 492.7 297.7 492.5 300.7 492.7 303.6 493.0 306.5 493.4 308.6 494.1 310.2 492.8 311.1 491.4 310.3 490.0 310.8 488.5 310.0 487.0 308.0 485.9 307.2 484.5 305.4 483.3 303.6 482.1" fill="none" stroke="#3b7bd8" stroke-width="0.55" stroke-opacity="0.72" stroke-linejoin="round"/>
<path d="M330.5 446.9 334.5 447.4 338.3 447.9 342.3 448.1 346.2 447.8 349.8 447.7 345.8 447.9 341.8 448.0 337.8 447.8 333.8 447.5 329.9 447.3 326.0 447.9 322.0 447.6 318.2 448.2 314.8 449.4 311.6 450.7 307.8 451.3 303.9 451.9 300.2 452.7 297.2 454.2 295.0 456.0 292.3 457.7 288.7 458.6 284.7 458.7 280.9 458.1 277.8 456.7 274.2 455.7 270.3 455.4 266.4 454.8 262.5 455.1 258.5 455.4 254.5 455.1 250.5 455.3 246.7 455.9 243.2 457.0 239.7 458.0 235.9 458.8 232.6 459.9 228.8 460.6 224.9 461.3 224.4 462.1 228.3 462.0 232.3 461.8 236.2 461.3 239.8 460.3 243.7 459.8 247.7 460.1 251.6 459.8 255.4 459.0" fill="none" stroke="#86c46e" stroke-width="0.55" stroke-opacity="0.72" stroke-linejoin="round"/>
<path d="M221.4 451.7C222.0 454.1 223.7 461.8 224.9 466.0C226.1 470.2 226.9 473.5 228.8 477.0C230.7 480.5 234.9 484.3 236.2 487.0C237.4 489.7 236.2 492.0 236.3 493.0" fill="none" stroke="#3b7bd8" stroke-width="0.6" stroke-opacity="0.8"/>
<path d="M287.5 491.2 290.0 492.1 291.6 493.3 293.0 494.0 293.2 492.5 293.3 491.0 292.0 489.6 291.0 488.2 291.5 486.7 292.6 485.3 293.7 483.9 295.4 482.7 295.9 483.8 295.6 485.3 295.1 486.7 294.0 488.1 292.7 489.5 290.1 490.2 287.1 490.4 284.1 490.5 281.1 490.4 278.3 490.0 276.2 488.9 275.7 487.4 273.9 486.2 271.8 485.1 269.6 484.1 267.5 483.0 265.6 481.8 262.9 481.2 259.9 481.3 257.2 481.8 254.2 481.9 251.5 481.2 248.8 482.4 245.8 482.2 242.9 482.6 240.4 483.4 237.4 483.5 234.5 483.0 231.6 483.2 234.0 483.5 236.9 483.3 239.9 483.1 242.8 483.5 244.8 484.6 247.4 485.4 249.4 486.5 250.1 488.0 250.2 489.4 250.0 490.9 249.1 492.4 248.4 493.8 247.3 493.4 246.5 491.9 246.7 490.4 245.9 489.0 246.5 487.5 247.9 486.2 250.1 485.2 251.5 483.9 251.6 482.4 252.2 480.9 252.0 482.0 250.8 483.4 250.5 484.8 249.0 486.2 246.8 487.2 243.8 487.4 240.9 486.9 238.0 486.6 235.1 486.9 233.8 487.3 236.3 488.1 237.7 489.4 240.1 490.3 242.5 491.2 245.4 491.4 248.1 492.1 251.0 492.4 253.3 493.4 254.0 493.7 254.4 492.2 253.8 490.8 252.7 489.4 252.8 487.9 251.9 486.5 250.8 485.1 248.6 484.1 246.4 483.0 244.0 482.5 242.6 483.8 240.0 484.6 237.2 485.1 234.4 485.6 233.2 486.6 235.8 487.4 237.9 488.4 239.0 489.8 241.4 490.8 243.0 492.0 245.0 493.1 246.2 494.1 247.8 492.8 248.3 491.4 248.3 489.9 248.2 488.4 248.3 486.9 249.2 485.4 251.0 484.2 253.7 483.6 256.7 483.7 259.6 483.9 262.1 484.7 264.0 485.9 265.4 487.2 267.8 488.1 270.0 489.2 272.0 490.3 274.6 491.0 276.1 492.3 278.8 493.0 281.5 493.7 284.5 493.6 287.2 494.2 290.0 493.9 292.8 493.3 295.0 492.3 296.4 491.0 297.6 489.6 300.1 488.8 303.1 488.6 305.9 488.2 308.9 488.5 311.7 489.0 314.7 489.1 317.6 488.9 320.3 489.6 322.7 490.5 324.4 491.7 325.1 493.2 326.2 494.0 327.5 492.6 327.0 491.2 327.7 489.7 327.2 488.2 327.1 486.7 327.4 485.2 328.7 483.9 330.0 482.5 330.0 481.0" fill="none" stroke="#3b7bd8" stroke-width="0.55" stroke-opacity="0.72" stroke-linejoin="round"/>
<path d="M305.6 493.9 308.6 493.7 311.5 493.6 314.5 493.7 317.2 494.2 319.2 493.9 320.3 492.7 322.4 491.9 323.9 490.8 326.3 490.1 328.4 489.2 330.8 488.5 333.7 488.2 335.9 487.4 338.1 486.6 339.1 486.6 341.1 487.5 343.9 487.9 346.1 488.7 348.2 489.6 349.8 490.6 351.6 491.6 353.1 492.6 352.8 493.4 351.7 494.5 351.0 493.3 351.2 492.1 352.6 491.0 353.0 490.3 350.1 490.0 347.3 489.5 344.8 488.9 342.9 488.0 340.1 487.5 337.1 487.6 334.2 487.4 331.2 487.6 328.4 488.1 325.5 488.2 322.6 487.9 319.9 487.3 317.5 486.7 315.7 486.3 313.6 487.2 311.0 487.8 308.0 487.9 305.1 488.3 302.7 489.0 301.1 490.0 298.7 490.7 296.1 491.2 293.1 491.5 290.2 491.8 287.7 492.5 285.2 493.1 283.2 494.0 282.2 493.8 280.6 492.8 278.3 492.0 275.6 491.6 273.7 490.6 272.2 489.6 270.2 488.7 269.2 487.6 268.6 486.4 267.9 486.8 268.8 487.9 269.6 489.1 271.2 490.1 272.8 491.1 274.0 492.2" fill="none" stroke="#6aa0e0" stroke-width="0.55" stroke-opacity="0.72" stroke-linejoin="round"/>
<path d="M284.4 484.4 287.0 483.6 289.9 483.2 292.8 482.9 295.8 482.8 298.6 483.3 301.6 483.2 304.4 483.7 307.3 483.4 309.6 482.4 312.1 481.6 313.7 480.3 315.1 479.0 317.3 478.8 320.0 479.5 323.0 479.7 325.7 480.3 327.5 481.5 330.0 482.3 331.8 483.5 334.5 484.1 337.4 484.7 340.0 485.4 342.9 485.3 345.9 485.5 348.9 485.7 351.9 485.6 353.3 486.1 350.3 486.3 347.3 486.5 344.5 486.9 342.4 488.0 339.5 488.4 336.6 488.2 334.2 487.3 332.4 486.1 330.8 484.8 330.8 483.3 329.5 481.9 327.6 480.8 326.0 479.5 324.8 478.1 322.7 478.1 320.3 479.0 317.8 479.9 315.3 480.7 312.3 480.7 309.6 480.6 307.9 481.9 306.6 483.2 305.3 484.6 305.0 486.1 304.3 487.5 303.2 488.9 301.1 490.0 298.1 490.3 295.3 490.7 292.5 491.3 289.5 491.3 286.6 490.9 284.0 490.1 281.2 489.7 279.1 488.6 278.4 487.1 277.6 485.7 275.7 484.6 272.9 484.0 270.5 483.1 268.3 482.1 265.4 481.8 262.5 482.3 259.5 482.1 256.8 482.7 254.1 483.4 252.4 484.6 251.6 486.1 251.6 487.6 252.6 489.0 253.8 490.4 256.0 491.4 258.9 491.8 261.8 492.2 264.7 491.8 267.1 490.9 269.9 490.4 272.4 489.5 275.3 489.1 277.5 488.1 279.6 487.0 282.5 486.6 285.4 487.0 287.4 488.0 289.4 489.2 291.9 490.0 293.2 491.3 295.0 492.5 296.0 493.9 295.7 493.2 295.9 491.7 295.2 490.2 293.5 489.0 291.6 487.8 289.3 486.8 287.6 485.6 285.7 484.5 283.7 483.3 281.5 482.3 278.8 481.6 275.9 481.3 272.9 481.5 270.6 482.5 267.6 482.8 264.7 482.4 261.8 482.1 258.8 482.0 255.9 482.5 253.0 482.9 250.6 483.8 247.8 484.2 245.9 485.4 243.9 486.5 241.4 487.4 238.9 488.2 236.6 489.2 235.3 490.5 236.1 491.8 235.9 493.3 237.6 493.8 238.4 492.4 240.6 491.4 243.5 491.0 246.5 491.2 249.4 490.8 251.7 489.9 254.2 489.0 255.8 487.7 255.8 486.2 257.0 484.9 258.8 483.7 259.4 482.2 260.3 480.8 260.8 479.3 261.4 478.7 262.5 480.1 264.9 481.0 266.7 482.2 268.5 483.4 270.7 484.4 271.8 485.8 272.4 487.3 274.1 488.5" fill="none" stroke="#86c46e" stroke-width="0.55" stroke-opacity="0.72" stroke-linejoin="round"/>
<path d="M313.4 490.0 310.6 489.6 308.2 488.9 305.4 488.5 302.5 488.3 299.5 488.5 297.1 489.2 294.1 489.4 291.6 490.1 289.2 490.8 286.3 491.1 283.3 491.3 280.9 492.0 278.3 492.6 275.4 492.9 272.4 492.9 269.4 492.8 266.5 492.9 263.5 492.8 260.9 492.1 258.7 491.3 256.0 490.8 253.1 490.5 250.1 490.6 247.3 490.2 244.7 489.6 241.8 489.4 238.8 489.6 235.8 489.8 235.4 489.8 238.1 489.3 240.9 488.9 243.9 488.8 246.8 489.1 249.1 489.8 251.6 490.5 254.5 490.8 257.5 490.7 260.5 490.8 263.4 491.0 266.4 491.0 269.0 490.4 271.6 489.7 274.0 489.0 276.0 488.1 278.7 487.6 281.7 487.6 284.6 487.7 287.5 487.4 290.5 487.4 293.5 487.6 296.0 488.2 298.6 488.8 301.6 488.9 304.6 488.7 307.4 489.1 310.3 489.5 313.1 489.9 315.5 490.6 318.4 490.9 321.4 490.8 324.3 490.5 326.7 489.8 328.0 488.7 330.3 488.0 333.1 487.5 335.9 487.1 338.6 486.6 340.6 486.3 342.6 487.2 343.4 488.4" fill="none" stroke="#3b7bd8" stroke-width="0.55" stroke-opacity="0.72" stroke-linejoin="round"/>
<path d="M244.6 490.1 241.7 490.4 239.4 491.2 238.1 492.3 237.5 493.4 238.3 494.4 239.6 493.3 240.4 492.2 242.2 491.2 244.4 490.4 246.3 489.5 248.6 488.7 250.1 487.6 251.6 486.6 252.1 486.6 251.6 487.8 250.3 488.8 248.0 489.6 245.6 490.3 243.4 491.1 242.1 492.2 240.2 493.1 238.3 494.1 237.6 493.7 236.5 492.6 236.0 491.4 236.3 490.3 235.7 489.1 234.7 487.9 233.6 486.8 232.6 486.2 234.4 487.2 236.4 488.1 238.4 488.9 239.7 490.0 240.3 491.2 240.5 492.4 239.3 493.5 239.4 494.3 241.0 493.3 241.2 492.1 242.7 491.0 242.9 489.8 244.1 488.7 245.6 487.7 246.0 486.5 247.2 486.6 249.4 487.4 251.8 488.1 254.5 488.7 257.2 489.1 260.2 489.3 262.9 489.8 265.5 490.4 268.4 490.7 271.1 491.2 273.1 492.1 275.9 492.5 278.8 492.9 281.1 493.7 283.7 494.2 286.7 494.4 289.5 494.3 292.5 494.5 295.4 494.2 298.1 493.7 300.8 493.2 303.7 492.9 306.6 492.7 309.5 492.3 312.5 492.1" fill="none" stroke="#3b7bd8" stroke-width="0.55" stroke-opacity="0.72" stroke-linejoin="round"/>
<path d="M306.3 482.6 303.4 482.7 300.5 482.4 298.8 483.6 297.3 484.9 295.3 486.1 294.9 487.5 295.3 489.0 295.4 490.5 295.0 492.0 293.8 493.4 291.6 494.2 290.5 492.8 288.3 491.8 286.2 490.7 283.4 490.1 281.1 489.2 278.1 489.1 275.5 489.8 272.6 490.2 269.9 490.9 267.9 492.0 267.1 493.4 267.5 493.7 268.6 492.3 271.0 491.4 273.9 490.9 275.9 489.8 278.3 488.9 281.2 488.5 284.0 488.0 286.8 487.5 288.7 486.3 291.4 485.7 294.3 485.3 297.0 484.7 299.9 484.3 302.9 484.1 305.6 483.4 307.8 482.4 308.9 481.0 308.8 481.7 309.2 483.2 310.1 484.6 309.8 486.1 308.1 487.4 307.1 488.8 306.8 490.3 308.2 491.6 308.3 493.1 306.7 494.2 305.4 492.8 304.9 491.4 304.4 489.9 303.5 488.5 302.9 487.0 303.1 485.5 302.1 484.1 300.8 482.7 299.6 483.4 298.2 484.8 297.0 486.1 296.0 487.5 295.3 489.0 294.2 490.4 292.1 491.5 290.5 492.8 289.8 494.2 289.3 492.9 289.0 491.4 288.4 490.0 288.1 488.5 288.5 487.0 287.3 485.6 286.7 484.1 286.0 482.7 286.6 481.2 286.7 482.4 285.4 483.8 285.6 485.3 285.4 486.8 286.5 488.2 288.9 489.1 290.5 490.4 293.1 491.1 295.4 492.1 298.3 492.5 301.3 492.6 304.3 492.4 307.2 492.1 310.2 491.8 313.1 492.2 316.1 492.0 318.8 491.4 320.6 490.2 320.9 488.7 321.5 487.3 322.6 485.9 322.7 484.4 322.0 482.9 320.5 481.6 320.6 480.1 320.6 478.6 321.8 478.1 321.6 479.6 321.9 481.1 323.3 482.4 325.6 483.4 326.9 484.7 326.7 486.2 326.1 487.7 325.5 489.2 324.7 490.6 325.3 492.1 326.0 493.5 326.0 493.6 326.8 492.1 327.7 490.7 328.0 489.2 328.2 487.7 327.3 486.3 325.4 485.1 322.6 484.5 319.7 484.2 316.8 483.9 313.8 483.6 311.1 484.1 308.8 485.1 306.7 486.2 306.1 487.7 304.6 489.0 303.1 490.3 301.3 491.5 298.8 492.3 296.2 493.0 293.2 493.1 290.3 493.5 288.1 494.1 287.1 492.7 286.3 491.2 286.0 489.7 284.1 488.6 281.6 487.7 279.1 486.9 276.7 486.0 275.5 484.6 274.6 483.2 274.7 481.7 276.2 480.4 276.9 478.9 278.0 480.0" fill="none" stroke="#5aae45" stroke-width="0.55" stroke-opacity="0.72" stroke-linejoin="round"/>
<line x1="227.4" y1="459" x2="360.5" y2="459" stroke="#b4c4d0" stroke-width="0.6"/>
<path d="M191.5,400.7 H360.5 V495.6 H233.7" fill="none" stroke="#8c9296" stroke-width="1.3"/>
<line x1="202.9" y1="426.3" x2="360.5" y2="426.3" stroke="#8c9296" stroke-width="1"/>
<line x1="191.5" y1="400.7" x2="233.7" y2="495.6" stroke="#3a3a3a" stroke-width="1.1"/>
<polygon points="380.2,426.3 537.8,426.3 537.8,495.6 411.0,495.6" fill="#e2f3fb"/>
<path d="M512.1 472.5C511.4 472.9 509.1 474.8 507.4 474.7C505.8 474.7 504.2 472.5 502.2 472.2C500.3 471.9 497.7 472.4 495.8 472.9C493.9 473.4 492.5 474.8 491.0 475.2C489.4 475.6 487.8 475.4 486.6 475.4C485.5 475.3 484.9 475.7 483.8 475.1C482.6 474.6 481.2 472.4 479.7 472.0C478.3 471.5 474.7 471.9 475.1 472.4C475.6 472.9 480.0 474.5 482.4 474.9C484.9 475.3 487.8 474.6 489.7 474.9C491.6 475.2 492.1 476.1 494.0 476.6C495.8 477.2 499.1 478.3 500.8 478.4C502.4 478.5 502.5 477.3 503.8 477.5C505.0 477.7 506.3 479.1 508.2 479.5C510.2 479.9 513.8 480.2 515.5 480.1C517.1 480.1 518.4 479.9 518.2 479.1C517.9 478.3 515.4 477.1 514.0 475.3C512.5 473.5 511.7 470.3 509.7 468.5C507.7 466.7 503.8 465.5 502.0 464.3C500.2 463.1 499.9 462.4 499.0 461.4C498.0 460.4 497.3 459.0 496.2 458.4C495.1 457.8 493.3 458.0 492.4 457.9C491.5 457.8 491.7 458.4 490.9 457.9C490.2 457.4 487.7 455.6 488.0 454.9C488.2 454.3 491.4 454.1 492.4 453.9C493.4 453.7 493.0 453.8 493.9 453.5C494.9 453.2 496.7 452.9 498.1 452.3C499.6 451.7 501.8 449.6 502.6 450.1C503.4 450.6 502.5 453.6 502.9 455.4C503.3 457.3 504.1 459.4 505.0 461.2C505.9 463.0 507.7 464.5 508.3 466.4C508.9 468.4 510.1 471.9 508.5 472.6C507.0 473.4 503.0 471.6 499.2 471.1C495.4 470.7 489.1 470.2 485.6 470.0C482.2 469.8 481.7 470.0 478.4 470.1C475.2 470.2 469.5 470.0 466.3 470.6C463.0 471.2 461.4 473.3 458.9 473.7C456.4 474.1 454.5 473.0 451.3 473.1C448.2 473.1 443.1 473.3 440.0 473.9C436.9 474.5 431.9 476.7 432.9 476.7C434.0 476.7 442.1 475.7 446.5 474.2C450.9 472.6 454.9 469.0 459.3 467.4C463.7 465.8 468.6 465.9 472.9 464.7C477.3 463.4 481.2 460.2 485.3 459.8C489.4 459.4 494.1 461.5 497.6 462.3C501.1 463.1 502.7 463.4 506.3 464.6C509.9 465.8 515.5 468.6 519.2 469.7C522.9 470.7 529.1 471.2 528.4 471.0C527.8 470.8 519.5 468.5 515.1 468.4C510.7 468.3 506.4 470.5 501.8 470.4C497.3 470.4 492.6 468.7 488.1 468.1C483.5 467.4 479.1 465.8 474.4 466.4C469.8 467.0 464.3 469.8 460.3 471.6C456.3 473.5 454.0 475.9 450.4 477.5C446.7 479.2 442.8 480.1 438.6 481.8C434.3 483.5 425.5 487.4 424.7 487.8C423.9 488.3 430.3 485.2 433.8 484.4C437.3 483.6 442.0 484.0 445.5 483.0C449.0 481.9 451.5 479.2 454.8 478.3C458.1 477.4 462.2 477.9 465.2 477.3C468.3 476.7 470.0 475.2 473.3 474.8C476.6 474.3 481.6 474.4 485.0 474.6C488.4 474.9 490.7 476.4 493.7 476.3C496.7 476.3 501.2 474.7 502.7 474.3" fill="none" stroke="#3b7bd8" stroke-width="0.55" stroke-opacity="0.78"/>
<path d="M433.5 436.3 430.0 436.2 426.5 436.3 423.0 436.6 419.6 436.8 422.9 436.7 426.4 436.6 429.9 436.6 433.4 436.5 436.9 436.6 440.3 436.5 443.8 436.7 447.0 437.4 449.6 438.6 451.3 440.1 452.7 441.7 453.5 443.4 453.7 445.2 454.7 445.1 456.2 443.6 458.5 442.2 460.8 440.9 463.7 439.9 467.0 439.3 469.9 438.4 472.7 437.3 475.6 436.4 477.8 435.0 480.4 433.8 483.6 433.1 486.8 432.4 490.2 432.2 493.6 432.7 496.8 433.4 499.9 434.2 497.5 435.4 494.4 436.2 491.2 436.8 487.7 436.9 484.2 437.1 480.7 437.2 477.4 437.8 474.1 438.3 471.3 439.4 468.1 440.1 465.3 441.1" fill="none" stroke="#e2707a" stroke-width="0.55" stroke-opacity="0.78" stroke-linejoin="round"/>
<path d="M438.8 492.5 442.3 492.6 445.8 492.6 449.2 492.9 452.7 493.1 455.9 493.6 458.8 494.4 461.8 493.9 464.6 493.0 467.5 492.2 470.6 491.6 473.6 490.9 476.0 489.9 479.1 489.2 481.9 488.4 484.9 487.6 487.9 486.9 491.2 486.5 494.7 486.4 498.2 486.2 501.7 486.2 505.1 486.6 508.2 487.2 511.4 487.8 514.1 488.7 516.7 489.6 519.7 490.3 523.1 490.7 526.1 491.4 528.8 492.2 531.3 493.2 534.0 494.1 535.8 493.8 533.3 492.8 530.4 492.0 528.1 490.9 526.5 489.7 525.7 488.3 525.0 487.0 524.8 485.6 523.9 484.2 523.4 482.8 523.3 482.6 523.9 484.0 524.6 485.3 525.0 486.7 525.4 488.1 524.8 489.5 525.2 490.9 525.2 492.3 524.8 493.7 523.6 494.0 522.1 492.8 520.8 491.5 519.1 490.2 516.8 489.2 513.8 488.5 511.2 487.5 509.0 486.4 506.8 485.3 504.0 484.5" fill="none" stroke="#3b7bd8" stroke-width="0.55" stroke-opacity="0.78" stroke-linejoin="round"/>
<path d="M509.1 488.4C507.7 487.7 503.2 485.0 500.8 483.8C498.5 482.7 497.1 482.8 495.2 481.6C493.2 480.4 491.7 477.6 489.3 476.4C486.9 475.2 483.5 474.7 480.6 474.5C477.8 474.4 475.3 475.3 472.4 475.6C469.4 475.9 465.3 476.2 462.8 476.4C460.3 476.6 459.8 476.8 457.2 476.8C454.7 476.9 447.4 476.6 447.5 476.9C447.6 477.2 454.5 477.5 458.0 478.4C461.4 479.3 464.5 481.1 468.2 482.1C472.0 483.1 476.5 483.6 480.4 484.4C484.2 485.1 488.0 486.2 491.3 486.6C494.7 487.1 497.4 486.7 500.5 487.0C503.7 487.4 507.2 488.3 510.2 488.8C513.3 489.3 516.2 489.4 518.8 490.0C521.4 490.7 526.1 493.6 525.8 492.6C525.5 491.6 519.9 486.8 517.0 484.1C514.0 481.4 511.7 479.7 508.1 476.5C504.5 473.3 498.7 468.2 495.3 465.0C491.8 461.7 490.6 458.9 487.4 457.2C484.2 455.6 479.2 455.6 476.1 454.9C473.0 454.1 471.6 453.4 468.7 452.8C465.7 452.2 461.9 451.8 458.4 451.1C454.9 450.3 448.2 448.4 447.9 448.1C447.6 447.8 453.5 449.0 456.7 449.4C459.8 449.7 463.7 449.6 466.9 450.2C470.2 450.8 473.1 452.4 476.1 453.1C479.1 453.7 482.2 452.1 485.0 453.9C487.7 455.7 490.3 461.1 492.8 463.8C495.2 466.6 497.8 467.7 499.7 470.4C501.7 473.0 502.4 477.0 504.4 479.8C506.5 482.7 512.3 487.3 511.9 487.4C511.4 487.6 505.2 483.5 501.8 480.6C498.3 477.7 494.6 472.7 491.1 469.9C487.7 467.1 484.1 466.4 481.0 463.8C478.0 461.3 475.0 456.6 472.9 454.6C470.8 452.6 470.3 453.1 468.4 451.9C466.6 450.7 464.3 448.6 461.9 447.4C459.4 446.3 456.1 445.7 453.9 445.0C451.8 444.4 448.3 442.8 449.0 443.6C449.7 444.5 454.9 448.1 458.0 450.1C461.2 452.1 464.6 453.4 467.8 455.6C471.1 457.7 474.5 460.5 477.7 462.7C480.9 464.9 483.9 467.0 487.0 468.9C490.0 470.7 493.5 472.0 496.1 473.8C498.7 475.6 500.2 477.3 502.8 479.6C505.3 482.0 508.7 485.6 511.6 487.9C514.5 490.2 520.3 493.2 520.1 493.3C519.8 493.3 513.1 489.8 510.3 488.3C507.4 486.9 505.8 486.2 502.9 484.5C500.1 482.8 496.4 479.7 493.2 478.1C489.9 476.6 487.3 475.7 483.7 475.1C480.1 474.5 475.6 474.9 471.8 474.7C467.9 474.4 464.3 474.8 460.6 473.8C456.8 472.9 453.4 469.7 449.5 468.9C445.7 468.1 438.0 469.6 437.4 469.0C436.7 468.5 442.6 466.5 445.8 465.5C449.0 464.6 452.5 464.7 456.4 463.3C460.3 462.0 465.5 458.9 469.0 457.6C472.5 456.3 475.2 455.1 477.3 455.6C479.4 456.2 479.9 459.6 481.7 460.8C483.5 462.0 485.9 461.9 488.1 462.7C490.3 463.5 492.8 464.5 495.1 465.6C497.4 466.7 500.8 468.8 502.0 469.4" fill="none" stroke="#86c46e" stroke-width="0.55" stroke-opacity="0.78"/>
<path d="M532.0 485.1C530.2 484.8 524.3 484.2 521.3 483.1C518.3 482.0 516.7 479.4 513.8 478.5C510.9 477.6 507.0 478.5 503.8 477.6C500.7 476.7 498.3 474.2 495.1 473.0C491.9 471.7 488.2 471.0 484.5 470.0C480.8 469.0 476.2 467.9 472.9 467.2C469.6 466.4 467.7 465.9 464.5 465.4C461.3 464.9 454.2 464.9 453.7 464.2C453.2 463.6 459.4 462.6 461.4 461.6C463.4 460.6 463.5 459.1 465.7 458.2C467.8 457.3 472.0 457.6 474.4 456.5C476.8 455.4 477.5 452.8 480.2 451.7C483.0 450.5 487.3 450.4 490.9 449.6C494.5 448.9 498.7 448.3 501.6 447.3C504.6 446.2 505.4 444.1 508.5 443.1C511.6 442.2 519.6 441.8 520.2 441.5C520.9 441.3 515.0 441.3 512.4 441.5C509.8 441.7 507.3 442.4 504.5 442.8C501.7 443.3 498.2 443.8 495.8 444.3C493.3 444.8 491.7 444.2 489.9 445.7C488.2 447.2 487.3 450.5 485.1 453.1C482.9 455.7 479.1 458.8 476.7 461.1C474.2 463.3 472.4 464.4 470.2 466.5C468.1 468.6 464.4 472.0 463.8 473.7C463.2 475.4 465.1 476.0 466.6 476.7C468.1 477.4 471.7 477.6 473.0 478.0C474.3 478.3 473.5 478.6 474.5 478.8C475.4 479.0 477.3 478.9 478.8 479.2C480.3 479.4 482.1 480.0 483.3 480.2C484.5 480.5 484.8 480.2 485.9 480.8C487.0 481.4 488.3 483.2 489.9 483.8C491.5 484.4 495.7 485.3 495.6 484.3C495.5 483.3 491.3 480.2 489.2 477.9C487.2 475.5 485.5 472.5 483.3 470.3C481.0 468.1 478.1 466.2 475.6 464.5C473.1 462.7 469.8 461.5 468.1 459.8C466.4 458.1 466.5 456.6 465.3 454.2C464.1 451.8 462.7 448.2 460.9 445.5C459.1 442.9 456.3 440.6 454.6 438.4C452.9 436.3 451.0 432.6 450.8 432.7C450.7 432.7 452.2 437.2 453.7 438.8C455.3 440.5 458.1 441.1 460.2 442.6C462.2 444.1 464.5 446.5 465.9 447.9C467.4 449.3 467.4 448.7 468.9 450.9C470.4 453.2 472.9 457.5 475.0 461.1C477.1 464.8 479.3 469.5 481.5 473.0C483.7 476.5 485.8 478.9 488.4 482.3C490.9 485.7 495.3 491.7 496.7 493.6" fill="none" stroke="#5aae45" stroke-width="0.55" stroke-opacity="0.78"/>
<path d="M510.0 472.3C508.7 472.2 504.6 472.3 501.9 471.8C499.3 471.2 497.1 469.8 494.2 468.9C491.4 467.9 487.5 467.1 484.9 466.1C482.3 465.1 481.4 463.1 478.6 463.1C475.8 463.0 471.3 465.4 468.2 465.6C465.2 465.9 462.8 464.5 460.5 464.5C458.1 464.6 456.9 465.2 454.2 465.9C451.5 466.6 444.0 467.9 444.3 468.6C444.6 469.3 452.5 469.1 455.9 470.1C459.4 471.2 461.4 473.9 464.9 474.7C468.4 475.6 473.2 474.8 476.9 475.4C480.5 475.9 483.3 477.2 486.7 478.0C490.1 478.9 494.4 479.5 497.6 480.4C500.7 481.4 502.3 483.0 505.7 483.8C509.1 484.7 514.6 484.8 518.0 485.3C521.4 485.8 526.5 488.2 526.3 486.9C526.0 485.7 520.1 480.6 516.6 477.7C513.0 474.7 509.3 472.1 505.2 469.3C501.1 466.4 495.5 463.6 491.7 460.8C487.9 457.9 486.1 454.3 482.5 452.2C478.9 450.2 474.5 449.3 470.1 448.5C465.6 447.7 460.2 448.0 455.7 447.4C451.3 446.9 447.9 445.7 443.4 445.2C438.9 444.7 429.3 443.5 428.8 444.5C428.3 445.5 436.0 449.1 440.6 451.3C445.1 453.4 451.6 455.6 456.2 457.5C460.7 459.4 463.4 460.8 467.8 462.4C472.2 464.1 477.9 465.6 482.3 467.4C486.8 469.2 490.8 471.2 494.4 473.3C498.1 475.3 500.5 477.9 504.3 479.7C508.1 481.5 513.2 482.4 517.3 484.1C521.4 485.7 526.9 488.7 528.8 489.7" fill="none" stroke="#5aae45" stroke-width="0.55" stroke-opacity="0.78"/>
<path d="M522.6 441.2 523.0 438.2 523.8 438.6 525.1 441.3 526.6 444.0 527.7 446.7 528.4 449.7 528.7 452.6 528.6 455.6 528.3 458.6 527.4 461.5 525.9 464.1 524.8 466.9 523.1 469.4 521.0 471.5 519.2 473.9 517.0 475.9 514.4 477.4 512.1 479.4 514.5 480.8 517.2 482.1 520.1 483.0 523.0 483.6 526.0 484.2 528.8 485.0 531.6 486.1 534.2 487.6 536.1 489.0 533.2 489.9 530.5 491.2 528.0 492.8 525.2 493.9 522.4 494.1 519.7 492.6 517.1 491.3 514.4 489.8 512.2 487.8 513.5 485.4 515.4 483.1 517.4 480.8 519.3 478.4" fill="none" stroke="#3b7bd8" stroke-width="0.55" stroke-opacity="0.78" stroke-linejoin="round"/>
<path d="M457.1 492.6 453.7 492.9 450.4 493.4 446.9 493.6 443.6 494.1 440.2 494.2 436.7 494.0 433.3 493.6 429.9 493.4 426.4 493.5 422.9 493.5 420.4 493.6 423.9 493.8 427.4 493.8 430.8 494.2 434.3 494.2 437.7 494.3 441.1 494.3 444.6 494.2 448.1 494.0 451.5 494.2 455.0 494.1 458.5 493.9 462.0 494.0 465.4 494.3 468.4 494.0 471.8 493.6 475.3 493.5 478.7 493.8 482.1 494.1 485.5 494.5 489.0 494.4 492.4 494.4 495.8 494.0 499.2 493.7 502.4 493.2 505.6 492.6 508.3 491.7 511.4 491.1 514.8 490.7 517.9 490.0 520.9 489.3 524.2 488.8 527.1 488.0 529.6 487.1 532.7 486.4 535.9 485.8 532.8 485.4 529.8 484.7 526.8 483.9 523.7 483.3 520.9 482.5 518.8 482.7 517.1 483.9 515.8 485.2 514.0 486.4 512.0 487.5 510.8 488.8 510.2 490.2 509.7 491.6 508.8 493.0" fill="none" stroke="#3b7bd8" stroke-width="0.55" stroke-opacity="0.78" stroke-linejoin="round"/>
<path d="M526.3 456.5 523.8 458.7 520.9 460.5 518.6 462.9 516.4 465.3 514.1 467.7 512.5 470.4 511.6 473.5 510.4 476.5 509.0 479.3 507.2 482.0 504.8 484.3 502.0 486.2 498.8 487.5 495.4 488.3 491.9 488.3 488.4 488.5 484.9 488.2 481.4 487.9 482.0 487.4 485.5 487.7 488.9 488.3 492.4 489.0 495.8 489.2 499.2 490.0 502.6 490.7 505.9 491.9 508.8 493.6 512.2 493.5 515.6 492.7 518.7 491.3 521.9 490.1 525.3 489.3 528.5 488.1 531.3 486.2 534.0 484.1 534.9 482.6 531.9 481.0 529.3 479.0 526.4 477.2 524.2 474.7 522.8 471.9 520.8 469.2 518.2 467.2 515.4 465.2 512.4 463.7" fill="none" stroke="#3b7bd8" stroke-width="0.55" stroke-opacity="0.78" stroke-linejoin="round"/>
<path d="M515.8 474.5C513.9 474.2 508.3 473.6 504.6 473.1C500.9 472.6 497.1 472.7 493.5 471.5C489.9 470.4 486.7 467.3 483.1 466.3C479.4 465.4 475.8 465.1 471.8 465.8C467.7 466.5 462.6 469.2 458.7 470.7C454.9 472.2 452.0 474.0 448.7 474.9C445.4 475.8 442.9 475.1 439.1 476.1C435.3 477.1 426.8 480.6 426.1 481.1C425.3 481.5 431.2 480.3 434.6 478.9C437.9 477.4 443.0 474.1 446.2 472.4C449.4 470.6 450.8 469.8 453.7 468.6C456.6 467.4 459.9 465.5 463.6 465.2C467.4 464.9 471.7 466.3 476.1 466.8C480.6 467.2 485.5 467.7 490.3 467.8C495.1 467.8 500.6 466.9 505.0 467.2C509.4 467.5 515.5 468.8 516.8 469.3C518.1 469.8 514.5 470.1 512.6 470.3C510.8 470.4 507.7 470.5 505.8 470.3C503.8 470.1 502.2 469.0 500.9 469.0C499.5 469.0 498.6 469.9 497.7 470.1C496.7 470.2 496.2 469.9 495.3 469.9C494.3 469.9 493.0 469.9 492.1 470.2C491.1 470.5 490.3 470.9 489.5 471.5C488.7 472.1 486.9 473.4 487.3 473.8C487.8 474.3 491.2 473.9 492.0 474.3C492.8 474.7 491.6 475.4 492.3 476.2C492.9 476.9 494.9 478.3 496.0 478.7C497.1 479.1 498.6 478.2 498.8 478.6C499.1 479.0 497.5 480.6 497.4 481.4C497.4 482.1 498.7 483.1 498.7 483.2C498.6 483.3 497.5 481.8 497.2 482.1C496.9 482.3 497.5 484.7 496.9 484.7C496.3 484.7 494.4 482.7 493.8 482.0C493.1 481.2 493.5 481.3 493.0 480.1C492.4 479.0 491.0 476.5 490.5 475.4C490.1 474.2 489.9 473.4 490.1 473.3C490.3 473.1 491.7 474.5 491.6 474.6C491.4 474.7 489.4 473.3 489.3 473.8C489.3 474.3 491.2 477.0 491.3 477.6C491.5 478.2 490.3 477.5 490.4 477.3C490.4 477.1 491.0 477.0 491.6 476.4C492.1 475.9 492.8 475.3 493.8 474.1C494.7 472.9 496.5 470.2 497.2 469.4C497.9 468.5 497.1 469.2 498.0 469.1C498.9 468.9 501.4 468.5 502.6 468.5C503.8 468.4 504.0 468.1 505.2 468.8C506.5 469.4 508.9 471.8 510.0 472.2C511.0 472.6 511.8 471.9 511.6 471.3C511.5 470.7 510.1 469.0 509.1 468.6C508.0 468.2 506.8 468.8 505.4 468.8C504.1 468.8 502.3 468.8 500.8 468.5C499.3 468.2 497.4 467.0 496.3 467.1C495.3 467.2 495.1 467.9 494.4 469.1C493.8 470.3 492.9 473.1 492.4 474.3C491.9 475.5 491.7 475.6 491.4 476.3C491.2 477.1 490.6 478.2 490.9 478.9C491.3 479.6 492.7 480.3 493.5 480.5C494.4 480.7 495.5 479.9 495.9 480.0C496.4 480.0 495.8 480.8 496.4 480.9C496.9 481.0 498.5 480.5 499.4 480.5C500.4 480.5 502.0 480.5 502.1 480.9C502.2 481.3 499.9 482.0 500.0 482.8C500.1 483.7 502.1 485.6 502.7 486.1C503.2 486.6 503.1 486.0 503.2 485.9" fill="none" stroke="#86c46e" stroke-width="0.55" stroke-opacity="0.78"/>
<path d="M533.2 460.4 533.0 463.4 532.9 466.4 532.6 469.4 532.2 472.4 531.9 475.4 532.3 478.3 532.8 481.3 532.7 484.3 532.6 487.3 532.7 490.3 533.3 493.2 534.0 492.8 534.2 489.8 533.7 486.9 533.9 483.9 534.6 481.0 534.8 478.0 534.3 475.0 533.6 472.1 532.6 469.3 532.0 466.3 531.5 463.4 530.7 460.5 529.2 457.8 528.5 454.9 527.1 452.3 525.1 450.1 523.0 447.9 520.8 445.8 518.3 444.2 515.8 442.5 513.6 440.5 513.0 439.0 515.6 437.5 518.1 438.1 520.2 440.3 521.9 442.7 523.1 445.5 524.6 448.1 525.8 450.8" fill="none" stroke="#3b7bd8" stroke-width="0.55" stroke-opacity="0.78" stroke-linejoin="round"/>
<path d="M532.2 462.7 531.7 459.7 531.1 456.8 531.2 453.8 531.2 450.8 531.1 447.8 530.7 444.8 531.0 441.8 531.0 438.8 531.3 438.2 532.0 441.1 532.1 444.1 532.3 447.1 533.0 450.0 534.2 452.8 535.8 455.2 534.9 457.3 532.7 459.2 530.4 461.2 528.3 463.3 526.4 465.6 524.3 467.8 521.8 469.5 519.3 471.0 516.9 472.8 514.3 474.3 512.2 476.1 514.3 478.2 516.4 480.4 518.8 482.1 521.1 484.1 523.4 486.0 526.1 487.4 528.8 488.6 531.5 489.9 534.0 491.6 536.3 492.8 533.3 493.4 530.5 494.3 527.6 494.0 524.6 493.4" fill="none" stroke="#3b7bd8" stroke-width="0.55" stroke-opacity="0.78" stroke-linejoin="round"/>
<path d="M524.8 492.5C524.3 491.5 523.3 488.3 521.9 486.2C520.5 484.1 518.6 482.2 516.4 479.7C514.3 477.3 510.8 473.8 509.1 471.5C507.3 469.1 507.6 468.1 506.0 465.6C504.4 463.1 501.8 459.6 499.3 456.5C496.9 453.4 494.1 449.6 491.3 447.1C488.4 444.7 485.1 444.3 482.4 441.7C479.7 439.2 475.1 432.8 475.1 431.8C475.2 430.9 480.3 434.8 482.8 436.3C485.4 437.8 487.9 439.3 490.4 440.8C492.9 442.4 495.1 443.6 497.9 445.5C500.6 447.4 504.7 449.5 507.0 452.3C509.4 455.1 510.5 459.0 512.2 462.4C513.9 465.8 515.3 469.2 517.2 472.8C519.0 476.4 521.6 480.3 523.4 483.8C525.1 487.3 528.8 492.2 527.7 493.6C526.7 495.0 520.4 493.3 516.9 492.2C513.3 491.2 509.8 488.8 506.3 487.3C502.9 485.9 499.1 484.5 496.0 483.5C492.8 482.6 491.5 482.5 487.7 481.7C483.9 480.8 477.8 479.2 473.4 478.4C469.1 477.6 465.8 478.0 461.7 476.9C457.5 475.9 452.9 473.4 448.6 472.1C444.4 470.7 437.3 469.2 436.1 468.8C435.0 468.4 439.6 469.3 441.9 469.7C444.2 470.1 447.6 471.3 450.0 471.4C452.4 471.4 453.9 469.9 456.1 470.1C458.4 470.3 460.2 471.8 463.3 472.8C466.4 473.7 471.4 475.3 474.8 475.9C478.2 476.5 480.7 476.1 483.5 476.4C486.3 476.6 488.5 476.8 491.6 477.3C494.8 477.9 500.8 479.6 502.4 479.7C504.1 479.7 501.7 478.6 501.3 477.7C500.9 476.7 500.6 474.4 500.0 473.9C499.4 473.3 498.5 474.9 497.6 474.5C496.7 474.1 494.9 471.1 494.7 471.2C494.5 471.3 495.9 473.7 496.4 475.1C496.8 476.4 496.7 477.8 497.4 479.3C498.1 480.8 500.1 482.5 500.6 484.1C501.0 485.6 500.3 488.4 500.3 488.6C500.2 488.8 499.8 485.9 500.3 485.2C500.7 484.5 502.6 484.5 503.0 484.4C503.4 484.2 502.7 484.9 502.6 484.4C502.6 483.9 501.9 481.6 502.5 481.4C503.1 481.2 505.3 481.9 506.3 483.1C507.2 484.2 507.5 487.5 508.1 488.3C508.7 489.2 509.3 487.6 509.9 488.2C510.5 488.8 511.5 491.3 511.8 491.9" fill="none" stroke="#5aae45" stroke-width="0.55" stroke-opacity="0.78"/>
<path d="M421.4 435.2C423.0 435.2 428.4 435.5 431.1 435.2C433.8 434.9 434.8 433.8 437.7 433.4C440.5 433.0 445.2 433.4 448.2 433.0C451.3 432.7 453.2 431.7 455.8 431.1C458.5 430.5 460.8 429.9 464.1 429.6C467.4 429.2 472.4 428.7 475.6 429.0C478.9 429.3 480.7 431.0 483.7 431.1C486.7 431.1 490.1 429.3 493.6 429.4C497.0 429.4 500.8 431.2 504.3 431.3C507.8 431.5 512.4 429.9 514.5 430.4C516.5 430.9 515.7 432.9 516.8 434.3C517.8 435.8 519.5 437.5 520.5 439.2C521.6 440.9 522.1 442.7 523.2 444.6C524.2 446.4 525.8 448.6 526.9 450.3C527.9 452.0 529.0 454.0 529.4 454.7" fill="none" stroke="#5aae45" stroke-width="0.55" stroke-opacity="0.78"/>
<path d="M455.8 439.5 452.3 439.7 448.8 439.7 445.3 439.8 442.0 440.4 438.5 440.7 435.0 440.8 431.6 440.5 428.2 440.1 424.8 439.6 421.7 438.8 419.9 438.1 422.9 437.2 426.1 436.4 429.3 435.7 432.7 435.2 435.8 434.5 439.2 433.9 442.6 433.8 446.1 433.8 449.6 434.1 453.1 434.2 456.4 434.8 459.2 435.8 461.5 437.1 463.0 438.7 465.4 440.0 467.9 441.2 469.5 442.8 470.8 444.4 473.2 445.7 474.5 444.7 476.3 443.2 478.2 441.7 480.6 440.4 483.6 439.5 487.0 439.1 490.4 438.6 493.6 437.9 497.1 437.8 499.5 437.4 496.1 437.1 492.7 436.7 489.2 436.4 485.9 435.8 482.8 435.1" fill="none" stroke="#e2707a" stroke-width="0.55" stroke-opacity="0.78" stroke-linejoin="round"/>
<path d="M527.7 487.0C527.0 486.6 524.5 485.7 523.5 484.3C522.5 482.9 522.9 480.1 521.9 478.6C520.9 477.1 518.4 476.6 517.4 475.4C516.5 474.2 517.3 472.1 516.2 471.6C515.1 471.2 512.3 472.9 510.8 472.7C509.4 472.4 509.3 470.1 507.4 470.1C505.6 470.1 501.6 472.4 499.7 472.5C497.9 472.7 496.5 470.5 496.4 470.7C496.3 471.0 497.8 473.0 498.9 474.0C500.0 474.9 502.1 475.9 502.9 476.2C503.8 476.6 503.5 475.4 504.1 476.1C504.7 476.8 506.1 479.2 506.5 480.3C506.8 481.3 506.2 481.5 506.1 482.2C506.0 483.0 505.6 483.4 505.8 484.6C506.0 485.9 507.0 488.5 507.3 489.8C507.6 491.1 509.4 492.7 507.7 492.3C506.1 492.0 501.0 488.6 497.2 487.6C493.4 486.6 488.9 487.1 485.0 486.5C481.0 486.0 477.4 485.1 473.3 484.0C469.2 483.0 464.4 481.4 460.4 480.1C456.4 478.7 453.1 477.1 449.4 476.1C445.8 475.0 441.7 474.9 438.4 473.8C435.2 472.7 433.3 470.9 430.2 469.8C427.0 468.6 419.5 467.9 419.7 467.0C419.9 466.2 427.5 464.8 431.2 464.5C434.8 464.2 438.5 465.0 441.5 465.3C444.6 465.6 446.3 466.6 449.5 466.3C452.6 466.1 457.0 464.1 460.4 463.7C463.9 463.4 466.6 464.0 470.2 464.2C473.8 464.4 477.7 464.5 481.9 464.9C486.2 465.2 491.8 465.4 495.9 466.1C499.9 466.8 504.5 468.6 506.2 469.1" fill="none" stroke="#5aae45" stroke-width="0.55" stroke-opacity="0.78"/>
<path d="M453.9 484.7 450.6 485.2 447.8 486.3 445.8 487.7 443.0 488.8 440.7 490.1 437.9 491.2 434.8 492.0 431.3 492.2 428.0 492.7 425.0 492.4 422.2 491.4 420.0 490.2 423.1 489.4 425.8 488.3 428.0 486.9 430.2 485.6 433.1 484.6 436.3 483.9 438.8 482.7 441.9 481.8 445.2 481.2 448.7 481.2 452.2 481.2 455.5 481.7 459.0 481.8 462.5 481.6 466.0 481.5 469.4 481.1 472.9 480.9 476.3 480.7 479.8 480.8 483.1 481.4 483.4 481.5 480.0 481.9 476.6 482.3 473.1 482.5 469.6 482.7 466.1 482.6 462.6 482.5 459.3 481.9 456.4 481.0 453.5 480.0 451.4 478.6 450.1 477.0 448.2 475.5" fill="none" stroke="#e2707a" stroke-width="0.55" stroke-opacity="0.78" stroke-linejoin="round"/>
<path d="M532.3 493.0C531.1 491.2 527.2 485.3 525.2 481.8C523.1 478.2 521.2 474.5 519.9 471.8C518.5 469.1 518.7 468.3 517.0 465.3C515.3 462.4 511.8 456.3 509.7 454.1C507.7 452.0 506.1 453.4 504.7 452.3C503.4 451.1 502.6 448.5 501.6 447.2C500.7 445.9 500.1 445.3 499.0 444.4C498.0 443.5 496.3 441.6 495.3 441.5C494.4 441.5 493.6 443.5 493.2 443.9C492.8 444.3 492.8 443.5 492.9 443.9C493.0 444.3 494.0 446.0 493.8 446.3C493.6 446.6 491.8 445.1 491.9 445.8C492.0 446.4 494.2 448.5 494.5 450.4C494.8 452.2 493.8 454.5 493.8 456.7C493.9 459.0 494.1 461.5 494.6 463.9C495.0 466.2 497.5 469.5 496.5 470.6C495.5 471.7 491.2 470.5 488.6 470.3C485.9 470.2 483.0 469.8 480.7 469.7C478.4 469.7 477.3 469.6 474.8 469.9C472.2 470.2 468.5 470.8 465.3 471.3C462.1 471.9 458.2 472.9 455.4 473.4C452.7 473.9 451.2 474.0 448.6 474.4C445.9 474.9 442.4 475.6 439.8 476.1C437.2 476.7 432.5 477.3 432.9 477.7C433.3 478.1 438.9 478.8 442.2 478.6C445.4 478.5 449.1 477.2 452.4 476.8C455.6 476.4 459.0 476.3 461.9 476.4C464.8 476.5 466.6 477.2 469.7 477.4C472.9 477.7 477.4 477.6 480.9 477.9C484.5 478.2 487.5 478.3 491.2 479.3C494.9 480.2 499.1 482.9 503.0 483.7C506.9 484.6 512.8 484.2 514.7 484.3" fill="none" stroke="#5aae45" stroke-width="0.55" stroke-opacity="0.78"/>
<path d="M522.2 491.3C520.0 490.1 512.7 486.2 508.9 484.4C505.2 482.6 503.2 482.2 499.7 480.4C496.1 478.6 491.4 475.2 487.4 473.4C483.5 471.6 479.9 470.4 476.1 469.7C472.4 468.9 468.4 469.6 464.8 468.9C461.3 468.2 458.8 466.3 454.8 465.7C450.7 465.0 444.7 465.8 440.6 465.0C436.6 464.3 430.8 461.5 430.6 461.3C430.4 461.1 436.7 463.5 439.4 463.8C442.1 464.2 444.2 463.2 446.7 463.5C449.2 463.7 452.2 464.9 454.6 465.5C457.0 466.0 458.4 465.3 461.0 466.9C463.6 468.5 467.1 473.1 470.1 475.2C473.1 477.3 476.3 477.6 479.0 479.4C481.6 481.2 483.1 483.6 486.0 486.0C489.0 488.4 495.2 492.7 496.5 493.8C497.8 494.9 494.8 493.4 493.6 492.6C492.5 491.8 490.7 489.5 489.6 489.1C488.5 488.7 487.9 490.5 487.1 490.1C486.3 489.7 485.1 487.7 484.8 486.6C484.5 485.4 485.8 484.0 485.4 483.3C485.0 482.6 483.2 482.9 482.6 482.3C481.9 481.7 481.7 480.5 481.4 479.6C481.0 478.6 480.5 477.5 480.5 476.7C480.5 475.9 480.2 475.6 481.3 474.7C482.4 473.7 486.1 471.9 487.0 470.9C487.8 469.9 485.9 469.6 486.5 469.0C487.1 468.3 489.1 466.7 490.6 466.8C492.0 466.8 493.4 468.3 495.1 469.3C496.9 470.4 499.1 471.5 501.1 473.0C503.2 474.5 505.6 477.2 507.3 478.4C509.0 479.6 511.5 480.8 511.3 480.3C511.2 479.8 508.0 477.0 506.3 475.4C504.7 473.7 503.5 471.9 501.4 470.3C499.4 468.6 496.1 466.9 494.1 465.4C492.1 463.8 490.7 461.7 489.3 461.1C487.9 460.5 486.5 461.3 485.5 461.9C484.5 462.4 483.7 464.3 483.3 464.3C482.9 464.4 483.6 462.3 483.0 462.3C482.4 462.3 479.7 463.8 479.6 464.5C479.5 465.1 480.8 465.9 482.4 466.1C484.0 466.2 487.1 465.7 489.1 465.3C491.1 464.9 493.0 463.7 494.3 463.7C495.5 463.8 496.4 464.7 496.8 465.6C497.1 466.4 495.9 467.3 496.4 468.9C496.8 470.6 498.8 473.7 499.7 475.2C500.6 476.8 501.6 476.7 501.9 478.1C502.2 479.5 501.7 484.2 501.5 483.7C501.2 483.1 501.4 477.5 500.4 474.7C499.4 471.9 496.6 469.7 495.4 466.8C494.2 464.0 493.9 460.2 493.2 457.7C492.5 455.1 492.1 453.3 491.2 451.3C490.4 449.2 488.5 446.5 487.9 445.2C487.4 443.9 487.9 444.5 487.9 443.3C487.8 442.1 488.0 440.0 487.5 438.3C487.1 436.6 484.6 434.0 485.1 433.2C485.5 432.4 488.2 432.9 490.2 433.6C492.1 434.3 494.5 436.9 496.7 437.3C499.0 437.7 501.2 435.8 503.5 436.1C505.7 436.3 508.6 437.0 510.4 438.8C512.3 440.6 513.0 444.4 514.3 446.8C515.7 449.1 516.8 450.2 518.6 453.0C520.4 455.9 523.2 461.0 525.1 463.8C527.0 466.7 529.0 469.1 529.8 470.1" fill="none" stroke="#5aae45" stroke-width="0.55" stroke-opacity="0.78"/>
<path d="M422.4 431.8C423.8 431.6 428.1 430.7 430.8 430.8C433.5 430.8 435.8 431.9 438.6 432.2C441.4 432.5 444.8 432.7 447.6 432.6C450.4 432.5 453.0 431.7 455.4 431.8C457.9 431.8 459.7 432.7 462.4 432.6C465.1 432.6 468.0 431.4 471.3 431.6C474.7 431.8 479.2 433.7 482.7 433.7C486.2 433.7 489.0 431.8 492.1 431.5C495.3 431.1 498.6 431.5 501.6 431.6C504.6 431.6 508.0 431.1 510.0 431.6C512.1 432.1 512.9 433.0 513.9 434.5C514.9 436.0 515.1 439.0 516.1 440.7C517.1 442.4 519.1 443.5 520.0 444.6C520.8 445.7 520.2 446.1 521.1 447.3C522.1 448.4 524.7 450.8 525.4 451.5" fill="none" stroke="#5aae45" stroke-width="0.55" stroke-opacity="0.78"/>
<path d="M525.6 466.8 525.3 469.8 525.4 472.8 526.3 475.7 527.0 478.6 528.0 481.4 528.9 484.3 529.6 487.2 531.0 489.8 532.8 492.2 534.9 494.4 536.0 492.4 534.5 489.9 532.3 487.8 530.7 485.2 529.2 482.7 527.3 480.4 525.8 477.7 524.1 475.3 522.5 472.7 521.1 470.1 519.8 467.4 519.0 464.5 518.1 461.6 516.6 459.0 515.2 456.4 514.3 453.5 513.9 450.5 513.9 447.5 513.6 444.6 513.7 441.6 513.9 438.6 514.2 438.4 514.5 441.4 514.4 444.4 514.0 447.4 513.2 450.3 512.1 453.1 512.4 456.0 512.3 459.0 512.0 462.0" fill="none" stroke="#3b7bd8" stroke-width="0.55" stroke-opacity="0.78" stroke-linejoin="round"/>
<path d="M508.2 491.4C507.1 491.6 503.3 492.7 501.3 492.4C499.3 492.1 498.8 490.0 496.5 489.8C494.2 489.6 489.9 491.1 487.6 491.0C485.2 490.9 484.1 489.7 482.4 489.2C480.7 488.6 479.2 487.9 477.4 487.8C475.5 487.8 473.6 488.9 471.3 488.9C469.0 488.9 465.9 488.0 463.6 487.8C461.2 487.6 456.9 488.5 457.1 487.9C457.4 487.3 462.2 485.6 465.1 484.2C468.1 482.7 472.0 481.0 474.9 479.1C477.8 477.2 480.2 474.7 482.7 472.9C485.1 471.1 487.0 468.9 489.7 468.4C492.4 467.8 495.9 469.6 498.9 469.6C501.8 469.7 504.3 468.8 507.4 468.7C510.4 468.6 513.7 469.1 517.0 469.3C520.4 469.5 528.0 470.1 527.6 469.9C527.1 469.7 517.8 468.6 514.1 467.9C510.3 467.2 508.5 466.4 504.9 465.6C501.3 464.9 496.7 464.2 492.6 463.3C488.5 462.5 484.0 460.4 480.3 460.6C476.5 460.8 473.7 463.7 469.9 464.6C466.1 465.5 461.7 465.0 457.7 466.0C453.7 466.9 449.8 469.2 445.8 470.3C441.8 471.5 434.5 472.8 433.7 472.9C432.9 473.1 438.2 471.4 441.0 471.4C443.8 471.3 447.3 472.7 450.7 472.7C454.1 472.7 458.5 471.7 461.6 471.4C464.6 471.1 465.8 470.3 468.7 470.8C471.7 471.3 475.8 473.6 479.2 474.4C482.6 475.3 485.6 475.7 489.0 476.0C492.5 476.3 496.0 475.5 499.9 476.2C503.8 476.9 510.3 479.5 512.4 480.1" fill="none" stroke="#5aae45" stroke-width="0.55" stroke-opacity="0.78"/>
<path d="M525.9 485.2C523.6 484.5 516.4 482.7 512.2 481.2C508.0 479.7 504.1 478.4 500.7 476.4C497.2 474.3 495.3 470.5 491.5 468.7C487.7 466.8 482.2 466.0 477.7 465.3C473.2 464.7 469.4 464.5 464.7 464.8C460.0 465.2 454.3 467.1 449.5 467.7C444.7 468.2 440.8 468.0 436.0 468.4C431.2 468.8 421.0 469.8 420.7 470.1C420.5 470.4 430.1 470.2 434.6 470.0C439.1 469.7 443.8 469.1 447.8 468.6C451.9 468.0 454.9 467.5 458.8 466.9C462.7 466.3 467.0 465.2 471.4 464.9C475.8 464.6 480.4 464.5 485.4 465.0C490.4 465.5 496.7 467.4 501.4 467.6C506.0 467.9 508.9 466.4 513.5 466.7C518.2 467.1 527.7 469.6 529.4 469.7C531.1 469.8 526.2 468.2 523.8 467.5C521.4 466.8 517.3 466.6 514.8 465.5C512.3 464.5 511.2 462.3 508.9 461.2C506.6 460.1 502.9 458.6 501.1 459.1C499.4 459.6 499.8 462.9 498.3 464.4C496.8 465.8 493.5 466.5 492.4 467.8C491.2 469.2 492.4 470.8 491.5 472.6C490.6 474.4 487.5 478.2 486.8 478.7C486.1 479.2 487.3 477.2 487.1 475.7C486.9 474.2 485.4 471.3 485.6 469.8C485.8 468.4 488.0 468.2 488.3 466.8C488.5 465.4 486.9 462.0 487.0 461.3C487.2 460.6 488.0 462.0 489.2 462.6C490.4 463.1 492.8 463.7 494.1 464.6C495.4 465.6 495.5 467.1 496.9 468.2C498.3 469.3 502.0 471.9 502.5 471.4C503.0 470.9 500.3 467.0 499.9 465.2C499.4 463.4 499.8 462.1 499.7 460.5C499.6 459.0 500.0 457.6 499.4 456.1C498.7 454.7 497.1 452.1 496.0 451.8C494.9 451.5 493.2 454.3 492.7 454.4C492.2 454.5 493.2 452.5 493.0 452.7C492.7 452.8 492.1 455.0 491.3 455.5C490.5 456.0 488.4 455.4 488.4 455.5C488.3 455.6 490.6 456.0 490.9 456.2C491.2 456.5 489.6 457.3 489.9 457.0C490.3 456.6 492.3 454.5 493.0 454.2C493.8 454.0 493.9 454.3 494.3 455.5C494.7 456.6 494.4 459.6 495.3 460.9C496.2 462.2 498.7 462.3 499.7 463.2C500.8 464.1 501.1 464.7 501.8 466.1C502.5 467.6 504.6 470.8 503.8 471.9C503.1 473.0 499.3 471.8 497.2 472.7C495.0 473.5 493.3 476.4 491.1 476.8C488.8 477.3 485.8 475.0 483.5 475.3C481.1 475.6 479.7 477.4 476.9 478.7C474.1 480.0 470.1 482.2 466.8 483.3C463.4 484.4 459.5 484.7 456.7 485.4C454.0 486.0 453.2 486.3 450.4 487.2C447.5 488.0 439.3 490.8 439.6 490.7C439.9 490.5 448.8 487.3 452.2 486.1C455.6 484.9 456.5 484.2 460.1 483.6C463.7 483.1 469.9 483.7 473.8 482.8C477.7 481.8 480.0 478.7 483.6 478.0C487.2 477.4 491.4 479.2 495.5 478.7C499.6 478.2 504.2 475.1 508.1 475.0C512.1 474.8 515.1 477.7 519.4 477.8C523.6 477.9 531.2 475.9 533.6 475.5" fill="none" stroke="#5aae45" stroke-width="0.55" stroke-opacity="0.78"/>
<path d="M465.5 478.6 469.0 478.9 472.4 479.2 475.8 479.7 478.7 480.6 481.6 481.6 483.7 483.0 483.7 484.2 480.8 485.2 477.6 485.9 474.1 486.1 470.9 486.8 468.1 487.8 465.3 488.9 461.9 489.4 458.5 489.6 455.3 490.4 452.3 491.3 448.9 491.7 445.5 491.6 442.0 491.7 438.5 491.7 435.1 491.3 432.0 490.5 428.5 490.2 425.0 490.2 421.5 490.2 421.5 490.6 424.9 490.9 428.4 490.8 431.8 490.2 435.3 490.3 438.7 490.1 442.0 489.4 445.2 488.7 448.6 488.5 452.1 488.7 455.6 488.4 459.1 488.6 462.6 488.6 466.0 488.2 469.5 488.2 473.0 488.5 476.4 488.1 479.6 487.4 482.1 486.1" fill="none" stroke="#e2707a" stroke-width="0.55" stroke-opacity="0.78" stroke-linejoin="round"/>
<path d="M429.1 484.3 425.8 484.9 422.4 485.3 419.4 485.4 422.8 485.1 426.3 484.8 429.7 485.1 433.2 484.9 436.7 484.7 440.2 484.5 443.5 484.0 446.8 483.5 449.7 482.5 452.9 481.7 456.2 481.1 459.1 480.1 461.7 478.9 463.7 477.5 464.8 475.8 466.4 474.3 468.6 472.9 471.0 471.7 473.5 470.4 475.5 469.0 476.5 467.3 478.3 465.8 479.9 464.3 480.4 465.5 479.7 467.2 479.9 468.9 480.6 470.7 482.4 472.2 484.8 473.4 483.3 474.9 481.7 476.5 480.3 478.1 479.0 479.7 477.4 481.3 475.2 482.6 473.9 484.2 473.2 485.9 471.7 487.5 469.7 489.0 467.0 490.1 463.9 490.8 460.5 491.3" fill="none" stroke="#e2707a" stroke-width="0.55" stroke-opacity="0.78" stroke-linejoin="round"/>
<path d="M514.8 485.6C513.8 484.8 510.3 482.1 508.8 480.4C507.2 478.7 506.6 477.0 505.6 475.5C504.5 473.9 503.9 472.5 502.6 471.1C501.3 469.7 499.4 467.6 497.8 467.0C496.2 466.3 494.0 467.1 492.9 467.3C491.9 467.5 492.1 467.9 491.3 468.1C490.5 468.3 489.0 468.3 488.0 468.7C487.0 469.1 485.1 470.4 485.6 470.5C486.1 470.7 489.9 469.5 491.0 469.7C492.1 469.8 490.8 471.1 492.0 471.4C493.3 471.7 497.0 471.5 498.5 471.6C500.1 471.7 500.9 472.0 501.2 472.2C501.5 472.3 500.4 471.9 500.4 472.5C500.5 473.1 501.5 475.4 501.4 475.7C501.3 476.0 499.8 474.0 499.7 474.2C499.6 474.4 501.0 477.4 501.0 477.1C501.0 476.7 500.0 473.1 499.7 471.9C499.4 470.7 499.9 470.6 499.2 469.7C498.4 468.8 495.9 467.9 495.3 466.4C494.7 464.9 496.2 461.7 495.8 460.7C495.4 459.6 493.6 460.4 492.9 460.3C492.3 460.2 492.9 460.5 491.9 460.2C490.9 459.9 488.3 459.1 487.1 458.6C486.0 458.0 485.0 456.6 484.9 456.9C484.9 457.3 486.2 460.0 486.9 460.7C487.5 461.4 488.1 460.4 488.8 461.3C489.6 462.1 490.5 464.5 491.4 465.6C492.3 466.7 493.1 466.4 494.4 467.8C495.6 469.1 497.5 471.5 498.9 473.5C500.3 475.5 501.8 477.3 502.8 479.6C503.7 481.8 503.6 484.9 504.5 487.0C505.5 489.1 509.3 492.8 508.3 492.4C507.4 492.0 501.8 487.1 498.8 484.7C495.8 482.3 493.5 480.5 490.5 478.0C487.6 475.5 484.5 472.0 481.1 469.7C477.8 467.4 473.4 466.0 470.5 464.5C467.6 463.0 466.4 461.7 463.9 460.5C461.4 459.3 457.9 458.3 455.4 457.4C452.9 456.5 450.8 456.2 448.7 455.1C446.7 454.0 442.7 452.2 443.1 450.8C443.5 449.5 448.5 448.0 451.2 447.0C454.0 445.9 456.6 445.3 459.5 444.3C462.3 443.2 465.2 441.9 468.2 440.7C471.1 439.6 473.8 437.2 477.2 437.3C480.7 437.4 485.1 439.9 489.0 441.4C492.9 442.9 496.6 444.8 500.4 446.1C504.1 447.5 507.9 448.7 511.5 449.6C515.1 450.5 521.3 451.5 522.2 451.5C523.0 451.5 518.3 449.9 516.5 449.5C514.7 449.2 513.5 449.8 511.4 449.4C509.4 449.0 506.4 447.6 504.5 447.3C502.6 446.9 502.5 447.5 500.1 447.4C497.7 447.3 492.7 446.6 489.8 446.7C487.0 446.7 485.7 447.2 482.9 447.7C480.1 448.1 476.4 448.9 473.0 449.5C469.6 450.1 463.2 450.3 462.7 451.3C462.1 452.3 467.5 453.9 469.7 455.4C472.0 457.0 474.0 459.8 476.2 460.9C478.4 461.9 480.5 460.8 482.9 461.8C485.4 462.8 488.8 465.4 491.0 467.0C493.3 468.6 494.8 469.5 496.4 471.4C498.0 473.2 499.4 476.1 500.6 478.3C501.8 480.5 502.4 482.5 503.6 484.6C504.7 486.8 506.9 490.2 507.6 491.3" fill="none" stroke="#5aae45" stroke-width="0.55" stroke-opacity="0.78"/>
<path d="M522.8 455.9 523.1 453.0 523.8 450.0 524.1 447.0 523.9 444.0 523.2 441.1 522.2 438.3 521.8 438.7 521.0 441.5 520.3 444.5 519.2 447.3 518.6 450.2 517.4 453.0 516.9 455.9 515.9 458.8 515.3 461.7 515.4 464.7 515.3 467.7 515.8 470.6 516.9 473.4 518.2 476.1 518.9 479.1 519.6 482.0 519.9 485.0 520.4 487.9 520.6 490.9 521.2 493.9 522.0 492.3 523.4 489.6 525.1 487.1 527.0 484.8 529.3 482.9 531.5 480.8 534.0 479.2 536.4 477.4 533.9 476.0 531.0 475.3 528.0 474.8 525.2 473.7 522.7 472.1 520.0 470.8" fill="none" stroke="#3b7bd8" stroke-width="0.55" stroke-opacity="0.78" stroke-linejoin="round"/>
<path d="M444.5 474.5 447.8 475.0 451.0 475.7 454.3 476.3 457.8 476.5 461.3 476.4 464.8 476.7 468.2 476.9 471.7 476.5 475.1 476.1 478.6 476.0 482.1 476.0 484.4 475.8 481.2 475.2 478.1 474.4 474.6 474.2 471.1 474.1 467.6 474.4 464.3 474.8 461.0 475.4 457.5 475.5 454.3 476.2 451.2 477.1 447.8 477.3 444.3 477.5 441.0 478.1 437.8 478.9 435.1 480.0 432.5 481.2 429.6 482.1 426.2 482.6 423.0 483.3 419.9 484.1 421.4 484.5 424.8 484.8 428.3 485.0 431.8 485.2 435.2 485.6 438.2 486.5 441.3 487.3 443.7 488.6 446.5 489.6 449.4 490.6 452.1 491.7 453.8 492.7 454.5 491.0" fill="none" stroke="#e2707a" stroke-width="0.55" stroke-opacity="0.78" stroke-linejoin="round"/>
<path d="M518.3 493.5C516.9 492.6 513.1 489.6 509.8 488.1C506.4 486.6 502.3 485.5 498.2 484.3C494.2 483.2 489.2 482.1 485.7 481.1C482.1 480.2 479.8 479.4 477.0 478.6C474.2 477.7 471.3 476.6 468.9 475.9C466.5 475.2 465.0 474.6 462.7 474.5C460.3 474.4 457.3 475.5 454.8 475.3C452.3 475.1 447.3 473.5 447.8 473.4C448.3 473.2 454.4 473.8 457.8 474.5C461.2 475.1 465.0 476.4 468.0 477.3C471.0 478.2 472.8 479.3 475.9 479.9C479.0 480.5 482.8 480.1 486.6 480.7C490.4 481.2 494.9 482.6 498.8 483.4C502.7 484.3 506.0 485.0 510.1 485.8C514.2 486.5 519.5 486.9 523.4 488.1C527.3 489.2 533.2 493.0 533.4 492.8C533.7 492.5 528.3 488.3 524.9 486.4C521.5 484.6 516.7 483.7 512.9 481.7C509.1 479.7 505.2 477.1 502.0 474.6C498.7 472.2 496.0 468.5 493.5 467.1C491.0 465.7 488.7 466.3 486.7 466.3C484.8 466.3 483.9 467.2 481.8 467.2C479.7 467.2 476.1 466.3 474.1 466.4C472.0 466.4 469.2 467.8 469.4 467.4C469.7 467.0 473.6 465.6 475.6 464.0C477.6 462.3 479.4 459.2 481.5 457.4C483.7 455.7 486.2 454.9 488.5 453.6C490.8 452.2 492.7 450.3 495.2 449.2C497.8 448.2 501.5 447.4 504.0 447.3C506.6 447.3 508.1 449.3 510.6 448.8C513.0 448.3 515.9 445.1 519.0 444.4C522.1 443.8 527.5 444.8 529.2 444.9" fill="none" stroke="#3b7bd8" stroke-width="0.55" stroke-opacity="0.78"/>
<path d="M518.3 488.4C517.3 488.0 513.7 486.4 512.0 485.7C510.3 484.9 509.8 485.1 508.1 484.0C506.3 483.0 503.1 480.3 501.5 479.3C499.8 478.3 499.2 477.8 498.3 477.8C497.4 477.8 496.6 478.3 496.0 479.3C495.4 480.2 495.0 482.9 494.6 483.5C494.1 484.1 493.9 482.3 493.4 482.8C492.8 483.3 491.0 485.9 491.2 486.6C491.4 487.2 493.2 486.1 494.5 486.6C495.8 487.1 497.4 488.7 499.0 489.5C500.7 490.2 502.8 490.6 504.4 491.0C506.0 491.3 507.4 491.6 508.6 491.6C509.7 491.7 510.0 491.0 511.5 491.2C512.9 491.3 515.4 492.6 517.3 492.5C519.2 492.4 521.2 490.5 522.9 490.4C524.5 490.4 528.3 492.8 527.2 492.2C526.0 491.6 519.4 488.5 516.1 486.7C512.7 484.9 510.4 483.3 506.9 481.2C503.5 479.2 499.1 476.4 495.4 474.1C491.6 471.9 487.8 469.5 484.4 467.8C481.1 466.0 478.7 464.7 475.4 463.6C472.0 462.5 467.8 462.6 464.4 461.1C461.1 459.6 458.3 456.1 455.2 454.7C452.0 453.3 446.2 453.3 445.5 452.6C444.8 451.9 448.8 450.4 450.9 450.4C452.9 450.3 455.3 452.7 458.1 452.3C460.8 451.9 465.0 448.7 467.4 448.1C469.8 447.5 470.6 447.6 472.4 449.0C474.2 450.3 476.1 454.0 478.3 456.0C480.6 457.9 483.7 459.0 485.8 460.7C487.9 462.5 488.7 464.4 490.7 466.4C492.8 468.4 496.8 471.6 498.0 472.6" fill="none" stroke="#3b7bd8" stroke-width="0.55" stroke-opacity="0.78"/>
<path d="M531.6 476.8C530.0 476.8 524.7 477.3 521.8 476.9C518.9 476.4 516.7 475.2 514.2 474.1C511.8 473.1 509.6 471.3 507.1 470.7C504.5 470.0 500.8 470.5 499.0 470.1C497.1 469.6 497.2 468.1 496.1 468.1C494.9 468.1 493.7 469.8 492.0 469.8C490.3 469.9 487.4 468.9 485.7 468.4C483.9 467.9 481.4 467.2 481.5 466.7C481.6 466.3 484.8 465.9 486.2 465.7C487.7 465.5 488.9 465.3 490.3 465.5C491.6 465.7 492.6 466.8 494.3 467.0C496.1 467.1 499.1 465.7 500.8 466.5C502.5 467.3 503.0 470.1 504.4 471.8C505.8 473.4 507.2 475.3 509.1 476.4C510.9 477.5 514.1 477.3 515.7 478.5C517.3 479.6 519.6 482.7 518.4 483.2C517.2 483.8 511.3 482.0 508.4 481.5C505.6 481.1 503.8 480.9 501.4 480.5C499.1 480.1 497.1 479.4 494.3 479.1C491.4 478.9 486.9 479.4 484.4 478.9C482.0 478.4 481.7 476.6 479.7 476.1C477.6 475.6 474.3 476.1 472.1 475.8C469.9 475.4 468.7 474.5 466.5 474.0C464.2 473.5 458.3 473.6 458.5 472.8C458.7 472.1 464.3 470.9 467.4 469.5C470.5 468.0 473.6 465.9 476.8 464.0C480.1 462.2 484.1 460.1 487.1 458.2C490.1 456.3 492.1 452.8 494.9 452.6C497.7 452.5 501.1 456.5 504.0 457.3C507.0 458.0 509.5 456.2 512.5 457.2C515.5 458.1 519.0 461.8 522.0 463.0C525.0 464.1 529.1 463.9 530.5 464.1" fill="none" stroke="#5aae45" stroke-width="0.55" stroke-opacity="0.78"/>
<path d="M500.6 487.1C500.2 486.1 498.9 483.2 498.0 480.9C497.2 478.6 496.0 475.4 495.6 473.4C495.2 471.5 495.9 471.1 495.5 469.3C495.1 467.5 493.1 463.7 493.1 462.5C493.2 461.3 495.4 461.6 495.6 462.0C495.8 462.3 493.9 463.5 494.3 464.4C494.7 465.3 497.4 467.0 497.9 467.4C498.5 467.8 497.2 467.5 497.6 466.8C498.0 466.1 498.9 463.8 500.1 462.9C501.3 462.0 503.6 462.4 505.0 461.6C506.3 460.8 507.1 458.8 508.2 458.0C509.3 457.2 510.3 456.7 511.6 456.9C513.0 457.2 515.3 458.4 516.4 459.7C517.6 460.9 517.4 463.7 518.7 464.5C519.9 465.4 522.5 464.2 523.8 464.9C525.0 465.6 527.2 467.9 526.2 468.7C525.3 469.5 520.5 469.9 518.1 469.7C515.6 469.4 513.4 467.4 511.3 467.4C509.1 467.3 507.3 469.2 505.0 469.4C502.8 469.5 500.1 467.6 497.8 468.2C495.5 468.7 493.2 471.2 491.1 472.5C489.0 473.9 487.7 475.2 485.4 476.3C483.2 477.4 479.9 477.8 477.5 479.1C475.1 480.4 471.2 484.2 470.8 484.2C470.4 484.2 473.3 481.0 475.3 479.3C477.3 477.5 480.6 475.7 482.8 473.8C485.0 471.9 486.6 469.4 488.4 467.9C490.2 466.4 491.7 465.2 493.6 464.7C495.6 464.2 497.7 464.3 500.0 464.8C502.3 465.3 505.5 467.3 507.5 467.8C509.4 468.2 510.0 467.2 511.8 467.4C513.6 467.7 518.1 469.2 518.4 469.1C518.8 469.1 515.7 468.1 513.9 467.3C512.1 466.5 509.6 465.6 507.9 464.5C506.2 463.3 505.5 461.2 503.8 460.2C502.0 459.3 499.5 459.1 497.2 458.6C494.9 458.0 492.1 457.4 490.1 457.0C488.2 456.6 487.5 457.1 485.6 456.1C483.7 455.0 480.6 451.6 478.7 450.6C476.7 449.6 473.6 449.8 473.7 450.0C473.8 450.2 477.6 451.1 479.3 451.8C481.0 452.5 482.6 453.1 483.7 454.3C484.8 455.4 484.9 457.8 486.0 458.7C487.1 459.6 488.5 458.8 490.3 459.6C492.0 460.4 494.1 462.2 496.6 463.3C499.0 464.4 502.7 465.7 504.9 466.2C507.2 466.8 507.6 466.0 509.8 466.7C512.0 467.3 516.8 469.7 518.1 470.3" fill="none" stroke="#5aae45" stroke-width="0.55" stroke-opacity="0.78"/>
<path d="M530.0 479.7C528.1 479.1 522.9 476.9 518.5 476.0C514.1 475.1 507.6 474.8 503.3 474.3C499.0 473.8 496.5 473.9 492.7 473.3C488.8 472.6 484.5 470.5 480.2 470.5C476.0 470.6 471.3 472.2 467.2 473.7C463.0 475.3 459.2 478.2 455.1 479.8C450.9 481.3 446.8 481.9 442.1 483.2C437.4 484.4 427.3 487.5 427.1 487.2C426.8 486.9 435.7 483.4 440.4 481.3C445.1 479.2 450.5 476.2 455.4 474.5C460.4 472.9 464.9 473.0 470.0 471.2C475.1 469.5 481.5 464.8 486.2 464.0C491.0 463.1 494.7 465.5 498.5 466.1C502.3 466.7 505.0 466.8 508.8 467.5C512.7 468.3 517.6 469.9 521.4 470.6C525.1 471.2 531.8 471.6 531.2 471.3C530.6 471.1 522.0 469.7 517.6 469.0C513.2 468.3 508.7 468.0 504.6 467.2C500.6 466.5 497.7 465.7 493.3 464.6C489.0 463.5 482.2 461.5 478.4 460.5C474.5 459.4 473.3 458.3 470.1 458.3C466.9 458.3 462.3 460.4 458.9 460.7C455.5 460.9 452.8 460.3 449.7 459.7C446.5 459.2 439.7 457.7 440.0 457.6C440.3 457.4 447.5 458.7 451.4 458.8C455.4 458.8 460.0 458.6 463.8 458.0C467.7 457.3 471.0 455.5 474.7 455.1C478.4 454.6 482.2 454.3 486.1 455.3C489.9 456.2 494.0 458.9 497.6 460.7C501.2 462.4 504.3 464.7 507.7 465.9C511.1 467.1 514.5 466.4 518.1 467.6C521.6 468.9 528.1 473.0 529.2 473.2C530.4 473.4 526.2 470.6 524.9 468.9C523.6 467.3 522.1 465.0 521.4 463.4C520.8 461.7 521.7 461.1 521.0 459.3C520.2 457.4 518.6 453.1 517.1 452.4C515.5 451.7 513.4 454.5 511.5 455.0C509.6 455.5 507.4 454.5 505.6 455.3C503.8 456.2 502.4 459.3 500.7 460.3C499.0 461.3 496.6 460.8 495.6 461.4C494.5 462.0 494.4 463.1 494.2 463.9C493.9 464.8 494.3 466.0 493.9 466.6C493.6 467.1 492.5 466.8 492.1 467.4C491.8 468.1 491.7 469.1 491.9 470.3C492.0 471.6 492.3 474.1 493.2 475.0C494.1 475.8 495.9 474.5 497.4 475.4C498.8 476.3 500.8 479.3 501.9 480.5C502.9 481.7 503.5 482.2 503.8 482.5" fill="none" stroke="#86c46e" stroke-width="0.55" stroke-opacity="0.78"/>
<path d="M505.2 434.3 502.0 435.7 498.8 436.9 495.5 438.0 492.0 438.2 488.6 438.1 485.1 438.4 481.6 438.3 481.8 439.2 485.3 439.3 488.8 438.7 492.2 438.5 495.7 437.8 499.2 438.1 502.5 439.0 505.8 440.1 509.0 441.3 512.4 442.2 515.5 443.7 518.3 445.5 520.7 447.9 523.3 449.9 525.8 452.1 528.5 454.2 531.6 455.5 534.9 456.7 533.7 457.4 530.5 458.7 527.4 460.1 524.6 462.0 521.4 463.4 518.8 465.4 516.1 467.5 513.0 468.9 509.8 470.1 506.3 470.5 502.8 470.3 499.5 469.2 496.6 467.5 493.2 466.6 489.9 465.6 486.4 465.3 482.9 465.6 480.6 465.8 484.1 465.8 487.5 466.0" fill="none" stroke="#3b7bd8" stroke-width="0.55" stroke-opacity="0.78" stroke-linejoin="round"/>
<path d="M529.7 475.4C529.2 475.3 528.2 474.6 526.5 474.4C524.8 474.2 521.7 475.0 519.5 474.2C517.4 473.5 515.2 470.6 513.7 469.9C512.2 469.2 511.6 469.5 510.5 470.1C509.3 470.7 507.4 472.4 506.8 473.5C506.2 474.5 507.6 475.5 507.0 476.4C506.4 477.3 504.3 478.2 503.2 478.9C502.1 479.5 500.7 479.8 500.5 480.2C500.3 480.6 500.8 481.5 501.9 481.4C502.9 481.3 505.5 479.7 506.9 479.6C508.3 479.6 509.3 481.0 510.1 481.1C510.9 481.2 510.5 480.0 511.6 480.2C512.7 480.4 515.0 481.9 516.5 482.2C518.1 482.6 519.4 482.2 521.0 482.4C522.6 482.6 525.0 483.0 526.3 483.7C527.6 484.4 530.0 486.0 528.8 486.6C527.7 487.2 522.0 487.6 519.3 487.5C516.6 487.3 515.2 486.1 512.7 485.5C510.2 485.0 507.3 484.5 504.2 484.0C501.2 483.6 496.7 482.9 494.4 482.9C492.2 482.8 492.5 483.5 490.6 483.6C488.7 483.7 485.2 484.0 483.0 483.7C480.7 483.3 478.8 481.8 477.1 481.3C475.4 480.9 472.9 481.4 472.8 481.0C472.8 480.7 474.9 478.9 476.7 479.1C478.4 479.2 481.5 481.8 483.4 482.0C485.3 482.1 486.3 480.1 488.1 479.8C489.9 479.5 492.0 480.7 493.9 480.2C495.8 479.8 497.3 477.8 499.8 477.2C502.2 476.5 506.2 476.7 508.5 476.4C510.7 476.0 511.3 475.2 513.5 474.9C515.8 474.7 520.6 474.9 522.0 474.9" fill="none" stroke="#86c46e" stroke-width="0.55" stroke-opacity="0.78"/>
<path d="M454.0 440.9 457.4 440.5 460.7 439.9 464.2 439.5 467.2 438.7 470.4 437.9 473.0 436.8 475.5 435.5 477.3 434.1 479.9 432.9 482.0 431.5 483.7 429.9 484.7 430.7 485.3 432.5 486.9 434.0 488.7 435.5 490.0 437.1 490.5 438.9 491.9 440.5 492.4 442.2 492.3 444.0 492.1 445.7 492.5 444.6 493.4 442.9 494.0 441.1 495.6 439.6 496.8 437.9 497.2 436.2 496.6 434.5 497.2 432.8 497.6 431.0 497.5 429.7 497.4 431.5 498.3 433.2 499.7 434.8 499.3 436.4 497.9 438.0 497.4 439.8 497.1 441.5 497.2 443.3 496.2 445.0 494.5 445.5 493.2 443.9 491.4 442.4 490.1 440.8 489.1 439.1" fill="none" stroke="#e2707a" stroke-width="0.55" stroke-opacity="0.78" stroke-linejoin="round"/>
<path d="M519.4 491.2 516.0 491.4 512.5 491.3 509.0 491.2 505.6 490.8 502.1 490.8 498.7 490.6 495.2 490.4 491.9 490.0 488.5 489.5 485.4 488.9 482.1 488.5 479.0 487.8 475.8 487.3 472.6 486.7 469.1 486.5 465.6 486.4 462.2 486.0 459.0 485.5 455.9 484.9 452.8 484.2 449.8 483.5 446.6 482.9 443.8 482.1 440.9 482.7 438.5 483.7 436.0 484.7 432.9 485.4 430.0 486.2 426.8 486.7 423.3 486.9 420.0 487.3 422.4 487.7 425.6 488.3 428.7 488.9 431.7 489.6 435.1 490.1 438.5 490.3 442.0 490.3 445.4 489.8 448.8 489.6 452.3 489.6 455.6 490.1 459.0 490.4 462.5 490.6 466.0 490.5 469.4 490.6 472.9 490.9 476.4 490.9 479.9 490.7 483.2 490.4 486.6 489.9 490.0 489.7 493.5 489.7 497.0 489.8 500.3 490.2 503.7 490.7 506.6 491.4 509.4 492.3 512.0 493.2 514.6 494.1" fill="none" stroke="#3b7bd8" stroke-width="0.55" stroke-opacity="0.78" stroke-linejoin="round"/>
<path d="M507.2 480.4C507.3 480.0 507.7 478.6 507.7 477.8C507.6 477.1 507.3 477.0 507.0 476.1C506.7 475.3 505.8 473.4 505.8 472.7C505.8 471.9 507.0 472.1 506.9 471.7C506.7 471.4 505.4 471.5 505.0 470.6C504.6 469.7 504.6 467.4 504.5 466.4C504.5 465.4 505.1 465.4 504.6 464.6C504.2 463.7 501.6 462.7 501.9 461.3C502.1 460.0 504.7 458.1 506.2 456.6C507.7 455.1 509.9 453.6 511.0 452.6C512.1 451.6 511.9 451.4 512.9 450.5C513.9 449.6 516.0 447.7 517.2 447.2C518.4 446.8 519.7 448.2 520.1 448.0C520.5 447.7 519.2 446.7 519.7 445.9C520.3 445.2 522.6 444.1 523.4 443.6C524.2 443.2 526.6 442.5 524.7 443.2C522.8 443.9 515.8 446.0 512.1 447.8C508.3 449.7 505.6 452.3 502.0 454.4C498.4 456.5 493.8 458.4 490.2 460.3C486.7 462.2 484.4 463.8 480.6 465.7C476.9 467.6 471.9 469.9 467.9 471.5C463.9 473.2 460.7 474.0 456.6 475.5C452.4 477.0 447.1 478.6 443.0 480.3C438.9 482.1 431.8 485.5 432.0 485.8C432.3 486.2 440.5 484.0 444.5 482.5C448.4 481.0 451.7 478.6 455.8 476.8C460.0 475.0 464.9 473.0 469.4 471.7C473.9 470.4 478.5 469.5 482.9 469.0C487.3 468.6 491.7 469.3 495.5 469.3C499.3 469.3 502.1 469.0 505.9 469.1C509.6 469.2 514.1 470.1 517.8 470.0C521.6 469.9 526.5 468.7 528.2 468.5" fill="none" stroke="#5aae45" stroke-width="0.55" stroke-opacity="0.78"/>
<path d="M513.3 490.6C512.0 490.0 507.6 487.9 505.5 486.9C503.3 485.9 502.8 485.4 500.4 484.8C498.1 484.2 494.2 483.9 491.5 483.5C488.7 483.1 486.1 482.9 484.0 482.5C482.0 482.1 481.1 481.2 479.2 481.1C477.4 481.0 475.0 482.3 473.0 481.9C471.0 481.4 469.1 478.9 467.1 478.4C465.2 477.9 461.2 478.5 461.2 479.0C461.1 479.5 464.9 480.4 466.8 481.5C468.8 482.6 471.1 484.6 472.9 485.6C474.8 486.6 476.2 487.1 478.0 487.7C479.8 488.3 481.6 488.8 483.8 489.0C485.9 489.2 488.3 488.4 490.7 488.8C493.1 489.2 495.5 490.7 498.1 491.3C500.7 491.9 503.6 492.0 506.1 492.3C508.5 492.7 513.7 494.0 512.9 493.3C512.1 492.6 504.5 489.6 501.2 488.2C497.8 486.7 496.1 485.8 492.9 484.5C489.7 483.3 485.6 482.1 482.0 480.8C478.3 479.5 474.6 477.3 471.1 476.5C467.6 475.7 464.0 476.5 460.8 476.0C457.7 475.6 455.1 473.9 452.2 473.9C449.3 474.0 446.6 476.1 443.5 476.2C440.4 476.3 433.7 474.7 433.5 474.5C433.3 474.3 438.6 475.0 442.2 475.3C445.8 475.5 451.5 475.6 454.9 476.1C458.3 476.7 459.4 477.7 462.4 478.5C465.4 479.3 469.0 480.1 473.0 481.0C477.0 481.9 482.0 483.1 486.2 484.0C490.4 484.8 494.5 485.9 498.0 486.2C501.5 486.4 503.7 485.1 507.3 485.6C510.9 486.1 517.5 488.6 519.5 489.2" fill="none" stroke="#5aae45" stroke-width="0.55" stroke-opacity="0.78"/>
<path d="M506.4 493.1C504.4 492.8 497.8 492.1 494.3 491.1C490.8 490.0 488.7 488.0 485.2 486.8C481.8 485.6 477.1 485.0 473.6 483.7C470.1 482.3 468.1 480.5 464.4 478.8C460.7 477.0 455.3 474.5 451.2 473.2C447.1 471.8 444.0 471.7 439.8 470.8C435.6 469.9 430.2 469.2 426.2 467.8C422.2 466.3 415.2 462.9 415.8 462.0C416.4 461.1 424.8 462.4 430.0 462.4C435.1 462.4 442.1 462.4 446.8 462.2C451.5 461.9 453.8 461.6 458.4 461.1C463.0 460.5 469.2 458.7 474.3 458.9C479.4 459.2 484.7 461.4 489.0 462.6C493.3 463.7 496.3 464.2 500.2 465.5C504.1 466.9 508.0 469.7 512.4 470.9C516.7 472.1 525.5 472.3 526.4 472.9C527.2 473.4 520.2 473.5 517.5 474.2C514.8 474.9 512.8 476.5 510.0 477.1C507.2 477.7 503.6 477.2 500.4 477.8C497.3 478.3 493.4 479.3 491.1 480.2C488.7 481.0 488.3 482.1 486.4 482.9C484.5 483.7 481.6 484.3 479.8 485.0C477.9 485.7 476.6 486.9 475.2 487.3C473.7 487.7 471.6 487.7 471.0 487.5C470.5 487.3 471.2 487.3 471.8 486.1C472.5 484.8 474.5 481.5 475.2 480.1C475.9 478.8 475.6 478.9 476.1 478.1C476.6 477.3 476.9 475.6 478.1 475.1C479.3 474.7 481.8 475.0 483.3 475.4C484.7 475.9 485.0 477.4 487.0 478.0C489.0 478.5 493.2 478.3 495.3 478.6C497.3 479.0 498.6 479.9 499.2 480.1" fill="none" stroke="#86c46e" stroke-width="0.55" stroke-opacity="0.78"/>
<path d="M524.2 474.7C523.0 474.6 518.9 474.3 516.9 474.1C514.9 473.9 514.2 473.6 512.3 473.5C510.5 473.4 507.8 473.7 505.8 473.4C503.7 473.1 502.2 472.3 500.3 471.6C498.4 470.9 496.1 470.2 494.3 469.4C492.5 468.5 491.9 467.4 489.6 466.8C487.4 466.1 483.2 466.2 481.0 465.2C478.7 464.2 476.3 461.8 476.0 460.9C475.6 460.1 478.2 460.1 479.1 460.1C480.0 460.1 481.1 460.5 481.4 461.0C481.7 461.6 480.6 463.1 481.1 463.5C481.7 464.0 483.3 463.0 484.8 463.7C486.3 464.3 488.5 466.0 490.2 467.3C491.9 468.7 493.5 470.1 494.7 471.7C495.9 473.3 496.5 475.4 497.7 477.0C498.8 478.5 502.5 481.3 501.6 481.3C500.7 481.3 495.4 479.1 492.3 476.9C489.3 474.7 486.2 470.3 483.4 468.3C480.6 466.3 478.2 466.6 475.4 464.9C472.6 463.1 469.5 460.0 466.7 457.7C463.8 455.4 460.6 453.6 458.3 451.2C456.1 448.9 455.2 445.7 453.1 443.6C451.1 441.6 448.2 440.8 446.0 438.7C443.9 436.7 439.4 431.8 440.2 431.2C441.0 430.5 447.6 433.9 450.9 434.9C454.2 435.9 457.2 436.7 460.2 437.3C463.1 437.9 465.8 437.7 468.6 438.5C471.4 439.3 474.0 440.4 476.9 441.9C479.8 443.5 482.6 446.0 485.8 447.7C489.0 449.5 492.9 451.0 496.2 452.4C499.6 453.8 502.7 454.8 506.0 456.2C509.2 457.7 514.9 459.7 515.6 461.1C516.4 462.5 512.3 463.9 510.2 464.7C508.1 465.5 505.1 465.0 503.1 465.9C501.0 466.7 500.2 468.7 498.2 469.8C496.1 470.9 493.4 471.6 490.8 472.4C488.1 473.3 485.9 474.2 482.3 474.9C478.7 475.7 472.8 476.1 469.2 476.9C465.6 477.8 463.9 478.7 460.8 479.9C457.7 481.2 450.9 483.8 450.5 484.5C450.1 485.2 455.1 484.2 458.4 484.2C461.7 484.2 467.0 484.1 470.1 484.5C473.1 484.9 473.8 486.5 476.7 486.7C479.6 486.8 484.6 485.5 487.5 485.3C490.4 485.0 492.2 485.9 494.1 485.2C496.0 484.6 497.6 481.9 499.0 481.2C500.5 480.6 500.9 481.4 502.8 481.1C504.7 480.8 510.9 480.2 510.2 479.3C509.5 478.5 502.8 476.5 498.6 476.0C494.3 475.5 489.1 476.8 484.8 476.2C480.4 475.5 476.6 472.8 472.6 472.2C468.6 471.5 464.6 472.7 460.9 472.1C457.1 471.6 452.9 469.9 450.2 468.8C447.4 467.8 447.0 467.1 444.3 465.8C441.7 464.6 437.4 462.7 434.2 461.6C431.0 460.5 424.5 458.8 425.2 459.2C425.9 459.5 434.5 461.8 438.5 463.4C442.5 465.1 445.2 467.8 449.3 469.1C453.3 470.4 458.4 469.9 463.0 471.3C467.5 472.6 472.0 475.4 476.4 477.3C480.8 479.1 485.2 481.1 489.3 482.4C493.4 483.6 497.1 483.8 500.9 484.9C504.7 486.1 508.3 488.0 512.2 489.2C516.0 490.3 522.0 491.3 524.0 491.7" fill="none" stroke="#5aae45" stroke-width="0.55" stroke-opacity="0.78"/>
<path d="M526.7 476.8C526.4 475.2 526.3 470.0 525.3 467.2C524.4 464.4 522.3 462.5 521.0 459.9C519.7 457.4 518.8 454.6 517.7 451.6C516.6 448.7 515.4 444.4 514.2 442.5C513.0 440.5 511.6 440.7 510.7 440.0C509.8 439.3 509.5 439.0 509.0 438.3C508.4 437.7 508.0 437.1 507.5 436.1C507.0 435.1 506.4 432.1 506.2 432.2C505.9 432.4 506.4 435.9 506.0 437.1C505.7 438.2 504.7 438.0 504.0 439.3C503.4 440.6 502.6 443.1 502.4 444.6C502.2 446.1 502.5 445.7 502.9 448.1C503.3 450.5 504.4 455.1 504.6 459.1C504.9 463.0 504.1 468.1 504.4 471.9C504.6 475.7 505.7 478.3 506.0 481.9C506.4 485.5 507.4 492.2 506.5 493.5C505.6 494.7 502.9 490.0 500.6 489.4C498.4 488.8 494.8 490.4 492.8 490.0C490.8 489.5 490.6 487.6 488.5 486.4C486.5 485.3 483.9 484.1 480.8 483.0C477.7 481.9 473.4 480.3 469.9 479.9C466.3 479.5 462.9 481.2 459.6 480.7C456.3 480.3 453.0 477.9 449.9 477.1C446.8 476.2 440.6 476.1 440.9 475.7C441.2 475.2 448.9 474.7 451.7 474.5C454.6 474.2 454.9 474.7 458.1 474.2C461.2 473.7 467.1 472.2 470.5 471.6C473.9 471.0 475.2 470.0 478.5 470.8C481.8 471.6 486.2 474.7 490.3 476.4C494.5 478.1 499.1 479.8 503.4 481.0C507.8 482.2 512.0 482.2 516.4 483.4C520.7 484.6 527.7 488.5 529.4 488.2C531.0 488.0 527.2 483.9 526.3 482.1C525.5 480.3 525.4 478.8 524.4 477.3C523.4 475.8 521.4 474.3 520.5 472.9C519.6 471.5 520.0 470.2 518.9 468.9C517.9 467.5 515.7 466.2 514.2 464.9C512.7 463.5 511.6 461.9 510.0 460.8C508.5 459.6 506.6 458.7 504.9 457.8C503.1 457.0 500.1 456.3 499.6 455.6C499.0 454.8 500.7 453.7 501.7 453.6C502.7 453.5 504.3 454.9 505.6 455.1C507.0 455.3 508.2 454.9 509.7 454.8C511.2 454.7 513.1 453.5 514.7 454.4C516.3 455.4 517.6 458.6 519.3 460.6C521.0 462.5 523.4 464.0 524.8 466.1C526.1 468.2 526.2 470.7 527.4 473.2C528.6 475.7 531.4 479.7 532.2 481.0" fill="none" stroke="#3b7bd8" stroke-width="0.55" stroke-opacity="0.78"/>
<path d="M506.7 480.2C504.9 479.1 499.5 475.4 495.6 473.6C491.6 471.8 487.0 471.1 483.1 469.6C479.1 468.1 475.4 466.3 471.7 464.8C468.1 463.3 464.6 461.8 461.3 460.6C458.0 459.3 454.8 458.4 452.0 457.5C449.1 456.5 446.6 455.4 444.1 455.1C441.6 454.8 439.3 456.0 437.0 455.6C434.6 455.3 428.8 453.5 430.0 452.9C431.1 452.3 439.6 452.3 443.8 452.0C448.1 451.6 451.7 450.9 455.5 450.8C459.3 450.6 462.3 450.9 466.4 451.0C470.5 451.1 475.8 450.1 480.1 451.3C484.4 452.6 488.5 456.5 492.3 458.5C496.2 460.5 499.8 461.9 503.2 463.3C506.7 464.7 509.8 465.1 513.2 466.9C516.6 468.6 523.2 473.7 523.6 473.8C524.1 473.9 518.9 469.6 515.8 467.6C512.7 465.7 508.6 463.7 505.2 462.0C501.7 460.3 498.1 459.5 495.1 457.5C492.0 455.5 490.5 451.1 487.1 449.9C483.7 448.7 479.1 450.3 474.6 450.5C470.2 450.8 464.8 450.6 460.5 451.1C456.3 451.7 453.5 453.6 449.1 453.9C444.8 454.2 435.6 452.8 434.6 453.1C433.6 453.3 439.8 454.5 443.2 455.5C446.5 456.5 451.5 458.1 454.7 459.1C458.0 460.1 459.5 460.7 462.6 461.4C465.8 462.1 470.5 461.5 473.7 463.1C476.9 464.7 479.3 468.5 481.9 470.9C484.4 473.2 486.3 474.9 489.0 477.2C491.7 479.4 495.3 482.4 498.0 484.5C500.7 486.7 506.3 489.3 505.5 490.0C504.7 490.8 496.8 488.9 493.2 489.2C489.6 489.4 487.2 491.2 483.7 491.4C480.3 491.6 476.0 490.1 472.5 490.2C469.0 490.3 465.6 492.3 462.5 492.1C459.4 492.0 457.3 489.6 454.1 489.2C450.9 488.8 446.6 490.0 443.4 489.6C440.2 489.2 437.9 487.1 434.8 486.7C431.6 486.3 424.2 487.5 424.6 487.1C424.9 486.8 432.4 485.5 436.6 484.7C440.8 483.8 445.0 482.5 449.5 482.1C454.1 481.8 459.6 483.0 464.0 482.6C468.3 482.2 471.3 480.6 475.5 479.7C479.7 478.7 484.8 477.6 489.0 476.9C493.2 476.3 496.5 476.1 500.8 475.9C505.2 475.6 510.8 475.6 515.3 475.4C519.7 475.1 525.5 474.5 527.5 474.3" fill="none" stroke="#5aae45" stroke-width="0.55" stroke-opacity="0.78"/>
<path d="M518.3 477.2C517.4 476.7 515.0 475.2 513.1 474.4C511.1 473.6 508.8 472.6 506.5 472.4C504.1 472.2 501.4 473.2 498.8 473.0C496.3 472.7 493.7 471.2 491.2 470.9C488.7 470.6 486.4 470.9 484.0 471.1C481.6 471.4 479.2 471.8 476.7 472.4C474.2 472.9 471.1 474.0 468.8 474.3C466.5 474.6 463.6 474.1 463.0 474.1C462.4 474.1 464.2 473.9 465.1 474.4C466.1 474.8 468.2 476.5 468.9 476.8C469.6 477.1 468.8 476.1 469.6 476.2C470.3 476.2 471.6 476.3 473.5 477.1C475.3 478.0 479.1 480.0 480.7 481.2C482.4 482.4 482.0 483.1 483.4 484.2C484.8 485.3 487.1 486.6 489.3 487.7C491.5 488.8 496.0 491.5 496.5 490.8C497.0 490.1 493.3 486.6 492.2 483.5C491.1 480.4 490.3 475.5 489.8 472.0C489.4 468.6 489.9 465.8 489.3 462.9C488.8 460.0 487.9 456.6 486.6 454.5C485.3 452.4 482.6 451.2 481.4 450.3C480.3 449.4 480.8 449.5 479.7 449.2C478.7 448.9 476.3 449.4 475.0 448.5C473.8 447.7 471.7 444.3 472.3 444.3C473.0 444.3 477.2 447.6 478.8 448.5C480.3 449.4 480.1 448.6 481.8 449.6C483.4 450.6 486.9 453.2 488.6 454.6C490.4 456.1 490.6 456.0 492.3 458.2C494.0 460.4 496.4 465.0 498.9 467.7C501.4 470.4 505.2 471.6 507.3 474.5C509.4 477.5 509.4 482.4 511.3 485.4C513.2 488.4 519.9 492.4 518.7 492.7C517.4 493.0 508.0 489.2 503.9 487.2C499.7 485.2 497.6 483.2 493.5 480.6C489.4 478.0 483.9 474.0 479.3 471.6C474.8 469.3 470.1 467.2 466.2 466.6C462.2 466.1 459.0 468.0 455.4 468.3C451.8 468.7 447.9 468.2 444.6 468.6C441.3 469.1 438.9 470.4 435.5 471.0C432.0 471.6 424.4 471.9 423.7 472.4C423.1 472.8 429.3 474.1 431.6 473.6C433.8 473.2 434.9 470.3 437.4 469.9C439.9 469.5 444.0 471.0 446.6 471.2C449.1 471.3 450.1 470.2 452.7 470.9C455.3 471.6 458.2 473.5 462.2 475.4C466.2 477.2 472.6 480.2 476.7 482.1C480.7 483.9 483.1 485.3 486.6 486.7C490.1 488.0 497.2 490.4 497.5 490.0C497.9 489.7 491.1 486.3 488.9 484.4C486.6 482.6 486.0 480.6 483.9 479.0C481.7 477.5 478.4 476.5 476.0 475.1C473.6 473.8 471.0 471.7 469.5 470.8C468.0 469.9 468.3 470.7 466.9 469.9C465.5 469.2 462.5 467.1 461.1 466.3C459.6 465.5 459.4 465.5 458.3 465.1C457.1 464.8 454.3 464.2 454.1 464.2C453.9 464.1 455.3 463.9 456.8 464.9C458.3 465.8 461.4 468.6 463.1 469.7C464.7 470.7 465.3 470.3 466.7 471.0C468.1 471.8 469.4 472.8 471.7 474.0C473.9 475.2 477.8 476.6 480.4 478.1C483.1 479.5 485.5 481.6 487.5 482.5C489.4 483.3 490.2 482.1 492.3 483.0C494.3 483.9 498.6 487.0 499.8 487.8" fill="none" stroke="#3b7bd8" stroke-width="0.55" stroke-opacity="0.78"/>
<path d="M497.7 456.1 497.5 452.9 498.2 449.8 498.8 446.7 498.6 443.6 499.1 440.5 498.7 437.3 497.5 434.4 497.2 431.2 497.2 431.9 498.0 435.0 499.8 437.7 502.3 439.9 504.3 442.5 506.3 445.1 507.3 448.1 509.3 450.7 512.0 452.8 515.2 454.0 518.2 455.6 521.1 457.4 524.4 458.4 527.6 459.8 530.9 460.8 534.3 461.5 534.4 462.5 531.1 463.6 527.9 464.8 524.8 466.4 521.8 468.0 519.3 470.1 517.0 472.5 514.1 474.3 511.7 476.6 508.8 478.3 505.7 479.8 502.4 480.8 499.0 481.5 495.9 483.1 492.6 484.2 489.3 485.1 485.8 485.2 482.3 485.6 481.2 485.7 484.7 485.7 488.2 485.3" fill="none" stroke="#3b7bd8" stroke-width="0.55" stroke-opacity="0.78" stroke-linejoin="round"/>
<path d="M501.2 489.3C500.3 488.1 497.8 484.1 495.5 481.8C493.2 479.4 490.4 477.1 487.6 475.3C484.9 473.4 481.2 472.7 478.9 470.7C476.5 468.6 475.3 464.3 473.3 463.1C471.3 461.8 468.5 463.8 466.7 463.4C464.9 463.0 463.7 461.5 462.5 460.6C461.3 459.7 460.9 458.6 459.3 458.2C457.6 457.9 452.1 458.1 452.5 458.4C452.9 458.8 458.8 459.7 461.7 460.2C464.7 460.8 467.4 461.1 470.3 461.5C473.2 461.9 476.5 462.5 479.2 462.8C482.0 463.1 483.8 462.2 486.7 463.3C489.6 464.5 493.3 467.1 496.5 469.8C499.7 472.4 502.1 476.8 506.0 479.2C509.8 481.6 515.9 481.9 519.6 484.2C523.4 486.5 527.2 493.0 528.5 493.2C529.8 493.3 528.3 488.1 527.5 485.0C526.7 482.0 524.7 478.1 523.7 475.0C522.7 471.8 522.1 469.2 521.4 466.1C520.6 463.1 520.1 459.0 519.0 456.7C518.0 454.3 516.8 452.9 515.0 451.9C513.1 451.0 509.8 451.6 507.8 450.8C505.8 450.1 504.2 448.6 502.7 447.4C501.1 446.2 499.2 443.7 498.5 443.6C497.8 443.6 498.3 446.3 498.5 447.3C498.8 448.2 499.9 448.8 499.9 449.3C500.0 449.8 499.0 449.3 498.9 450.2C498.8 451.1 498.8 452.9 499.3 454.8C499.8 456.7 500.4 459.1 501.9 461.7C503.4 464.4 507.0 467.7 508.4 470.6C509.8 473.5 509.2 476.2 510.1 478.9C511.1 481.7 513.5 485.8 514.2 487.1" fill="none" stroke="#5aae45" stroke-width="0.55" stroke-opacity="0.78"/>
<path d="M529.4 477.6C528.1 477.2 523.9 476.1 521.4 475.0C518.8 473.9 516.0 472.5 514.0 471.1C512.1 469.7 511.8 467.8 509.6 466.6C507.4 465.4 503.5 464.2 500.8 464.0C498.2 463.8 496.2 465.3 493.7 465.5C491.2 465.7 487.7 465.2 485.7 465.3C483.7 465.4 483.6 465.7 481.6 466.0C479.5 466.2 474.0 466.7 473.3 466.8C472.6 467.0 476.5 466.7 477.6 466.9C478.8 467.0 479.4 467.5 480.3 467.8C481.3 468.1 482.4 468.3 483.4 468.7C484.4 469.0 485.1 469.3 486.4 470.0C487.7 470.7 489.8 471.4 491.2 472.9C492.6 474.4 493.5 477.2 494.9 478.9C496.3 480.6 497.6 481.7 499.4 483.0C501.1 484.3 505.5 486.2 505.2 486.6C505.0 487.0 500.6 485.3 497.7 485.6C494.8 486.0 490.8 488.0 487.8 488.7C484.9 489.3 482.9 489.7 480.0 489.7C477.2 489.6 473.7 488.6 470.6 488.4C467.6 488.2 464.3 488.7 461.8 488.5C459.3 488.3 458.1 488.2 455.6 487.3C453.2 486.4 449.5 483.7 447.0 483.1C444.5 482.5 439.4 484.1 440.5 483.6C441.6 483.0 449.6 480.8 453.6 479.9C457.6 479.0 460.8 478.6 464.6 478.2C468.4 477.8 472.1 477.9 476.4 477.4C480.7 476.9 486.6 474.9 490.5 475.1C494.4 475.3 496.6 478.0 499.8 478.8C503.1 479.7 507.0 479.6 509.8 480.3C512.6 481.0 514.2 482.1 516.8 482.8C519.4 483.6 525.8 485.3 525.5 484.8C525.3 484.3 519.2 481.8 515.2 479.9C511.3 478.0 506.3 475.0 502.0 473.3C497.6 471.5 493.2 471.3 489.1 469.5C485.0 467.7 480.8 464.6 477.4 462.5C473.9 460.4 471.8 459.2 468.6 457.0C465.4 454.8 461.6 451.8 458.1 449.1C454.5 446.4 450.4 443.2 447.1 440.9C443.8 438.5 438.5 435.0 438.3 434.9C438.1 434.9 443.0 438.3 446.0 440.6C449.0 442.8 452.7 445.9 456.1 448.5C459.5 451.1 463.2 453.5 466.4 456.2C469.5 458.8 472.3 462.2 475.0 464.7C477.7 467.1 480.1 468.8 482.5 470.9C485.0 472.9 487.3 474.7 489.7 476.9C492.2 479.2 494.9 482.0 497.2 484.4C499.6 486.8 502.7 490.2 503.7 491.4" fill="none" stroke="#5aae45" stroke-width="0.55" stroke-opacity="0.78"/>
<path d="M517.3 480.6C516.0 480.3 511.5 479.9 509.2 479.3C506.8 478.7 505.6 477.8 503.3 477.0C500.9 476.3 497.6 475.5 495.0 474.8C492.4 474.1 490.5 473.9 487.8 472.8C485.0 471.6 481.6 469.2 478.8 467.9C475.9 466.5 473.1 465.8 470.5 464.7C467.9 463.7 465.8 462.9 463.2 461.7C460.6 460.4 454.9 458.0 455.1 457.2C455.3 456.4 461.7 457.0 464.4 456.9C467.2 456.8 469.3 456.2 471.5 456.6C473.8 457.0 475.3 458.9 478.0 459.2C480.6 459.4 484.6 457.3 487.3 458.3C490.0 459.2 492.0 463.1 494.4 464.9C496.7 466.7 499.3 467.3 501.6 469.0C503.9 470.7 505.9 473.0 508.2 474.9C510.5 476.8 514.5 480.8 515.4 480.3C516.4 479.9 514.3 474.2 513.9 472.1C513.5 470.1 513.3 470.2 512.8 468.0C512.3 465.8 511.5 461.6 510.9 459.0C510.3 456.5 510.1 454.0 509.2 452.7C508.4 451.4 507.5 451.7 506.1 451.2C504.8 450.7 502.1 450.5 501.3 449.6C500.4 448.7 502.0 446.7 501.1 445.9C500.2 445.2 496.1 444.1 496.1 445.0C496.0 445.8 500.1 448.8 500.8 451.0C501.6 453.1 500.0 455.6 500.7 457.9C501.3 460.2 503.2 462.8 504.6 464.8C505.9 466.8 507.4 468.1 508.5 470.1C509.7 472.2 510.9 475.2 511.6 477.2C512.4 479.2 512.5 480.4 512.9 482.2C513.3 484.0 513.7 486.4 514.3 488.1C514.8 489.8 516.0 491.6 516.3 492.3" fill="none" stroke="#5aae45" stroke-width="0.55" stroke-opacity="0.78"/>
<path d="M516.1 477.2C515.0 476.4 511.2 473.2 509.4 472.4C507.6 471.7 507.3 473.2 505.3 472.5C503.3 471.7 499.3 469.2 497.2 468.0C495.2 466.7 494.0 465.6 493.0 465.0C491.9 464.5 491.4 465.3 490.8 464.8C490.1 464.2 490.0 462.5 489.3 461.9C488.5 461.4 487.0 461.6 486.0 461.4C485.1 461.2 483.2 460.3 483.4 460.6C483.5 460.8 486.0 462.3 486.9 462.8C487.8 463.3 487.6 463.6 488.7 463.6C489.8 463.6 492.2 462.7 493.4 462.9C494.5 463.1 494.6 463.9 495.5 464.7C496.3 465.5 497.8 466.5 498.7 467.6C499.6 468.7 499.9 470.6 500.9 471.5C502.0 472.5 503.8 472.2 504.9 473.3C506.0 474.4 507.8 478.1 507.5 478.0C507.2 477.9 505.3 474.4 503.2 472.7C501.1 471.0 497.3 468.9 495.0 467.6C492.7 466.3 491.2 466.4 489.5 465.0C487.8 463.6 486.5 459.8 485.0 459.1C483.5 458.5 482.2 460.8 480.6 461.2C479.0 461.7 477.3 461.1 475.3 461.6C473.4 462.1 471.2 463.7 469.2 464.5C467.1 465.3 462.9 465.6 463.0 466.2C463.2 466.8 467.4 467.9 470.0 468.1C472.6 468.3 475.9 467.6 478.5 467.5C481.1 467.4 483.0 467.1 485.6 467.3C488.2 467.5 491.6 468.7 493.9 468.7C496.3 468.7 497.5 467.5 499.8 467.4C502.1 467.3 505.5 467.6 507.8 468.1C510.1 468.6 511.9 469.9 513.7 470.3C515.5 470.6 517.9 469.6 518.7 470.0C519.5 470.3 518.9 471.7 518.5 472.2C518.0 472.8 516.7 473.0 516.0 473.3C515.4 473.6 514.7 474.2 514.3 474.3C514.0 474.4 514.4 473.4 514.0 473.8C513.7 474.3 513.3 476.2 512.2 477.1C511.2 478.0 509.1 477.9 507.7 479.2C506.3 480.5 504.8 483.5 503.6 484.8C502.4 486.0 500.3 486.5 500.5 486.7C500.6 486.9 503.2 486.5 504.5 485.9C505.7 485.2 506.9 483.8 508.0 482.8C509.1 481.9 510.5 481.1 511.2 480.2C512.0 479.3 512.1 477.7 512.5 477.3C512.8 476.9 513.3 477.1 513.3 477.6C513.4 478.1 513.4 479.3 512.7 480.2C512.1 481.1 509.8 482.4 509.5 482.9C509.2 483.5 512.0 483.9 510.8 483.5C509.7 483.1 505.4 482.0 502.5 480.5C499.7 479.0 496.3 475.8 493.7 474.4C491.1 473.1 489.2 473.4 486.8 472.5C484.3 471.6 481.1 469.1 479.3 468.9C477.4 468.7 477.3 471.2 475.5 471.4C473.6 471.7 470.4 470.5 468.4 470.3C466.4 470.1 465.0 469.9 463.4 470.2C461.7 470.5 458.1 471.2 458.7 472.0C459.3 472.9 464.4 474.4 467.0 475.3C469.6 476.2 471.1 476.7 474.2 477.3C477.3 477.9 482.5 478.1 485.7 479.0C488.9 480.0 490.8 481.9 493.2 482.8C495.6 483.7 498.4 484.3 500.2 484.5C501.9 484.6 502.2 483.3 503.6 483.5C505.1 483.7 507.1 485.2 509.1 485.7C511.0 486.2 514.1 486.4 515.1 486.5" fill="none" stroke="#86c46e" stroke-width="0.55" stroke-opacity="0.78"/>
<path d="M526.8 485.5C525.5 484.9 521.2 483.6 519.0 481.6C516.9 479.6 515.6 475.5 514.0 473.3C512.4 471.1 511.4 470.3 509.4 468.6C507.4 467.0 504.8 464.5 502.1 463.3C499.4 462.1 496.4 462.9 493.3 461.7C490.1 460.4 486.7 456.9 483.0 455.6C479.3 454.4 474.4 455.1 471.1 454.3C467.8 453.5 462.7 450.9 463.0 450.8C463.2 450.7 469.7 452.3 472.6 453.5C475.4 454.6 477.4 456.8 480.0 457.7C482.7 458.6 486.0 457.9 488.7 458.9C491.4 459.9 493.9 461.8 496.3 463.6C498.6 465.4 500.1 467.9 502.6 470.0C505.1 472.1 508.2 473.5 511.1 476.3C514.1 479.0 517.5 483.9 520.3 486.5C523.2 489.1 528.5 492.5 528.2 491.8C527.9 491.2 522.2 486.2 518.3 482.5C514.3 478.8 508.4 473.3 504.5 469.5C500.6 465.7 498.8 463.1 495.0 459.7C491.3 456.2 485.3 451.0 482.1 448.6C478.8 446.2 478.5 446.5 475.6 445.3C472.7 444.2 467.6 442.6 464.5 441.7C461.5 440.7 459.6 440.8 457.3 439.6C455.0 438.4 450.1 434.9 450.5 434.6C450.9 434.3 457.0 436.6 459.8 437.8C462.5 439.0 464.4 440.1 466.9 441.7C469.4 443.3 471.8 446.0 474.8 447.4C477.8 448.9 481.5 449.8 484.8 450.4C488.0 451.0 490.9 450.1 494.4 451.1C497.9 452.1 502.5 455.1 505.6 456.2C508.8 457.3 510.4 457.0 513.4 457.6C516.4 458.2 521.7 459.5 523.4 459.9" fill="none" stroke="#5aae45" stroke-width="0.55" stroke-opacity="0.78"/>
<path d="M503.4 485.4C501.3 484.6 494.5 481.6 490.3 480.4C486.1 479.1 482.4 478.7 478.2 478.0C474.1 477.3 469.5 477.2 465.3 476.1C461.1 475.1 456.2 472.1 452.9 471.7C449.5 471.3 448.2 473.3 445.3 473.7C442.3 474.1 438.5 473.3 435.3 474.0C432.0 474.7 428.7 477.0 425.7 477.8C422.6 478.5 415.7 479.0 416.8 478.5C417.9 478.0 427.3 475.9 432.2 474.5C437.1 473.1 442.0 471.7 446.4 470.1C450.7 468.6 453.7 467.0 458.4 465.2C463.0 463.3 469.0 460.1 474.3 459.1C479.7 458.1 485.4 459.9 490.4 459.4C495.4 458.9 499.6 456.4 504.4 456.0C509.1 455.5 514.2 456.8 518.8 456.7C523.4 456.6 530.8 455.9 531.9 455.4C533.1 454.9 528.1 454.3 525.7 453.8C523.3 453.2 520.3 453.0 517.7 452.2C515.1 451.3 512.5 449.5 510.0 448.8C507.6 448.2 506.3 448.5 503.1 448.4C499.9 448.2 494.7 448.7 490.8 448.0C486.8 447.3 483.0 445.1 479.5 444.1C475.9 443.0 473.0 442.4 469.6 441.7C466.2 440.9 459.3 439.9 459.0 439.6C458.8 439.4 465.4 439.5 468.3 440.0C471.3 440.5 474.0 442.6 476.6 442.8C479.3 443.1 482.1 441.3 484.5 441.5C486.9 441.7 489.1 442.9 491.1 444.0C493.1 445.2 494.4 447.2 496.3 448.5C498.2 449.8 500.0 451.0 502.4 452.1C504.8 453.2 508.4 453.9 510.8 455.2C513.1 456.6 517.3 459.4 516.6 460.4C515.8 461.4 509.4 461.8 506.2 461.4C503.1 461.0 500.7 458.3 497.8 458.1C494.9 457.9 491.8 460.1 488.7 460.1C485.6 460.2 482.4 458.6 479.2 458.4C475.9 458.2 472.4 458.7 469.3 459.1C466.2 459.5 463.8 460.8 460.4 461.0C456.9 461.2 452.1 460.1 448.5 460.2C444.9 460.2 438.6 460.6 438.6 461.2C438.5 461.8 444.5 462.9 448.1 463.9C451.8 464.9 457.0 466.5 460.5 467.4C464.0 468.4 465.6 468.6 469.1 469.6C472.6 470.6 476.9 472.6 481.4 473.4C485.9 474.2 491.8 473.3 496.0 474.4C500.2 475.4 502.6 478.7 506.7 479.7C510.8 480.7 516.3 479.5 520.8 480.1C525.2 480.7 531.9 483.7 533.4 483.4C534.9 483.1 530.4 479.7 529.7 478.4C529.0 477.0 530.1 476.2 529.2 475.2C528.2 474.1 525.3 473.4 524.1 471.9C522.9 470.4 522.9 467.4 522.0 466.2C521.0 464.9 520.2 465.7 518.5 464.4C516.8 463.1 513.5 460.1 511.9 458.5C510.3 456.9 510.2 455.9 508.9 455.0C507.6 454.0 504.4 453.2 504.0 452.8C503.5 452.4 505.5 452.9 506.2 452.7C506.8 452.6 507.1 452.6 507.7 451.9C508.4 451.2 509.2 449.1 510.0 448.6C510.8 448.0 511.3 447.4 512.6 448.6C513.9 449.8 516.2 453.4 517.5 455.8C518.9 458.1 518.9 461.1 520.7 462.9C522.5 464.8 526.5 465.2 528.4 467.0C530.3 468.8 531.3 472.6 531.9 473.7" fill="none" stroke="#3b7bd8" stroke-width="0.55" stroke-opacity="0.78"/>
<path d="M529.8 436.4 528.6 433.4 526.6 430.8 523.9 431.2 521.1 433.0 518.9 435.5 517.1 438.2 516.1 441.2 515.4 444.3 514.1 447.2 512.5 450.0 511.5 453.1 510.3 456.0 508.7 458.8 507.4 461.8 505.6 464.5 503.5 467.0 500.9 469.1 498.5 471.4 496.2 473.8 494.3 476.4 492.0 478.8 489.7 481.1 487.0 483.2 484.8 485.7 482.6 488.1 480.2 489.9 483.2 491.5 486.1 493.3 488.4 492.3 491.0 490.2 493.5 488.0 496.4 486.3 499.7 485.1 502.8 483.6 505.8 482.0 508.3 479.8 511.2 478.1 514.5 477.1 517.9 476.1 521.3 475.5 524.5 474.2 527.8 473.2 531.0 472.0 534.1 470.5 534.5 469.7" fill="none" stroke="#3b7bd8" stroke-width="0.55" stroke-opacity="0.78" stroke-linejoin="round"/>
<path d="M421.4 435.4C422.8 435.2 426.6 434.1 429.4 434.1C432.2 434.1 435.9 435.7 438.3 435.5C440.8 435.2 441.8 433.2 444.1 432.7C446.5 432.3 449.6 432.5 452.4 432.6C455.2 432.7 458.2 433.1 461.1 433.2C464.0 433.3 467.3 433.3 469.7 433.2C472.0 433.1 472.9 432.8 475.1 432.6C477.4 432.4 480.4 432.1 483.4 432.0C486.3 431.9 490.0 432.1 492.7 432.0C495.3 432.0 497.5 431.2 499.4 431.8C501.3 432.5 502.2 434.5 504.1 436.1C505.9 437.6 508.9 439.3 510.6 441.3C512.4 443.2 513.0 445.8 514.7 447.8C516.5 449.9 519.2 451.8 521.2 453.5C523.1 455.2 525.5 457.2 526.3 458.0" fill="none" stroke="#3b7bd8" stroke-width="0.55" stroke-opacity="0.78"/>
<path d="M520.3 477.3C518.2 477.1 511.7 476.5 507.8 475.9C504.0 475.3 500.8 474.6 496.9 473.5C493.0 472.4 488.1 470.1 484.2 469.3C480.4 468.4 477.8 468.6 473.8 468.5C469.9 468.4 464.9 468.5 460.6 468.6C456.2 468.6 452.2 469.0 447.7 468.9C443.2 468.8 438.2 468.4 433.6 468.2C429.0 467.9 420.5 467.0 420.1 467.3C419.7 467.5 426.9 469.1 431.0 469.7C435.1 470.4 440.9 470.9 444.8 471.2C448.7 471.5 450.7 471.2 454.4 471.6C458.2 472.0 462.7 472.5 467.5 473.5C472.3 474.5 478.7 476.5 483.2 477.8C487.8 479.1 490.5 480.3 494.7 481.3C499.0 482.3 503.8 483.1 508.8 483.8C513.7 484.5 522.2 485.3 524.3 485.5C526.5 485.7 522.7 485.2 521.8 485.2C521.0 485.1 520.0 485.8 519.3 485.3C518.6 484.8 518.6 482.6 517.8 482.3C517.0 481.9 515.7 483.8 514.5 483.3C513.3 482.8 512.5 479.9 510.6 479.4C508.8 478.8 505.5 480.4 503.4 480.1C501.2 479.7 499.5 478.4 497.6 477.4C495.6 476.4 492.7 474.2 491.8 473.9C490.8 473.6 491.7 474.6 492.0 475.5C492.4 476.4 493.8 478.4 494.0 479.1C494.2 479.7 493.2 479.0 493.3 479.5C493.4 479.9 493.9 481.2 494.4 481.7C495.0 482.2 495.1 481.4 496.5 482.4C497.8 483.4 501.4 487.1 502.6 487.9C503.9 488.7 502.8 486.7 503.8 487.2C504.9 487.7 507.9 492.0 508.8 490.7C509.7 489.4 509.5 482.4 509.1 479.4C508.7 476.4 506.8 475.8 506.3 472.8C505.8 469.9 506.4 465.1 505.9 461.7C505.4 458.3 504.2 454.8 503.1 452.3C502.0 449.7 500.8 448.1 499.5 446.4C498.2 444.7 495.9 443.8 495.1 442.1C494.3 440.5 495.2 438.1 494.4 436.5C493.6 435.0 489.9 433.1 490.4 433.0C491.0 432.8 495.5 435.2 497.6 435.8C499.7 436.4 501.5 436.2 502.9 436.6C504.2 436.9 504.1 437.6 505.7 437.7C507.2 437.9 510.9 436.0 512.4 437.5C513.9 439.0 513.6 443.8 514.7 446.8C515.7 449.8 517.5 452.6 518.6 455.5C519.8 458.3 520.7 461.1 521.5 463.8C522.2 466.5 524.2 471.0 523.3 471.8C522.3 472.7 519.0 469.5 515.9 468.8C512.8 468.0 507.9 467.4 504.8 467.3C501.7 467.2 499.7 468.5 497.2 468.1C494.6 467.8 491.3 465.4 489.4 465.2C487.5 464.9 487.2 465.5 485.8 466.6C484.5 467.7 483.1 470.6 481.3 471.9C479.5 473.1 476.9 473.1 475.2 474.1C473.4 475.1 470.8 477.5 470.7 478.0C470.6 478.5 473.4 477.9 474.4 477.1C475.4 476.4 475.6 474.4 476.8 473.6C478.0 472.7 480.4 472.5 481.4 472.0C482.5 471.5 481.8 469.9 482.9 470.5C484.0 471.2 486.4 474.4 487.9 476.1C489.5 477.7 490.4 478.6 492.2 480.6C493.9 482.5 496.6 485.7 498.2 487.7C499.8 489.7 501.2 491.9 501.9 492.7" fill="none" stroke="#3b7bd8" stroke-width="0.55" stroke-opacity="0.78"/>
<path d="M528.7 487.6C527.2 487.0 522.2 485.5 519.4 483.9C516.7 482.3 514.8 479.4 512.2 477.9C509.6 476.4 506.8 476.5 503.9 475.0C501.0 473.4 497.6 469.8 495.0 468.5C492.3 467.2 489.7 467.1 488.0 467.1C486.3 467.0 486.1 467.8 484.6 468.1C483.2 468.4 481.1 469.0 479.2 468.9C477.2 468.8 472.4 467.3 472.9 467.5C473.3 467.6 478.9 469.1 481.8 469.9C484.7 470.7 487.2 471.4 490.5 472.4C493.7 473.5 498.1 475.2 501.3 476.2C504.4 477.2 507.0 477.2 509.3 478.2C511.6 479.1 513.1 480.7 515.1 481.9C517.0 483.2 519.3 484.4 521.0 485.8C522.7 487.2 523.4 489.2 525.4 490.2C527.3 491.2 534.2 493.6 532.8 492.0C531.4 490.4 521.7 483.7 517.1 480.5C512.4 477.4 509.3 476.1 504.8 473.1C500.4 470.1 495.1 466.0 490.3 462.5C485.6 459.1 480.8 454.9 476.4 452.5C472.0 450.2 468.0 449.5 463.9 448.6C459.8 447.6 456.0 448.1 451.8 446.8C447.6 445.6 442.9 442.6 438.8 441.3C434.7 440.0 427.2 438.6 427.4 439.0C427.7 439.5 436.3 442.6 440.3 444.0C444.3 445.4 447.8 446.0 451.5 447.2C455.2 448.4 458.7 449.4 462.4 451.0C466.1 452.7 469.8 455.4 473.7 457.2C477.6 459.0 482.0 459.8 485.8 462.0C489.5 464.1 492.7 468.0 496.0 470.1C499.4 472.1 502.8 472.4 506.1 474.4C509.4 476.3 514.2 480.4 515.8 481.6" fill="none" stroke="#86c46e" stroke-width="0.55" stroke-opacity="0.78"/>
<path d="M503.1 492.4C500.8 491.5 493.7 488.4 489.0 486.6C484.3 484.9 478.9 483.5 474.8 481.9C470.7 480.4 468.5 478.8 464.2 477.2C459.9 475.6 453.3 474.0 448.9 472.6C444.6 471.1 441.7 469.7 438.2 468.7C434.6 467.6 430.5 467.4 427.6 466.3C424.6 465.2 423.7 462.9 420.7 462.0C417.6 461.1 409.3 460.6 409.5 460.7C409.6 460.9 418.0 462.2 421.8 462.8C425.5 463.5 428.7 464.3 432.1 464.8C435.6 465.2 438.9 465.0 442.4 465.6C445.9 466.2 449.3 467.6 453.2 468.2C457.0 468.8 461.2 469.1 465.5 469.4C469.7 469.6 473.8 470.1 478.7 469.8C483.5 469.5 490.0 467.9 494.6 467.8C499.2 467.6 506.3 469.1 506.2 468.8C506.0 468.4 498.0 466.3 493.8 465.7C489.7 465.1 485.2 465.8 481.2 465.2C477.3 464.7 473.9 463.4 470.1 462.3C466.4 461.3 462.2 458.7 458.7 458.9C455.2 459.1 451.4 462.2 448.9 463.7C446.5 465.2 446.3 466.8 444.2 468.0C442.1 469.2 439.2 469.3 436.3 470.7C433.4 472.0 426.1 475.3 426.5 476.0C427.0 476.8 435.1 475.8 439.1 475.2C443.0 474.7 446.3 473.9 450.0 472.8C453.7 471.8 457.2 469.9 461.1 469.0C465.0 468.2 469.2 467.5 473.4 467.9C477.6 468.2 482.1 470.0 486.0 471.2C489.9 472.4 492.7 473.8 496.8 475.1C500.9 476.4 506.3 477.5 510.5 479.0C514.8 480.4 520.5 482.8 522.5 483.6" fill="none" stroke="#3b7bd8" stroke-width="0.55" stroke-opacity="0.78"/>
<path d="M435.6 488.3 438.9 488.0 442.4 487.7 445.9 487.6 449.4 487.8 452.9 487.9 456.3 488.1 459.8 488.1 463.3 488.0 466.8 488.0 470.3 488.0 473.7 487.8 477.1 487.3 480.6 487.3 484.0 487.1 487.5 486.8 490.9 486.6 494.1 486.0 497.3 485.5 500.7 485.1 504.2 485.1 507.7 485.2 511.1 484.8 514.3 484.3 517.2 483.5 520.0 482.7 523.3 482.2 526.6 482.3 529.4 483.1 532.2 484.0 535.2 484.7 533.5 485.1 530.2 485.6 527.0 486.2 523.7 486.7 520.6 487.3 517.9 488.2 514.6 488.7 511.2 488.9 507.9 489.4 504.4 489.6 501.0 489.5 497.5 489.2 494.1 489.0 490.6 488.7 487.2 488.8 483.7 488.9 480.2 489.1 476.8 489.4 473.5 489.8 470.0 490.1 466.5 490.2 463.1 490.4 459.6 490.4 456.1 490.2 452.7 489.8 449.3 489.7 445.8 489.4 442.7 488.8 439.3 488.3 436.1 487.8" fill="none" stroke="#3b7bd8" stroke-width="0.55" stroke-opacity="0.78" stroke-linejoin="round"/>
<path d="M504.3 475.1C503.5 474.3 501.1 471.4 499.8 470.3C498.5 469.2 497.5 469.3 496.5 468.4C495.4 467.5 494.8 466.3 493.6 465.0C492.4 463.8 491.0 460.9 489.3 460.7C487.6 460.4 485.9 463.3 483.6 463.8C481.3 464.3 478.0 463.0 475.5 463.5C472.9 464.1 471.0 466.1 468.5 467.2C466.1 468.2 461.2 469.2 460.7 469.8C460.1 470.4 463.4 470.5 465.0 470.7C466.6 470.8 468.1 470.7 470.2 470.6C472.4 470.5 475.6 470.2 477.7 470.1C479.8 469.9 481.3 469.1 482.8 469.6C484.4 470.1 486.4 471.1 487.2 472.8C488.0 474.5 487.1 477.7 487.7 479.6C488.2 481.4 489.3 482.7 490.6 483.9C491.8 485.0 495.2 486.4 495.4 486.3C495.6 486.1 492.7 484.7 491.7 482.9C490.8 481.1 490.3 477.3 489.6 475.5C488.9 473.7 488.7 473.5 487.7 472.0C486.7 470.5 484.4 468.1 483.5 466.5C482.7 464.9 482.7 463.4 482.8 462.4C483.0 461.3 484.2 460.7 484.3 460.3C484.4 460.0 483.7 460.9 483.7 460.3C483.7 459.7 484.1 457.3 484.5 456.6C485.0 456.0 485.1 456.4 486.5 456.4C487.8 456.3 491.3 456.3 492.7 456.4C494.2 456.6 494.3 457.3 495.1 457.2C495.9 457.1 495.9 455.5 497.7 455.8C499.5 456.2 503.9 458.1 506.1 459.5C508.4 460.9 509.3 463.3 511.3 464.3C513.3 465.2 515.8 464.1 518.2 465.0C520.6 465.8 524.6 468.8 525.9 469.6" fill="none" stroke="#3b7bd8" stroke-width="0.55" stroke-opacity="0.78"/>
<path d="M500.7 481.8C500.8 481.7 501.0 482.4 501.0 481.6C500.9 480.7 500.2 477.5 500.3 476.7C500.4 475.9 501.2 477.1 501.4 476.8C501.6 476.4 501.9 474.4 501.5 474.5C501.0 474.7 499.2 476.3 498.7 477.8C498.2 479.2 498.3 481.7 498.5 483.4C498.6 485.1 499.5 486.7 499.3 488.0C499.1 489.4 497.2 491.8 497.1 491.5C497.0 491.2 497.8 487.7 498.7 486.2C499.6 484.6 501.6 483.4 502.6 482.2C503.7 481.0 504.0 480.0 504.9 479.0C505.7 478.0 506.9 476.8 507.8 476.4C508.8 475.9 509.7 475.5 510.5 476.3C511.4 477.1 512.0 480.3 513.2 481.2C514.3 482.1 516.5 481.3 517.4 481.5C518.4 481.7 519.7 482.1 519.0 482.5C518.3 482.9 515.1 483.6 513.2 483.8C511.3 483.9 509.5 483.6 507.7 483.3C506.0 483.1 504.4 482.3 502.7 482.2C501.0 482.1 498.7 482.6 497.6 483.0C496.4 483.4 496.7 484.0 495.9 484.3C495.0 484.6 492.8 484.6 492.4 484.9C492.0 485.2 493.7 485.3 493.3 486.0C492.8 486.8 490.4 489.8 489.7 489.4C488.9 488.9 488.4 485.5 488.7 483.5C488.9 481.6 490.8 478.9 491.3 477.6C491.7 476.3 491.3 477.0 491.5 475.5C491.7 474.1 492.0 469.3 492.6 468.8C493.2 468.3 494.5 471.7 495.1 472.5C495.7 473.3 495.8 473.1 496.0 473.5C496.1 474.0 495.9 474.1 496.1 475.1C496.2 476.0 497.6 479.1 497.1 479.1C496.5 479.1 494.0 476.3 492.8 475.1C491.6 473.8 491.0 473.2 489.9 471.4C488.7 469.7 487.0 466.3 485.9 464.5C484.7 462.7 483.6 461.0 482.8 460.6C482.1 460.2 481.5 461.5 481.3 462.0C481.0 462.5 481.7 463.1 481.4 463.5C481.2 463.8 480.3 463.3 479.8 463.9C479.4 464.6 478.5 467.1 478.7 467.2C478.9 467.3 479.9 465.0 481.0 464.4C482.1 463.8 484.3 464.5 485.2 463.8C486.0 463.2 485.6 461.3 486.2 460.4C486.7 459.6 487.2 458.6 488.3 458.9C489.4 459.2 491.1 461.1 492.8 462.4C494.5 463.8 496.8 465.6 498.4 467.1C500.0 468.5 501.4 469.9 502.5 471.2C503.6 472.5 505.1 475.2 505.2 474.6C505.3 474.1 504.1 470.3 503.1 467.9C502.1 465.5 499.8 462.9 498.9 460.0C498.1 457.2 498.5 453.4 497.8 450.8C497.1 448.2 495.6 446.1 494.8 444.6C494.0 443.1 493.1 442.6 492.9 441.9C492.8 441.3 494.2 441.4 493.7 440.7C493.1 440.0 490.5 438.7 489.8 437.8C489.0 437.0 488.9 435.3 489.2 435.4C489.5 435.5 490.5 436.8 491.5 438.2C492.5 439.7 493.8 442.6 495.1 444.2C496.4 445.8 498.0 446.6 499.3 448.0C500.6 449.3 501.9 450.2 502.8 452.4C503.7 454.6 503.8 458.4 504.9 461.0C506.0 463.5 507.8 465.6 509.6 467.7C511.3 469.8 514.1 471.4 515.5 473.7C516.9 476.0 517.5 480.2 517.9 481.5" fill="none" stroke="#86c46e" stroke-width="0.55" stroke-opacity="0.78"/>
<path d="M508.7 485.4C507.0 483.8 502.2 479.0 498.4 476.1C494.6 473.2 489.4 471.1 486.0 468.1C482.6 465.1 481.0 461.0 477.8 458.1C474.5 455.2 469.8 452.9 466.4 450.8C463.1 448.7 460.5 446.6 457.9 445.6C455.3 444.5 453.7 445.5 450.7 444.4C447.6 443.4 442.5 440.8 439.5 439.2C436.5 437.7 432.5 435.9 432.6 435.3C432.7 434.7 437.3 435.3 440.2 435.7C443.0 436.0 447.3 436.7 449.8 437.3C452.3 437.9 452.6 439.0 455.0 439.3C457.4 439.6 461.3 438.1 464.2 439.3C467.0 440.5 469.6 443.7 472.2 446.5C474.8 449.3 477.1 452.9 479.8 456.1C482.4 459.3 485.1 463.0 488.1 465.6C491.2 468.3 496.6 472.1 498.2 472.1C499.8 472.1 497.9 467.8 497.7 465.7C497.6 463.6 498.1 461.6 497.4 459.5C496.7 457.4 494.1 455.3 493.5 453.0C493.0 450.7 494.8 447.0 494.2 445.8C493.6 444.5 491.1 446.5 490.0 445.6C489.0 444.8 488.8 441.7 487.9 440.7C487.0 439.6 486.1 439.6 484.8 439.4C483.5 439.1 480.2 438.6 480.2 439.0C480.2 439.4 483.7 440.6 484.8 441.7C486.0 442.7 485.7 443.9 487.0 445.2C488.2 446.5 491.0 448.2 492.3 449.5C493.7 450.9 494.5 451.2 495.1 453.1C495.8 455.1 495.9 458.5 496.3 461.1C496.7 463.8 497.5 466.1 497.7 469.1C497.8 472.1 497.1 476.5 497.3 479.3C497.4 482.2 498.3 485.2 498.6 486.3" fill="none" stroke="#3b7bd8" stroke-width="0.55" stroke-opacity="0.78"/>
<path d="M508.3 484.6C507.3 484.2 504.6 482.3 502.6 481.9C500.6 481.4 498.4 482.0 496.4 481.8C494.3 481.5 492.4 480.6 490.3 480.4C488.1 480.3 485.2 480.7 483.5 480.7C481.8 480.6 481.6 480.4 479.9 480.2C478.3 479.9 475.3 479.8 473.6 479.2C471.9 478.6 471.4 477.1 469.6 476.7C467.8 476.2 462.6 477.8 462.7 476.7C462.9 475.7 467.7 472.4 470.4 470.3C473.0 468.2 475.6 465.5 478.5 464.0C481.4 462.5 484.7 462.9 487.5 461.2C490.3 459.5 493.3 455.7 495.3 453.9C497.3 452.2 498.0 451.7 499.8 450.8C501.5 450.0 503.7 449.5 505.9 448.9C508.0 448.2 510.6 447.3 512.7 446.8C514.7 446.3 518.9 446.1 518.4 445.8C517.8 445.5 512.4 445.3 509.6 444.8C506.8 444.4 504.2 443.7 501.4 443.0C498.6 442.4 495.6 441.7 493.0 441.0C490.4 440.3 487.9 438.6 485.9 438.9C483.8 439.1 482.6 441.2 480.7 442.7C478.9 444.3 476.7 446.6 474.6 447.9C472.5 449.2 470.5 449.4 468.3 450.6C466.2 451.9 462.0 454.2 461.8 455.3C461.6 456.5 465.6 456.7 467.1 457.4C468.6 458.0 468.8 458.2 470.7 459.1C472.6 460.0 476.5 461.6 478.5 462.8C480.5 463.9 481.1 464.7 482.8 466.1C484.5 467.5 487.0 469.1 488.9 471.2C490.8 473.2 491.8 476.2 494.3 478.4C496.8 480.6 501.4 482.7 503.9 484.5C506.4 486.2 510.3 489.1 509.2 488.8C508.0 488.4 501.3 484.2 497.0 482.5C492.8 480.9 487.7 480.5 483.6 478.9C479.6 477.3 476.6 474.6 472.8 472.9C469.0 471.2 465.1 469.4 461.0 468.8C457.0 468.2 452.2 469.2 448.5 469.3C444.8 469.3 442.0 468.9 438.9 468.9C435.7 468.9 433.2 469.1 429.7 469.3C426.1 469.5 418.0 469.5 417.7 470.2C417.4 470.9 423.9 473.1 428.1 473.6C432.2 474.1 438.3 472.8 442.6 473.2C446.9 473.7 450.2 475.2 453.8 476.2C457.5 477.1 460.8 478.3 464.7 478.8C468.5 479.4 473.5 479.2 476.9 479.7C480.3 480.2 481.9 481.5 485.1 481.7C488.4 481.9 492.8 480.6 496.4 481.0C500.1 481.3 507.4 483.4 507.0 483.9C506.5 484.3 497.9 484.1 494.0 483.5C490.0 482.9 487.3 481.2 483.1 480.1C478.9 479.1 473.1 478.0 468.8 477.2C464.4 476.4 460.3 475.6 457.0 475.2C453.6 474.8 451.5 474.3 448.4 474.8C445.3 475.4 441.9 478.0 438.4 478.6C435.0 479.2 430.8 478.4 427.5 478.3C424.2 478.3 418.3 478.6 418.7 478.4C419.1 478.3 426.4 478.1 430.0 477.3C433.6 476.6 436.5 474.8 440.3 473.9C444.0 472.9 448.8 472.6 452.6 471.8C456.4 470.9 458.6 469.7 462.9 468.9C467.3 468.2 474.0 467.4 478.5 467.3C483.0 467.1 485.8 468.4 490.1 468.2C494.4 468.1 499.3 466.7 504.3 466.4C509.3 466.0 517.6 466.1 520.3 466.1" fill="none" stroke="#3b7bd8" stroke-width="0.55" stroke-opacity="0.78"/>
<line x1="404.7" y1="459" x2="537.8" y2="459" stroke="#b4c4d0" stroke-width="0.6"/>
<path d="M368.8,400.7 H537.8 V495.6 H411.0" fill="none" stroke="#8c9296" stroke-width="1.3"/>
<line x1="380.2" y1="426.3" x2="537.8" y2="426.3" stroke="#8c9296" stroke-width="1"/>
<line x1="368.8" y1="400.7" x2="411.0" y2="495.6" stroke="#3a3a3a" stroke-width="1.1"/>
<text x="100.9" y="418" font-size="13.6" font-weight="bold" fill="#111" text-anchor="middle" textLength="83.4" lengthAdjust="spacingAndGlyphs" font-family="'Liberation Sans', Arial, sans-serif">AB Zebrafish</text>
<text x="278.5" y="417.7" font-size="13.6" font-weight="bold" fill="#7030a0" text-anchor="middle" textLength="89" lengthAdjust="spacingAndGlyphs" font-family="'Liberation Sans', Arial, sans-serif">PET Zebrafish</text>
<text x="459.5" y="417.6" font-size="13.6" font-weight="bold" fill="#ed7d31" text-anchor="middle" textLength="92.7" lengthAdjust="spacingAndGlyphs" font-family="'Liberation Sans', Arial, sans-serif">WIK Zebrafish</text>
<text x="11.8" y="396.8" font-size="10.8" font-weight="bold" fill="#000" stroke="#000" stroke-width="0.3" textLength="12.8" lengthAdjust="spacingAndGlyphs" font-family="'Liberation Sans', Arial, sans-serif">(E)</text>
<text x="191" y="396.8" font-size="10.8" font-weight="bold" fill="#000" stroke="#000" stroke-width="0.3" textLength="12.8" lengthAdjust="spacingAndGlyphs" font-family="'Liberation Sans', Arial, sans-serif">(F)</text>
<text x="369.4" y="396.8" font-size="10.8" font-weight="bold" fill="#000" stroke="#000" stroke-width="0.3" textLength="12.8" lengthAdjust="spacingAndGlyphs" font-family="'Liberation Sans', Arial, sans-serif">(G)</text>
</svg>
</body></html>
